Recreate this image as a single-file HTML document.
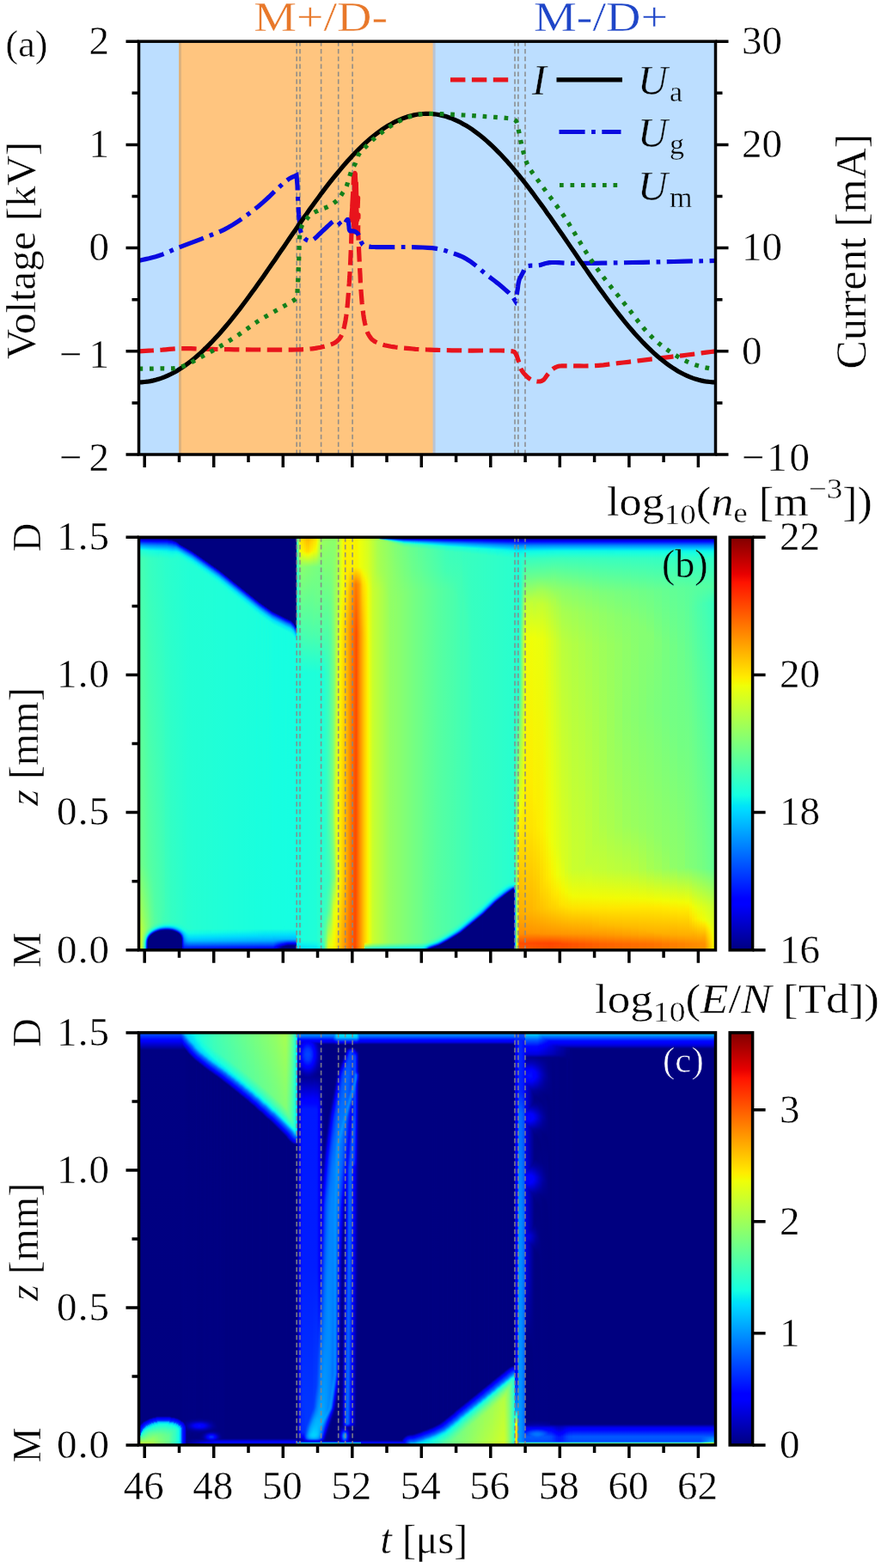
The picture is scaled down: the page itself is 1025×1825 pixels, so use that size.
<!DOCTYPE html><html><head><meta charset="utf-8"><style>html,body{margin:0;padding:0;background:#fff}#f{position:relative;width:1025px;height:1825px;overflow:hidden;background:#fff}.h{position:absolute}</style></head><body><div id="f"><div class="h" style="left:162px;top:625px;width:670px;height:481px;background:linear-gradient(#000080,#000080 2px,#0000c9 3px,#0000f4 4px,#000dff 5px,#004eff 7px,#00a4ff 10px,#00defd 13px,#19ffde 15px,#26ffd0 16px,#47ffb0 25px,#71ff86 379px,#aaff4d 439px,#d9ff1e 470px,#e8ff0f 480px) 0px 0/1px 100%,linear-gradient(#000080,#000080 2px,#0000c8 3px,#0000f3 4px,#000cff 5px,#004cff 7px,#00a2ff 10px,#00ddfe 13px,#18ffdf 15px,#25ffd2 16px,#45ffb2 25px,#6fff88 380px,#a4ff53 439px,#caff2d 465px,#d8ff1f 480px) 1px 0/1px 100%,linear-gradient(#000080,#000080 2px,#0000c7 3px,#0000f2 4px,#000bff 5px,#004bff 7px,#00a1ff 10px,#00dbff 13px,#07eef0 14px,#17ffe0 15px,#24ffd3 16px,#44ffb3 25px,#6cff8b 380px,#a0ff56 440px,#beff38 463px,#bdff39 476px,#c3ff34 480px) 2px 0/1px 100%,linear-gradient(#000080,#000080 2px,#0000c7 3px,#0000f1 4px,#000aff 5px,#004aff 7px,#00a0ff 10px,#00daff 13px,#06edf1 14px,#15ffe2 15px,#23ffd4 16px,#43ffb4 25px,#6aff8d 380px,#9bff5c 440px,#b4ff43 461px,#a2ff55 474px,#a8ff4f 480px) 3px 0/1px 100%,linear-gradient(#000080,#000080 2px,#0000c6 3px,#0000f0 4px,#0009ff 5px,#0049ff 7px,#009eff 10px,#00d8ff 13px,#05ebf2 14px,#14fee3 15px,#21ffd5 16px,#41ffb6 25px,#68ff8f 381px,#96ff60 441px,#abff4c 459px,#98ff5f 466px,#83ff74 473px,#86ff71 480px) 4px 0/1px 100%,linear-gradient(#000080,#000080 2px,#0000c5 3px,#0000ef 4px,#0008ff 5px,#0048ff 7px,#009dff 10px,#00d7ff 13px,#03eaf3 14px,#13fde4 15px,#20ffd7 16px,#40ffb7 25px,#65ff92 381px,#91ff66 441px,#a2ff55 458px,#92ff65 463px,#61ff96 471px,#5aff9c 478px,#5cff9b 480px) 5px 0/1px 100%,linear-gradient(#000080,#000080 2px,#0000c4 3px,#00e 4px,#0007ff 5px,#0047ff 7px,#009cff 10px,#00d5ff 13px,#02e8f5 14px,#11fbe5 15px,#1fffd8 16px,#3fffb8 25px,#63ff94 382px,#8bff6c 441px,#99ff5d 457px,#8bff6c 461px,#2fffc8 471px,#1fffd7 477px,#20ffd7 480px) 6px 0/1px 100%,linear-gradient(#000080,#000080 2px,#0000c3 3px,#0000ed 4px,#0006ff 5px,#0046ff 7px,#009aff 10px,#00d4ff 13px,#01e7f6 14px,#10f9e7 15px,#1effd9 16px,#3dffba 25px,#61ff96 383px,#87ff70 442px,#91ff65 456px,#7fff78 460px,#51ffa6 464px,#10fae6 468px,#01e6f6 469px,#00d6ff 470px,#00b8ff 473px,#00a9ff 479px,#00a8ff 480px) 7px 0/1px 100%,linear-gradient(#000080,#000080 2px,#0000c3 3px,#0000ec 4px,#0005ff 5px,#0045ff 7px,#09f 10px,#00d2ff 13px,#00e5f7 14px,#0ff8e8 15px,#1cffda 16px,#3cffbb 25px,#5eff98 383px,#82ff74 443px,#8aff6d 455px,#7eff79 458px,#5fff98 461px,#2bffcb 464px,#15ffe2 465px,#00e0fb 466px,#007bff 469px,#0050ff 471px,#0039ff 474px,#002eff 480px) 8px 0/1px 100%,linear-gradient(#000080,#000080 2px,#0000c2 3px,#0000eb 4px,#0004ff 5px,#04f 7px,#0097ff 10px,#00d1ff 13px,#00e4f8 14px,#0df6e9 15px,#1bffdc 16px,#3bffbc 25px,#5cff9a 384px,#7eff78 444px,#82ff75 455px,#6fff88 458px,#45ffb2 461px,#19ffde 463px,#00e1fb 464px,#0081ff 466px,#001cff 468px,#00f 469px,#0000d0 471px,#0000c0 473px,#0000b6 480px) 9px 0/1px 100%,linear-gradient(#000080,#000080 2px,#0000c1 3px,#0000ea 4px,#0003ff 5px,#0043ff 7px,#0096ff 10px,#00d0ff 13px,#00e2fa 14px,#0cf5eb 15px,#1affdd 16px,#39ffbe 25px,#5aff9d 385px,#7bff7c 446px,#7bff7b 454px,#6bff8c 457px,#3dffb9 460px,#27ffcf 461px,#0cf5eb 462px,#00c9ff 463px,#0091ff 464px,#0009ff 466px,#0000d6 467px,#0000a2 468px,#000080 469px,#000080 480px) 10px 0/1px 100%,linear-gradient(#000080,#000080 2px,#0000c0 3px,#0000ea 4px,#0002ff 5px,#0042ff 7px,#0095ff 10px,#00e1fb 14px,#19ffde 16px,#38ffbf 25px,#58ff9f 386px,#76ff81 453px,#68ff8f 456px,#3affbd 459px,#23ffd4 460px,#05ecf1 461px,#00bcff 462px,#007aff 463px,#002bff 464px,#0000e6 465px,#00009c 466px,#000080 467px,#000080 480px) 11px 0/1px 100%,linear-gradient(#000080,#000080 2px,#0000bf 3px,#0000e9 4px,#0001ff 5px,#0025ff 6px,#0093ff 10px,#00dffc 14px,#18ffdf 16px,#37ffc0 25px,#56ffa1 387px,#70ff86 452px,#64ff93 455px,#4cffab 457px,#22ffd5 459px,#04ebf2 460px,#00b9ff 461px,#0073ff 462px,#001bff 463px,#0000cb 464px,#000080 465px,#000080 480px) 12px 0/1px 100%,linear-gradient(#000080,#000080 2px,#0000bf 3px,#0000e8 4px,#0001ff 5px,#0024ff 6px,#0092ff 10px,#00defd 14px,#17ffe0 16px,#36ffc1 25px,#54ffa3 388px,#6bff8c 451px,#60ff96 454px,#4dffaa 456px,#24ffd2 458px,#08efef 459px,#00bfff 460px,#007aff 461px,#001eff 462px,#0000c6 463px,#000080 464px,#000080 480px) 13px 0/1px 100%,linear-gradient(#000080,#000080 2px,#0000be 3px,#0000e7 4px,#00f 5px,#0024ff 6px,#0092ff 10px,#00ddfe 14px,#16ffe1 16px,#35ffc2 25px,#53ffa4 391px,#65ff92 451px,#57ff9f 454px,#3fffb8 456px,#0ff9e7 458px,#00cdff 459px,#008cff 460px,#0032ff 461px,#0000d5 462px,#000080 463px,#000080 480px) 14px 0/1px 100%,linear-gradient(#000080,#000080 2px,#0000be 3px,#0000e7 4px,#00f 5px,#003eff 7px,#0091ff 10px,#00dcfe 14px,#15ffe1 16px,#34ffc2 25px,#52ffa5 395px,#62ff95 450px,#57ffa0 453px,#42ffb4 455px,#1affdd 457px,#00defd 458px,#00a5ff 459px,#0052ff 460px,#0000f6 461px,#00008a 462px,#000080 463px,#000080 480px) 15px 0/1px 100%,linear-gradient(#000080,#000080 2px,#0000bd 3px,#0000e6 4px,#00f 5px,#003eff 7px,#0090ff 10px,#00dcff 14px,#15ffe2 16px,#34ffc3 25px,#51ffa6 402px,#5dff9a 450px,#50ffa7 453px,#37ffc0 455px,#24ffd3 456px,#08efef 457px,#00bfff 458px,#07f 459px,#0013ff 460px,#0000ad 461px,#000080 462px,#000080 480px) 16px 0/1px 100%,linear-gradient(#000080,#000080 2px,#0000bc 3px,#0000e5 4px,#00f 5px,#003dff 7px,#008fff 10px,#00dbff 14px,#06edf1 15px,#14ffe2 16px,#33ffc4 25px,#51ffa6 416px,#58ff9e 450px,#48ffaf 453px,#2bffcb 455px,#15ffe2 456px,#00d8ff 457px,#009cff 458px,#04f 459px,#0000e1 460px,#000080 461px,#000080 480px) 17px 0/1px 100%,linear-gradient(#000080,#000080 2px,#0000bc 3px,#0000e5 4px,#00f 5px,#003dff 7px,#008fff 10px,#00daff 14px,#05ecf1 15px,#14fee3 16px,#33ffc4 25px,#51ffa6 429px,#54ffa3 450px,#41ffb6 453px,#20ffd7 455px,#06edf0 456px,#00beff 457px,#0075ff 458px,#000eff 459px,#0000a5 460px,#000080 461px,#000080 480px) 18px 0/1px 100%,linear-gradient(#000080,#000080 2px,#00b 3px,#0000e4 4px,#00f 5px,#0057ff 8px,#008eff 10px,#00d9ff 14px,#05ebf2 15px,#13fde4 16px,#32ffc5 25px,#4fffa7 429px,#54ffa3 449px,#45ffb2 452px,#2affcc 454px,#15ffe2 455px,#00dbff 456px,#00a2ff 457px,#004aff 458px,#0000e5 459px,#000080 460px,#000080 480px) 19px 0/1px 100%,linear-gradient(#000080,#000080 2px,#00b 3px,#0000e4 4px,#00f 5px,#008dff 10px,#00d8ff 14px,#04ebf3 15px,#13fde4 16px,#31ffc5 25px,#4effa9 430px,#51ffa6 449px,#40ffb7 452px,#22ffd5 454px,#0af1ed 455px,#00c7ff 456px,#0083ff 457px,#001eff 458px,#0000b2 459px,#000080 460px,#000080 480px) 20px 0/1px 100%,linear-gradient(#000080,#000080 2px,#0000ba 3px,#0000e3 4px,#00f 5px,#008cff 10px,#00d8ff 14px,#03eaf3 15px,#12fce5 16px,#31ffc6 25px,#4dffaa 430px,#4effa9 449px,#3affbc 452px,#19ffde 454px,#00e3f8 455px,#00b3ff 456px,#0063ff 457px,#00f 458px,#008 459px,#000080 460px,#000080 480px) 21px 0/1px 100%,linear-gradient(#000080,#000080 2px,#0000b9 3px,#0000e2 4px,#00f 5px,#008cff 10px,#00d7ff 14px,#03e9f4 15px,#11fbe5 16px,#30ffc7 25px,#4cffab 431px,#4bffac 449px,#35ffc2 452px,#11fae6 454px,#00d6ff 455px,#009dff 456px,#0041ff 457px,#0000d6 458px,#000080 459px,#000080 480px) 22px 0/1px 100%,linear-gradient(#000080,#000080 2px,#0000b8 3px,#0000e2 4px,#00f 5px,#008bff 10px,#00d6ff 14px,#02e8f5 15px,#11fae6 16px,#28ffcf 22px,#30ffc7 26px,#4affad 431px,#4bffac 448px,#3cffbb 451px,#1fffd7 453px,#08f0ee 454px,#00c8ff 455px,#0087ff 456px,#0021ff 457px,#0000b1 458px,#000080 459px,#000080 480px) 23px 0/1px 100%,linear-gradient(#000080,#000080 2px,#0000b6 3px,#0000e1 4px,#00f 5px,#008aff 10px,#00d5ff 14px,#02e7f5 15px,#10f9e7 16px,#20ffd7 20px,#2fffc8 25px,#49ffae 431px,#49ffae 448px,#38ffbf 451px,#19ffde 453px,#01e6f6 454px,#00baff 455px,#0072ff 456px,#0004ff 457px,#000094 458px,#000080 459px,#000080 480px) 24px 0/1px 100%,linear-gradient(#000080,#000080 2px,#0000b5 3px,#0000e0 4px,#00f 5px,#008aff 10px,#00d5ff 14px,#01e7f6 15px,#0ff9e7 16px,#23ffd4 21px,#2effc8 25px,#48ffaf 432px,#46ffb1 448px,#34ffc3 451px,#14fee3 453px,#00defd 454px,#00aeff 455px,#005fff 456px,#0000fa 457px,#000080 458px,#000080 480px) 25px 0/1px 100%,linear-gradient(#000080,#000080 2px,#0000b4 3px,#0000e0 4px,#00f 5px,#0089ff 10px,#00d4ff 14px,#00e6f7 15px,#0ff8e8 16px,#1effd8 20px,#2effc9 25px,#46ffb0 432px,#44ffb3 448px,#30ffc7 451px,#0ff8e8 453px,#00d6ff 454px,#00a3ff 455px,#004fff 456px,#0000e6 457px,#000080 458px,#000080 480px) 26px 0/1px 100%,linear-gradient(#000080,#000080 2px,#0000df 4px,#00f 5px,#08f 10px,#00d3ff 14px,#00e5f7 15px,#0ef7e9 16px,#1affdd 19px,#2dffc9 25px,#45ffb2 432px,#41ffb5 448px,#2dffca 451px,#1effd9 452px,#0af2ed 453px,#00cfff 454px,#009aff 455px,#0043ff 456px,#0000d8 457px,#000080 458px,#000080 480px) 27px 0/1px 100%,linear-gradient(#000080,#000080 2px,#0000df 4px,#00f 5px,#0087ff 10px,#00d2ff 14px,#00e4f8 15px,#0df6e9 16px,#19ffdd 19px,#2dffca 25px,#44ffb3 433px,#3fffb7 448px,#2affcd 451px,#1bffdc 452px,#06eef0 453px,#00caff 454px,#0093ff 455px,#0038ff 456px,#00c 457px,#000080 458px,#000080 480px) 28px 0/1px 100%,linear-gradient(#000080,#000080 2px,#0000de 4px,#00f 5px,#0087ff 10px,#00d2ff 14px,#00e3f8 15px,#0df5ea 16px,#19ffde 19px,#2cffcb 25px,#42ffb4 433px,#3effb9 448px,#28ffcf 451px,#19ffde 452px,#04eaf3 453px,#00c6ff 454px,#008dff 455px,#0030ff 456px,#0000c2 457px,#000080 458px,#000080 480px) 29px 0/1px 100%,linear-gradient(#000080,#000080 2px,#00d 4px,#00f 5px,#0086ff 10px,#00d0ff 14px,#00e2f9 15px,#0cf4eb 16px,#18ffdf 19px,#2bffcc 25px,#3effb9 447px,#31ffc6 450px,#16ffe0 452px,#01e7f6 453px,#00c2ff 454px,#08f 455px,#0029ff 456px,#0000ba 457px,#000080 458px,#000080 480px) 30px 0/2px 100%,linear-gradient(#000080,#000080 2px,#0000a4 3px,#0000d9 4px,#00f 5px,#0068ff 9px,#09f 11px,#00e0fb 15px,#0af2ed 16px,#17ffe0 19px,#2affcc 25px,#3cffbb 447px,#2fffc8 450px,#15ffe2 452px,#00e5f7 453px,#00c1ff 454px,#0087ff 455px,#0028ff 456px,#0000b9 457px,#000080 458px,#000080 480px) 32px 0/1px 100%,linear-gradient(#000080,#000080 2px,#000093 3px,#0000d3 4px,#0000fb 5px,#01f 6px,#0096ff 11px,#00ddfe 15px,#07eef0 16px,#16ffe1 19px,#2affcd 25px,#3bffbc 447px,#2effc9 450px,#14ffe2 452px,#00e5f7 453px,#00c1ff 454px,#08f 455px,#002aff 456px,#0000bc 457px,#000080 458px,#000080 480px) 33px 0/1px 100%,linear-gradient(#000080,#000082 3px,#0000cd 4px,#0000f5 5px,#000bff 6px,#0093ff 11px,#00daff 15px,#0ef6e9 17px,#19ffde 20px,#2affcd 26px,#3affbd 447px,#2dffca 450px,#14ffe2 452px,#00e6f7 453px,#00c3ff 454px,#008bff 455px,#002fff 456px,#0000c2 457px,#000080 458px,#000080 480px) 34px 0/1px 100%,linear-gradient(#000080,#000080 3px,#0000c7 4px,#0000ef 5px,#0006ff 6px,#0076ff 10px,#0090ff 11px,#00d7ff 15px,#02e8f4 16px,#0df5ea 17px,#18ffdf 20px,#29ffce 26px,#38ffbe 447px,#2cffca 450px,#15ffe2 452px,#01e7f5 453px,#00c6ff 454px,#0091ff 455px,#0039ff 456px,#0000ce 457px,#000080 458px,#000080 480px) 35px 0/1px 100%,linear-gradient(#000080,#000080 3px,#0000c1 4px,#0000e9 5px,#00f 6px,#003cff 8px,#008cff 11px,#00d4ff 15px,#00e5f7 16px,#0cf4eb 17px,#1bffdc 21px,#29ffce 26px,#35ffc1 448px,#23ffd4 451px,#16ffe1 452px,#03e9f4 453px,#00c9ff 454px,#09f 455px,#0047ff 456px,#0000e1 457px,#000080 458px,#000080 480px) 36px 0/1px 100%,linear-gradient(#000080,#000080 3px,#00b 4px,#0000e3 5px,#00f 6px,#08f 11px,#00d1ff 15px,#00e2f9 16px,#0bf3ec 17px,#1affdd 21px,#28ffce 26px,#34ffc2 448px,#23ffd4 451px,#17ffe0 452px,#05ecf2 453px,#00ceff 454px,#00a2ff 455px,#0057ff 456px,#0000f8 457px,#000080 458px,#000080 480px) 37px 0/1px 100%,linear-gradient(#000080,#000080 3px,#0000a2 4px,#0000d9 5px,#00f 6px,#0084ff 11px,#00e1fa 16px,#0af2ec 17px,#1affdd 21px,#28ffcf 26px,#34ffc3 448px,#24ffd3 451px,#18ffdf 452px,#08efef 453px,#00d4ff 454px,#00abff 455px,#0068ff 456px,#0001ff 457px,#000094 458px,#000080 459px,#000080 480px) 38px 0/1px 100%,linear-gradient(#000080,#000080 4px,#0000ca 5px,#0000f4 6px,#000cff 7px,#0080ff 11px,#00e1fa 16px,#0af2ec 17px,#1affdd 21px,#28ffcf 26px,#33ffc4 448px,#25ffd2 451px,#1affdd 452px,#0bf3ec 453px,#00daff 454px,#00b6ff 455px,#007aff 456px,#001bff 457px,#0000b0 458px,#000080 459px,#000080 480px) 39px 0/1px 100%,linear-gradient(#000080,#000080 4px,#00b 5px,#0000e7 6px,#0001ff 7px,#0041ff 9px,#0094ff 12px,#00e1fa 16px,#0af2ec 17px,#1bffdc 21px,#27ffcf 25px,#33ffc4 448px,#26ffd1 451px,#0ff7e8 453px,#00e0fb 454px,#00c0ff 455px,#008dff 456px,#0039ff 457px,#0000d5 458px,#000080 459px,#000080 480px) 40px 0/1px 100%,linear-gradient(#000080,#000080 4px,#000093 5px,#0000d8 6px,#00f 7px,#0092ff 12px,#00e2fa 16px,#0af2ec 17px,#17ffe0 20px,#27ffd0 25px,#32ffc4 448px,#27ffd0 451px,#12fce5 453px,#01e7f6 454px,#00caff 455px,#00a0ff 456px,#0059ff 457px,#00f 458px,#00008d 459px,#000080 460px,#000080 480px) 41px 0/1px 100%,linear-gradient(#000080,#000080 5px,#0000c8 6px,#0000f6 7px,#0012ff 8px,#008fff 12px,#00cdff 15px,#00e2f9 16px,#0af2ec 17px,#17ffdf 20px,#27ffd0 25px,#32ffc5 448px,#20ffd6 452px,#16ffe1 453px,#07eef0 454px,#00d5ff 455px,#00b1ff 456px,#07f 457px,#001dff 458px,#0000ba 459px,#000080 460px,#000080 480px) 42px 0/1px 100%,linear-gradient(#000080,#000080 5px,#009 6px,#00d 7px,#00f 8px,#0086ff 12px,#00defc 16px,#09f1ed 17px,#17ffe0 20px,#26ffd0 24px,#30ffc7 449px,#22ffd4 452px,#19ffde 453px,#0cf4eb 454px,#00defd 455px,#00c1ff 456px,#0092ff 457px,#0047ff 458px,#00e 459px,#000082 460px,#000080 480px) 43px 0/1px 100%,linear-gradient(#000080,#000080 6px,#0000eb 8px,#000cff 9px,#0093ff 13px,#00d6ff 16px,#06ecf1 17px,#16ffe1 20px,#26ffd1 24px,#30ffc7 449px,#1cffdb 453px,#11fbe6 454px,#02e8f5 455px,#00ceff 456px,#00a9ff 457px,#006eff 458px,#0015ff 459px,#0000b5 460px,#000080 461px,#000080 480px) 44px 0/1px 100%,linear-gradient(#000080,#000080 7px,#0000c5 8px,#0000fa 9px,#001aff 10px,#0084ff 13px,#00cdff 16px,#00e4f8 17px,#0bf3ec 18px,#19ffdd 21px,#26ffd1 25px,#2fffc8 449px,#1fffd8 453px,#16ffe1 454px,#00dbff 456px,#00bcff 457px,#008fff 458px,#0048ff 459px,#0000f7 460px,#000090 461px,#000080 462px,#000080 480px) 45px 0/1px 100%,linear-gradient(#000080,#000080 8px,#0000d3 9px,#00f 10px,#0092ff 14px,#00dbff 17px,#09f0ee 18px,#18ffdf 21px,#25ffd1 25px,#2fffc8 449px,#22ffd5 453px,#0ff8e8 455px,#01e6f6 456px,#00cdff 457px,#00abff 458px,#0076ff 459px,#002aff 460px,#0000da 461px,#000082 462px,#000080 480px) 46px 0/1px 100%,linear-gradient(#000080,#000080 8px,#00008d 9px,#0000e1 10px,#0008ff 11px,#007dff 14px,#00cdff 17px,#00e6f6 18px,#10fae7 20px,#20ffd7 23px,#25ffd2 28px,#2dffca 450px,#1dffd9 454px,#15ffe2 455px,#00dcff 457px,#00c1ff 458px,#009cff 459px,#06f 460px,#001dff 461px,#0000d6 462px,#00008a 463px,#000080 464px,#000080 480px) 47px 0/1px 100%,linear-gradient(#000080,#000080 9px,#0000c1 10px,#0000f9 11px,#001cff 12px,#008cff 15px,#00d7ff 18px,#08efef 19px,#17ffdf 22px,#25ffd2 26px,#2dffca 450px,#21ffd6 454px,#10fae6 456px,#02e8f4 457px,#00d3ff 458px,#00b8ff 459px,#0094ff 460px,#0063ff 461px,#0023ff 462px,#0000ec 463px,#00a 464px,#000080 465px,#000080 480px) 48px 0/1px 100%,linear-gradient(#000080,#000080 10px,#0000d9 11px,#0001ff 12px,#0078ff 15px,#00b0ff 17px,#00e2fa 19px,#0af1ed 20px,#19ffdd 23px,#24ffd3 26px,#2dffca 450px,#1effd9 455px,#17ffe0 456px,#00e2fa 458px,#00b5ff 460px,#0095ff 461px,#006dff 462px,#0008ff 464px,#0000e6 465px,#0000c1 466px,#00a 467px,#00009a 469px,#00008c 480px) 49px 0/1px 100%,linear-gradient(#000080,#000080 10px,#0000f2 12px,#0017ff 13px,#08f 16px,#00d3ff 19px,#06ecf1 20px,#16ffe1 23px,#24ffd3 27px,#2bffcb 451px,#1cffdb 456px,#13fde4 457px,#00ddfd 459px,#009dff 462px,#0021ff 466px,#000eff 467px,#0002ff 468px,#0000f8 473px,#0000e2 479px,#0000d9 480px) 50px 0/1px 100%,linear-gradient(#000080,#000080 11px,#0000d2 12px,#00f 13px,#0093ff 17px,#00defd 20px,#08f0ee 21px,#18ffdf 24px,#24ffd3 27px,#2affcc 452px,#20ffd7 456px,#0ff8e8 458px,#00dcff 460px,#0060ff 467px,#000aff 478px,#00f 480px) 51px 0/1px 100%,linear-gradient(#000080,#000080 11px,#00a 12px,#0000ea 13px,#0010ff 14px,#0082ff 17px,#00d0ff 20px,#02e8f4 21px,#15ffe2 24px,#23ffd4 28px,#2affcc 452px,#1dffda 457px,#15ffe2 458px,#02e8f4 460px,#00dcff 461px,#0084ff 468px,#005fff 472px,#001cff 478px,#000bff 480px) 52px 0/1px 100%,linear-gradient(#000080,#000080 12px,#0000ca 13px,#00f 14px,#008fff 18px,#00daff 21px,#07eef0 22px,#17ffe0 25px,#23ffd4 28px,#29ffcd 453px,#20ffd7 457px,#12fce5 459px,#02e8f5 461px,#00d3ff 463px,#0095ff 469px,#0074ff 472px,#0021ff 478px,#000eff 480px) 53px 0/1px 100%,linear-gradient(#000080,#000080 12px,#000095 13px,#0000e3 14px,#0009ff 15px,#007dff 18px,#0cf 21px,#00e5f8 22px,#13fee3 25px,#23ffd4 29px,#28ffce 454px,#1cffdb 458px,#10f9e7 460px,#00dffc 463px,#0091ff 471px,#002eff 477px,#000eff 480px) 54px 0/1px 100%,linear-gradient(#000080,#000080 13px,#0000c3 14px,#0000fb 15px,#001dff 16px,#008cff 19px,#00d6ff 22px,#06edf1 23px,#15ffe1 26px,#22ffd5 30px,#28ffcf 455px,#13fde3 460px,#00e1fb 464px,#0af 470px,#0043ff 476px,#0023ff 478px,#000eff 480px) 55px 0/1px 100%,linear-gradient(#000080,#000080 14px,#0000db 15px,#0002ff 16px,#0078ff 19px,#00c8ff 22px,#00e1fb 23px,#0df5ea 25px,#1cffda 28px,#22ffd5 32px,#27ffd0 456px,#11fae6 461px,#00defc 465px,#00b2ff 470px,#005aff 475px,#0031ff 477px,#000dff 480px) 56px 0/1px 100%,linear-gradient(#000080,#000080 14px,#0000f3 16px,#0018ff 17px,#08f 20px,#00d2ff 23px,#04ebf2 24px,#14fee3 27px,#22ffd5 31px,#27ffd0 456px,#12fce5 461px,#00daff 466px,#00b7ff 470px,#005cff 475px,#0031ff 477px,#000dff 480px) 57px 0/1px 100%,linear-gradient(#000080,#000080 15px,#0000d4 16px,#00f 17px,#0072ff 20px,#00abff 22px,#00ddfe 24px,#07eef0 25px,#16ffe1 28px,#21ffd5 31px,#27ffd0 456px,#13fde4 461px,#00ddfe 466px,#00baff 470px,#005eff 475px,#0032ff 477px,#000dff 480px) 58px 0/1px 100%,linear-gradient(#000080,#000080 15px,#0000b1 16px,#0000ec 17px,#01f 18px,#0083ff 21px,#00cfff 24px,#02e8f5 25px,#13fde4 28px,#21ffd6 32px,#26ffd0 456px,#13fee3 461px,#00defd 466px,#00bcff 470px,#005eff 475px,#0032ff 477px,#000dff 480px) 59px 0/1px 100%,linear-gradient(#000080,#000080 16px,#0000cd 17px,#00f 18px,#008fff 22px,#00d9ff 25px,#06edf1 26px,#15ffe1 29px,#21ffd6 32px,#26ffd1 456px,#13fde3 461px,#00dffc 466px,#00bdff 470px,#005fff 475px,#0032ff 477px,#000cff 480px) 60px 0/1px 100%,linear-gradient(#000080,#000080 16px,#00009b 17px,#0000e4 18px,#000aff 19px,#007dff 22px,#00cbff 25px,#00e4f8 26px,#12fce5 29px,#21ffd6 33px,#26ffd1 456px,#13fde4 461px,#00dffc 466px,#00bdff 470px,#005eff 475px,#0031ff 477px,#000cff 480px) 61px 0/1px 100%,linear-gradient(#000080,#000080 17px,#0000f5 19px,#0019ff 20px,#08f 23px,#00d2ff 26px,#04ebf3 27px,#14fee3 30px,#21ffd6 34px,#25ffd2 456px,#13fde4 461px,#00dffc 466px,#00bdff 470px,#005eff 475px,#0031ff 477px,#000cff 480px) 62px 0/1px 100%,linear-gradient(#000080,#000080 18px,#0000ce 19px,#00f 20px,#0090ff 24px,#00daff 27px,#06edf1 28px,#15ffe2 31px,#21ffd6 34px,#25ffd2 456px,#13fde4 461px,#00defd 466px,#00bdff 470px,#005eff 475px,#0031ff 477px,#000cff 480px) 63px 0/1px 100%,linear-gradient(#000080,#000080 18px,#00008b 19px,#0000df 20px,#0005ff 21px,#007aff 24px,#00e1fa 28px,#0cf5ea 30px,#1cffdb 33px,#21ffd6 38px,#25ffd2 456px,#12fce4 461px,#00defd 466px,#00bcff 470px,#005eff 475px,#0031ff 477px,#000cff 480px) 64px 0/1px 100%,linear-gradient(#000080,#000080 19px,#0000ef 21px,#0014ff 22px,#0085ff 25px,#00d0ff 28px,#03e9f4 29px,#18ffdf 33px,#21ffd6 36px,#25ffd2 456px,#12fce4 461px,#00defd 466px,#00bcff 470px,#005eff 475px,#0030ff 477px,#000bff 480px) 65px 0/1px 100%,linear-gradient(#000080,#000080 20px,#0000c8 21px,#00f 22px,#008dff 26px,#00d7ff 29px,#05ecf2 30px,#15ffe2 33px,#21ffd6 36px,#24ffd2 456px,#12fce5 461px,#00defd 466px,#00bcff 470px,#005dff 475px,#0030ff 477px,#000bff 480px) 66px 0/1px 100%,linear-gradient(#000080,#000080 21px,#0000d9 22px,#0001ff 23px,#0076ff 26px,#00c6ff 29px,#00dffc 30px,#06eef0 31px,#16ffe1 34px,#21ffd6 37px,#24ffd2 456px,#12fce5 461px,#00defd 466px,#00bcff 470px,#005dff 475px,#0030ff 477px,#000bff 480px) 67px 0/1px 100%,linear-gradient(#000080,#000080 21px,#0000ac 22px,#0000ea 23px,#000fff 24px,#0081ff 27px,#00cdff 30px,#00e6f6 31px,#18ffdf 35px,#21ffd6 38px,#24ffd3 456px,#12fce5 461px,#00ddfd 466px,#00bcff 470px,#005dff 475px,#0030ff 477px,#000bff 480px) 68px 0/1px 100%,linear-gradient(#000080,#000080 22px,#0000c3 23px,#0000fb 24px,#001cff 25px,#008bff 28px,#00d5ff 31px,#04ebf2 32px,#14fee3 35px,#21ffd6 39px,#24ffd3 456px,#12fbe5 461px,#00ddfe 466px,#0bf 470px,#005dff 475px,#0030ff 477px,#000aff 480px) 69px 0/1px 100%,linear-gradient(#000080,#000080 23px,#0000d4 24px,#00f 25px,#0072ff 28px,#00abff 30px,#00dcfe 32px,#06edf1 33px,#15ffe1 36px,#21ffd6 39px,#24ffd3 456px,#11fbe5 461px,#00ddfe 466px,#0bf 470px,#005dff 475px,#002fff 477px,#000aff 480px) 70px 0/1px 100%,linear-gradient(#000080,#000080 23px,#00009c 24px,#0000e5 25px,#000bff 26px,#007dff 29px,#00cbff 32px,#00e3f8 33px,#12fbe5 36px,#20ffd6 40px,#24ffd3 456px,#11fbe5 461px,#00ddfe 466px,#0bf 470px,#005cff 475px,#002fff 477px,#000aff 480px) 71px 0/1px 100%,linear-gradient(#000080,#000080 24px,#0000f5 26px,#0019ff 27px,#08f 30px,#00d2ff 33px,#04eaf3 34px,#18ffde 38px,#20ffd6 41px,#23ffd3 456px,#11fbe6 461px,#00dcfe 466px,#0bf 470px,#005cff 475px,#002fff 477px,#000aff 480px) 72px 0/1px 100%,linear-gradient(#000080,#000080 25px,#0000ce 26px,#00f 27px,#008fff 31px,#00d9ff 34px,#05ecf2 35px,#15ffe2 38px,#20ffd6 41px,#23ffd3 456px,#11fbe6 461px,#00dcfe 466px,#0bf 470px,#005cff 475px,#002fff 477px,#0009ff 480px) 73px 0/1px 100%,linear-gradient(#000080,#000080 25px,#00008d 26px,#0000df 27px,#0006ff 28px,#0079ff 31px,#00e1fb 35px,#0cf4eb 37px,#1bffdb 40px,#20ffd6 45px,#23ffd4 456px,#11fae6 461px,#00dcfe 466px,#00baff 470px,#005cff 475px,#002eff 477px,#0009ff 480px) 74px 0/1px 100%,linear-gradient(#000080,#000080 26px,#0000f0 28px,#0014ff 29px,#0085ff 32px,#00d0ff 35px,#02e8f5 36px,#18ffdf 40px,#20ffd7 43px,#23ffd4 456px,#11fae6 461px,#00dcff 466px,#00baff 470px,#005bff 475px,#002eff 477px,#0009ff 480px) 75px 0/1px 100%,linear-gradient(#000080,#000080 27px,#0000c9 28px,#00f 29px,#008dff 33px,#00d7ff 36px,#04ebf2 37px,#14fee3 40px,#20ffd7 43px,#23ffd4 456px,#10fae6 461px,#00dcff 466px,#00baff 470px,#005bff 475px,#002eff 477px,#0009ff 480px) 76px 0/1px 100%,linear-gradient(#000080,#000080 28px,#0000da 29px,#0001ff 30px,#0076ff 33px,#00c6ff 36px,#00defd 37px,#06edf1 38px,#15ffe1 41px,#20ffd7 44px,#23ffd4 456px,#10fae7 461px,#00dbff 466px,#00baff 470px,#005bff 475px,#002eff 477px,#0009ff 480px) 77px 0/1px 100%,linear-gradient(#000080,#000080 28px,#0000ae 29px,#0000ea 30px,#0010ff 31px,#0081ff 34px,#00cdff 37px,#00e6f7 38px,#17ffe0 42px,#20ffd7 45px,#22ffd4 456px,#10f9e7 461px,#00dbff 466px,#00b9ff 470px,#005bff 475px,#002eff 477px,#0008ff 480px) 78px 0/1px 100%,linear-gradient(#000080,#000080 29px,#0000c3 30px,#0000fb 31px,#001dff 32px,#008aff 35px,#00d4ff 38px,#04eaf3 39px,#18ffde 43px,#20ffd7 47px,#22ffd4 456px,#10f9e7 461px,#00dbff 466px,#00b9ff 470px,#005bff 475px,#002dff 477px,#0008ff 480px) 79px 0/1px 100%,linear-gradient(#000080,#000080 30px,#0000d4 31px,#00f 32px,#0072ff 35px,#0af 37px,#00dcff 39px,#05ecf2 40px,#15ffe2 43px,#20ffd7 46px,#22ffd5 456px,#10f9e7 461px,#00dbff 466px,#00b9ff 470px,#005aff 475px,#002dff 477px,#0008ff 480px) 80px 0/1px 100%,linear-gradient(#000080,#000080 30px,#00009e 31px,#0000e5 32px,#000bff 33px,#007dff 36px,#00caff 39px,#00e3f9 40px,#16ffe1 44px,#20ffd7 47px,#22ffd5 456px,#10f9e7 461px,#00dbff 466px,#00b9ff 470px,#005aff 475px,#002dff 477px,#0008ff 480px) 81px 0/1px 100%,linear-gradient(#000080,#000080 31px,#0000f6 33px,#0019ff 34px,#08f 37px,#00d2ff 40px,#03e9f4 41px,#18ffdf 45px,#20ffd7 49px,#22ffd5 456px,#0ff9e7 461px,#00daff 466px,#00b9ff 470px,#005aff 475px,#002dff 477px,#0007ff 480px) 82px 0/1px 100%,linear-gradient(#000080,#000080 32px,#0000cf 33px,#00f 34px,#008fff 38px,#00d9ff 41px,#05ebf2 42px,#14fee3 45px,#20ffd7 48px,#22ffd5 456px,#0ff8e8 461px,#00daff 466px,#00b8ff 470px,#005aff 475px,#002cff 477px,#0007ff 480px) 83px 0/1px 100%,linear-gradient(#000080,#000080 32px,#00008f 33px,#0000e0 34px,#0006ff 35px,#0079ff 38px,#00e0fb 42px,#0bf3ec 44px,#1bffdc 47px,#20ffd7 52px,#22ffd5 456px,#13fde4 460px,#00e2f9 465px,#00c9ff 468px,#00b8ff 470px,#0059ff 475px,#002cff 477px,#0007ff 480px) 84px 0/1px 100%,linear-gradient(#000080,#000080 33px,#0000f0 35px,#0015ff 36px,#0085ff 39px,#00cfff 42px,#02e8f5 43px,#17ffe0 47px,#20ffd7 50px,#21ffd5 456px,#13fde4 460px,#00e2f9 465px,#00c9ff 468px,#00b8ff 470px,#0059ff 475px,#002cff 477px,#0007ff 480px) 85px 0/1px 100%,linear-gradient(#000080,#000080 34px,#0000c9 35px,#00f 36px,#008dff 40px,#00d6ff 43px,#04eaf3 44px,#19ffde 48px,#1fffd7 52px,#21ffd6 456px,#13fde4 460px,#00e2fa 465px,#00c9ff 468px,#00b8ff 470px,#0059ff 475px,#002cff 477px,#0007ff 480px) 86px 0/1px 100%,linear-gradient(#000080,#000080 35px,#0000da 36px,#0001ff 37px,#0076ff 40px,#00c5ff 43px,#00defd 44px,#0bf3ec 46px,#15ffe2 48px,#1fffd7 51px,#21ffd6 456px,#13fce4 460px,#00e2fa 465px,#00c0ff 469px,#00a8ff 471px,#0042ff 476px,#001dff 478px,#0006ff 480px) 87px 0/1px 100%,linear-gradient(#000080,#000080 35px,#0000b0 36px,#0000eb 37px,#0010ff 38px,#0081ff 41px,#00cdff 44px,#00e5f7 45px,#16ffe0 49px,#1fffd7 52px,#21ffd6 456px,#12fce4 460px,#00e2fa 465px,#00c0ff 469px,#00a7ff 471px,#0042ff 476px,#001dff 478px,#0006ff 480px) 88px 0/1px 100%,linear-gradient(#000080,#000080 36px,#0000c4 37px,#0000fc 38px,#001dff 39px,#008aff 42px,#00d4ff 45px,#03e9f4 46px,#18ffdf 50px,#1fffd8 54px,#21ffd6 456px,#12fce5 460px,#00e1fa 465px,#00b7ff 470px,#0058ff 475px,#002bff 477px,#0006ff 480px) 89px 0/1px 100%,linear-gradient(#000080,#000080 37px,#0000d5 38px,#00f 39px,#0072ff 42px,#0af 44px,#00dbff 46px,#05ebf2 47px,#14fee3 50px,#1fffd8 53px,#21ffd6 456px,#12fce5 460px,#00e1fa 465px,#00b7ff 470px,#0058ff 475px,#002bff 477px,#0006ff 480px) 90px 0/1px 100%,linear-gradient(#000080,#000080 37px,#0000a0 38px,#0000e5 39px,#000bff 40px,#007dff 43px,#00caff 46px,#00e3f9 47px,#16ffe1 51px,#1fffd8 54px,#20ffd6 456px,#12fce5 460px,#00e1fb 465px,#00b7ff 470px,#0058ff 475px,#002bff 477px,#0005ff 480px) 91px 0/1px 100%,linear-gradient(#000080,#000080 38px,#0000f6 40px,#0019ff 41px,#0087ff 44px,#00d1ff 47px,#03e9f4 48px,#17ffe0 52px,#1fffd8 56px,#20ffd7 456px,#12fbe5 460px,#00e1fb 465px,#00b6ff 470px,#0058ff 475px,#002aff 477px,#0005ff 480px) 92px 0/1px 100%,linear-gradient(#000080,#000080 39px,#0000ca 40px,#00f 41px,#008cff 45px,#00d6ff 48px,#04eaf3 49px,#18ffdf 53px,#1fffd8 57px,#20ffd7 456px,#12fbe5 460px,#00e0fb 465px,#00b6ff 470px,#0057ff 475px,#002aff 477px,#0005ff 480px) 93px 0/1px 100%,linear-gradient(#000080,#000080 40px,#0000d5 41px,#00f 42px,#0072ff 45px,#0af 47px,#00dbff 49px,#04ebf2 50px,#14fee3 53px,#1fffd8 56px,#20ffd7 456px,#11fbe5 460px,#00e0fb 465px,#00b6ff 470px,#0057ff 475px,#002aff 477px,#0005ff 480px) 94px 0/1px 100%,linear-gradient(#000080,#000080 40px,#000091 41px,#0000e0 42px,#0006ff 43px,#0079ff 46px,#00e0fb 50px,#10f9e7 53px,#1fffd8 56px,#20ffd7 456px,#11fbe6 460px,#00e0fb 465px,#00b6ff 470px,#0057ff 475px,#002aff 477px,#0005ff 480px) 95px 0/1px 100%,linear-gradient(#000080,#000080 41px,#0000b1 42px,#0000eb 43px,#0010ff 44px,#0081ff 47px,#0cf 50px,#00e5f7 51px,#16ffe1 55px,#1fffd8 58px,#20ffd7 456px,#11fbe6 460px,#00e0fb 465px,#00b6ff 470px,#0057ff 475px,#002aff 477px,#0004ff 480px) 96px 0/1px 100%,linear-gradient(#000080,#000080 42px,#0000f6 44px,#0019ff 45px,#0087ff 48px,#00d1ff 51px,#02e8f5 52px,#17ffe0 56px,#1fffd8 60px,#1fffd7 456px,#11fae6 460px,#00e0fc 465px,#00b5ff 470px,#0057ff 475px,#0029ff 477px,#0004ff 480px) 97px 0/1px 100%,linear-gradient(#000080,#000080 43px,#0000ca 44px,#00f 45px,#008cff 49px,#00d6ff 52px,#03e9f4 53px,#18ffdf 57px,#1fffd8 61px,#1fffd8 456px,#11fae6 460px,#00dffc 465px,#00b5ff 470px,#0056ff 475px,#0029ff 477px,#0004ff 480px) 98px 0/1px 100%,linear-gradient(#000080,#000080 44px,#0000d5 45px,#00f 46px,#0072ff 49px,#00a9ff 51px,#00dbff 53px,#04ebf3 54px,#19ffde 58px,#1fffd8 63px,#1fffd8 456px,#11fae6 460px,#00dffc 465px,#00b5ff 470px,#0056ff 475px,#0029ff 477px,#0004ff 480px) 99px 0/1px 100%,linear-gradient(#000080,#000080 44px,#000090 45px,#0000e0 46px,#0006ff 47px,#0079ff 50px,#00dffc 54px,#0af2ed 56px,#14ffe2 58px,#1effd8 61px,#1fffd8 456px,#10fae6 460px,#00dffc 465px,#00b5ff 470px,#0056ff 475px,#0029ff 477px,#0003ff 480px) 100px 0/1px 100%,linear-gradient(#000080,#000080 45px,#0000b0 46px,#0000eb 47px,#0010ff 48px,#0080ff 51px,#0cf 54px,#00e4f8 55px,#15ffe1 59px,#1effd8 62px,#1fffd8 456px,#10fae7 460px,#00dffc 465px,#00b4ff 470px,#0056ff 475px,#0028ff 477px,#0003ff 480px) 101px 0/1px 100%,linear-gradient(#000080,#000080 46px,#0000f6 48px,#0018ff 49px,#0087ff 52px,#00d0ff 55px,#02e8f5 56px,#16ffe0 60px,#1effd8 64px,#1fffd8 456px,#10f9e7 460px,#00dffc 465px,#00b4ff 470px,#05f 475px,#0028ff 477px,#0003ff 480px) 102px 0/1px 100%,linear-gradient(#000080,#000080 47px,#0000c9 48px,#00f 49px,#008cff 53px,#00d5ff 56px,#03e9f4 57px,#17ffdf 61px,#1effd9 65px,#1effd8 456px,#10f9e7 460px,#00defd 465px,#00b4ff 470px,#05f 475px,#0028ff 477px,#0003ff 480px) 103px 0/1px 100%,linear-gradient(#000080,#000080 48px,#0000d4 49px,#00f 50px,#0071ff 53px,#00a9ff 55px,#00daff 57px,#04eaf3 58px,#18ffde 62px,#1effd9 67px,#1effd9 456px,#10f9e7 460px,#00defd 465px,#00b4ff 470px,#05f 475px,#0028ff 477px,#0002ff 480px) 104px 0/1px 100%,linear-gradient(#000080,#000080 48px,#00008f 49px,#0000df 50px,#0005ff 51px,#0078ff 54px,#00dffc 58px,#0af2ed 60px,#19ffde 63px,#1effd9 68px,#1effd9 456px,#10f9e7 460px,#00defd 465px,#00b4ff 470px,#05f 475px,#0028ff 477px,#0002ff 480px) 105px 0/1px 100%,linear-gradient(#000080,#000080 49px,#0000af 50px,#0000ea 51px,#000fff 52px,#0080ff 55px,#00cbff 58px,#00e4f8 59px,#15ffe2 63px,#1effd9 66px,#1effd9 456px,#0ff9e7 460px,#00defd 465px,#00b3ff 470px,#05f 475px,#0027ff 477px,#0002ff 480px) 106px 0/1px 100%,linear-gradient(#000080,#000080 50px,#0000f5 52px,#0018ff 53px,#0086ff 56px,#00d0ff 59px,#01e7f5 60px,#16ffe1 64px,#1effd9 68px,#1effd9 456px,#0ff8e8 460px,#00ddfd 465px,#00b3ff 470px,#0054ff 475px,#0027ff 477px,#0002ff 480px) 107px 0/1px 100%,linear-gradient(#000080,#000080 51px,#0000c9 52px,#00f 53px,#008bff 57px,#00d5ff 60px,#02e8f4 61px,#17ffe0 65px,#1effd9 69px,#1effd9 456px,#0ff8e8 460px,#00ddfd 465px,#00b3ff 470px,#0054ff 475px,#0027ff 477px,#0002ff 480px) 108px 0/1px 100%,linear-gradient(#000080,#000080 52px,#0000d4 53px,#00f 54px,#0071ff 57px,#00a9ff 59px,#00daff 61px,#03eaf3 62px,#18ffdf 66px,#1effd9 71px,#1dffd9 456px,#0ff8e8 460px,#00ddfe 465px,#00b3ff 470px,#0054ff 475px,#0027ff 477px,#0001ff 480px) 109px 0/1px 100%,linear-gradient(#000080,#000080 52px,#000090 53px,#0000df 54px,#0005ff 55px,#0078ff 58px,#00dffc 62px,#09f1ed 64px,#19ffde 67px,#1effd9 73px,#1dffda 456px,#0ff8e8 460px,#00ddfe 465px,#00b2ff 470px,#0054ff 475px,#0026ff 477px,#0001ff 480px) 110px 0/1px 100%,linear-gradient(#000080,#000080 53px,#0000b0 54px,#0000eb 55px,#000fff 56px,#0080ff 59px,#00cbff 62px,#00e3f8 63px,#15ffe2 67px,#1effd9 70px,#1dffda 456px,#0ff7e8 460px,#00ddfe 465px,#00b2ff 470px,#0053ff 475px,#0026ff 477px,#0001ff 480px) 111px 0/1px 100%,linear-gradient(#000080,#000080 54px,#0000f6 56px,#0018ff 57px,#0086ff 60px,#00d0ff 63px,#01e7f6 64px,#16ffe1 68px,#1effd9 72px,#1dffda 456px,#0ef7e8 460px,#00dcfe 465px,#00b2ff 470px,#0053ff 475px,#0026ff 477px,#0001ff 480px) 112px 0/1px 100%,linear-gradient(#000080,#000080 55px,#0000ca 56px,#00f 57px,#008bff 61px,#00d5ff 64px,#02e8f5 65px,#17ffe0 69px,#1dffd9 73px,#1dffda 456px,#0ef7e9 460px,#00dcfe 465px,#00b2ff 470px,#0053ff 475px,#0026ff 477px,#00f 480px) 113px 0/1px 100%,linear-gradient(#000080,#000080 56px,#0000d5 57px,#00f 58px,#0071ff 61px,#00a9ff 63px,#00daff 65px,#03e9f4 66px,#18ffdf 70px,#1dffd9 75px,#1dffda 456px,#12fce5 459px,#00dcfe 465px,#00b2ff 470px,#0053ff 475px,#0026ff 477px,#00f 480px) 114px 0/1px 100%,linear-gradient(#000080,#000080 56px,#000093 57px,#0000e0 58px,#0006ff 59px,#0079ff 62px,#00dffc 66px,#0ef7e8 69px,#1dffda 72px,#1cffda 456px,#12fce5 459px,#00dcff 465px,#00b1ff 470px,#0053ff 475px,#0025ff 477px,#00f 480px) 115px 0/1px 100%,linear-gradient(#000080,#000080 57px,#0000eb 59px,#0010ff 60px,#0080ff 63px,#00cbff 66px,#00e3f8 67px,#14ffe2 71px,#1dffda 74px,#1cffda 456px,#12fbe5 459px,#00dcff 465px,#00b1ff 470px,#0052ff 475px,#0025ff 477px,#00f 480px) 116px 0/1px 100%,linear-gradient(#000080,#000080 58px,#0000bf 59px,#0000f7 60px,#0019ff 61px,#0086ff 64px,#00d0ff 67px,#01e7f6 68px,#15ffe1 72px,#1dffda 76px,#1cffdb 456px,#11fbe5 459px,#00e3f9 464px,#00caff 467px,#00b1ff 470px,#0052ff 475px,#0025ff 477px,#00f 480px) 117px 0/1px 100%,linear-gradient(#000080,#000080 59px,#0000cb 60px,#00f 61px,#008bff 65px,#00d5ff 68px,#02e8f5 69px,#16ffe0 73px,#1dffda 78px,#1cffdb 456px,#11fbe6 459px,#00e3f9 464px,#00caff 467px,#00b1ff 470px,#0052ff 475px,#0025ff 477px,#00f 480px) 118px 0/1px 100%,linear-gradient(#000080,#000080 60px,#0000d6 61px,#00f 62px,#0072ff 65px,#00a9ff 67px,#00daff 69px,#03e9f4 70px,#17ffdf 74px,#1dffda 79px,#1cffdb 456px,#11fbe6 459px,#00e2f9 464px,#00caff 467px,#00b1ff 470px,#0052ff 475px,#0024ff 477px,#00f 480px) 119px 0/1px 100%,linear-gradient(#000080,#000080 60px,#000096 61px,#0000e1 62px,#0007ff 63px,#0079ff 66px,#00dffc 70px,#13fde4 74px,#1dffda 77px,#1cffdb 456px,#11fae6 459px,#00e2f9 464px,#00caff 467px,#00b0ff 470px,#0052ff 475px,#0024ff 477px,#00f 480px) 120px 0/1px 100%,linear-gradient(#000080,#000080 61px,#0000ec 63px,#01f 64px,#0080ff 67px,#00cbff 70px,#00e4f8 71px,#14fee3 75px,#1dffda 78px,#1bffdb 456px,#11fae6 459px,#00e2fa 464px,#00caff 467px,#00b0ff 470px,#0051ff 475px,#0024ff 477px,#00f 480px) 121px 0/1px 100%,linear-gradient(#000080,#000080 62px,#0000c0 63px,#0000f7 64px,#0019ff 65px,#0087ff 68px,#00d0ff 71px,#01e6f6 72px,#15ffe2 76px,#1dffda 80px,#1bffdb 456px,#11fae6 459px,#00e2fa 464px,#00c1ff 468px,#00b0ff 470px,#0051ff 475px,#0024ff 477px,#00f 480px) 122px 0/1px 100%,linear-gradient(#000080,#000080 63px,#00c 64px,#00f 65px,#008bff 69px,#00d5ff 72px,#02e8f5 73px,#16ffe1 77px,#1dffda 82px,#1bffdc 456px,#10fae6 459px,#00e2fa 464px,#00c1ff 468px,#00b0ff 470px,#0051ff 475px,#0024ff 477px,#00f 480px) 123px 0/1px 100%,linear-gradient(#000080,#000080 64px,#0000d7 65px,#00f 66px,#0072ff 69px,#00a9ff 71px,#00daff 73px,#03e9f4 74px,#17ffe0 78px,#1dffda 82px,#1bffdc 456px,#10fae7 459px,#00e1fa 464px,#00b8ff 469px,#00a0ff 471px,#003aff 476px,#0015ff 478px,#00f 480px) 124px 0/1px 100%,linear-gradient(#000080,#000080 64px,#000098 65px,#0000e1 66px,#0007ff 67px,#0079ff 70px,#00defc 74px,#13fde4 78px,#1cffda 81px,#1bffdc 456px,#10f9e7 459px,#00e1fa 464px,#00afff 470px,#0050ff 475px,#0023ff 477px,#00f 480px) 125px 0/1px 100%,linear-gradient(#000080,#000080 65px,#0000ec 67px,#01f 68px,#0080ff 71px,#00cbff 74px,#00e3f9 75px,#14fee3 79px,#1cffda 82px,#1bffdc 456px,#10f9e7 459px,#00e1fa 464px,#00afff 470px,#0050ff 475px,#0023ff 477px,#00f 480px) 126px 0/1px 100%,linear-gradient(#000080,#000080 66px,#0000c0 67px,#0000f7 68px,#0019ff 69px,#0086ff 72px,#00d0ff 75px,#00e6f6 76px,#15ffe2 80px,#1cffda 84px,#1affdc 456px,#10f9e7 459px,#00e1fb 464px,#00afff 470px,#0050ff 475px,#0023ff 477px,#00f 480px) 127px 0/1px 100%,linear-gradient(#000080,#000080 67px,#0000cb 68px,#00f 69px,#008bff 73px,#00d4ff 76px,#01e7f6 77px,#16ffe1 81px,#1cffdb 86px,#1affdc 456px,#10f9e7 459px,#00e0fb 464px,#00afff 470px,#0050ff 475px,#02f 477px,#00f 480px) 128px 0/1px 100%,linear-gradient(#000080,#000080 68px,#0000d6 69px,#00f 70px,#0071ff 73px,#00a8ff 75px,#00d9ff 77px,#02e8f5 78px,#17ffe0 82px,#1cffdb 87px,#1affdd 456px,#0ff9e7 459px,#00e0fb 464px,#00aeff 470px,#0050ff 475px,#02f 477px,#00f 480px) 129px 0/1px 100%,linear-gradient(#000080,#000080 68px,#000096 69px,#0000e1 70px,#0007ff 71px,#0078ff 74px,#00defd 78px,#12fce4 82px,#1cffdb 85px,#1affdd 456px,#0ff8e7 459px,#00e0fb 464px,#00aeff 470px,#004fff 475px,#02f 477px,#00f 480px) 130px 0/1px 100%,linear-gradient(#000080,#000080 69px,#0000ec 71px,#0010ff 72px,#0080ff 75px,#00caff 78px,#00e3f9 79px,#13fde3 83px,#1cffdb 86px,#1affdd 456px,#0bf3ec 460px,#00e0fb 464px,#00aeff 470px,#004fff 475px,#02f 477px,#00f 480px) 131px 0/1px 100%,linear-gradient(#000080,#000080 70px,#0000c0 71px,#0000f7 72px,#0019ff 73px,#0086ff 76px,#00cfff 79px,#00e5f7 80px,#14ffe2 84px,#1cffdb 88px,#1affdd 456px,#0bf3ec 460px,#00e0fc 464px,#00aeff 470px,#004fff 475px,#02f 477px,#00f 480px) 132px 0/1px 100%,linear-gradient(#000080,#000080 71px,#0000cb 72px,#00f 73px,#008aff 77px,#00d4ff 80px,#01e7f6 81px,#15ffe2 85px,#1cffdb 90px,#1affdd 456px,#0bf3ec 460px,#00dffc 464px,#00aeff 470px,#004fff 475px,#0021ff 477px,#00f 480px) 133px 0/1px 100%,linear-gradient(#000080,#000080 72px,#0000d6 73px,#00f 74px,#0071ff 77px,#00a8ff 79px,#00d8ff 81px,#02e8f5 82px,#16ffe1 86px,#1cffdb 91px,#19ffdd 456px,#0bf3ec 460px,#00dffc 464px,#00adff 470px,#004eff 475px,#0021ff 477px,#0007ff 479px,#00f 480px) 134px 0/1px 100%,linear-gradient(#000080,#000080 72px,#000095 73px,#0000e0 74px,#0006ff 75px,#0078ff 78px,#00ddfd 82px,#12fce5 86px,#1cffdb 89px,#19ffde 456px,#0bf3ec 460px,#00dffc 464px,#00adff 470px,#004eff 475px,#0021ff 477px,#0007ff 479px,#00f 480px) 135px 0/1px 100%,linear-gradient(#000080,#000080 73px,#0000eb 75px,#0010ff 76px,#007fff 79px,#00caff 82px,#00e2fa 83px,#18ffdf 88px,#19ffde 456px,#0af2ec 460px,#00dffc 464px,#00adff 470px,#004eff 475px,#0021ff 477px,#0007ff 479px,#00f 480px) 136px 0/1px 100%,linear-gradient(#000080,#000080 74px,#0000bf 75px,#0000f6 76px,#0018ff 77px,#0085ff 80px,#00ceff 83px,#00e5f7 84px,#14fee3 88px,#1bffdb 92px,#19ffde 456px,#0af2ed 460px,#00dffc 464px,#00adff 470px,#004eff 475px,#0020ff 477px,#0006ff 479px,#00f 480px) 137px 0/1px 100%,linear-gradient(#000080,#000080 75px,#0000ca 76px,#00f 77px,#008aff 81px,#00d3ff 84px,#00e6f6 85px,#15ffe2 89px,#1bffdb 94px,#19ffde 456px,#06edf1 461px,#00ceff 466px,#00acff 470px,#004eff 475px,#0020ff 477px,#0006ff 479px,#00f 480px) 138px 0/1px 100%,linear-gradient(#000080,#000080 76px,#0000d5 77px,#00f 78px,#0070ff 81px,#00a7ff 83px,#00d8ff 85px,#01e7f5 86px,#16ffe1 90px,#1bffdb 95px,#19ffde 456px,#06edf1 461px,#00ceff 466px,#00acff 470px,#004dff 475px,#0020ff 477px,#0006ff 479px,#00f 480px) 139px 0/1px 100%,linear-gradient(#000080,#000080 76px,#0000a4 77px,#0000e5 78px,#000aff 79px,#007bff 82px,#00dffc 86px,#17ffe0 91px,#1bffdc 137px,#19ffde 456px,#06edf1 461px,#00ceff 466px,#00acff 470px,#004dff 475px,#0020ff 477px,#0006ff 479px,#00f 480px) 140px 0/1px 100%,linear-gradient(#000080,#000080 77px,#0000bf 78px,#0000f6 79px,#0018ff 80px,#0085ff 83px,#00ceff 86px,#00e4f8 87px,#19ffde 92px,#18ffde 456px,#06edf1 461px,#00ceff 466px,#00acff 470px,#004dff 475px,#0020ff 477px,#0006ff 479px,#00f 480px) 141px 0/1px 100%,linear-gradient(#000080,#000080 78px,#0000cf 79px,#00f 80px,#008cff 84px,#00d5ff 87px,#01e6f6 88px,#15ffe2 92px,#1bffdc 97px,#18ffde 456px,#06edf1 461px,#00ceff 466px,#00acff 470px,#004dff 475px,#0020ff 477px,#0006ff 479px,#00f 480px) 142px 0/1px 100%,linear-gradient(#000080,#000080 78px,#000092 79px,#0000df 80px,#0005ff 81px,#07f 84px,#00dcfe 88px,#0cf5eb 91px,#1bffdc 94px,#18ffde 456px,#02e8f5 462px,#00c5ff 467px,#00acff 470px,#004dff 475px,#0020ff 477px,#0006ff 479px,#00f 480px) 143px 0/1px 100%,linear-gradient(#000080,#000080 79px,#0000ef 81px,#0013ff 82px,#0081ff 85px,#00cbff 88px,#00e3f9 89px,#18ffdf 94px,#18ffdf 456px,#02e8f5 462px,#00c5ff 467px,#00acff 470px,#004dff 475px,#0020ff 477px,#0006ff 479px,#00f 480px) 144px 0/1px 100%,linear-gradient(#000080,#000080 80px,#0000c9 81px,#00f 82px,#0043ff 84px,#0089ff 86px,#00d2ff 89px,#00e5f7 90px,#14fee3 94px,#1bffdc 98px,#18ffdf 456px,#02e7f5 462px,#00c5ff 467px,#00acff 470px,#004dff 475px,#001fff 477px,#0005ff 479px,#00f 480px) 145px 0/1px 100%,linear-gradient(#000080,#000081 81px,#0000d9 82px,#00f 83px,#0072ff 86px,#00d9ff 90px,#06edf1 92px,#15ffe1 95px,#1bffdc 99px,#18ffdf 456px,#01e7f5 462px,#00ceff 466px,#00acff 470px,#004dff 475px,#001fff 477px,#0005ff 479px,#00f 480px) 146px 0/1px 100%,linear-gradient(#000080,#000080 81px,#0000b0 82px,#0000e9 83px,#000eff 84px,#007dff 87px,#00e0fb 91px,#17ffe0 96px,#18ffdf 456px,#01e7f5 462px,#00cdff 466px,#00abff 470px,#004dff 475px,#001fff 477px,#0005ff 479px,#00f 480px) 147px 0/1px 100%,linear-gradient(#000080,#000080 82px,#0000c3 83px,#0000f9 84px,#001aff 85px,#0086ff 88px,#00cfff 91px,#00e4f8 92px,#18ffde 97px,#18ffdf 456px,#01e7f6 462px,#00cdff 466px,#00abff 470px,#004cff 475px,#001fff 477px,#0005ff 479px,#00f 480px) 148px 0/1px 100%,linear-gradient(#000080,#000080 83px,#0000d3 84px,#00f 85px,#006eff 88px,#00a5ff 90px,#00d6ff 92px,#00e6f6 93px,#15ffe2 97px,#1affdc 102px,#18ffdf 456px,#05ecf2 461px,#00cdff 466px,#00abff 470px,#004cff 475px,#001fff 477px,#0005ff 479px,#00f 480px) 149px 0/1px 100%,linear-gradient(#000080,#000080 83px,#00009e 84px,#0000e3 85px,#0008ff 86px,#0079ff 89px,#00ddfe 93px,#16ffe1 98px,#1affdc 115px,#18ffdf 456px,#05ecf2 461px,#00cdff 466px,#00abff 470px,#004cff 475px,#001fff 477px,#0005ff 479px,#00f 480px) 150px 0/1px 100%,linear-gradient(#000080,#000080 84px,#0000f3 86px,#0016ff 87px,#0083ff 90px,#0cf 93px,#00e3f9 94px,#17ffdf 99px,#18ffdf 456px,#05ecf2 461px,#00cdff 466px,#00abff 470px,#004cff 475px,#001fff 477px,#0005ff 479px,#00f 480px) 151px 0/1px 100%,linear-gradient(#000080,#000080 85px,#0000cd 86px,#00f 87px,#008aff 91px,#00d3ff 94px,#00e5f7 95px,#14fee3 99px,#1affdd 104px,#17ffdf 456px,#05ecf2 461px,#00cdff 466px,#00abff 470px,#004cff 475px,#001fff 477px,#0005ff 479px,#00f 480px) 152px 0/1px 100%,linear-gradient(#000080,#000080 85px,#00008d 86px,#00d 87px,#0003ff 88px,#0075ff 91px,#00daff 95px,#06edf1 97px,#15ffe2 100px,#1affdd 106px,#17ffdf 456px,#05ebf2 461px,#00d5ff 465px,#00abff 470px,#004cff 475px,#001fff 477px,#0005ff 479px,#00f 480px) 153px 0/1px 100%,linear-gradient(#000080,#000080 86px,#0000ed 88px,#01f 89px,#007fff 92px,#00e1fa 96px,#17ffe0 101px,#17ffdf 456px,#01e6f6 462px,#00cdff 466px,#00abff 470px,#004cff 475px,#001eff 477px,#0004ff 479px,#00f 480px) 154px 0/1px 100%,linear-gradient(#000080,#000080 87px,#00c 88px,#00f 89px,#008aff 93px,#00d3ff 96px,#00e5f8 97px,#19ffde 102px,#17ffe0 456px,#00e1fa 463px,#00abff 470px,#004cff 475px,#001eff 477px,#0004ff 479px,#00f 480px) 155px 0/1px 100%,linear-gradient(#000080,#000080 87px,#0000ab 88px,#0000e7 89px,#000cff 90px,#007bff 93px,#00defc 97px,#16ffe1 102px,#17ffe0 456px,#00e1fa 463px,#00a9ff 470px,#0046ff 475px,#0017ff 477px,#00f 479px,#00f 480px) 156px 0/1px 100%,linear-gradient(#000080,#000080 88px,#00c 89px,#00f 90px,#0089ff 94px,#00d2ff 97px,#00e4f8 98px,#18ffde 103px,#17ffe0 456px,#00e1fa 463px,#00b1ff 469px,#0094ff 471px,#0023ff 476px,#000aff 477px,#00f 478px,#0000fd 479px,#0000f0 480px) 157px 0/1px 100%,linear-gradient(#000080,#000080 88px,#00a 89px,#0000e7 90px,#000cff 91px,#007bff 94px,#00defd 98px,#16ffe1 103px,#17ffe0 456px,#00e1fa 463px,#0bf 468px,#00a4ff 470px,#0031ff 475px,#00f 477px,#0000ed 479px,#0000e0 480px) 158px 0/1px 100%,linear-gradient(#000080,#000080 89px,#0000cb 90px,#00f 91px,#0089ff 95px,#00d2ff 98px,#00e4f8 99px,#18ffdf 104px,#17ffe0 456px,#00e1fa 463px,#0bf 468px,#00a1ff 470px,#0027ff 475px,#000bff 476px,#0000fd 477px,#0000d0 480px) 159px 0/1px 100%,linear-gradient(#000080,#000080 89px,#0000a9 90px,#0000e6 91px,#000bff 92px,#007bff 95px,#00defd 99px,#16ffe1 104px,#17ffe0 456px,#00e1fb 463px,#0bf 468px,#009eff 470px,#001cff 475px,#00f 476px,#0000cd 479px,#0000c0 480px) 160px 0/1px 100%,linear-gradient(#000080,#000080 90px,#0000cb 91px,#00f 92px,#0089ff 96px,#00d1ff 99px,#00e4f8 100px,#18ffdf 105px,#17ffe0 456px,#00e1fb 463px,#0bf 468px,#009bff 470px,#0012ff 475px,#00f 476px,#0000de 477px,#0000bd 479px,#0000b0 480px) 161px 0/1px 100%,linear-gradient(#000080,#000080 90px,#0000a8 91px,#0000e6 92px,#000bff 93px,#007aff 96px,#00ddfd 100px,#15ffe1 105px,#17ffe0 456px,#00e1fb 463px,#0bf 468px,#09f 470px,#0007ff 475px,#0000f3 476px,#0000ce 477px,#0000ad 479px,#0000a0 480px) 162px 0/1px 100%,linear-gradient(#000080,#000080 91px,#0000ca 92px,#00f 93px,#08f 97px,#00d1ff 100px,#00e4f8 101px,#18ffdf 106px,#17ffe0 456px,#00e1fb 463px,#0bf 468px,#0096ff 470px,#00f 475px,#0000e6 476px,#0000bf 477px,#00009d 479px,#000090 480px) 163px 0/1px 100%,linear-gradient(#000080,#000080 91px,#0000a7 92px,#0000e6 93px,#000aff 94px,#007aff 97px,#00ddfe 101px,#15ffe2 106px,#16ffe0 456px,#00e0fb 463px,#0bf 468px,#0093ff 470px,#0015ff 474px,#00f 475px,#0000af 477px,#00009a 478px,#000080 480px) 164px 0/1px 100%,linear-gradient(#000080,#000080 92px,#0000ca 93px,#00f 94px,#08f 98px,#00d1ff 101px,#00e3f9 102px,#18ffdf 107px,#16ffe0 456px,#00e0fb 463px,#0bf 468px,#0090ff 470px,#000cff 474px,#0000f5 475px,#0000a0 477px,#00008a 478px,#000080 479px,#000080 480px) 165px 0/1px 100%,linear-gradient(#000080,#000080 92px,#0000a6 93px,#0000e5 94px,#000aff 95px,#007aff 98px,#00ddfe 102px,#15ffe2 107px,#16ffe1 456px,#00e0fb 463px,#00baff 468px,#008eff 470px,#0003ff 474px,#0000e9 475px,#000090 477px,#000080 478px,#000080 480px) 166px 0/1px 100%,linear-gradient(#000080,#000080 93px,#0000ca 94px,#00f 95px,#0043ff 97px,#08f 99px,#00d0ff 102px,#00e3f9 103px,#17ffdf 108px,#16ffe1 456px,#00e0fb 463px,#00baff 468px,#008bff 470px,#00f 474px,#00d 475px,#000081 477px,#000080 480px) 167px 0/1px 100%,linear-gradient(#000080,#000080 93px,#0000a5 94px,#0000e5 95px,#000aff 96px,#0079ff 99px,#00dcfe 103px,#15ffe2 108px,#17ffdf 452px,#13fde4 457px,#00e0fb 463px,#00baff 468px,#08f 470px,#0018ff 473px,#00f 474px,#0000a1 476px,#000080 477px,#000080 480px) 168px 0/1px 100%,linear-gradient(#000080,#000080 94px,#0000c9 95px,#00f 96px,#0042ff 98px,#08f 100px,#00d0ff 103px,#00e3f9 104px,#17ffe0 109px,#16ffe1 456px,#00e0fb 463px,#00baff 468px,#0085ff 470px,#0010ff 473px,#0000f5 474px,#000093 476px,#000080 477px,#000080 480px) 169px 0/1px 100%,linear-gradient(#000080,#000080 94px,#0000a4 95px,#0000e4 96px,#0009ff 97px,#0079ff 100px,#00dcfe 104px,#14ffe2 109px,#19ffde 217px,#16ffe1 456px,#00e0fb 463px,#00baff 468px,#0083ff 470px,#0009ff 473px,#0000eb 474px,#000085 476px,#000080 479px,#000080 480px) 170px 0/1px 100%,linear-gradient(#000080,#000080 95px,#00c 96px,#00f 97px,#0089ff 101px,#00d1ff 104px,#00e3f9 105px,#17ffe0 110px,#16ffe1 456px,#00e0fc 463px,#00baff 468px,#0080ff 470px,#0001ff 473px,#0000e1 474px,#000080 476px,#000080 480px) 171px 0/1px 100%,linear-gradient(#000080,#000080 95px,#0000eb 97px,#000fff 98px,#007dff 101px,#00dffc 105px,#15ffe2 110px,#16ffe1 456px,#00e0fc 463px,#00baff 468px,#007dff 470px,#00f 473px,#0000d7 474px,#0000a1 475px,#000080 476px,#000080 480px) 172px 0/1px 100%,linear-gradient(#000080,#000080 96px,#0000d3 97px,#00f 98px,#006dff 101px,#00a4ff 103px,#00d4ff 105px,#00e4f8 106px,#18ffdf 111px,#16ffe1 456px,#00dffc 463px,#00baff 468px,#007cff 470px,#0024ff 472px,#00f 473px,#0000d1 474px,#00009b 475px,#000080 476px,#000080 480px) 173px 0/1px 100%,linear-gradient(#000080,#000080 96px,#0000f2 98px,#0014ff 99px,#0081ff 102px,#00e1fb 106px,#15ffe1 111px,#16ffe1 456px,#00dffc 463px,#00baff 468px,#007cff 470px,#0024ff 472px,#00f 473px,#0000d1 474px,#00009b 475px,#000080 476px,#000080 480px) 174px 0/1px 100%,linear-gradient(#000080,#000080 96px,#000087 97px,#0000da 98px,#00f 99px,#0072ff 102px,#00d7ff 106px,#04eaf3 108px,#18ffdf 112px,#15ffe1 456px,#00dffc 463px,#00b9ff 468px,#007bff 470px,#0023ff 472px,#00f 473px,#0000d1 474px,#00009b 475px,#000080 476px,#000080 480px) 175px 0/1px 100%,linear-gradient(#000080,#000080 97px,#0000e9 99px,#000eff 100px,#007cff 103px,#00defd 107px,#14ffe2 112px,#15ffe1 456px,#00dffc 463px,#00b9ff 468px,#007bff 470px,#0023ff 472px,#00f 473px,#0000d1 474px,#00009a 475px,#000080 476px,#000080 480px) 176px 0/1px 100%,linear-gradient(#000080,#000080 98px,#0000e9 100px,#000eff 101px,#007cff 104px,#00defd 108px,#14ffe2 113px,#15ffe2 456px,#00dffc 463px,#00b9ff 468px,#007bff 470px,#0023ff 472px,#00f 473px,#0000d1 474px,#00009a 475px,#000080 476px,#000080 480px) 177px 0/1px 100%,linear-gradient(#000080,#000080 99px,#0000e9 101px,#000eff 102px,#007cff 105px,#00defd 109px,#14ffe3 114px,#15ffe2 456px,#00dffc 463px,#00b9ff 468px,#007bff 470px,#0023ff 472px,#00f 473px,#0000d1 474px,#00009a 475px,#000080 476px,#000080 480px) 178px 0/1px 100%,linear-gradient(#000080,#000080 100px,#0000e9 102px,#000eff 103px,#007cff 106px,#00ddfd 110px,#0ff8e8 114px,#18ffdf 116px,#15ffe2 456px,#00dffc 463px,#00b9ff 468px,#007bff 470px,#0023ff 472px,#00f 473px,#0000d1 474px,#00009a 475px,#000080 476px,#000080 480px) 179px 0/1px 100%,linear-gradient(#000080,#000080 102px,#0000c5 103px,#0000fb 104px,#001bff 105px,#0085ff 108px,#00e1fa 112px,#16ffe1 117px,#15ffe2 456px,#00dffc 463px,#00b9ff 468px,#007bff 470px,#0023ff 472px,#00f 473px,#0000d1 474px,#00009a 475px,#000080 476px,#000080 480px) 180px 0/1px 100%,linear-gradient(#000080,#000080 104px,#0000d7 105px,#00f 106px,#006fff 109px,#00bdff 112px,#00d5ff 113px,#03e9f4 115px,#17ffdf 119px,#15ffe2 456px,#00dffc 463px,#00b9ff 468px,#007bff 470px,#0023ff 472px,#00f 473px,#00009a 475px,#000080 476px,#000080 480px) 181px 0/1px 100%,linear-gradient(#000080,#000080 105px,#0000c8 106px,#00f 107px,#0041ff 109px,#0086ff 111px,#00e1fa 115px,#16ffe1 120px,#15ffe2 456px,#00defc 463px,#00b9ff 468px,#007bff 470px,#0023ff 472px,#00f 473px,#00009a 475px,#000080 476px,#000080 480px) 182px 0/1px 100%,linear-gradient(#000080,#000080 1px,#37ffc0 2px,#1effd9 139px,#19ffde 469px,#01e7f6 476px,#00d6ff 480px) 183px 0/1px 100%,linear-gradient(#000080,#000080 1px,#59ff9e 2px,#51ffa6 20px,#39ffbe 39px,#1bffdb 172px,#19ffde 469px,#05ebf2 475px,#00d6ff 480px) 184px 0/1px 100%,linear-gradient(#000080,#000080 1px,#9eff59 2px,#8eff69 18px,#51ffa6 35px,#1cffdb 164px,#19ffdd 469px,#08f0ee 474px,#00dbff 479px,#00d6ff 480px) 185px 0/1px 100%,linear-gradient(#000080,#000080 1px,#e2ff15 2px,#ceff29 17px,#67ff8f 35px,#41ffb5 102px,#1cffdb 160px,#1affdd 469px,#09f0ee 474px,#00dbff 479px,#00d7ff 480px) 186px 0/1px 100%,linear-gradient(#000080,#000080 1px,#ffe300 2px,#f7f500 13px,#efff08 17px,#7dff79 35px,#56ffa1 89px,#22ffd5 148px,#1cffdb 167px,#1affdd 469px,#0cf5ea 473px,#00e0fc 478px,#00d7ff 480px) 187px 0/1px 100%,linear-gradient(#000080,#000080 1px,#ffdb00 2px,#f8f400 16px,#e8ff0f 19px,#88ff6f 35px,#57ffa0 98px,#1cffdb 158px,#1bffdc 469px,#0df5ea 473px,#00e0fb 478px,#00d8ff 480px) 188px 0/2px 100%,linear-gradient(#000080,#000080 1px,#ffd100 2px,#fcf000 17px,#eefe08 19px,#86ff71 35px,#45ffb2 117px,#1cffdb 158px,#1bffdc 469px,#11fae6 472px,#00e1fa 478px,#00d8ff 480px) 190px 0/2px 100%,linear-gradient(#000080,#000080 1px,#ffc600 2px,#ffe700 17px,#f5f802 19px,#e6ff11 21px,#84ff73 35px,#47ffb0 116px,#1cffdb 158px,#1cffdb 469px,#12fbe5 472px,#00e2fa 478px,#00d9ff 480px) 192px 0/2px 100%,linear-gradient(#000080,#000080 1px,#ffbc00 2px,#ffdf00 17px,#f3fa04 20px,#dcff1b 23px,#82ff75 35px,#48ffaf 115px,#1cffda 158px,#1cffda 469px,#0ff8e8 473px,#00defd 479px,#00daff 480px) 194px 0/2px 100%,linear-gradient(#000080,#000080 1px,#fb0 2px,#ffdf00 17px,#faf100 19px,#ebff0c 21px,#80ff76 35px,#4affad 114px,#1dffda 158px,#1dffda 469px,#0ff9e7 473px,#00dffc 479px,#00dbff 480px) 196px 0/2px 100%,linear-gradient(#000080,#000080 1px,#ffc500 2px,#ffe900 17px,#ecff0b 20px,#7fff78 35px,#4bffac 113px,#1dffda 158px,#1effd9 469px,#10f9e7 473px,#00e0fb 479px,#00dcff 480px) 198px 0/2px 100%,linear-gradient(#000080,#000080 1px,#ffce00 2px,#feed00 16px,#ecff0b 19px,#7dff7a 35px,#4effa9 111px,#1dffda 158px,#1effd9 469px,#11fae6 473px,#00e1fb 479px,#00dcfe 480px) 200px 0/2px 100%,linear-gradient(#000080,#000080 1px,#ffd800 2px,#faf200 14px,#f2fb05 17px,#7bff7c 35px,#59ff9e 98px,#1dffda 158px,#1fffd8 469px,#11fbe6 473px,#00e1fa 479px,#00ddfe 480px) 202px 0/2px 100%,linear-gradient(#000080,#000080 1px,#ffe100 2px,#f6f601 12px,#eaff0d 17px,#79ff7e 35px,#67ff90 77px,#4affad 115px,#1dffd9 158px,#1fffd7 469px,#12fce5 473px,#00e2f9 479px,#00defd 480px) 204px 0/2px 100%,linear-gradient(#000080,#000080 1px,#fdef00 2px,#edff0a 11px,#dfff18 17px,#78ff7f 35px,#6aff8c 71px,#4bffac 114px,#1effd9 158px,#21ffd5 469px,#11fae6 474px,#00e1fb 480px) 206px 0/1px 100%,linear-gradient(#000080,#000080 1px,#edff0a 2px,#d2ff25 17px,#77ff80 35px,#6cff8b 69px,#4bffab 114px,#1effd9 158px,#24ffd2 452px,#25ffd2 469px,#11fbe6 475px,#00e6f7 480px) 207px 0/1px 100%,linear-gradient(#000080,#000080 1px,#ddff19 2px,#c0ff37 18px,#76ff81 35px,#6dff8a 67px,#4cffab 114px,#1effd9 158px,#24ffd2 444px,#28ffcf 469px,#12fbe5 476px,#04eaf3 480px) 208px 0/1px 100%,linear-gradient(#000080,#000080 1px,#ceff29 2px,#b3ff43 18px,#75ff82 35px,#6eff89 65px,#4dffaa 113px,#1effd9 158px,#24ffd2 441px,#2cffcb 469px,#12fce5 477px,#08efef 480px) 209px 0/1px 100%,linear-gradient(#000080,#000080 1px,#beff39 2px,#a4ff53 19px,#75ff82 36px,#6eff89 66px,#4dffaa 113px,#1effd9 158px,#26ffd1 439px,#2fffc7 469px,#13fde4 478px,#0cf4eb 480px) 210px 0/1px 100%,linear-gradient(#000080,#000080 1px,#aeff48 2px,#94ff63 21px,#76ff81 36px,#6dff8a 68px,#4dffaa 113px,#1effd9 158px,#28ffcf 436px,#33ffc4 469px,#13fde4 479px,#10f9e7 480px) 211px 0/1px 100%,linear-gradient(#000080,#000080 1px,#9fff58 2px,#77ff80 38px,#68ff8e 75px,#4cffab 114px,#1effd9 158px,#2affcc 432px,#37ffc0 469px,#14fee3 480px) 212px 0/1px 100%,linear-gradient(#000080,#000080 1px,#96ff60 2px,#77ff80 41px,#59ff9d 101px,#20ffd7 158px,#27ffd0 393px,#35ffc1 447px,#40ffb7 469px,#1dffd9 480px) 213px 0/1px 100%,linear-gradient(#000080,#000080 1px,#95ff61 2px,#77ff7f 43px,#4fffa8 113px,#24ffd3 158px,#2affcd 382px,#37ffc0 440px,#4effa9 469px,#2dffca 480px) 214px 0/1px 100%,linear-gradient(#000080,#000080 1px,#95ff62 2px,#77ff80 46px,#4dffa9 115px,#27ffd0 158px,#2cffca 374px,#35ffc2 432px,#5bff9b 469px,#3cffbb 480px) 215px 0/1px 100%,linear-gradient(#000080,#000080 1px,#94ff63 2px,#75ff81 52px,#4bffac 119px,#2bffcc 159px,#2fffc8 368px,#33ffc4 415px,#3effb9 438px,#74ff83 477px,#74ff83 480px) 216px 0/1px 100%,linear-gradient(#000080,#000080 1px,#93ff64 2px,#49ffad 122px,#2effc9 159px,#32ffc5 363px,#34ffc3 409px,#41ffb6 437px,#8bff6b 476px,#8bff6b 480px) 217px 0/1px 100%,linear-gradient(#000080,#000080 1px,#92ff65 2px,#47ffb0 127px,#32ffc5 160px,#39ffbe 346px,#35ffc2 402px,#48ffaf 436px,#abff4b 476px,#abff4b 480px) 218px 0/1px 100%,linear-gradient(#000080,#000080 1px,#91ff66 2px,#41ffb6 138px,#36ffc1 161px,#43ffb4 336px,#36ffc1 398px,#55ffa2 436px,#cbff2b 475px,#cbff2b 480px) 219px 0/1px 100%,linear-gradient(#000080,#000080 1px,#90ff67 2px,#3cffba 160px,#4cffab 333px,#38ffbf 397px,#61ff95 436px,#ddff19 475px,#ddff19 480px) 220px 0/1px 100%,linear-gradient(#000080,#000080 1px,#8fff68 2px,#4affad 143px,#49ffae 182px,#56ffa1 332px,#3fffb7 397px,#6dff89 436px,#e2ff15 475px,#e2ff15 480px) 221px 0/1px 100%,linear-gradient(#000080,#000080 1px,#8eff69 2px,#77ff80 51px,#56ffa0 118px,#52ffa5 174px,#60ff97 332px,#4bffac 397px,#7cff7b 437px,#e6ff11 475px,#e6ff11 480px) 222px 0/1px 100%,linear-gradient(#000080,#000080 1px,#8dff6a 2px,#77ff80 57px,#5eff99 118px,#5dff9a 185px,#6aff8d 333px,#55ffa1 396px,#96ff61 439px,#eaff0c 476px,#eaff0c 480px) 223px 0/1px 100%,linear-gradient(#000080,#000080 1px,#8cff6a 2px,#64ff93 147px,#73ff83 334px,#62ff95 396px,#e0ff16 466px,#efff08 478px,#efff08 480px) 224px 0/1px 100%,linear-gradient(#000080,#000080 1px,#8bff6b 2px,#78ff7f 108px,#6fff88 167px,#86ff71 331px,#6bff8b 395px,#ceff29 437px,#f2fb04 474px,#f3fa04 480px) 225px 0/1px 100%,linear-gradient(#000080,#000080 1px,#8aff6c 2px,#8cff6b 52px,#78ff7f 151px,#a2ff55 328px,#77ff80 395px,#dfff18 436px,#f3fa04 468px,#f7f500 480px) 226px 0/1px 100%,linear-gradient(#000080,#000080 1px,#8aff6d 2px,#8dff6a 43px,#93ff64 73px,#8bff6b 164px,#bdff39 328px,#8cff6a 395px,#e5ff11 437px,#f4f903 462px,#fbf000 480px) 227px 0/1px 100%,linear-gradient(#000080,#000080 1px,#8fff68 2px,#94ff63 43px,#9dff5a 85px,#a9ff4e 174px,#d9ff1e 328px,#aeff49 396px,#ecff0a 439px,#fdee00 468px,#ffea00 480px) 228px 0/1px 100%,linear-gradient(#000080,#000080 1px,#9bff5c 2px,#a1ff56 54px,#e1ff16 330px,#ceff29 397px,#f2fb05 439px,#ffe500 469px,#ffe100 480px) 229px 0/1px 100%,linear-gradient(#000080,#000080 1px,#a6ff51 2px,#aeff49 64px,#d8ff1f 168px,#e8ff0f 340px,#e3ff14 401px,#f3fa04 431px,#ffe500 459px,#ffd900 480px) 230px 0/1px 100%,linear-gradient(#000080,#000080 1px,#b2ff45 2px,#b9ff3e 62px,#e3ff14 167px,#f0fe07 343px,#ecff0b 402px,#feed00 439px,#ffd100 480px) 231px 0/1px 100%,linear-gradient(#000080,#000080 1px,#beff39 2px,#c4ff33 60px,#e2ff15 120px,#f5f802 270px,#f7f500 346px,#f4f903 401px,#ffe300 442px,#ffc900 480px) 232px 0/1px 100%,linear-gradient(#000080,#000080 1px,#c9ff2e 2px,#d0ff27 60px,#effe08 112px,#ffeb00 315px,#fcef00 402px,#ffcf00 456px,#ffc000 480px) 233px 0/1px 100%,linear-gradient(#000080,#000080 1px,#d5ff22 2px,#dcff1b 60px,#f2fb04 93px,#faf200 114px,#ffe400 348px,#ffe600 402px,#ffc500 458px,#ffb800 480px) 234px 0/1px 100%,linear-gradient(#000080,#000080 1px,#e0ff16 2px,#e8ff0f 62px,#f6f601 86px,#ffea00 113px,#ffdc00 350px,#ffdc00 403px,#ffb800 463px,#ffb000 480px) 235px 0/1px 100%,linear-gradient(#000080,#000080 1px,#ecff0b 2px,#f0fd07 62px,#ffea00 92px,#ffe200 118px,#ffd300 352px,#ffd300 403px,#ffac00 469px,#ffa800 480px) 236px 0/1px 100%,linear-gradient(#000080,#000080 1px,#f8f400 2px,#f2fb04 53px,#ffe500 88px,#ffda00 115px,#ffcb00 355px,#ffc900 404px,#ffa000 480px) 237px 0/1px 100%,linear-gradient(#000080,#000080 1px,#fdee00 2px,#fbf100 60px,#ffd200 111px,#ffc200 359px,#ffc000 404px,#f90 480px) 238px 0/1px 100%,linear-gradient(#000080,#000080 1px,#fdee00 2px,#ffe900 61px,#ffca00 111px,#ffba00 364px,#ffb600 405px,#ff9100 480px) 239px 0/1px 100%,linear-gradient(#000080,#000080 1px,#fcef00 2px,#ffe900 49px,#ffc200 111px,#ffb100 370px,#ffac00 407px,#ff8a00 480px) 240px 0/1px 100%,linear-gradient(#000080,#000080 1px,#fcf000 2px,#ffeb00 40px,#ffba00 110px,#ffa800 378px,#ff9f00 415px,#ff8200 480px) 241px 0/1px 100%,linear-gradient(#000080,#000080 1px,#fcf000 2px,#ffec00 38px,#ffb300 103px,#ff9f00 379px,#ff9400 421px,#ff7b00 480px) 242px 0/1px 100%,linear-gradient(#000080,#000080 1px,#fbf100 2px,#ffed00 37px,#ffca00 62px,#ffa700 110px,#ff9400 383px,#f70 466px,#ff7300 480px) 243px 0/1px 100%,linear-gradient(#000080,#000080 1px,#fbf100 2px,#feee00 36px,#ffc300 58px,#ff9c00 110px,#ff8a00 384px,#ff6d00 480px) 244px 0/1px 100%,linear-gradient(#000080,#000080 1px,#faf200 2px,#feed00 36px,#ffb900 56px,#ff9200 110px,#ff7f00 385px,#ff6700 480px) 245px 0/1px 100%,linear-gradient(#000080,#000080 1px,#faf200 2px,#fbf000 35px,#ffae00 56px,#ff8700 111px,#ff7500 386px,#ff6200 480px) 246px 0/1px 100%,linear-gradient(#000080,#000080 1px,#f9f300 2px,#fbf100 35px,#ffa400 55px,#ff7c00 111px,#ff6500 435px,#ff5c00 480px) 247px 0/1px 100%,linear-gradient(#000080,#000080 1px,#f9f300 2px,#fbf100 35px,#ff9a00 55px,#ff7200 112px,#ff6400 337px,#ff5d00 441px,#ff5600 480px) 248px 0/1px 100%,linear-gradient(#000080,#000080 1px,#f8f400 2px,#fbf100 35px,#ffb100 48px,#ff9000 55px,#ff6a00 112px,#ff5c00 326px,#f50 446px,#ff5100 480px) 249px 0/1px 100%,linear-gradient(#000080,#000080 1px,#f8f400 2px,#faf100 35px,#ffd100 41px,#ff8600 55px,#ff6100 112px,#f50 304px,#ff4d00 461px,#ff4b00 480px) 250px 0/1px 100%,linear-gradient(#000080,#000080 1px,#f7f500 2px,#faf200 35px,#ffd400 40px,#ff7c00 55px,#ff5800 113px,#ff4d00 295px,#ff4c00 460px,#ff4e00 480px) 251px 0/1px 100%,linear-gradient(#000080,#000080 1px,#f7f500 2px,#faf200 35px,#ffda00 39px,#ff7b00 55px,#ff5000 111px,#ff4b00 194px,#f50 434px,#ff5a00 480px) 252px 0/1px 100%,linear-gradient(#000080,#000080 1px,#f5f701 2px,#f8f400 35px,#fd0 39px,#ff8300 55px,#ff5c00 111px,#ff5900 210px,#ff6500 463px,#f60 480px) 253px 0/1px 100%,linear-gradient(#000080,#000080 1px,#f3fa04 2px,#f5f702 35px,#ffe700 38px,#ff8b00 55px,#ff6b00 113px,#ff6d00 406px,#ff7200 480px) 254px 0/1px 100%,linear-gradient(#000080,#000080 1px,#f0fd07 2px,#f2fa04 35px,#ffe500 39px,#ff9300 55px,#ff7900 115px,#ff7e00 480px) 255px 0/1px 100%,linear-gradient(#000080,#000080 1px,#eeff09 2px,#f0fe07 35px,#ffea00 39px,#ff9f00 55px,#f80 115px,#ff8900 480px) 256px 0/1px 100%,linear-gradient(#000080,#000080 1px,#ebff0c 2px,#edff0a 35px,#fbf000 39px,#ffae00 55px,#ff9600 114px,#ff9600 480px) 257px 0/1px 100%,linear-gradient(#000080,#000080 1px,#e8ff0f 2px,#eaff0d 35px,#fdef00 41px,#ffbe00 56px,#ffa200 112px,#ffa200 480px) 258px 0/1px 100%,linear-gradient(#000080,#000080 1px,#e6ff11 2px,#e9ff0d 36px,#f9f300 42px,#ffdb00 50px,#ffcd00 57px,#ffaf00 111px,#ffaf00 480px) 259px 0/1px 100%,linear-gradient(#000080,#000080 1px,#e3ff14 2px,#e6ff10 36px,#f4f903 42px,#ffe700 49px,#ffd700 58px,#fb0 112px,#fb0 480px) 260px 0/1px 100%,linear-gradient(#000080,#000080 1px,#e0ff16 2px,#e3ff13 36px,#f2fb05 43px,#ffe500 52px,#ffd800 70px,#ffc700 115px,#ffc700 480px) 261px 0/1px 100%,linear-gradient(#000080,#000080 1px,#deff19 2px,#e1ff16 36px,#f2fb05 45px,#ffe600 55px,#ffd100 116px,#ffd100 472px,#ffeb00 473px,#dfff17 474px,#1cffdb 480px) 262px 0/1px 100%,linear-gradient(#000080,#000080 1px,#dbff1c 2px,#deff19 36px,#f2fc05 47px,#ffeb00 58px,#ffda00 119px,#ffda00 472px,#f8f400 473px,#d9ff1e 474px,#1bffdc 480px) 263px 0/1px 100%,linear-gradient(#000080,#000080 1px,#d8ff1e 2px,#ddff1a 37px,#f2fb05 50px,#fbf100 61px,#ffe400 125px,#ffe400 472px,#f0fd06 473px,#19ffde 480px) 264px 0/1px 100%,linear-gradient(#000080,#000080 1px,#d6ff21 2px,#daff1d 37px,#f3fa04 54px,#feee00 128px,#feee00 472px,#e9ff0e 473px,#18ffdf 480px) 265px 0/1px 100%,linear-gradient(#000080,#000080 1px,#d3ff24 2px,#d6ff21 37px,#eeff09 59px,#f5f701 152px,#f5f701 472px,#e1ff16 473px,#16ffe1 480px) 266px 0/1px 100%,linear-gradient(#000080,#000080 1px,#cfff28 2px,#d3ff24 38px,#e7ff10 59px,#edff0a 181px,#edff0a 472px,#d9ff1d 473px,#15ffe2 480px) 267px 0/1px 100%,linear-gradient(#000080,#000080 1px,#cbff2c 2px,#ceff29 38px,#e0ff17 60px,#e5ff12 309px,#e5ff12 472px,#d2ff25 473px,#13fde4 480px) 268px 0/1px 100%,linear-gradient(#000080,#000080 1px,#c7ff30 2px,#cbff2c 39px,#d9ff1d 61px,#ddff1a 472px,#b0ff47 474px,#12fbe5 480px) 269px 0/1px 100%,linear-gradient(#000080,#000080 1px,#c3ff34 2px,#c7ff30 40px,#d3ff24 63px,#d4ff22 472px,#a9ff4e 474px,#2affcd 479px,#10fae7 480px) 270px 0/1px 100%,linear-gradient(#000080,#000080 1px,#bdff3a 2px,#c1ff36 42px,#c9ff2d 68px,#caff2d 472px,#a0ff57 474px,#27ffd0 479px,#0ef7e9 480px) 271px 0/2px 100%,linear-gradient(#000080,#000080 1px,#b5ff42 2px,#b9ff3e 41px,#c3ff34 64px,#c3ff34 472px,#9bff5c 474px,#25ffd2 479px,#0df6ea 480px) 273px 0/2px 100%,linear-gradient(#000080,#000080 1px,#adff4a 2px,#b0ff46 39px,#beff39 61px,#beff39 472px,#97ff60 474px,#23ffd4 479px,#0cf5eb 480px) 275px 0/2px 100%,linear-gradient(#000080,#000080 1px,#a5ff52 2px,#aaff4d 39px,#b9ff3e 60px,#b9ff3e 472px,#93ff64 474px,#22ffd5 479px,#0bf3ec 480px) 277px 0/2px 100%,linear-gradient(#000080,#000080 1px,#1affdd 2px,#a2ff55 3px,#a6ff51 39px,#b5ff42 60px,#b5ff42 472px,#8fff67 474px,#21ffd6 479px,#0bf3ec 480px) 279px 0/1px 100%,linear-gradient(#000080,#000080 1px,#008eff 2px,#a0ff57 3px,#a4ff52 39px,#b3ff44 60px,#b3ff44 472px,#8dff69 474px,#20ffd7 479px,#0af2ed 480px) 280px 0/1px 100%,linear-gradient(#000080,#000080 1px,#05f 2px,#9fff58 3px,#a2ff54 39px,#b0ff47 61px,#b0ff47 472px,#8bff6b 474px,#1fffd8 479px,#0af1ed 480px) 281px 0/1px 100%,linear-gradient(#000080,#000080 1px,#002dff 2px,#88ff6e 3px,#9dff5a 4px,#a1ff55 40px,#aeff49 62px,#aeff49 472px,#89ff6e 474px,#1effd8 479px,#09f1ee 480px) 282px 0/1px 100%,linear-gradient(#000080,#000080 1px,#0013ff 2px,#77ff80 3px,#9bff5c 4px,#9fff57 40px,#abff4c 62px,#abff4c 472px,#87ff70 474px,#1effd9 479px,#09f0ee 480px) 283px 0/1px 100%,linear-gradient(#000080,#000080 1px,#0001ff 2px,#53ffa3 3px,#99ff5d 4px,#9eff58 41px,#a8ff4e 63px,#a8ff4e 472px,#85ff72 474px,#1dffda 479px,#08f0ef 480px) 284px 0/1px 100%,linear-gradient(#000080,#000080 1px,#00f 2px,#33ffc3 3px,#8cff6b 4px,#98ff5f 5px,#9cff5a 41px,#a6ff51 64px,#a6ff51 472px,#83ff74 474px,#1cffda 479px,#08efef 480px) 285px 0/1px 100%,linear-gradient(#000080,#000080 1px,#0000f7 2px,#1bffdc 3px,#7fff78 4px,#96ff61 5px,#9bff5c 42px,#a3ff53 66px,#a3ff53 472px,#81ff76 474px,#1cffdb 479px,#07efef 480px) 286px 0/1px 100%,linear-gradient(#000080,#000080 1px,#00e 2px,#07efef 3px,#75ff82 4px,#94ff63 5px,#99ff5e 42px,#a1ff56 68px,#a1ff56 472px,#7fff78 474px,#1bffdc 479px,#07eef0 480px) 287px 0/1px 100%,linear-gradient(#000080,#000080 1px,#0000e7 2px,#00d3ff 3px,#6cff8b 4px,#8bff6c 5px,#93ff64 6px,#98ff5f 43px,#9eff58 72px,#9eff58 472px,#69ff8e 475px,#1affdd 479px,#06edf0 480px) 288px 0/1px 100%,linear-gradient(#000080,#000080 1px,#0000e1 2px,#0bf 3px,#54ffa3 4px,#80ff76 5px,#91ff66 6px,#96ff61 44px,#9cff5b 80px,#9cff5b 472px,#67ff90 475px,#19ffdd 479px,#06edf1 480px) 289px 0/1px 100%,linear-gradient(#000080,#000080 1px,#0000db 2px,#00a7ff 3px,#40ffb7 4px,#78ff7f 5px,#8fff68 6px,#94ff62 45px,#99ff5e 103px,#99ff5e 472px,#65ff91 475px,#19ffde 479px,#05ecf1 480px) 290px 0/1px 100%,linear-gradient(#000080,#000080 1px,#0000d6 2px,#0095ff 3px,#2fffc8 4px,#70ff87 5px,#87ff6f 6px,#8dff69 9px,#93ff64 47px,#97ff60 472px,#64ff93 475px,#18ffdf 479px,#05ecf2 480px) 291px 0/1px 100%,linear-gradient(#000080,#000080 1px,#0000cb 2px,#0086ff 3px,#20ffd7 4px,#6aff8d 5px,#7fff78 6px,#8cff6b 7px,#91ff65 47px,#95ff62 472px,#62ff95 475px,#17ffdf 479px,#05ebf2 480px) 292px 0/1px 100%,linear-gradient(#000080,#000080 1px,#0000c2 2px,#0079ff 3px,#13fde4 4px,#60ff96 5px,#8aff6d 7px,#90ff67 46px,#94ff63 367px,#94ff63 472px,#61ff95 475px,#17ffe0 479px,#04ebf2 480px) 293px 0/1px 100%,linear-gradient(#000080,#000080 1px,#0000ba 2px,#006eff 3px,#07eef0 4px,#50ffa7 5px,#71ff86 6px,#84ff73 7px,#88ff6f 14px,#8fff68 47px,#92ff64 472px,#61ff96 475px,#17ffe0 479px,#04ebf3 480px) 294px 0/1px 100%,linear-gradient(#000080,#000080 1px,#0000b3 2px,#0063ff 3px,#00e2fa 4px,#41ffb6 5px,#6bff8c 6px,#87ff70 8px,#8cff6b 45px,#91ff66 91px,#91ff66 472px,#60ff97 475px,#16ffe0 479px,#04eaf3 480px) 295px 0/1px 100%,linear-gradient(#000080,#000080 1px,#0000ad 2px,#005aff 3px,#00d2ff 4px,#34ffc3 5px,#65ff92 6px,#85ff72 8px,#8aff6d 44px,#90ff67 78px,#90ff67 472px,#5fff98 475px,#16ffe1 479px,#04eaf3 480px) 296px 0/1px 100%,linear-gradient(#000080,#000080 1px,#0000a7 2px,#0052ff 3px,#00c3ff 4px,#28ffcf 5px,#60ff97 6px,#7fff77 8px,#8bff6c 48px,#8fff68 472px,#5eff99 475px,#16ffe1 479px,#04eaf3 480px) 297px 0/1px 100%,linear-gradient(#000080,#000080 1px,#0000a2 2px,#0049ff 3px,#00b6ff 4px,#1dffda 5px,#57ffa0 6px,#79ff7e 8px,#82ff75 9px,#87ff70 43px,#8eff69 71px,#8eff69 472px,#5dff9a 475px,#15ffe1 479px,#03eaf3 480px) 298px 0/1px 100%,linear-gradient(#000080,#000080 1px,#00009d 2px,#0040ff 3px,#0af 4px,#14fee3 5px,#4affac 6px,#65ff91 7px,#80ff77 9px,#85ff71 43px,#8cff6a 70px,#8cff6a 472px,#5cff9a 475px,#15ffe2 479px,#03e9f4 480px) 299px 0/1px 100%,linear-gradient(#000080,#000080 1px,#009 2px,#0039ff 3px,#009fff 4px,#0bf3ec 5px,#3fffb8 6px,#61ff96 7px,#7cff7b 9px,#86ff71 46px,#8bff6c 83px,#8bff6c 472px,#4affad 476px,#15ffe2 479px,#03e9f4 480px) 300px 0/1px 100%,linear-gradient(#000080,#000080 1px,#000095 2px,#0031ff 3px,#0095ff 4px,#03e9f4 5px,#35ffc2 6px,#5dff9a 7px,#7dff79 10px,#83ff74 43px,#8aff6d 69px,#8aff6d 472px,#49ffae 476px,#14ffe3 479px,#03e9f4 480px) 301px 0/1px 100%,linear-gradient(#000080,#000080 1px,#000092 2px,#002bff 3px,#008bff 4px,#00e0fc 5px,#2bffcc 6px,#59ff9e 7px,#7cff7b 10px,#81ff75 43px,#89ff6e 69px,#89ff6e 472px,#48ffaf 476px,#14fee3 479px,#02e9f4 480px) 302px 0/1px 100%,linear-gradient(#000080,#000080 1px,#00008f 2px,#0025ff 3px,#0083ff 4px,#00d7ff 5px,#22ffd5 6px,#4fffa7 7px,#78ff7f 10px,#81ff75 45px,#88ff6f 73px,#88ff6f 472px,#48ffaf 476px,#14fee3 479px,#02e8f5 480px) 303px 0/1px 100%,linear-gradient(#000080,#000080 1px,#00008c 2px,#001fff 3px,#007bff 4px,#0cf 5px,#1affdd 6px,#45ffb1 7px,#5cff9a 8px,#79ff7d 11px,#7eff79 42px,#86ff70 67px,#86ff70 472px,#47ffb0 476px,#13fde4 479px,#02e8f5 480px) 304px 0/1px 100%,linear-gradient(#000080,#000080 1px,#000089 2px,#0019ff 3px,#0073ff 4px,#00c2ff 5px,#12fce5 6px,#3cffbb 7px,#59ff9e 8px,#78ff7f 11px,#7dff7a 42px,#85ff72 67px,#85ff72 472px,#46ffb1 476px,#13fde4 479px,#02e8f5 480px) 305px 0/1px 100%,linear-gradient(#000080,#000086 2px,#0015ff 3px,#006cff 4px,#00b8ff 5px,#0bf3ec 6px,#33ffc4 7px,#55ffa2 8px,#74ff82 11px,#7dff7a 44px,#84ff73 69px,#84ff73 472px,#45ffb1 476px,#13fce4 479px,#02e7f5 480px) 306px 0/1px 100%,linear-gradient(#000080,#000084 2px,#0010ff 3px,#06f 4px,#00aeff 5px,#04eaf3 6px,#2bffcc 7px,#52ffa5 8px,#75ff82 12px,#7aff7c 42px,#83ff74 66px,#83ff74 472px,#45ffb2 476px,#12fce5 479px,#01e7f5 480px) 307px 0/1px 100%,linear-gradient(#000080,#000082 2px,#000cff 3px,#0060ff 4px,#00a7ff 5px,#00e3f9 6px,#24ffd3 7px,#4affad 8px,#73ff84 12px,#78ff7e 42px,#81ff76 66px,#81ff76 472px,#33ffc4 477px,#12fbe5 479px,#01e7f6 480px) 308px 0/2px 100%,linear-gradient(#000080,#000081 2px,#0009ff 3px,#005cff 4px,#00a1ff 5px,#00ddfe 6px,#1effd9 7px,#43ffb4 8px,#5eff99 10px,#70ff86 12px,#76ff81 42px,#7fff78 65px,#7fff78 472px,#32ffc5 477px,#11fbe6 479px,#01e6f6 480px) 310px 0/2px 100%,linear-gradient(#000080,#000080 2px,#0006ff 3px,#0057ff 4px,#00d7ff 6px,#18ffde 7px,#3cffba 8px,#50ffa7 9px,#6cff8b 12px,#74ff83 43px,#7cff7b 65px,#7cff7b 472px,#31ffc6 477px,#10fae6 479px,#00e6f7 480px) 312px 0/2px 100%,linear-gradient(#000080,#000080 2px,#0003ff 3px,#0053ff 4px,#00d1ff 6px,#13fde4 7px,#36ffc1 8px,#4cffaa 9px,#68ff8f 12px,#72ff85 44px,#7aff7d 66px,#7aff7d 472px,#1fffd7 478px,#10f9e7 479px,#00e5f7 480px) 314px 0/2px 100%,linear-gradient(#000080,#000080 2px,#00f 3px,#004fff 4px,#0cf 6px,#0ef6e9 7px,#30ffc7 8px,#49ffae 9px,#68ff8f 13px,#6dff8a 41px,#78ff7f 63px,#78ff7f 472px,#1fffd8 478px,#0ff8e8 479px,#00e5f7 480px) 316px 0/2px 100%,linear-gradient(#000080,#000080 2px,#00f 3px,#004aff 4px,#00c5ff 6px,#07efef 7px,#29ffce 8px,#45ffb2 9px,#65ff91 13px,#6aff8c 41px,#75ff82 63px,#75ff82 472px,#1effd9 478px,#0ef7e9 479px,#00e4f8 480px) 318px 0/3px 100%,linear-gradient(#000080,#000080 2px,#00f 3px,#0045ff 4px,#00beff 6px,#01e6f6 7px,#21ffd6 8px,#40ffb7 9px,#62ff95 13px,#67ff8f 41px,#72ff85 63px,#72ff85 472px,#1cffdb 478px,#0df6ea 479px,#00e3f9 480px) 321px 0/3px 100%,linear-gradient(#000080,#000080 2px,#00f 3px,#00b5ff 6px,#00defc 7px,#1affdd 8px,#39ffbe 9px,#5cff9a 13px,#66ff91 43px,#6fff88 64px,#6fff88 472px,#1affdd 478px,#00e1fb 480px) 324px 0/3px 100%,linear-gradient(#000080,#000080 2px,#00f 3px,#00aeff 6px,#00d8ff 7px,#14fee3 8px,#32ffc5 9px,#48ffae 11px,#5dff9a 14px,#62ff95 41px,#6cff8a 63px,#6cff8b 472px,#15fee2 478px,#06edf1 479px,#00dbfe 480px) 327px 0/2px 100%,linear-gradient(#000080,#000080 2px,#00f 3px,#0af 6px,#00d4ff 7px,#10f9e7 8px,#2effc9 9px,#3effb9 10px,#5bff9c 14px,#60ff97 41px,#6bff8c 63px,#69ff8e 472px,#1fffd8 477px,#0ff8e8 478px,#00e5f7 479px,#00d2ff 480px) 329px 0/1px 100%,linear-gradient(#000080,#000080 2px,#0000fe 3px,#00a7ff 6px,#00d2ff 7px,#0ef7e9 8px,#2bffcb 9px,#3dffba 10px,#5aff9d 14px,#5fff98 41px,#6aff8d 63px,#67ff90 472px,#19ffde 477px,#00ddfe 479px,#00caff 480px) 330px 0/1px 100%,linear-gradient(#000080,#000080 2px,#0000fc 3px,#00a4ff 6px,#00cfff 7px,#0cf4eb 8px,#29ffce 9px,#3bffbb 10px,#59ff9e 14px,#5eff99 41px,#69ff8e 62px,#66ff91 471px,#64ff92 472px,#24ffd3 476px,#12fce5 477px,#00e6f6 478px,#00d1ff 479px,#00bdff 480px) 331px 0/1px 100%,linear-gradient(#000080,#000080 2px,#0000fb 3px,#00a2ff 6px,#00cdff 7px,#09f1ed 8px,#26ffd0 9px,#3affbd 10px,#58ff9f 14px,#5dff9a 41px,#68ff8f 62px,#64ff93 471px,#61ff96 472px,#2fffc8 475px,#1cffdb 476px,#09f0ee 477px,#00d8ff 478px,#00a8ff 480px) 332px 0/1px 100%,linear-gradient(#000080,#000080 2px,#0000fa 3px,#009fff 6px,#00cbff 7px,#07eef0 8px,#24ffd3 9px,#38ffbe 10px,#56ffa1 14px,#5cff9b 41px,#67ff90 62px,#64ff93 470px,#5eff99 472px,#27ffcf 475px,#12fce4 476px,#00e1fa 477px,#007eff 480px) 333px 0/1px 100%,linear-gradient(#000080,#000080 2px,#0000f9 3px,#0067ff 5px,#009dff 6px,#00c8ff 7px,#05ecf2 8px,#21ffd5 9px,#37ffc0 10px,#55ffa2 14px,#5cff9b 42px,#66ff91 63px,#63ff93 469px,#59ff9d 472px,#1effd9 475px,#07eef0 476px,#00cdff 477px,#00a2ff 478px,#0038ff 480px) 334px 0/1px 100%,linear-gradient(#000080,#000080 2px,#0000f8 3px,#0065ff 5px,#009aff 6px,#00c6ff 7px,#03e9f4 8px,#1fffd8 9px,#36ffc1 10px,#53ffa4 14px,#5bff9c 42px,#65ff92 63px,#62ff95 469px,#54ffa2 472px,#2cffca 474px,#14fee3 475px,#00ddfe 476px,#00b2ff 477px,#0076ff 478px,#002aff 479px,#0000ed 480px) 335px 0/1px 100%,linear-gradient(#000080,#000080 2px,#0000f7 3px,#002eff 4px,#0098ff 6px,#00c4ff 7px,#01e6f6 8px,#1dffda 9px,#34ffc3 10px,#54ffa3 15px,#59ff9e 41px,#64ff93 62px,#61ff95 468px,#4fffa8 472px,#23ffd3 474px,#08f0ee 475px,#00c9ff 476px,#0092ff 477px,#04f 478px,#0000f2 479px,#000095 480px) 336px 0/1px 100%,linear-gradient(#000080,#000080 2px,#0000f5 3px,#002cff 4px,#0095ff 6px,#00c1ff 7px,#00e4f8 8px,#1affdd 9px,#33ffc4 10px,#53ffa4 15px,#58ff9f 41px,#63ff94 62px,#60ff97 468px,#53ffa4 471px,#49ffae 472px,#1affdd 474px,#00e1fb 475px,#00b2ff 476px,#006fff 477px,#0013ff 478px,#0000b1 479px,#000080 480px) 337px 0/1px 100%,linear-gradient(#000080,#000080 2px,#0000f4 3px,#002bff 4px,#0093ff 6px,#00bfff 7px,#00e1fa 8px,#18ffdf 9px,#31ffc5 10px,#52ffa5 15px,#57ffa0 41px,#62ff95 62px,#5eff99 468px,#4effa9 471px,#43ffb4 472px,#10f9e7 474px,#00d0ff 475px,#009aff 476px,#004dff 477px,#0000f5 478px,#000083 479px,#000080 480px) 338px 0/1px 100%,linear-gradient(#000080,#000080 2px,#0000f3 3px,#0029ff 4px,#0090ff 6px,#00bdff 7px,#00dffc 8px,#15ffe1 9px,#30ffc7 10px,#51ffa6 15px,#56ffa1 41px,#61ff96 62px,#5eff99 467px,#52ffa5 470px,#3cffbb 472px,#24ffd3 473px,#05ebf2 474px,#00beff 475px,#0080ff 476px,#002bff 477px,#0000ca 478px,#000080 479px,#000080 480px) 339px 0/1px 100%,linear-gradient(#000080,#000080 2px,#0000f2 3px,#0027ff 4px,#008eff 6px,#0bf 7px,#00dcfe 8px,#13fde4 9px,#2effc9 10px,#50ffa7 15px,#55ffa2 41px,#60ff97 62px,#5cff9a 467px,#4effa9 470px,#35ffc2 472px,#1bffdc 473px,#00ddfd 474px,#0af 475px,#0065ff 476px,#0008ff 477px,#0000a3 478px,#000080 479px,#000080 480px) 340px 0/1px 100%,linear-gradient(#000080,#000080 2px,#0000f1 3px,#0026ff 4px,#008cff 6px,#00b9ff 7px,#00daff 8px,#11fbe6 9px,#2cffcb 10px,#4fffa8 15px,#54ffa3 41px,#5fff98 62px,#5cff9a 466px,#52ffa5 469px,#3dffb9 471px,#2dffca 472px,#11fae6 473px,#00ceff 474px,#0094ff 475px,#0047ff 476px,#0000f1 477px,#000080 478px,#000080 480px) 341px 0/1px 100%,linear-gradient(#000080,#000080 2px,#0000f0 3px,#0024ff 4px,#00b7ff 7px,#00d7ff 8px,#0ff8e8 9px,#29ffce 10px,#4effa9 15px,#53ffa4 41px,#5eff99 62px,#5bff9c 466px,#4effa9 469px,#37ffc0 471px,#24ffd2 472px,#06edf1 473px,#00bcff 474px,#007cff 475px,#0027ff 476px,#0000c7 477px,#000080 478px,#000080 480px) 342px 0/1px 100%,linear-gradient(#000080,#000080 2px,#0000ef 3px,#0023ff 4px,#00b4ff 7px,#00d5ff 8px,#0df5ea 9px,#27ffd0 10px,#4cffaa 15px,#52ffa5 41px,#5dff9a 62px,#59ff9e 466px,#4affad 469px,#2fffc7 471px,#1bffdc 472px,#00dffc 473px,#00a9ff 474px,#0061ff 475px,#0004ff 476px,#0000a0 477px,#000080 478px,#000080 480px) 343px 0/1px 100%,linear-gradient(#000080,#000080 2px,#00e 3px,#0021ff 4px,#00b2ff 7px,#00d2ff 8px,#0af2ec 9px,#24ffd3 10px,#44ffb3 14px,#4cffab 16px,#51ffa6 41px,#5cff9b 62px,#59ff9e 465px,#4dffa9 468px,#38ffbf 470px,#11fae6 472px,#00ceff 473px,#0093ff 474px,#04f 475px,#0000ec 476px,#000080 477px,#000080 480px) 344px 0/1px 100%,linear-gradient(#000080,#000080 2px,#0000ed 3px,#0020ff 4px,#00b0ff 7px,#00d0ff 8px,#08f0ef 9px,#22ffd5 10px,#35ffc1 12px,#4bffac 16px,#50ffa7 41px,#5bff9c 62px,#57ffa0 465px,#49ffae 468px,#31ffc6 470px,#1effd9 471px,#05ecf2 472px,#00bcff 473px,#007aff 474px,#0025ff 475px,#0000c5 476px,#000080 477px,#000080 480px) 345px 0/1px 100%,linear-gradient(#000080,#000080 2px,#0000ec 3px,#001eff 4px,#00aeff 7px,#00ceff 8px,#06edf1 9px,#1fffd7 10px,#34ffc3 12px,#4affad 16px,#4fffa8 41px,#5aff9d 62px,#57ffa0 464px,#4cffab 467px,#38ffbe 469px,#13fde3 471px,#00dbff 472px,#00a6ff 473px,#005fff 474px,#0003ff 475px,#0000a0 476px,#000080 477px,#000080 480px) 346px 0/1px 100%,linear-gradient(#000080,#000080 2px,#0000eb 3px,#001dff 4px,#00acff 7px,#00cbff 8px,#04eaf3 9px,#1dffda 10px,#2cffcb 11px,#48ffae 16px,#4effa9 41px,#59ff9e 62px,#55ffa1 464px,#48ffaf 467px,#31ffc6 469px,#1fffd8 470px,#07efef 471px,#00c7ff 472px,#008dff 473px,#003fff 474px,#0000ea 475px,#000080 476px,#000080 480px) 347px 0/1px 100%,linear-gradient(#000080,#000080 2px,#0000ea 3px,#001bff 4px,#0af 7px,#00c9ff 8px,#02e8f5 9px,#1bffdc 10px,#2bffcc 11px,#47ffaf 16px,#4dffaa 41px,#58ff9f 62px,#56ffa1 463px,#43ffb4 467px,#28ffcf 469px,#14fee3 470px,#00ddfd 471px,#00afff 472px,#006dff 473px,#0018ff 474px,#00b 475px,#000080 476px,#000080 480px) 348px 0/1px 100%,linear-gradient(#000080,#000080 2px,#0000e9 3px,#001aff 4px,#00a8ff 7px,#00c7ff 8px,#00e5f7 9px,#18ffde 10px,#29ffce 11px,#46ffb0 16px,#4cffab 41px,#57ffa0 62px,#54ffa3 463px,#46ffb0 466px,#30ffc7 468px,#1effd8 469px,#07efef 470px,#00c8ff 471px,#0092ff 472px,#0047ff 473px,#0000f6 474px,#00008a 475px,#000080 476px,#000080 480px) 349px 0/1px 100%,linear-gradient(#000080,#000080 2px,#0000e8 3px,#0018ff 4px,#00a6ff 7px,#00e3f9 9px,#16ffe1 10px,#28ffcf 11px,#45ffb1 16px,#4bffac 41px,#56ffa0 62px,#54ffa3 462px,#41ffb6 466px,#27ffd0 468px,#13fde4 469px,#00dcfe 470px,#00aeff 471px,#006eff 472px,#0019ff 473px,#0000bd 474px,#000080 475px,#000080 480px) 350px 0/1px 100%,linear-gradient(#000080,#000080 2px,#0000e7 3px,#0017ff 4px,#00a3ff 7px,#00e0fb 9px,#14fee3 10px,#27ffd0 11px,#44ffb2 16px,#49ffae 40px,#56ffa1 61px,#52ffa4 462px,#45ffb2 465px,#2effc9 467px,#1cffda 468px,#05ecf1 469px,#00c5ff 470px,#008eff 471px,#04f 472px,#0000f2 473px,#000086 474px,#000080 476px,#000080 480px) 351px 0/1px 100%,linear-gradient(#000080,#000080 2px,#0000e6 3px,#0016ff 4px,#00a1ff 7px,#00defd 9px,#12fbe5 10px,#25ffd2 11px,#43ffb3 16px,#48ffaf 40px,#55ffa2 61px,#53ffa4 461px,#3fffb8 465px,#25ffd2 467px,#10fae6 468px,#00d9ff 469px,#0af 470px,#0068ff 471px,#0014ff 472px,#0000b6 473px,#000080 474px,#000080 480px) 352px 0/1px 100%,linear-gradient(#000080,#000080 2px,#0000e5 3px,#0014ff 4px,#009eff 7px,#00dbff 9px,#0ff9e7 10px,#24ffd3 11px,#42ffb4 16px,#47ffb0 40px,#54ffa3 61px,#51ffa6 461px,#43ffb4 464px,#2bffcb 466px,#1affdd 467px,#03e9f4 468px,#00c1ff 469px,#08f 470px,#003dff 471px,#0000eb 472px,#000080 473px,#000080 480px) 353px 0/1px 100%,linear-gradient(#000080,#000080 2px,#0000e4 3px,#0013ff 4px,#009cff 7px,#00d9ff 9px,#0df6e9 10px,#23ffd4 11px,#41ffb6 16px,#46ffb1 40px,#53ffa3 61px,#51ffa6 460px,#3dffba 464px,#22ffd5 466px,#0df6e9 467px,#00d4ff 468px,#00a4ff 469px,#0061ff 470px,#000bff 471px,#0000af 472px,#000080 473px,#000080 480px) 354px 0/1px 100%,linear-gradient(#000080,#000080 2px,#0000e3 3px,#0012ff 4px,#009aff 7px,#00d6ff 9px,#0bf3ec 10px,#21ffd6 11px,#3fffb7 16px,#45ffb1 40px,#53ffa4 61px,#51ffa6 459px,#40ffb7 463px,#28ffce 465px,#16ffe0 466px,#00e4f8 467px,#0bf 468px,#0081ff 469px,#0034ff 470px,#0000e0 471px,#000080 472px,#000080 480px) 355px 0/1px 100%,linear-gradient(#000080,#000080 2px,#0000e2 3px,#0010ff 4px,#0097ff 7px,#00d4ff 9px,#09f1ee 10px,#20ffd7 11px,#3fffb8 17px,#44ffb2 40px,#52ffa5 60px,#4fffa7 459px,#43ffb4 462px,#1effd9 465px,#09f1ed 466px,#00ceff 467px,#009dff 468px,#0059ff 469px,#0002ff 470px,#0000a5 471px,#000080 472px,#000080 480px) 356px 0/1px 100%,linear-gradient(#000080,#000080 2px,#0000e1 3px,#000fff 4px,#006aff 6px,#0095ff 7px,#00d2ff 9px,#07eef0 10px,#1effd9 11px,#3effb9 17px,#43ffb3 40px,#51ffa6 60px,#4fffa7 458px,#3effb9 462px,#25ffd2 464px,#12fce4 465px,#00defd 466px,#00b4ff 467px,#0079ff 468px,#002bff 469px,#0000d5 470px,#000080 471px,#000080 480px) 357px 0/1px 100%,linear-gradient(#000080,#000080 2px,#0000e1 3px,#000eff 4px,#0069ff 6px,#0093ff 7px,#00d0ff 9px,#05ecf2 10px,#1cffdb 11px,#3effb9 17px,#43ffb4 40px,#50ffa7 60px,#4effa9 458px,#40ffb6 461px,#1affdd 464px,#05ebf2 465px,#00c7ff 466px,#0094ff 467px,#004fff 468px,#00f 469px,#00009a 470px,#000080 471px,#000080 480px) 358px 0/1px 100%,linear-gradient(#000080,#000080 2px,#0000e0 3px,#000dff 4px,#0067ff 6px,#0091ff 7px,#00ceff 9px,#04eaf3 10px,#1affdd 11px,#3dffb9 17px,#42ffb4 40px,#4fffa7 61px,#4effa9 457px,#3bffbc 461px,#21ffd6 463px,#0ef7e9 464px,#00d7ff 465px,#00abff 466px,#006eff 467px,#001eff 468px,#0000c7 469px,#000080 470px,#000080 480px) 359px 0/1px 100%,linear-gradient(#000080,#000080 2px,#0000df 3px,#000cff 4px,#06f 6px,#0090ff 7px,#00cdff 9px,#02e8f4 10px,#19ffde 11px,#3dffba 17px,#42ffb5 40px,#4fffa8 61px,#4effa9 456px,#3effb9 460px,#16ffe1 463px,#00e5f8 464px,#00beff 465px,#0089ff 466px,#0041ff 467px,#0000f3 468px,#00008b 469px,#000080 470px,#000080 480px) 360px 0/1px 100%,linear-gradient(#000080,#000080 2px,#0000df 3px,#000bff 4px,#0065ff 6px,#008eff 7px,#00cbff 9px,#01e7f6 10px,#17ffe0 11px,#39ffbe 16px,#45ffb2 44px,#4effa9 63px,#4cffab 456px,#37ffbf 460px,#1dffda 462px,#09f0ee 463px,#00cfff 464px,#009fff 465px,#005fff 466px,#000cff 467px,#0000b3 468px,#000080 469px,#000080 480px) 361px 0/1px 100%,linear-gradient(#000080,#000080 2px,#0000de 3px,#000aff 4px,#0063ff 6px,#00aeff 8px,#00e5f7 10px,#16ffe1 11px,#2cffca 14px,#3dffba 17px,#42ffb5 41px,#4dffaa 62px,#4cffab 455px,#3bffbc 459px,#11fae6 462px,#00ddfe 463px,#00b4ff 464px,#007aff 465px,#002eff 466px,#0000db 467px,#000080 468px,#000080 480px) 362px 0/1px 100%,linear-gradient(#000080,#000080 2px,#0000de 3px,#0009ff 4px,#0062ff 6px,#00adff 8px,#00e3f8 10px,#14ffe3 11px,#26ffd1 13px,#3cffbb 17px,#42ffb5 41px,#4cffaa 62px,#4affac 455px,#3dffba 458px,#18ffdf 461px,#03e9f4 462px,#00c5ff 463px,#0092ff 464px,#004dff 465px,#00f 466px,#00009b 467px,#000080 468px,#000080 480px) 363px 0/1px 100%,linear-gradient(#000080,#000080 2px,#00d 3px,#0008ff 4px,#0061ff 6px,#00acff 8px,#00e2fa 10px,#13fde4 11px,#25ffd1 13px,#3cffbb 17px,#42ffb5 42px,#4cffab 63px,#4affac 454px,#37ffc0 458px,#1effd9 460px,#0bf3ec 461px,#00d4ff 462px,#00a8ff 463px,#006bff 464px,#001aff 465px,#0000c2 466px,#000080 467px,#000080 480px) 364px 0/1px 100%,linear-gradient(#000080,#000080 2px,#00d 3px,#0008ff 4px,#0060ff 6px,#00abff 8px,#00e0fb 10px,#11fbe6 11px,#1fffd8 12px,#3bffbc 17px,#41ffb5 42px,#4bffac 64px,#4affad 453px,#3affbd 457px,#13fce4 460px,#00e1fa 461px,#0bf 462px,#0085ff 463px,#003cff 464px,#0000ed 465px,#000086 466px,#000080 468px,#000080 480px) 365px 0/1px 100%,linear-gradient(#000080,#000080 2px,#0000dc 3px,#0007ff 4px,#005fff 6px,#00a9ff 8px,#00defc 10px,#10f9e7 11px,#1fffd8 12px,#3bffbb 18px,#42ffb5 43px,#4affad 65px,#48ffae 453px,#34ffc3 457px,#19ffde 459px,#05ecf2 460px,#00cbff 461px,#009cff 462px,#005bff 463px,#0007ff 464px,#0000ad 465px,#000080 466px,#000080 480px) 366px 0/1px 100%,linear-gradient(#000080,#000080 2px,#0000dc 3px,#0006ff 4px,#005dff 6px,#00a8ff 8px,#00ddfe 10px,#0ef7e8 11px,#1effd9 12px,#3bffbc 18px,#41ffb6 43px,#49ffad 66px,#48ffae 452px,#36ffc1 456px,#1effd8 458px,#0df5ea 459px,#00d8ff 460px,#00b0ff 461px,#0076ff 462px,#002aff 463px,#0000d7 464px,#000080 465px,#000080 480px) 367px 0/1px 100%,linear-gradient(#000080,#000080 2px,#0000db 3px,#0005ff 4px,#005cff 6px,#00a7ff 8px,#00dbff 10px,#0df6ea 11px,#1dffd9 12px,#3bffbc 18px,#41ffb5 44px,#49ffae 68px,#48ffaf 451px,#38ffbe 455px,#13fde4 458px,#00e3f9 459px,#00c0ff 460px,#008eff 461px,#00f 463px,#000098 464px,#000080 465px,#000080 480px) 368px 0/1px 100%,linear-gradient(#000080,#000080 2px,#0000da 3px,#0004ff 4px,#0034ff 5px,#00a6ff 8px,#00daff 10px,#0cf4eb 11px,#1dffda 12px,#3bffbc 18px,#41ffb6 44px,#48ffaf 70px,#46ffb1 451px,#32ffc5 455px,#18ffdf 457px,#05ecf1 458px,#00cdff 459px,#00a2ff 460px,#0065ff 461px,#0015ff 462px,#0000bf 463px,#000080 464px,#000080 480px) 369px 0/1px 100%,linear-gradient(#000080,#000080 2px,#0000da 3px,#0004ff 4px,#03f 5px,#00a4ff 8px,#00d8ff 10px,#0af2ed 11px,#1cffda 12px,#3affbc 18px,#41ffb6 45px,#47ffb0 74px,#46ffb1 450px,#34ffc3 454px,#1cffda 456px,#0bf3eb 457px,#00d8ff 458px,#00b2ff 459px,#007dff 460px,#0035ff 461px,#0000e7 462px,#000083 463px,#000080 480px) 370px 0/1px 100%,linear-gradient(#000080,#000080 2px,#0000d9 3px,#0003ff 4px,#0032ff 5px,#00a3ff 8px,#00d7ff 10px,#09f0ee 11px,#1cffdb 12px,#3affbd 18px,#41ffb6 46px,#46ffb1 86px,#46ffb1 449px,#35ffc2 453px,#10f9e7 456px,#00e1fb 457px,#00bfff 458px,#0091ff 459px,#0051ff 460px,#00f 461px,#0000a7 462px,#000080 463px,#000080 480px) 371px 0/1px 100%,linear-gradient(#000080,#000080 2px,#0000d9 3px,#0002ff 4px,#0031ff 5px,#00a2ff 8px,#00d5ff 10px,#07efef 11px,#1bffdc 12px,#3affbd 18px,#41ffb6 46px,#46ffb1 93px,#45ffb1 448px,#36ffc1 452px,#14fee3 455px,#01e7f5 456px,#00c9ff 457px,#009fff 458px,#0067ff 459px,#001dff 460px,#00c 461px,#000080 462px,#000080 480px) 372px 0/1px 100%,linear-gradient(#000080,#000080 2px,#0000d8 3px,#0001ff 4px,#0030ff 5px,#00a1ff 8px,#00d4ff 10px,#06edf1 11px,#1bffdc 12px,#3affbd 18px,#41ffb6 47px,#45ffb2 241px,#45ffb2 447px,#37ffc0 451px,#17ffe0 454px,#06edf1 455px,#00d1ff 456px,#00abff 457px,#07f 458px,#03f 459px,#0000eb 460px,#00008b 461px,#000080 462px,#000080 480px) 373px 0/1px 100%,linear-gradient(#000080,#000080 2px,#0000d8 3px,#00f 4px,#002fff 5px,#00a0ff 8px,#00d2ff 10px,#05ebf2 11px,#19ffde 12px,#39ffbd 18px,#41ffb6 49px,#43ffb4 447px,#30ffc6 451px,#1affdd 453px,#09f1ed 454px,#00d7ff 455px,#00b4ff 456px,#0083ff 457px,#00f 459px,#0000a2 460px,#000080 461px,#000080 480px) 374px 0/1px 100%,linear-gradient(#000080,#000080 2px,#0000d7 3px,#00f 4px,#002eff 5px,#009fff 8px,#00d1ff 10px,#03eaf3 11px,#18ffdf 12px,#39ffbe 18px,#41ffb5 51px,#43ffb4 446px,#31ffc5 450px,#1cffdb 452px,#0df5ea 453px,#00ddfe 454px,#00bcff 455px,#008eff 456px,#0052ff 457px,#0005ff 458px,#0000b6 459px,#000080 460px,#000080 480px) 375px 0/1px 100%,linear-gradient(#000080,#000080 2px,#0000d7 3px,#00f 4px,#002eff 5px,#009dff 8px,#00cfff 10px,#02e8f5 11px,#16ffe1 12px,#38ffbf 18px,#42ffb4 78px,#42ffb4 445px,#32ffc5 449px,#1effd9 451px,#0ff9e7 452px,#00e2fa 453px,#00c3ff 454px,#0098ff 455px,#005eff 456px,#0015ff 457px,#0000c8 458px,#000080 459px,#000080 480px) 376px 0/1px 100%,linear-gradient(#000080,#000080 2px,#0000d6 3px,#00f 4px,#0052ff 6px,#009cff 8px,#00ceff 10px,#01e7f6 11px,#15ffe2 12px,#37ffbf 18px,#42ffb5 78px,#42ffb5 444px,#33ffc4 448px,#12fce5 451px,#00e6f6 452px,#00c9ff 453px,#00a1ff 454px,#006aff 455px,#0023ff 456px,#0000d9 457px,#000080 458px,#000080 480px) 377px 0/1px 100%,linear-gradient(#000080,#000080 2px,#0000d6 3px,#00f 4px,#0051ff 6px,#009bff 8px,#0cf 10px,#00e5f7 11px,#13fee3 12px,#37ffc0 18px,#41ffb6 78px,#42ffb5 443px,#34ffc3 447px,#14ffe2 450px,#04eaf3 451px,#00cfff 452px,#00a9ff 453px,#0075ff 454px,#0031ff 455px,#0000eb 456px,#00008e 457px,#000080 458px,#000080 480px) 378px 0/1px 100%,linear-gradient(#000080,#000080 2px,#0000d5 3px,#00f 4px,#0050ff 6px,#09f 8px,#00cbff 10px,#00e3f8 11px,#12fce5 12px,#2cffcb 16px,#38ffbf 19px,#40ffb7 90px,#40ffb7 443px,#2dffca 447px,#17ffe0 449px,#07eef0 450px,#00d4ff 451px,#00b0ff 452px,#007fff 453px,#0000fd 455px,#00009e 456px,#000080 457px,#000080 480px) 379px 0/1px 100%,linear-gradient(#000080,#000080 2px,#0000d5 3px,#00f 4px,#0073ff 7px,#0098ff 8px,#00e2fa 11px,#11fae6 12px,#21ffd6 14px,#38ffbf 19px,#3fffb7 95px,#3fffb8 442px,#2effc9 446px,#19ffde 448px,#09f1ed 449px,#00d9ff 450px,#00b8ff 451px,#0089ff 452px,#004bff 453px,#00f 454px,#0000ae 455px,#000080 456px,#000080 480px) 380px 0/1px 100%,linear-gradient(#000080,#000080 2px,#0000d5 3px,#00f 4px,#0096ff 8px,#00e0fb 11px,#0ff9e7 12px,#20ffd6 14px,#37ffbf 19px,#3fffb8 101px,#3fffb8 441px,#2fffc8 445px,#1bffdc 447px,#0cf4eb 448px,#00ddfd 449px,#00beff 450px,#0093ff 451px,#0058ff 452px,#000dff 453px,#0000be 454px,#000080 455px,#000080 480px) 381px 0/1px 100%,linear-gradient(#000080,#000080 2px,#0000d4 3px,#00f 4px,#0095ff 8px,#00dffc 11px,#0ef7e9 12px,#1bffdc 13px,#37ffc0 19px,#3effb9 110px,#3fffb8 440px,#2fffc7 444px,#1cffda 446px,#0ef7e8 447px,#00e2fa 448px,#00c4ff 449px,#009cff 450px,#0064ff 451px,#001dff 452px,#0000d1 453px,#000080 454px,#000080 480px) 382px 0/1px 100%,linear-gradient(#000080,#000080 2px,#0000d4 3px,#00f 4px,#0093ff 8px,#00ddfd 11px,#0df5ea 12px,#1affdd 13px,#37ffc0 19px,#3dffba 124px,#3effb9 439px,#30ffc7 443px,#11fae6 446px,#00e5f7 447px,#00caff 448px,#00a4ff 449px,#006fff 450px,#002bff 451px,#0000e3 452px,#008 453px,#000080 454px,#000080 480px) 383px 0/1px 100%,linear-gradient(#000080,#000080 2px,#0000d3 3px,#00f 4px,#0092ff 8px,#00dcff 11px,#0bf4eb 12px,#1affdd 13px,#37ffc0 19px,#3cffbb 146px,#3cffbb 439px,#29ffcd 443px,#13fde4 445px,#03e9f4 446px,#00cfff 447px,#00acff 448px,#007aff 449px,#0038ff 450px,#0000f4 451px,#000097 452px,#000080 453px,#000080 480px) 384px 0/1px 100%,linear-gradient(#000080,#000080 2px,#0000d3 3px,#00f 4px,#0091ff 8px,#00daff 11px,#0af2ed 12px,#19ffde 13px,#36ffc0 19px,#3cffbb 190px,#3cffbb 438px,#2affcd 442px,#15ffe2 444px,#06edf1 445px,#00d4ff 446px,#00b3ff 447px,#0084ff 448px,#00f 450px,#0000a7 451px,#000080 452px,#000080 480px) 385px 0/1px 100%,linear-gradient(#000080,#000080 2px,#0000d2 3px,#00f 4px,#008fff 8px,#00d9ff 11px,#09f0ee 12px,#19ffde 13px,#36ffc1 20px,#3bffbc 307px,#3bffbb 437px,#2bffcc 441px,#17ffe0 443px,#08f0ee 444px,#00d9ff 445px,#00b9ff 446px,#008dff 447px,#0051ff 448px,#0006ff 449px,#0000b7 450px,#000080 451px,#000080 480px) 386px 0/1px 100%,linear-gradient(#000080,#000080 2px,#0000d2 3px,#00f 4px,#008eff 8px,#00d8ff 11px,#07efef 12px,#18ffdf 13px,#36ffc1 20px,#3bffbc 436px,#2cffcb 440px,#19ffde 442px,#0bf3ec 443px,#00ddfe 444px,#00c0ff 445px,#0096ff 446px,#005eff 447px,#0015ff 448px,#0000c8 449px,#000080 450px,#000080 480px) 387px 0/1px 100%,linear-gradient(#000080,#000080 2px,#0000d1 3px,#00f 4px,#008cff 8px,#00d6ff 11px,#06edf1 12px,#18ffdf 13px,#36ffc1 20px,#39ffbe 436px,#25ffd2 440px,#1bffdc 441px,#0df6e9 442px,#00e1fa 443px,#00c6ff 444px,#009fff 445px,#006aff 446px,#0024ff 447px,#0000da 448px,#000080 449px,#000080 480px) 388px 0/1px 100%,linear-gradient(#000080,#000080 2px,#0000d1 3px,#00f 4px,#008bff 8px,#00d5ff 11px,#05ecf2 12px,#17ffe0 13px,#35ffc1 20px,#39ffbe 435px,#26ffd1 439px,#10f9e7 441px,#00e5f7 442px,#00cbff 443px,#00a7ff 444px,#0075ff 445px,#0032ff 446px,#0000ed 447px,#000090 448px,#000080 449px,#000080 480px) 389px 0/1px 100%,linear-gradient(#000080,#000080 2px,#0000d1 3px,#00f 4px,#008aff 8px,#00d3ff 11px,#04eaf3 12px,#16ffe1 13px,#35ffc2 20px,#39ffbe 434px,#27ffcf 438px,#12fce5 440px,#03e9f4 441px,#00d0ff 442px,#00aeff 443px,#007fff 444px,#00f 446px,#0000a0 447px,#000080 448px,#000080 480px) 390px 0/1px 100%,linear-gradient(#000080,#000080 2px,#0000d0 3px,#00f 4px,#08f 8px,#00d2ff 11px,#03e9f4 12px,#15ffe2 13px,#35ffc2 20px,#39ffbe 433px,#29ffce 437px,#14ffe3 439px,#06ecf1 440px,#00d5ff 441px,#00b5ff 442px,#0089ff 443px,#004cff 444px,#00f 445px,#0000b0 446px,#000080 447px,#000080 480px) 391px 0/1px 100%,linear-gradient(#000080,#000080 2px,#0000d0 3px,#00f 4px,#0087ff 8px,#00d1ff 11px,#01e7f5 12px,#14fee3 13px,#35ffc2 20px,#39ffbe 432px,#2affcd 436px,#16ffe1 438px,#00daff 440px,#00bcff 441px,#0092ff 442px,#0058ff 443px,#000eff 444px,#0000c1 445px,#000080 446px,#000080 480px) 392px 0/1px 100%,linear-gradient(#000080,#000080 2px,#0000cf 3px,#00f 4px,#00a2ff 9px,#00cfff 11px,#00e6f7 12px,#12fce5 13px,#34ffc2 20px,#39ffbe 431px,#2affcc 435px,#18ffdf 437px,#0bf3ec 438px,#00defd 439px,#00c2ff 440px,#009aff 441px,#0063ff 442px,#001dff 443px,#0000d2 444px,#000080 445px,#000080 480px) 393px 0/1px 100%,linear-gradient(#000080,#000080 2px,#0000cf 3px,#00f 4px,#00a1ff 9px,#00ceff 11px,#00e4f8 12px,#11fae6 13px,#34ffc3 20px,#37ffc0 431px,#24ffd3 435px,#1affdd 436px,#0df5ea 437px,#00e1fa 438px,#00c7ff 439px,#00a2ff 440px,#006fff 441px,#002bff 442px,#0000e4 443px,#008 444px,#000080 445px,#000080 480px) 394px 0/1px 100%,linear-gradient(#000080,#000080 2px,#0000ce 3px,#00f 4px,#00a0ff 9px,#00e3f9 12px,#10f9e7 13px,#1dffda 15px,#34ffc3 21px,#37ffc0 430px,#24ffd3 434px,#0ff8e8 436px,#00e5f8 437px,#0cf 438px,#0af 439px,#0079ff 440px,#0039ff 441px,#0000f6 442px,#000098 443px,#000080 444px,#000080 480px) 395px 0/1px 100%,linear-gradient(#000080,#000080 2px,#0000ce 3px,#00f 4px,#009fff 9px,#00e1fa 12px,#0ef7e8 13px,#1dffda 15px,#34ffc3 21px,#36ffc1 429px,#25ffd2 433px,#10f9e7 435px,#01e7f5 436px,#00d0ff 437px,#00b0ff 438px,#0083ff 439px,#0046ff 440px,#00f 441px,#0000a9 442px,#000080 443px,#000080 480px) 396px 0/1px 100%,linear-gradient(#000080,#000080 2px,#0000ce 3px,#00f 4px,#009eff 9px,#00e0fb 12px,#0df6ea 13px,#17ffdf 14px,#33ffc3 21px,#36ffc1 428px,#25ffd2 432px,#11fbe6 434px,#03e9f4 435px,#00d3ff 436px,#00b5ff 437px,#008bff 438px,#0051ff 439px,#0007ff 440px,#0000ba 441px,#000080 442px,#000080 480px) 397px 0/1px 100%,linear-gradient(#000080,#000080 2px,#0000cd 3px,#0000fe 4px,#003eff 6px,#009dff 9px,#00defc 12px,#0cf4eb 13px,#17ffe0 14px,#33ffc4 21px,#36ffc1 427px,#25ffd2 431px,#12fbe5 433px,#04eaf3 434px,#00d5ff 435px,#00b8ff 436px,#0091ff 437px,#005bff 438px,#0015ff 439px,#0000ca 440px,#000080 441px,#000080 480px) 398px 0/1px 100%,linear-gradient(#000080,#000080 2px,#0000cd 3px,#0000fe 4px,#003dff 6px,#009cff 9px,#00ddfe 12px,#0bf3ec 13px,#16ffe0 14px,#33ffc4 21px,#35ffc2 426px,#25ffd2 430px,#12fce5 432px,#05ebf2 433px,#00d6ff 434px,#0bf 435px,#0095ff 436px,#0062ff 437px,#0020ff 438px,#0000db 439px,#000082 440px,#000080 480px) 399px 0/1px 100%,linear-gradient(#000080,#000080 2px,#00c 3px,#0000fd 4px,#001aff 5px,#009bff 9px,#00dcff 12px,#16ffe1 14px,#32ffc4 21px,#35ffc2 425px,#25ffd2 429px,#12fce5 431px,#05ecf2 432px,#00d7ff 433px,#00bcff 434px,#0096ff 435px,#0065ff 436px,#0025ff 437px,#0000e5 438px,#00008e 439px,#000080 440px,#000080 480px) 400px 0/1px 100%,linear-gradient(#000080,#000080 2px,#00c 3px,#0000fc 4px,#0019ff 5px,#009aff 9px,#00daff 12px,#15ffe1 14px,#32ffc5 21px,#35ffc2 424px,#25ffd2 428px,#12fce5 430px,#00d7ff 432px,#00bcff 433px,#0097ff 434px,#06f 435px,#0027ff 436px,#0000e7 437px,#000093 438px,#000080 439px,#000080 480px) 401px 0/1px 100%,linear-gradient(#000080,#000080 2px,#00c 3px,#0000fc 4px,#0018ff 5px,#09f 9px,#00d9ff 12px,#15ffe2 14px,#32ffc5 21px,#34ffc3 423px,#25ffd2 427px,#12fce5 429px,#00d8ff 431px,#00bdff 432px,#0098ff 433px,#06f 434px,#0027ff 435px,#0000e8 436px,#000094 437px,#000080 438px,#000080 480px) 402px 0/1px 100%,linear-gradient(#000080,#000080 2px,#0000cb 3px,#0000fb 4px,#0017ff 5px,#0098ff 9px,#00d8ff 12px,#06edf1 13px,#14ffe2 14px,#32ffc5 21px,#34ffc3 422px,#24ffd2 426px,#12fce4 428px,#00d8ff 430px,#00beff 431px,#09f 432px,#0067ff 433px,#0028ff 434px,#0000e8 435px,#000094 436px,#000080 437px,#000080 480px) 403px 0/1px 100%,linear-gradient(#000080,#000080 2px,#0000cb 3px,#0000fa 4px,#0016ff 5px,#0097ff 9px,#00d6ff 12px,#05ebf2 13px,#14fee3 14px,#31ffc5 21px,#34ffc3 421px,#24ffd2 425px,#12fce4 427px,#00d9ff 429px,#00bfff 430px,#009aff 431px,#0068ff 432px,#0028ff 433px,#0000e8 434px,#000094 435px,#000080 436px,#000080 480px) 404px 0/1px 100%,linear-gradient(#000080,#000080 2px,#0000cb 3px,#0000fa 4px,#0016ff 5px,#0096ff 9px,#00d5ff 12px,#03eaf3 13px,#13fde4 14px,#31ffc6 22px,#33ffc4 420px,#24ffd3 424px,#13fce4 426px,#00daff 428px,#00c0ff 429px,#009dff 430px,#006bff 431px,#002aff 432px,#0000ea 433px,#000094 434px,#000080 435px,#000080 480px) 405px 0/1px 100%,linear-gradient(#000080,#000080 2px,#0000ca 3px,#0000f9 4px,#0015ff 5px,#0095ff 9px,#00d4ff 12px,#02e8f4 13px,#13fde4 14px,#31ffc6 22px,#33ffc4 419px,#24ffd3 423px,#13fde4 425px,#00daff 427px,#00c1ff 428px,#009fff 429px,#006fff 430px,#0030ff 431px,#0000ef 432px,#000097 433px,#000080 434px,#000080 480px) 406px 0/1px 100%,linear-gradient(#000080,#000080 2px,#0000ca 3px,#0000f9 4px,#0014ff 5px,#0094ff 9px,#00d2ff 12px,#01e7f6 13px,#12fce5 14px,#31ffc6 22px,#33ffc4 418px,#24ffd3 422px,#13fde4 424px,#00daff 426px,#00c2ff 427px,#00a0ff 428px,#0071ff 429px,#0000f8 431px,#00009e 432px,#000080 433px,#000080 480px) 407px 0/1px 100%,linear-gradient(#000080,#000080 2px,#0000c9 3px,#0000f8 4px,#0013ff 5px,#0092ff 9px,#00d1ff 12px,#00e5f7 13px,#11fae6 14px,#27ffd0 19px,#30ffc6 22px,#32ffc4 417px,#24ffd3 421px,#13fde4 423px,#00dbff 425px,#00c2ff 426px,#00a0ff 427px,#0072ff 428px,#0000fc 430px,#0000a5 431px,#000080 432px,#000080 480px) 408px 0/1px 100%,linear-gradient(#000080,#000080 2px,#0000c9 3px,#0000f7 4px,#0013ff 5px,#0091ff 9px,#00d0ff 12px,#00e4f8 13px,#0ff9e7 14px,#1affdd 16px,#30ffc7 22px,#31ffc6 417px,#1dffda 421px,#14fee3 422px,#00dcff 424px,#00c3ff 425px,#00a1ff 426px,#0073ff 427px,#0000fd 429px,#0000a6 430px,#000080 431px,#000080 480px) 409px 0/1px 100%,linear-gradient(#000080,#000080 2px,#0000c9 3px,#0000f7 4px,#0012ff 5px,#0090ff 9px,#00ceff 12px,#00e3f9 13px,#0ef7e9 14px,#19ffdd 16px,#30ffc7 22px,#30ffc6 416px,#1effd9 420px,#14ffe2 421px,#00ddfe 423px,#00c4ff 424px,#00a2ff 425px,#0074ff 426px,#0000fd 428px,#0000a6 429px,#000080 430px,#000080 480px) 410px 0/1px 100%,linear-gradient(#000080,#000080 2px,#0000c8 3px,#0000f6 4px,#01f 5px,#008eff 9px,#00e1fa 13px,#0df6ea 14px,#15ffe2 15px,#30ffc7 22px,#30ffc6 415px,#1fffd8 419px,#15ffe1 420px,#00dffc 422px,#00c6ff 423px,#00a4ff 424px,#0075ff 425px,#0000fd 427px,#0000a6 428px,#000080 429px,#000080 480px) 411px 0/1px 100%,linear-gradient(#000080,#000080 2px,#0000c8 3px,#0000f5 4px,#0010ff 5px,#008dff 9px,#00e0fb 13px,#0cf4eb 14px,#14fee3 15px,#2fffc7 22px,#30ffc6 414px,#20ffd7 418px,#17ffe0 419px,#00e1fa 421px,#00c9ff 422px,#00a8ff 423px,#0078ff 424px,#0000fe 426px,#0000a6 427px,#000080 428px,#000080 480px) 412px 0/1px 100%,linear-gradient(#000080,#000080 2px,#0000c8 3px,#0000f5 4px,#0010ff 5px,#008cff 9px,#00dffc 13px,#0bf3ec 14px,#13fee3 15px,#2fffc8 22px,#30ffc7 413px,#21ffd6 417px,#18ffdf 418px,#0df6ea 419px,#00e4f8 420px,#00cdff 421px,#00adff 422px,#007fff 423px,#00f 425px,#0000a8 426px,#000080 427px,#000080 480px) 413px 0/1px 100%,linear-gradient(#000080,#000080 2px,#0000c7 3px,#0000f4 4px,#000fff 5px,#008bff 9px,#00ddfd 13px,#09f1ed 14px,#13fde4 15px,#2fffc8 22px,#2effc8 413px,#1affdd 417px,#0ff8e8 418px,#02e8f5 419px,#00d2ff 420px,#00b4ff 421px,#08f 422px,#004cff 423px,#00f 424px,#0000b0 425px,#000080 426px,#000080 480px) 414px 0/1px 100%,linear-gradient(#000080,#000080 2px,#0000c7 3px,#0000f4 4px,#000eff 5px,#0089ff 9px,#00dcfe 13px,#12fce4 15px,#2fffc8 23px,#2effc8 412px,#1bffdc 416px,#11fbe6 417px,#04ebf2 418px,#00d6ff 419px,#0bf 420px,#0092ff 421px,#0059ff 422px,#000fff 423px,#0000c0 424px,#000080 425px,#000080 480px) 415px 0/1px 100%,linear-gradient(#000080,#000080 2px,#0000c7 3px,#0000f3 4px,#000dff 5px,#08f 9px,#00dbff 13px,#12fce5 15px,#2effc9 23px,#2effc8 411px,#1dffda 415px,#13fde3 416px,#00dbff 418px,#00c1ff 419px,#009cff 420px,#0067ff 421px,#0020ff 422px,#0000d5 423px,#000080 424px,#000080 480px) 416px 0/1px 100%,linear-gradient(#000080,#000080 2px,#0000c6 3px,#0000f3 4px,#000dff 5px,#0087ff 9px,#00d9ff 13px,#11fbe5 15px,#2effc9 23px,#2effc8 410px,#1effd9 414px,#15ffe1 415px,#00dffc 417px,#00c7ff 418px,#00a5ff 419px,#0074ff 420px,#0031ff 421px,#0000eb 422px,#00008d 423px,#000080 424px,#000080 480px) 417px 0/1px 100%,linear-gradient(#000080,#000080 2px,#0000c6 3px,#0000f2 4px,#000cff 5px,#0086ff 9px,#00d8ff 13px,#11fbe6 15px,#2effc9 23px,#2dffca 410px,#17ffe0 414px,#00e3f8 416px,#00cdff 417px,#00aeff 418px,#0080ff 419px,#00f 421px,#0000a1 422px,#000080 423px,#000080 480px) 418px 0/1px 100%,linear-gradient(#000080,#000080 2px,#0000c6 3px,#0000f1 4px,#000bff 5px,#0085ff 9px,#00d7ff 13px,#04eaf3 14px,#11fae6 15px,#21ffd6 19px,#2dffc9 23px,#2dffca 409px,#19ffde 413px,#0ff8e8 414px,#01e7f5 415px,#00d2ff 416px,#00b5ff 417px,#008cff 418px,#0051ff 419px,#0006ff 420px,#0000b6 421px,#000080 422px,#000080 480px) 419px 0/1px 100%,linear-gradient(#000080,#000080 2px,#0000c5 3px,#0000f1 4px,#000aff 5px,#0083ff 9px,#00d5ff 13px,#03e9f4 14px,#10f9e7 15px,#24ffd3 20px,#2dffca 24px,#2dffca 408px,#1bffdc 412px,#11fae6 413px,#04ebf2 414px,#00d7ff 415px,#00bcff 416px,#0096ff 417px,#0060ff 418px,#0018ff 419px,#00c 420px,#000080 421px,#000080 480px) 420px 0/1px 100%,linear-gradient(#000080,#000080 2px,#0000c5 3px,#0000f0 4px,#000aff 5px,#0082ff 9px,#00c1ff 12px,#00d4ff 13px,#02e7f5 14px,#10f9e7 15px,#24ffd3 20px,#2dffca 24px,#2dffca 407px,#1cffdb 411px,#13fde4 412px,#00dcff 414px,#00c3ff 415px,#00a0ff 416px,#006dff 417px,#0029ff 418px,#0000e1 419px,#000086 420px,#000080 422px,#000080 480px) 421px 0/1px 100%,linear-gradient(#000080,#000080 2px,#0000c5 3px,#0000f0 4px,#0009ff 5px,#0081ff 9px,#00c0ff 12px,#00d3ff 13px,#00e6f6 14px,#0ff8e8 15px,#1fffd8 19px,#2dffca 24px,#2bffcc 407px,#15ffe2 411px,#00e0fb 413px,#00c9ff 414px,#00a9ff 415px,#007aff 416px,#0000f7 418px,#009 419px,#000080 420px,#000080 480px) 422px 0/1px 100%,linear-gradient(#000080,#000080 2px,#0000c4 3px,#0000ef 4px,#0008ff 5px,#0080ff 9px,#00bfff 12px,#00e5f7 14px,#0ff8e8 15px,#1effd8 19px,#2cffca 24px,#2bffcc 406px,#17ffe0 410px,#00e5f7 412px,#00cfff 413px,#00b1ff 414px,#0086ff 415px,#004aff 416px,#00f 417px,#0000ac 418px,#000080 419px,#000080 480px) 423px 0/1px 100%,linear-gradient(#000080,#000080 2px,#0000c4 3px,#0000ef 4px,#0008ff 5px,#007fff 9px,#00abff 11px,#00d0ff 13px,#00e3f8 14px,#0df6e9 15px,#1affdd 18px,#2cffcb 24px,#2bffcc 405px,#19ffde 409px,#0ff9e7 410px,#03e9f4 411px,#00d5ff 412px,#00b9ff 413px,#0091ff 414px,#0059ff 415px,#000fff 416px,#0000c1 417px,#000080 418px,#000080 480px) 424px 0/1px 100%,linear-gradient(#000080,#000080 2px,#0000c4 3px,#00e 4px,#0007ff 5px,#0061ff 8px,#0097ff 10px,#00cfff 13px,#00e2fa 14px,#0cf5ea 15px,#19ffdd 18px,#2cffcb 24px,#2bffcc 404px,#1bffdc 408px,#12fce5 409px,#00dbff 411px,#00c1ff 412px,#009dff 413px,#0068ff 414px,#02f 415px,#0000d7 416px,#000080 417px,#000080 480px) 425px 0/1px 100%,linear-gradient(#000080,#000080 2px,#0000c3 3px,#00e 4px,#0006ff 5px,#0060ff 8px,#0096ff 10px,#00e1fb 14px,#0bf3ec 15px,#19ffde 18px,#2cffcb 24px,#2affcd 404px,#15ffe2 408px,#00e0fb 410px,#00c9ff 411px,#00a8ff 412px,#0078ff 413px,#0035ff 414px,#00e 415px,#00008f 416px,#000080 417px,#000080 480px) 426px 0/1px 100%,linear-gradient(#000080,#000080 2px,#0000c3 3px,#0000ed 4px,#0006ff 5px,#005fff 8px,#0095ff 10px,#00dffc 14px,#0af2ed 15px,#14ffe2 17px,#2bffcb 24px,#2affcd 403px,#18ffdf 407px,#01e6f6 409px,#00d1ff 410px,#00b4ff 411px,#08f 412px,#004aff 413px,#00f 414px,#0000a6 415px,#000080 416px,#000080 480px) 427px 0/1px 100%,linear-gradient(#000080,#000080 2px,#0000c3 3px,#0000ec 4px,#0005ff 5px,#005eff 8px,#0094ff 10px,#00defd 14px,#09f1ee 15px,#14fee3 17px,#2bffcc 24px,#29ffce 403px,#1bffdc 406px,#12fce5 407px,#00daff 409px,#00bfff 410px,#0097ff 411px,#005eff 412px,#0012ff 413px,#0000c0 414px,#000080 415px,#000080 480px) 428px 0/1px 100%,linear-gradient(#000080,#000080 2px,#0000c2 3px,#0000ec 4px,#0004ff 5px,#005dff 8px,#0093ff 10px,#00ddfe 14px,#08efef 15px,#13fee3 17px,#2bffcc 24px,#29ffce 402px,#16ffe1 406px,#00e3f9 408px,#00cbff 409px,#00a7ff 410px,#0072ff 411px,#0029ff 412px,#0000dc 413px,#000080 414px,#000080 480px) 429px 0/1px 100%,linear-gradient(#000080,#000080 2px,#0000c2 3px,#0000eb 4px,#0004ff 5px,#0041ff 7px,#0092ff 10px,#00dcff 14px,#0ff8e8 16px,#1effd8 20px,#2bffcc 24px,#28ffcf 402px,#1affdc 405px,#11fbe5 406px,#00d7ff 408px,#00b8ff 409px,#0087ff 410px,#0000f7 412px,#000094 413px,#000080 414px,#000080 480px) 430px 0/1px 100%,linear-gradient(#000080,#000080 2px,#0000c2 3px,#0000eb 4px,#0003ff 5px,#0040ff 7px,#0092ff 10px,#00daff 14px,#0ff8e8 16px,#1effd9 20px,#2affcc 25px,#27ffd0 402px,#17ffdf 405px,#0df6ea 406px,#00e4f8 407px,#00c9ff 408px,#009eff 409px,#005bff 410px,#0004ff 411px,#0000ac 412px,#000080 413px,#000080 480px) 431px 0/1px 100%,linear-gradient(#000080,#000080 2px,#0000c2 3px,#0000ea 4px,#0003ff 5px,#003fff 7px,#0091ff 10px,#00d9ff 14px,#0ef7e9 16px,#1dffda 20px,#2affcd 25px,#28ffcf 401px,#15ffe2 405px,#00dbff 407px,#00b5ff 408px,#0078ff 409px,#02f 410px,#0000c9 411px,#000080 412px,#000080 480px) 432px 0/1px 100%,linear-gradient(#000080,#000080 2px,#0000c1 3px,#0000ea 4px,#0002ff 5px,#003fff 7px,#0090ff 10px,#00d8ff 14px,#0ef6e9 16px,#19ffde 19px,#2affcd 25px,#28ffcf 401px,#1bffdb 404px,#13fde4 405px,#05ecf1 406px,#00ceff 407px,#0098ff 408px,#0045ff 409px,#0000ed 410px,#000086 411px,#000080 413px,#000080 480px) 433px 0/1px 100%,linear-gradient(#000080,#000080 2px,#0000c1 3px,#0000e9 4px,#0001ff 5px,#003eff 7px,#008fff 10px,#00d7ff 14px,#02e9f4 15px,#0df6ea 16px,#18ffde 19px,#2affcd 25px,#27ffd0 401px,#1bffdc 404px,#12fbe5 405px,#01e7f5 406px,#00beff 407px,#0074ff 408px,#0010ff 409px,#0000b2 410px,#000080 411px,#000080 480px) 434px 0/1px 100%,linear-gradient(#000080,#000080 2px,#0000c1 3px,#0000e9 4px,#0001ff 5px,#003dff 7px,#008eff 10px,#00d5ff 14px,#01e7f5 15px,#0df5ea 16px,#18ffdf 19px,#29ffce 25px,#27ffd0 401px,#1bffdc 404px,#12fce5 405px,#00e5f7 406px,#00b5ff 407px,#0061ff 408px,#00f 409px,#0000b6 410px,#000089 411px,#000080 412px,#000080 480px) 435px 0/1px 100%,linear-gradient(#000080,#000080 2px,#0000c0 3px,#0000e8 4px,#00f 5px,#003cff 7px,#008dff 10px,#00d4ff 14px,#00e6f6 15px,#0cf5ea 16px,#17ffdf 19px,#29ffce 25px,#27ffd0 401px,#14fee3 405px,#03eaf3 406px,#00bfff 407px,#0031ff 409px,#00f 410px,#0000eb 414px,#0000e6 432px,#0000e4 473px,#0000d0 480px) 436px 0/1px 100%,linear-gradient(#000080,#000080 2px,#0000bc 3px,#0000e3 4px,#00f 5px,#0083ff 10px,#00dcfe 15px,#05ebf2 16px,#18ffdf 21px,#22ffd4 25px,#28ffce 203px,#41ffb5 379px,#42ffb5 405px,#3dffba 406px,#2bffcb 407px,#0cf4eb 408px,#00caff 409px,#00b1ff 410px,#00a7ff 412px,#00adff 480px) 437px 0/1px 100%,linear-gradient(#000080,#000080 2px,#0000bc 3px,#0000e3 4px,#00f 5px,#0083ff 10px,#00dcfe 15px,#05ebf2 16px,#18ffdf 21px,#22ffd4 25px,#2bffcc 185px,#6bff8c 344px,#73ff84 406px,#51ffa6 410px,#59ff9e 461px,#69ff8e 475px,#63ff93 480px) 438px 0/1px 100%,linear-gradient(#000080,#000080 2px,#0000bc 3px,#0000e3 4px,#00f 5px,#0084ff 10px,#00dcfe 15px,#05ecf2 16px,#18ffdf 21px,#22ffd4 25px,#2cffca 180px,#94ff63 337px,#a6ff50 407px,#a2ff55 418px,#b6ff41 462px,#d2ff25 474px,#c7ff30 480px) 439px 0/1px 100%,linear-gradient(#000080,#000080 2px,#0000bc 3px,#0000e3 4px,#00f 5px,#0084ff 10px,#00ddfe 15px,#05ecf2 16px,#18ffdf 21px,#22ffd4 25px,#27ffd0 108px,#2fffc8 179px,#bdff3a 333px,#dbff1c 406px,#e9ff0d 446px,#f6f601 461px,#ffe300 466px,#ffc600 474px,#ffd900 480px) 440px 0/1px 100%,linear-gradient(#000080,#000080 2px,#0000bd 3px,#0000e4 4px,#00f 5px,#0084ff 10px,#00ddfe 15px,#05ecf2 16px,#18ffdf 21px,#22ffd4 25px,#29ffcd 97px,#32ffc5 178px,#e6ff11 331px,#f4f802 354px,#ffe500 381px,#ffcd00 437px,#ffae00 462px,#ff7400 473px,#f80 479px,#ff8c00 480px) 441px 0/1px 100%,linear-gradient(#000080,#000080 2px,#0000bd 3px,#0000e4 4px,#00f 5px,#0084ff 10px,#00ddfe 15px,#05ecf2 16px,#18ffdf 21px,#22ffd4 25px,#2bffcb 92px,#32ffc5 176px,#f2fb05 320px,#ffe900 339px,#ffc200 397px,#ffaf00 436px,#ff8c00 462px,#ff4b00 473px,#ff5800 477px,#ff6500 480px) 442px 0/1px 100%,linear-gradient(#000080,#000080 2px,#0000bd 3px,#0000e4 4px,#00f 5px,#0085ff 10px,#00ddfe 15px,#05ecf1 16px,#18ffdf 21px,#22ffd4 25px,#2dffc9 70px,#49ffae 124px,#53ffa4 178px,#f1fc06 317px,#ffeb00 334px,#ffc200 399px,#ffae00 437px,#ff8d00 462px,#ff4b00 473px,#ff5700 477px,#ff6500 480px) 443px 0/1px 100%,linear-gradient(#000080,#000080 2px,#0000bd 3px,#0000e4 4px,#00f 5px,#0085ff 10px,#00defd 15px,#06edf1 16px,#19ffde 21px,#24ffd3 25px,#34ffc2 60px,#67ff90 120px,#71ff85 179px,#f2fb05 314px,#ffe800 337px,#ffc100 402px,#ffaf00 437px,#ff8d00 462px,#ff4b00 473px,#ff5700 477px,#ff6400 480px) 444px 0/1px 100%,linear-gradient(#000080,#000080 2px,#0000bd 3px,#0000e5 4px,#00f 5px,#0086ff 10px,#00dffc 15px,#07eef0 16px,#17ffe0 20px,#28ffcf 25px,#43ffb4 55px,#85ff71 118px,#91ff66 181px,#f2fb05 309px,#ffe800 334px,#ffc000 406px,#ffae00 438px,#ff8d00 462px,#ff4b00 473px,#ff5700 477px,#ff6300 480px) 445px 0/1px 100%,linear-gradient(#000080,#000080 2px,#0000be 3px,#0000e5 4px,#00f 5px,#0087ff 10px,#00e0fb 15px,#08f0ef 16px,#18ffde 20px,#2cffcb 25px,#50ffa7 52px,#80ff77 82px,#a4ff53 119px,#b0ff46 185px,#f2fb05 301px,#ffe600 334px,#ffbe00 414px,#ffab00 442px,#ff8d00 462px,#ff4a00 473px,#ff5600 477px,#ff6300 480px) 446px 0/1px 100%,linear-gradient(#000080,#000080 2px,#0000be 3px,#0000e5 4px,#00f 5px,#08f 10px,#00d0ff 14px,#00e2fa 15px,#09f1ed 16px,#1affdd 20px,#2fffc7 25px,#5cff9b 50px,#99ff5e 78px,#c2ff34 118px,#d1ff26 195px,#f2fb05 284px,#ffe500 333px,#ffb100 436px,#ff8d00 462px,#ff4a00 473px,#ff5600 477px,#ff6200 480px) 447px 0/1px 100%,linear-gradient(#000080,#000080 2px,#0000be 3px,#0000e5 4px,#00f 5px,#08f 10px,#00d1ff 14px,#00e3f9 15px,#0af2ec 16px,#1bffdb 20px,#33ffc4 25px,#68ff8f 49px,#b4ff42 77px,#e1ff16 118px,#f3fa04 235px,#ffe300 332px,#ffb200 436px,#ff8e00 462px,#ff4a00 473px,#f50 477px,#ff6200 480px) 448px 0/1px 100%,linear-gradient(#000080,#000080 2px,#0000be 3px,#0000e6 4px,#00f 5px,#0089ff 10px,#00d2ff 14px,#00e4f8 15px,#0cf4eb 16px,#18ffdf 19px,#36ffc1 25px,#6bff8c 47px,#c2ff35 76px,#effe08 118px,#feed00 284px,#ffe300 338px,#ffb500 435px,#ff9300 461px,#ff4900 473px,#ff5300 477px,#ff5e00 480px) 449px 0/9px 100%,linear-gradient(#000080,#000080 2px,#0000be 3px,#0000e6 4px,#00f 5px,#008aff 10px,#00d3ff 14px,#00e5f7 15px,#0cf5ea 16px,#19ffde 19px,#37ffc0 25px,#67ff90 45px,#b9ff3e 72px,#edff0a 116px,#fcf000 302px,#ffe500 344px,#ffba00 434px,#ff9400 461px,#ff4800 473px,#ff5400 478px,#ff5a00 480px) 458px 0/4px 100%,linear-gradient(#000080,#000080 2px,#0000be 3px,#0000e6 4px,#00f 5px,#008aff 10px,#00d3ff 14px,#00e6f7 15px,#0df5ea 16px,#1affdd 19px,#38ffbf 25px,#68ff8f 45px,#a5ff52 64px,#c4ff33 78px,#ecff0b 119px,#feec00 337px,#ffc000 432px,#ff9500 461px,#ff4700 473px,#ff5200 478px,#ff5800 480px) 462px 0/4px 100%,linear-gradient(#000080,#000080 2px,#0000be 3px,#0000e6 4px,#00f 5px,#008aff 10px,#00d4ff 14px,#01e6f6 15px,#0df6e9 16px,#1affdd 19px,#38ffbe 25px,#69ff8e 45px,#a1ff56 62px,#c4ff33 78px,#eaff0d 119px,#fcef00 341px,#ffd400 410px,#ffc100 434px,#ff9100 462px,#ff4600 473px,#ff5000 478px,#f50 480px) 466px 0/4px 100%,linear-gradient(#000080,#000080 2px,#0000be 3px,#0000e6 4px,#00f 5px,#008aff 10px,#00d4ff 14px,#01e7f6 15px,#0ef7e9 16px,#1bffdc 19px,#39ffbe 25px,#69ff8e 45px,#a2ff55 63px,#c1ff36 78px,#e6ff10 119px,#f8f500 340px,#ffdf00 400px,#ffc700 432px,#ff9200 462px,#ff4500 473px,#ff4e00 478px,#ff5300 480px) 470px 0/3px 100%,linear-gradient(#000080,#000080 2px,#0000be 3px,#0000e6 4px,#00f 5px,#008bff 10px,#00d5ff 14px,#01e7f5 15px,#0ef7e9 16px,#20ffd6 20px,#3affbd 25px,#6cff8a 46px,#9fff58 63px,#bdff3a 78px,#e0ff16 120px,#f3fa04 343px,#ffe600 397px,#ffca00 432px,#ff9300 462px,#ff4500 473px,#ff4f00 479px,#ff5100 480px) 473px 0/3px 100%,linear-gradient(#000080,#000080 2px,#0000be 3px,#0000e6 4px,#00f 5px,#008bff 10px,#00d5ff 14px,#02e8f5 15px,#0ff8e8 16px,#21ffd6 20px,#3affbd 25px,#6fff87 47px,#9eff59 64px,#b9ff3e 79px,#daff1d 120px,#f0fd07 352px,#feec00 396px,#ffcf00 431px,#ff9300 462px,#f40 473px,#ff4d00 479px,#ff5000 480px) 476px 0/3px 100%,linear-gradient(#000080,#000080 2px,#0000be 3px,#0000e6 4px,#00f 5px,#008bff 10px,#00d6ff 14px,#02e8f5 15px,#0ff8e8 16px,#21ffd5 20px,#3bffbc 25px,#75ff82 49px,#9fff58 66px,#b6ff41 81px,#d4ff23 120px,#ebff0c 354px,#f7f601 391px,#ffe200 416px,#ffd000 432px,#ff9400 462px,#ff4500 473px,#ff4e00 479px,#ff5000 480px) 479px 0/3px 100%,linear-gradient(#000080,#000080 2px,#0000be 3px,#0000e6 4px,#00f 5px,#008bff 10px,#00d6ff 14px,#02e9f4 15px,#0ff9e7 16px,#22ffd5 20px,#3bffbc 25px,#7dff7a 52px,#abff4c 74px,#ceff29 120px,#e6ff11 357px,#f3fa04 393px,#ffe500 417px,#ffd000 433px,#ff9400 462px,#ff4700 473px,#ff5100 480px) 482px 0/3px 100%,linear-gradient(#000080,#000080 2px,#0000be 3px,#0000e6 4px,#00f 5px,#008bff 10px,#00d6ff 14px,#03e9f4 15px,#10f9e7 16px,#1dffda 19px,#3cffbb 25px,#95ff61 64px,#adff4a 82px,#c7ff2f 121px,#e1ff16 360px,#eeff09 393px,#ffeb00 414px,#ffd500 432px,#ff9500 462px,#ff4800 473px,#ff5300 480px) 485px 0/3px 100%,linear-gradient(#000080,#000080 2px,#0000be 3px,#0000e6 4px,#00f 5px,#008bff 10px,#00d6ff 14px,#03e9f4 15px,#10f9e7 16px,#1dffd9 19px,#3cffbb 25px,#91ff66 63px,#a9ff4e 83px,#c1ff36 122px,#dcff1a 364px,#e8ff0f 392px,#f8f500 409px,#ffe000 428px,#ff9500 462px,#ff4a00 473px,#ff5400 480px) 488px 0/3px 100%,linear-gradient(#000080,#000080 2px,#0000be 3px,#0000e6 4px,#00f 5px,#008bff 10px,#00d6ff 14px,#03e9f4 15px,#10f9e7 16px,#1dffd9 19px,#3cffbb 25px,#8dff6a 62px,#a6ff51 86px,#bbff3c 123px,#d8ff1f 374px,#e4ff13 394px,#f5f802 411px,#ffe300 428px,#ff9600 462px,#ff4900 474px,#f50 480px) 491px 0/4px 100%,linear-gradient(#000080,#000080 2px,#0000be 3px,#0000e6 4px,#00f 5px,#008bff 10px,#00d6ff 14px,#03e9f4 15px,#10f9e7 16px,#1dffda 19px,#3bffbb 25px,#8bff6b 62px,#a4ff53 87px,#b8ff3f 124px,#d5ff22 387px,#f2fb04 413px,#ffe200 430px,#ff9600 462px,#ff4b00 474px,#ff5700 480px) 495px 0/4px 100%,linear-gradient(#000080,#000080 2px,#0000be 3px,#0000e6 4px,#00f 5px,#008bff 10px,#00d6ff 14px,#03e9f4 15px,#10f9e7 16px,#22ffd5 20px,#3bffbc 25px,#8aff6d 62px,#a2ff55 87px,#b5ff42 124px,#cfff28 388px,#f2fb04 417px,#ffe000 432px,#ff9700 462px,#ff4e00 474px,#ff5800 480px) 499px 0/4px 100%,linear-gradient(#000080,#000080 2px,#0000be 3px,#0000e6 4px,#00f 5px,#008bff 10px,#00d6ff 14px,#02e9f4 15px,#0ff9e7 16px,#22ffd5 20px,#3bffbc 25px,#87ff70 62px,#9fff58 87px,#b1ff45 124px,#c9ff2e 387px,#f1fc06 418px,#ffe200 432px,#ff9800 462px,#ff5100 474px,#ff5b00 480px) 503px 0/8px 100%,linear-gradient(#000080,#000080 2px,#0000be 3px,#0000e6 4px,#00f 5px,#008bff 10px,#00d6ff 14px,#02e8f4 15px,#0ff8e8 16px,#22ffd5 20px,#3affbc 25px,#85ff72 63px,#9bff5c 87px,#acff4b 124px,#c7ff30 387px,#f2fb05 419px,#ffe300 432px,#f90 462px,#f50 474px,#ff5e00 480px) 511px 0/8px 100%,linear-gradient(#000080,#000080 2px,#0000be 3px,#0000e6 4px,#00f 5px,#008bff 10px,#00d6ff 14px,#02e8f5 15px,#0ff8e8 16px,#21ffd5 20px,#3affbd 25px,#83ff74 64px,#98ff5f 89px,#a7ff50 125px,#c0ff37 380px,#d3ff24 397px,#f2fb05 419px,#ffe400 432px,#ff9a00 462px,#ff5900 474px,#ff6100 480px) 519px 0/8px 100%,linear-gradient(#000080,#000080 2px,#0000be 3px,#0000e6 4px,#00f 5px,#008bff 10px,#00d5ff 14px,#02e8f5 15px,#0ff8e8 16px,#21ffd6 20px,#39ffbd 25px,#7fff77 64px,#94ff63 88px,#a2ff55 125px,#b7ff3f 353px,#c4ff33 388px,#f1fc06 419px,#ffe500 432px,#fa0 457px,#ff9600 463px,#ff5d00 474px,#ff6500 480px) 527px 0/8px 100%,linear-gradient(#000080,#000080 2px,#0000be 3px,#0000e6 4px,#00f 5px,#008bff 10px,#00d5ff 14px,#02e8f5 15px,#0ff8e8 16px,#21ffd6 20px,#39ffbe 25px,#7dff7a 65px,#91ff66 90px,#9dff5a 126px,#adff4a 332px,#c2ff35 388px,#f2fb05 420px,#ffe500 432px,#ffbc00 451px,#ff9800 463px,#ff6100 474px,#ff6800 480px) 535px 0/9px 100%,linear-gradient(#000080,#000080 2px,#0000be 3px,#0000e6 4px,#00f 5px,#008bff 10px,#00d5ff 14px,#01e7f5 15px,#0ef7e8 16px,#20ffd6 20px,#38ffbf 25px,#7bff7c 65px,#8eff69 92px,#98ff5e 126px,#9eff59 257px,#abff4c 344px,#bfff38 388px,#f2fb05 420px,#ffe600 432px,#fb0 452px,#ff9a00 463px,#ff6300 474px,#ff6a00 480px) 544px 0/9px 100%,linear-gradient(#000080,#000080 2px,#0000be 3px,#0000e6 4px,#00f 5px,#008aff 10px,#00d5ff 14px,#01e7f6 15px,#0ef7e9 16px,#1bffdc 19px,#38ffbf 25px,#77ff80 64px,#8aff6c 92px,#94ff63 126px,#95ff62 223px,#a4ff53 338px,#bdff3a 388px,#f1fc05 420px,#ffe600 432px,#ffba00 453px,#ff9c00 463px,#f60 474px,#ff6c00 480px) 553px 0/9px 100%,linear-gradient(#000080,#000080 2px,#0000be 3px,#0000e6 4px,#00f 5px,#008aff 10px,#00d4ff 14px,#01e7f6 15px,#0ef7e9 16px,#1bffdc 19px,#37ffc0 25px,#75ff82 64px,#88ff6f 95px,#8fff68 126px,#8dff6a 209px,#9dff5a 336px,#baff3d 388px,#f1fc06 420px,#ffe800 431px,#ffbc00 453px,#ff9f00 463px,#ff6800 474px,#ff6f00 480px) 562px 0/10px 100%,linear-gradient(#000080,#000080 2px,#0000be 3px,#0000e6 4px,#00f 5px,#008aff 10px,#00d4ff 14px,#01e6f6 15px,#0ef6e9 16px,#1affdc 19px,#36ffc1 25px,#72ff85 64px,#86ff71 100px,#8aff6d 131px,#88ff6f 207px,#99ff5e 336px,#b5ff42 387px,#f2fb05 421px,#ffe800 431px,#ffb800 455px,#ffa100 463px,#ff6b00 474px,#ff7100 480px) 572px 0/9px 100%,linear-gradient(#000080,#000080 2px,#0000be 3px,#0000e6 4px,#00f 5px,#008aff 10px,#00d4ff 14px,#01e6f6 15px,#0df6e9 16px,#1affdd 19px,#36ffc1 25px,#6fff87 64px,#85ff72 106px,#84ff72 213px,#96ff61 338px,#afff48 387px,#f1fc06 421px,#ffea00 430px,#ffb800 456px,#ffa400 463px,#ff6d00 474px,#ff7400 480px) 581px 0/9px 100%,linear-gradient(#000080,#000080 2px,#0000be 3px,#0000e6 4px,#00f 5px,#008aff 10px,#00d4ff 14px,#00e6f6 15px,#0df6ea 16px,#1affdd 19px,#35ffc2 25px,#6dff8a 64px,#84ff73 115px,#7fff78 198px,#93ff64 341px,#a6ff51 386px,#f2fb05 422px,#ffe800 431px,#ffb300 459px,#ff9b00 465px,#ff6f00 474px,#ff7600 480px) 590px 0/9px 100%,linear-gradient(#000080,#000080 2px,#0000be 3px,#0000e6 4px,#00f 5px,#008aff 10px,#00d3ff 14px,#00e6f7 15px,#0df5ea 16px,#19ffdd 19px,#34ffc2 25px,#69ff8e 63px,#7eff79 123px,#7bff7c 201px,#90ff67 347px,#a0ff57 386px,#f0fd06 422px,#ffeb00 430px,#ffb000 461px,#ff7300 474px,#ff7a00 480px) 599px 0/9px 100%,linear-gradient(#000080,#000080 2px,#0000be 3px,#0000e6 4px,#00f 5px,#008aff 10px,#00d3ff 14px,#00e5f7 15px,#0df5ea 16px,#19ffde 19px,#34ffc3 25px,#65ff92 62px,#77ff7f 125px,#77ff80 207px,#8eff68 358px,#99ff5e 386px,#f1fd06 423px,#ffeb00 431px,#ffae00 462px,#ff7800 474px,#ff7f00 480px) 608px 0/9px 100%,linear-gradient(#000080,#000080 2px,#0000be 3px,#0000e6 4px,#00f 5px,#008aff 10px,#00d3ff 14px,#00e5f7 15px,#0cf5ea 16px,#19ffde 19px,#33ffc4 25px,#61ff96 61px,#71ff85 128px,#74ff83 217px,#8fff68 384px,#f1fc06 424px,#ffe900 433px,#ffab00 463px,#ff7d00 474px,#ff8300 480px) 617px 0/9px 100%,linear-gradient(#000080,#000080 2px,#0000be 3px,#0000e6 4px,#00f 5px,#0089ff 10px,#00d3ff 14px,#00e5f7 15px,#0cf4eb 16px,#19ffde 19px,#33ffc4 25px,#5eff99 60px,#6cff8b 133px,#73ff83 242px,#8cff6b 386px,#f2fc05 425px,#ffe700 435px,#ffad00 463px,#ff8100 474px,#f80 480px) 626px 0/9px 100%,linear-gradient(#000080,#000080 2px,#0000be 3px,#0000e6 4px,#00f 5px,#0089ff 10px,#00d2ff 14px,#00e5f8 15px,#0cf4eb 16px,#18ffde 19px,#32ffc5 25px,#5bff9b 59px,#60ff97 94px,#67ff90 142px,#83ff74 384px,#f0fe07 425px,#fdee00 432px,#ffae00 463px,#ff8500 474px,#ff8c00 480px) 635px 0/5px 100%,linear-gradient(#000080,#000080 2px,#0000be 3px,#0000e6 4px,#00f 5px,#0089ff 10px,#00d2ff 14px,#00e4f8 15px,#0cf4eb 16px,#18ffdf 19px,#32ffc5 25px,#5aff9d 59px,#59ff9e 86px,#63ff94 138px,#80ff77 384px,#f2fc05 428px,#ffe500 441px,#ffab00 464px,#ff8700 474px,#ff8e00 480px) 640px 0/3px 100%,linear-gradient(#000080,#000080 2px,#0000be 3px,#0000e6 4px,#00f 5px,#0089ff 10px,#00d2ff 14px,#00e4f8 15px,#0cf4eb 16px,#18ffdf 19px,#32ffc5 25px,#59ff9e 59px,#55ffa2 83px,#5fff98 140px,#7fff78 385px,#f1fd06 431px,#ffe500 445px,#ff9d00 468px,#ff8900 474px,#ff8f00 480px) 643px 0/3px 100%,linear-gradient(#000080,#000080 2px,#0000be 3px,#0000e6 4px,#00f 5px,#0089ff 10px,#00d2ff 14px,#00e4f8 15px,#0cf4eb 16px,#18ffdf 19px,#31ffc5 25px,#58ff9f 59px,#51ffa6 81px,#5cff9b 144px,#7dff7a 385px,#ebff0b 431px,#feec00 445px,#ff8a00 474px,#ff9100 480px) 646px 0/3px 100%,linear-gradient(#000080,#000080 2px,#0000be 3px,#0000e6 4px,#00f 5px,#0089ff 10px,#00d2ff 14px,#00e4f8 15px,#0bf4eb 16px,#18ffdf 19px,#31ffc5 25px,#57ff9f 58px,#4dffaa 80px,#58ff9e 150px,#79ff7d 385px,#e6ff11 431px,#f7f601 444px,#ffe000 450px,#ff8c00 474px,#ff9300 480px) 649px 0/3px 100%,linear-gradient(#000080,#000080 2px,#0000be 3px,#0000e6 4px,#00f 5px,#0089ff 10px,#00d2ff 14px,#00e4f8 15px,#0bf4eb 16px,#18ffdf 19px,#31ffc6 25px,#57ffa0 58px,#4affad 79px,#55ffa1 159px,#78ff7f 386px,#e0ff16 431px,#f3fa04 445px,#ffe500 450px,#ff8f00 473px,#ff9400 480px) 652px 0/3px 100%,linear-gradient(#000080,#000080 2px,#0000be 3px,#0000e6 4px,#00f 5px,#0089ff 10px,#00d2ff 14px,#00e4f8 15px,#0bf4eb 16px,#18ffdf 19px,#31ffc6 25px,#56ffa1 58px,#46ffb1 78px,#74ff82 386px,#dbff1c 431px,#f0fd06 446px,#ffe600 451px,#ffa700 466px,#ff8f00 474px,#ff9600 480px) 655px 0/3px 100%,linear-gradient(#000080,#000080 2px,#0000be 3px,#0000e6 4px,#00f 5px,#0089ff 10px,#00d2ff 14px,#00e4f8 15px,#0bf3ec 16px,#18ffdf 19px,#31ffc6 25px,#55ffa2 58px,#44ffb3 78px,#72ff85 386px,#d6ff20 430px,#ecff0b 446px,#fcef00 450px,#ffaf00 465px,#ff9500 474px,#ff9b00 480px) 658px 0/1px 100%,linear-gradient(#000080,#000080 2px,#0000be 3px,#0000e6 4px,#00f 5px,#0089ff 10px,#00d2ff 14px,#00e4f8 15px,#0bf3ec 16px,#18ffdf 19px,#31ffc6 25px,#55ffa2 58px,#43ffb4 78px,#71ff86 386px,#d5ff22 430px,#eaff0d 446px,#fcef00 451px,#ffb500 466px,#ff9e00 474px,#ffa400 480px) 659px 0/1px 100%,linear-gradient(#000080,#000080 2px,#0000be 3px,#0000e6 4px,#00f 5px,#0089ff 10px,#00d2ff 14px,#00e4f8 15px,#0bf3ec 16px,#17ffdf 19px,#31ffc6 25px,#54ffa2 58px,#42ffb5 78px,#6fff87 386px,#d3ff24 430px,#e7ff10 446px,#f5f802 450px,#ffe800 454px,#ffb500 469px,#ffa900 475px,#ffae00 480px) 660px 0/1px 100%,linear-gradient(#000080,#000080 2px,#0000be 3px,#0000e6 4px,#00f 5px,#0089ff 10px,#00d2ff 14px,#00e4f8 15px,#0bf3ec 16px,#17ffdf 19px,#31ffc6 25px,#54ffa3 58px,#40ffb6 77px,#6eff89 386px,#d1ff26 430px,#e5ff12 446px,#f1fc06 450px,#ffe600 456px,#ffb200 474px,#ffb700 480px) 661px 0/1px 100%,linear-gradient(#000080,#000080 2px,#0000be 3px,#0000e6 4px,#00f 5px,#0089ff 10px,#00d2ff 14px,#00e4f8 15px,#0bf3ec 16px,#17ffdf 19px,#30ffc6 25px,#54ffa3 58px,#3fffb7 77px,#6dff8a 386px,#cfff27 430px,#e5ff12 447px,#f3f903 452px,#ffe600 458px,#ffbc00 474px,#ffc000 480px) 662px 0/1px 100%,linear-gradient(#000080,#000080 2px,#0000be 3px,#0000e6 4px,#00f 5px,#0089ff 10px,#00d2ff 14px,#00e4f8 15px,#0bf3ec 16px,#17ffdf 19px,#30ffc6 25px,#53ffa3 58px,#3effb8 77px,#6cff8b 386px,#ceff29 430px,#e2ff15 447px,#f2fb05 453px,#ffe600 460px,#ffc600 474px,#ffc900 480px) 663px 0/1px 100%,linear-gradient(#000080,#000080 2px,#0000be 3px,#0000e6 4px,#00f 5px,#0089ff 10px,#00d2ff 14px,#00e4f8 15px,#0bf3ec 16px,#17ffdf 19px,#30ffc6 25px,#53ffa4 58px,#3dffba 77px,#6aff8d 386px,#ccff2b 430px,#e2ff15 448px,#f2fb05 455px,#ffe600 463px,#ffd000 475px,#ffd300 480px) 664px 0/1px 100%,linear-gradient(#000080,#000080 2px,#0000be 3px,#0000e6 4px,#00f 5px,#0089ff 10px,#00d2ff 14px,#00e4f8 15px,#0bf3ec 16px,#17ffdf 19px,#30ffc6 25px,#53ffa4 58px,#3cffbb 77px,#69ff8e 386px,#caff2d 430px,#e1ff16 449px,#f3fa04 458px,#ffe600 467px,#ffda00 475px,#ffdc00 480px) 665px 0/1px 100%,linear-gradient(#000080,#000080 2px,#0000be 3px,#0000e6 4px,#00f 5px,#0089ff 10px,#00d2ff 14px,#00e4f8 15px,#0bf3ec 16px,#17ffdf 19px,#30ffc7 25px,#53ffa4 58px,#3bffbc 77px,#68ff8f 386px,#c8ff2f 430px,#e1ff16 451px,#f2fb04 461px,#ffe600 472px,#ffe500 480px) 666px 0/1px 100%,linear-gradient(#000080,#000080 2px,#0000be 3px,#0000e6 4px,#00f 5px,#0089ff 10px,#00d2ff 14px,#00e4f8 15px,#0bf3ec 16px,#17ffe0 19px,#30ffc7 25px,#52ffa5 58px,#3affbd 77px,#66ff90 386px,#c6ff30 430px,#e4ff13 456px,#f3fa04 466px,#feed00 476px,#fdee00 480px) 667px 0/1px 100%,linear-gradient(#000080,#000080 2px,#0000be 3px,#0000e6 4px,#00f 5px,#0089ff 10px,#00d2ff 14px,#00e4f8 15px,#0bf3ec 16px,#17ffe0 19px,#30ffc7 25px,#52ffa5 58px,#39ffbe 77px,#65ff92 386px,#c5ff32 430px,#f1fc06 470px,#f5f702 480px) 668px 0/1px 100%,linear-gradient(#000080,#000080 2px,#0000be 3px,#0000e6 4px,#00f 5px,#0089ff 10px,#00d2ff 14px,#00e4f8 15px,#0bf3ec 16px,#17ffe0 19px,#30ffc7 25px,#52ffa5 58px,#38ffbf 77px,#64ff93 386px,#c3ff34 430px,#edff0a 478px,#edff0a 480px) 669px 0/1px 100%;background-repeat:no-repeat"></div><div class="h" style="left:162px;top:1201px;width:670px;height:481px;background:linear-gradient(#0058ff,#0057ff 2px,#0004ff 9px,#0000fa 11px,#000083 21px,#000080 457px,#000086 458px,#0000de 460px,#0000f9 462px,#0006ff 464px,#0020ff 466px,#0026ff 468px,#0050ff 469px,#19ffde 470px,#5aff9d 472px,#b3ff43 478px,#caff2c 480px) 0px 0/1px 100%,linear-gradient(#0058ff,#0057ff 2px,#0004ff 9px,#0000fa 11px,#000083 21px,#000080 456px,#000086 457px,#0000de 459px,#0000f6 460px,#00f 461px,#000fff 463px,#0020ff 464px,#0026ff 465px,#0050ff 467px,#0050ff 469px,#19ffde 470px,#5aff9d 472px,#b3ff43 478px,#caff2c 480px) 1px 0/1px 100%,linear-gradient(#0058ff,#0057ff 2px,#0004ff 9px,#0000fa 11px,#000083 21px,#000080 455px,#000086 456px,#0000de 458px,#0000f6 459px,#00f 460px,#0020ff 462px,#0026ff 463px,#0050ff 465px,#0050ff 466px,#04eaf3 467px,#11fbe6 469px,#22ffd4 470px,#5aff9c 472px,#b2ff45 478px,#c9ff2e 480px) 2px 0/1px 100%,linear-gradient(#0058ff,#0057ff 2px,#0004ff 9px,#0000fa 11px,#000083 21px,#000080 454px,#000086 455px,#0000de 457px,#0000f6 458px,#00f 459px,#0020ff 461px,#003fff 462px,#0050ff 463px,#0050ff 464px,#00d9ff 465px,#00e1fa 466px,#0df6e9 467px,#23ffd4 468px,#36ffc1 470px,#5cff9b 472px,#b0ff47 478px,#c6ff31 480px) 3px 0/1px 100%,linear-gradient(#0058ff,#0057ff 2px,#0004ff 9px,#0000fa 11px,#000083 21px,#000080 453px,#000086 454px,#0000de 456px,#0000f6 457px,#00f 458px,#0020ff 460px,#003fff 461px,#0050ff 462px,#00c8ff 463px,#00d0ff 464px,#00e5f7 465px,#15ffe2 466px,#22ffd5 467px,#37ffc0 468px,#6dff8a 473px,#aeff49 478px,#c3ff34 480px) 4px 0/1px 100%,linear-gradient(#0058ff,#0057ff 2px,#0004ff 9px,#0000fa 11px,#000083 21px,#000080 453px,#00a 454px,#0000de 455px,#0000f6 456px,#00f 457px,#0020ff 459px,#003fff 460px,#0050ff 461px,#00c0ff 462px,#00d5ff 463px,#08f0ef 464px,#14ffe2 465px,#2affcd 466px,#70ff87 473px,#acff4b 478px,#c1ff36 480px) 5px 0/1px 100%,linear-gradient(#0058ff,#0057ff 2px,#0004ff 9px,#0000fa 11px,#000083 21px,#000080 452px,#00008b 453px,#0000c6 454px,#00e 455px,#00f 456px,#0020ff 458px,#003fff 459px,#0050ff 460px,#00b9ff 461px,#00cdff 462px,#08efef 463px,#1dffda 464px,#80ff76 474px,#bfff38 480px) 6px 0/1px 100%,linear-gradient(#0058ff,#0057ff 2px,#0004ff 9px,#0000fa 11px,#000083 21px,#000080 452px,#00a 453px,#0000de 454px,#0000f9 455px,#0006ff 456px,#003fff 458px,#0050ff 459px,#00b5ff 460px,#00c6ff 461px,#02e8f5 462px,#17ffe0 463px,#39ffbd 466px,#beff39 480px) 7px 0/1px 100%,linear-gradient(#0058ff,#0057ff 2px,#0004ff 9px,#0000fa 11px,#000083 21px,#000080 451px,#00008b 452px,#0000c6 453px,#00e 454px,#00f 455px,#0026ff 457px,#0050ff 458px,#00b5ff 459px,#00c3ff 460px,#00e0fb 461px,#11fae6 462px,#40ffb6 466px,#bdff3a 480px) 8px 0/1px 100%,linear-gradient(#0058ff,#0057ff 2px,#0004ff 9px,#0000fa 11px,#000083 21px,#000080 451px,#00a 452px,#0000de 453px,#0000f9 454px,#0006ff 455px,#003fff 457px,#0050ff 458px,#00b5ff 459px,#00d5ff 460px,#0bf3ec 461px,#1affdc 462px,#63ff94 469px,#bcff3b 480px) 9px 0/1px 100%,linear-gradient(#0058ff,#0057ff 2px,#0004ff 9px,#0000fa 11px,#000083 21px,#000080 450px,#00008b 451px,#0000c6 452px,#00e 453px,#00f 454px,#0026ff 456px,#0050ff 457px,#00b5ff 458px,#00c3ff 459px,#00ddfe 460px,#11fbe6 461px,#57ff9f 467px,#bbff3c 480px) 10px 0/1px 100%,linear-gradient(#0058ff,#0057ff 2px,#0004ff 9px,#0000fa 11px,#000083 21px,#000080 450px,#00a 451px,#0000de 452px,#0000f9 453px,#0006ff 454px,#003fff 456px,#0050ff 457px,#00b5ff 458px,#00d5ff 459px,#09f0ee 460px,#15ffe2 461px,#5cff9b 467px,#baff3c 480px) 11px 0/1px 100%,linear-gradient(#0058ff,#0057ff 2px,#0004ff 9px,#0000fa 11px,#000083 21px,#000080 449px,#00008b 450px,#0000c6 451px,#00e 452px,#00f 453px,#0026ff 455px,#0050ff 456px,#00b5ff 457px,#00c3ff 458px,#00ddfe 459px,#0ef7e8 460px,#26ffd1 462px,#5eff99 467px,#b7ff3f 480px) 12px 0/1px 100%,linear-gradient(#0058ff,#0057ff 2px,#0004ff 9px,#0000fa 11px,#000083 21px,#000080 449px,#00009a 450px,#0000d8 451px,#0000f9 452px,#0006ff 453px,#003fff 455px,#0050ff 456px,#00b5ff 457px,#00d5ff 458px,#09f0ee 459px,#12fce4 460px,#57ffa0 466px,#abff4c 478px,#b4ff43 480px) 13px 0/1px 100%,linear-gradient(#0058ff,#0057ff 2px,#0004ff 9px,#0000fa 11px,#000083 21px,#000080 449px,#00a 450px,#0000de 451px,#0000fd 452px,#000bff 453px,#0026ff 454px,#0050ff 455px,#00b5ff 456px,#00c3ff 457px,#00ddfe 458px,#0ef7e8 459px,#21ffd6 461px,#58ff9e 466px,#8bff6c 473px,#b0ff47 480px) 14px 0/1px 100%,linear-gradient(#0058ff,#0057ff 2px,#0004ff 9px,#0000fa 11px,#000083 21px,#000080 448px,#00008b 449px,#0000c6 450px,#00e 451px,#00f 452px,#0026ff 454px,#0050ff 455px,#00b5ff 456px,#00d5ff 457px,#09f0ee 458px,#12fce4 459px,#59ff9d 466px,#88ff6f 472px,#adff4a 480px) 15px 0/1px 100%,linear-gradient(#0058ff,#0057ff 2px,#0004ff 9px,#0000fa 11px,#000083 21px,#000080 448px,#00009a 449px,#0000d8 450px,#0000f9 451px,#0006ff 452px,#003fff 454px,#0050ff 455px,#00b5ff 456px,#00d5ff 457px,#0df6ea 458px,#16ffe1 459px,#5bff9c 466px,#89ff6e 472px,#a9ff4e 480px) 16px 0/1px 100%,linear-gradient(#0058ff,#0057ff 2px,#0004ff 9px,#0000fa 11px,#000083 21px,#000080 448px,#00009f 449px,#0000de 450px,#0000fd 451px,#000bff 452px,#0026ff 453px,#0050ff 454px,#00b5ff 455px,#00c3ff 456px,#00ddfe 457px,#0ef7e8 458px,#20ffd7 460px,#4bffab 464px,#87ff70 472px,#a5ff51 480px) 17px 0/1px 100%,linear-gradient(#0058ff,#0057ff 2px,#0004ff 9px,#0000fa 11px,#000083 21px,#000080 448px,#00a 449px,#0000de 450px,#0000fd 451px,#000bff 452px,#0026ff 453px,#0050ff 454px,#00b5ff 455px,#00d5ff 456px,#09f0ee 457px,#12fce4 458px,#65ff92 467px,#81ff76 471px,#a2ff55 480px) 18px 0/1px 100%,linear-gradient(#0058ff,#0057ff 2px,#0004ff 9px,#0000fa 11px,#000083 21px,#000080 447px,#00008b 448px,#0000c6 449px,#00e 450px,#00f 451px,#0026ff 453px,#0050ff 454px,#00b5ff 455px,#00d5ff 456px,#0df6ea 457px,#16ffe1 458px,#75ff82 469px,#9eff59 480px) 19px 0/1px 100%,linear-gradient(#0058ff,#0057ff 2px,#0004ff 9px,#0000fa 11px,#000083 21px,#000080 447px,#00009a 448px,#0000d8 449px,#0000f9 450px,#0006ff 451px,#003fff 453px,#0050ff 454px,#00b5ff 455px,#00d5ff 456px,#0df6ea 457px,#16ffe1 458px,#4effa9 464px,#7aff7d 470px,#9aff5c 480px) 20px 0/1px 100%,linear-gradient(#0058ff,#0057ff 2px,#0004ff 9px,#0000fa 11px,#000083 21px,#000080 447px,#00009f 448px,#0000de 449px,#0000fd 450px,#000bff 451px,#0026ff 452px,#0050ff 453px,#00b5ff 454px,#00c3ff 455px,#00ddfe 456px,#0ef7e8 457px,#20ffd7 459px,#56ffa1 465px,#78ff7f 470px,#97ff60 480px) 21px 0/1px 100%,linear-gradient(#0058ff,#0057ff 2px,#0004ff 9px,#0000fa 11px,#000083 21px,#000080 447px,#00009f 448px,#0000de 449px,#0000fd 450px,#000bff 451px,#0026ff 452px,#0050ff 453px,#00b5ff 454px,#00d5ff 455px,#0bf3ec 456px,#14fee3 457px,#6cff8a 468px,#91ff65 480px) 22px 0/2px 100%,linear-gradient(#0058ff,#0057ff 2px,#0004ff 9px,#0000fa 11px,#000083 21px,#000080 447px,#00009f 448px,#0000de 449px,#0000fd 450px,#000bff 451px,#0026ff 452px,#0050ff 453px,#00b5ff 454px,#00d5ff 455px,#0df6ea 456px,#16ffe1 457px,#50ffa7 464px,#70ff87 469px,#8aff6d 480px) 24px 0/2px 100%,linear-gradient(#0058ff,#0057ff 2px,#0004ff 9px,#0000fa 11px,#000083 21px,#000080 447px,#00009f 448px,#0000de 449px,#0000fd 450px,#000bff 451px,#0026ff 452px,#0050ff 453px,#00b5ff 454px,#00d5ff 455px,#0df6ea 456px,#16ffe1 457px,#48ffae 463px,#6cff8a 469px,#83ff74 480px) 26px 0/2px 100%,linear-gradient(#0058ff,#0057ff 2px,#0004ff 9px,#0000fa 11px,#000083 21px,#000080 447px,#00009f 448px,#0000de 449px,#0000fd 450px,#000bff 451px,#0026ff 452px,#0050ff 453px,#00b5ff 454px,#00d5ff 455px,#0df6ea 456px,#16ffe1 457px,#47ffaf 463px,#69ff8d 469px,#7cff7b 480px) 28px 0/2px 100%,linear-gradient(#0058ff,#0057ff 2px,#0004ff 9px,#0000fa 11px,#000083 21px,#000080 447px,#00009f 448px,#0000de 449px,#0000fd 450px,#000bff 451px,#0026ff 452px,#0050ff 453px,#00b5ff 454px,#00d5ff 455px,#0df6ea 456px,#16ffe1 457px,#40ffb7 462px,#66ff91 469px,#74ff82 480px) 30px 0/2px 100%,linear-gradient(#0058ff,#0057ff 2px,#0004ff 9px,#0000fa 11px,#000083 21px,#000080 447px,#00009f 448px,#0000de 449px,#0000fd 450px,#000bff 451px,#0026ff 452px,#0050ff 453px,#00b5ff 454px,#00d5ff 455px,#0bf3ec 456px,#14fee3 457px,#48ffaf 464px,#64ff93 470px,#6dff8a 480px) 32px 0/2px 100%,linear-gradient(#0058ff,#0057ff 2px,#0004ff 9px,#0000fa 11px,#000083 21px,#000080 447px,#00009f 448px,#0000de 449px,#0000fd 450px,#000bff 451px,#0026ff 452px,#0050ff 453px,#00b5ff 454px,#00c3ff 455px,#00ddfe 456px,#0ef7e8 457px,#20ffd7 459px,#40ffb6 463px,#61ff96 469px,#68ff8f 480px) 34px 0/1px 100%,linear-gradient(#0058ff,#0057ff 2px,#0004ff 9px,#0000fa 11px,#000083 21px,#000080 447px,#00009a 448px,#0000d8 449px,#0000f9 450px,#0006ff 451px,#003fff 453px,#0050ff 454px,#00b5ff 455px,#00d5ff 456px,#0df6ea 457px,#16ffe1 458px,#40ffb7 463px,#5aff9d 469px,#5fff97 480px) 35px 0/1px 100%,linear-gradient(#0058ff,#0057ff 2px,#0004ff 9px,#0000fa 11px,#000083 21px,#000080 447px,#00008b 448px,#0000c6 449px,#00e 450px,#00f 451px,#0026ff 453px,#0050ff 454px,#00b5ff 455px,#00d5ff 456px,#0df6ea 457px,#16ffe1 458px,#3fffb8 463px,#54ffa3 468px,#57ffa0 480px) 36px 0/1px 100%,linear-gradient(#0058ff,#0057ff 2px,#0004ff 9px,#0000fa 11px,#000083 21px,#000080 448px,#00a 449px,#0000de 450px,#0000fd 451px,#000bff 452px,#0026ff 453px,#0050ff 454px,#00b5ff 455px,#00d5ff 456px,#0df6ea 457px,#16ffe1 458px,#41ffb6 464px,#4dffa9 468px,#4fffa8 480px) 37px 0/1px 100%,linear-gradient(#0058ff,#0057ff 2px,#0004ff 9px,#0000fa 11px,#000083 21px,#000080 448px,#00009f 449px,#0000de 450px,#0000fd 451px,#000bff 452px,#0026ff 453px,#0050ff 454px,#00b5ff 455px,#00d5ff 456px,#09f0ee 457px,#12fce4 458px,#3fffb7 464px,#48ffaf 467px,#48ffaf 480px) 38px 0/1px 100%,linear-gradient(#0058ff,#0057ff 2px,#0004ff 9px,#0000fa 11px,#000083 21px,#000080 448px,#00009f 449px,#0000de 450px,#0000fd 451px,#000bff 452px,#0026ff 453px,#0050ff 454px,#00b5ff 455px,#00c3ff 456px,#00ddfe 457px,#0ef7e8 458px,#20ffd7 460px,#3effb9 464px,#43ffb4 473px,#43ffb4 480px) 39px 0/1px 100%,linear-gradient(#0058ff,#0057ff 2px,#0004ff 9px,#0000fa 11px,#000083 21px,#000080 448px,#00009a 449px,#0000d8 450px,#0000f9 451px,#0006ff 452px,#003fff 454px,#0050ff 455px,#00b5ff 456px,#00d5ff 457px,#0df6ea 458px,#16ffe1 459px,#3cffbb 464px,#3effb8 480px) 40px 0/1px 100%,linear-gradient(#0058ff,#0057ff 2px,#0004ff 9px,#0000fa 11px,#000083 21px,#000080 448px,#00008b 449px,#0000c6 450px,#00e 451px,#00f 452px,#0026ff 454px,#0050ff 455px,#00b5ff 456px,#00d5ff 457px,#09f0ee 458px,#12fce4 459px,#38ffbf 464px,#3affbd 480px) 41px 0/1px 100%,linear-gradient(#0058ff,#0057ff 2px,#0004ff 9px,#0000fa 11px,#000083 21px,#000080 449px,#00a 450px,#0000de 451px,#0000fd 452px,#000bff 453px,#0026ff 454px,#0050ff 455px,#00b5ff 456px,#00c3ff 457px,#00ddfe 458px,#0ef7e8 459px,#1fffd8 461px,#31ffc6 464px,#31ffc6 480px) 42px 0/1px 100%,linear-gradient(#0058ff,#0057ff 2px,#0004ff 9px,#0000fa 11px,#000083 21px,#000080 449px,#00009a 450px,#0000d8 451px,#0000f9 452px,#0006ff 453px,#003fff 455px,#0050ff 456px,#00b5ff 457px,#00d5ff 458px,#09f0ee 459px,#12fce4 460px,#28ffcf 464px,#28ffcf 480px) 43px 0/1px 100%,linear-gradient(#0058ff,#0057ff 2px,#0004ff 9px,#0000fa 11px,#000083 21px,#000080 449px,#00008b 450px,#0000c6 451px,#00e 452px,#00f 453px,#0026ff 455px,#0050ff 456px,#00b5ff 457px,#00c3ff 458px,#00ddfe 459px,#12fce4 461px,#1fffd8 463px,#1fffd8 480px) 44px 0/1px 100%,linear-gradient(#0058ff,#0057ff 2px,#0004ff 9px,#0000fa 11px,#000083 21px,#000080 450px,#00a 451px,#0000de 452px,#0000f9 453px,#0006ff 454px,#003fff 456px,#0050ff 457px,#00b5ff 458px,#00c3ff 459px,#00ddfe 460px,#0ef7e8 461px,#16ffe1 465px,#16ffe1 480px) 45px 0/1px 100%,linear-gradient(#0058ff,#0057ff 2px,#0004ff 9px,#0000fa 11px,#000083 21px,#000080 450px,#00008b 451px,#0000c6 452px,#00e 453px,#00f 454px,#0020ff 456px,#003fff 457px,#0050ff 458px,#00b5ff 459px,#00d5ff 460px,#00ddfe 461px,#09f0ee 462px,#0df6ea 465px,#0df6ea 480px) 46px 0/1px 100%,linear-gradient(#0058ff,#0057ff 2px,#0004ff 9px,#0000fa 11px,#000083 21px,#000080 451px,#00a 452px,#0000de 453px,#0000f6 454px,#00f 455px,#0026ff 457px,#0050ff 458px,#00b5ff 459px,#00b5ff 460px,#00d5ff 462px,#00d5ff 480px) 47px 0/1px 100%,linear-gradient(#006bff,#005eff 2px,#000fff 8px,#0004ff 9px,#0000fa 11px,#000083 21px,#000080 451px,#000086 452px,#0000de 454px,#0000f9 455px,#0006ff 456px,#003fff 458px,#0050ff 459px,#0050ff 460px,#00b5ff 461px,#00b5ff 480px) 48px 0/1px 100%,linear-gradient(#008cff,#0076ff 2px,#0026ff 7px,#00f 10px,#0000fe 11px,#0000af 17px,#000083 21px,#000081 452px,#00008b 453px,#0000c6 454px,#00e 455px,#00f 456px,#0020ff 458px,#0026ff 459px,#0050ff 461px,#0050ff 480px) 49px 0/1px 100%,linear-gradient(#00aeff,#00a5ff 1px,#0054ff 5px,#0002ff 11px,#00f 12px,#0000af 17px,#000083 21px,#000082 453px,#00a 454px,#0000de 455px,#0000f6 456px,#00f 457px,#000fff 459px,#0020ff 460px,#0026ff 462px,#0026ff 480px) 50px 0/1px 100%,linear-gradient(#00c6ff,#00beff 1px,#0095ff 3px,#0068ff 5px,#0006ff 12px,#0000f9 14px,#0000d1 16px,#0000b6 17px,#000098 19px,#000083 21px,#000083 453px,#000086 454px,#0000de 456px,#0000f9 458px,#000bff 461px,#000bff 480px) 51px 0/1px 100%,linear-gradient(#00d1ff,#00c2ff 2px,#006eff 6px,#00f 14px,#0000fe 15px,#0000d2 17px,#000098 19px,#000083 21px,#000082 452px,#00008a 455px,#0000de 458px,#0000f9 460px,#0000fd 480px) 52px 0/1px 100%,linear-gradient(#00d6ff,#00ceff 2px,#00b1ff 4px,#0045ff 10px,#0001ff 15px,#00f 16px,#0000d3 18px,#000096 20px,#000083 21px,#000082 452px,#000095 457px,#0000c6 459px,#0000d8 460px,#0000de 462px,#0000de 480px) 53px 0/1px 100%,linear-gradient(#00d9ff,#00cfff 3px,#00a8ff 6px,#0068ff 9px,#0002ff 16px,#00f 17px,#0000b7 20px,#000080 22px,#000083 452px,#00009d 458px,#00009a 460px,#00009f 465px,#00009f 480px) 54px 0/1px 100%,linear-gradient(#00dcfe,#00cbff 5px,#00aeff 7px,#006eff 10px,#0002ff 17px,#00f 18px,#0000b9 21px,#000083 23px,#000082 451px,#00009a 456px,#0000a4 459px,#000082 466px,#000083 475px,#00008b 480px) 55px 0/1px 100%,linear-gradient(#00e0fb,#00cfff 6px,#00b1ff 8px,#0032ff 15px,#0002ff 18px,#00f 19px,#00a 23px,#00008e 24px,#000080 25px,#000082 451px,#000098 455px,#0000ab 458px,#0000a0 461px,#000085 465px,#000082 474px,#00008f 479px,#00008f 480px) 56px 0/1px 100%,linear-gradient(#00e3f9,#00d6ff 6px,#00b9ff 9px,#007cff 12px,#0032ff 16px,#0003ff 19px,#00f 20px,#00c 23px,#000094 25px,#000080 26px,#000083 451px,#000093 454px,#0000b4 458px,#0000af 460px,#000086 465px,#000080 473px,#000094 479px,#000094 480px) 57px 0/1px 100%,linear-gradient(#01e7f6,#00d3ff 8px,#00c1ff 10px,#0096ff 12px,#0054ff 15px,#0006ff 20px,#0000f9 22px,#0000d1 24px,#000096 26px,#000080 27px,#000083 451px,#000097 454px,#0000bd 458px,#0000b8 460px,#00008e 464px,#000080 468px,#000083 474px,#000098 478px,#000098 480px) 58px 0/1px 100%,linear-gradient(#04ebf2,#00d6ff 9px,#00c3ff 11px,#06f 15px,#0026ff 19px,#00f 22px,#0000fe 23px,#0000d2 25px,#000096 27px,#000080 28px,#000082 450px,#000090 453px,#0000c1 457px,#0000c8 459px,#0000a7 462px,#000089 465px,#000080 471px,#000083 474px,#00009d 478px,#00009d 480px) 59px 0/1px 100%,linear-gradient(#08efef,#00d8ff 10px,#00c4ff 12px,#06f 16px,#002cff 20px,#0001ff 23px,#00f 24px,#0000d3 26px,#000096 28px,#000080 29px,#000082 450px,#000092 453px,#0000cb 457px,#0000d2 459px,#0000bd 461px,#000092 464px,#000082 467px,#000080 473px,#0000a1 478px,#0000a1 480px) 60px 0/1px 100%,linear-gradient(#0bf3ec,#00d8ff 11px,#00c4ff 13px,#0068ff 17px,#0002ff 24px,#00f 25px,#0000d3 27px,#000096 29px,#000080 30px,#000082 450px,#000095 453px,#0000d5 457px,#00d 458px,#00d 459px,#0000c5 461px,#000095 464px,#000082 467px,#000080 473px,#0000a6 478px,#0000a6 480px) 61px 0/1px 100%,linear-gradient(#0ef7e9,#00d9ff 12px,#00c4ff 14px,#006fff 18px,#0002ff 25px,#00f 26px,#0000d3 28px,#000096 30px,#000080 31px,#000082 450px,#000097 453px,#0000df 457px,#0000e8 458px,#0000e8 459px,#0000ce 461px,#000097 464px,#000082 467px,#000080 473px,#00a 478px,#00a 480px) 62px 0/1px 100%,linear-gradient(#11fbe5,#00defd 12px,#00d2ff 14px,#00b2ff 16px,#0043ff 22px,#0002ff 26px,#00f 27px,#0000d3 29px,#000096 31px,#000080 32px,#000083 450px,#00008e 452px,#0000ab 454px,#0000e8 457px,#0000f3 458px,#0000f3 459px,#0000d6 461px,#00009a 464px,#000087 466px,#000080 473px,#0000af 478px,#0000af 480px) 63px 0/1px 100%,linear-gradient(#15ffe2,#00e5f7 11px,#00d3ff 15px,#0af 18px,#0054ff 22px,#0002ff 27px,#00f 28px,#0000d2 30px,#000094 32px,#000080 33px,#000083 450px,#00008f 452px,#0000ae 454px,#0000f1 457px,#0000fd 458px,#0000fd 459px,#0000f1 460px,#00009c 464px,#000087 466px,#000080 472px,#000086 474px,#0000b3 478px,#0000b3 480px) 64px 0/1px 100%,linear-gradient(#18ffdf,#0df6e9 7px,#00dffc 14px,#00cfff 17px,#00afff 19px,#06f 22px,#0002ff 28px,#00f 29px,#0000d1 31px,#00008e 33px,#000080 34px,#000083 450px,#000090 452px,#0000b2 454px,#0000fa 457px,#00f 459px,#0000fa 460px,#00009e 464px,#008 466px,#000080 471px,#000080 473px,#0000b8 478px,#0000b8 480px) 65px 0/1px 100%,linear-gradient(#1bffdb,#11fae6 7px,#00e1fb 15px,#00d2ff 18px,#00b0ff 20px,#06f 23px,#0001ff 29px,#0000fe 30px,#00c 32px,#000083 34px,#000081 449px,#000091 452px,#0000b5 454px,#00f 457px,#00f 460px,#0000a0 464px,#008 466px,#000080 471px,#000080 473px,#0000a3 476px,#0000bc 478px,#0000bc 480px) 66px 0/1px 100%,linear-gradient(#1fffd8,#12fce5 8px,#00dffc 17px,#00d3ff 19px,#00b1ff 21px,#06f 24px,#00f 30px,#0000f9 31px,#0000c2 33px,#000080 35px,#000081 449px,#000092 452px,#0000b7 454px,#00e 456px,#00f 457px,#00f 460px,#00e 461px,#0000b7 463px,#000092 465px,#000081 468px,#000080 473px,#000097 475px,#0000c1 478px,#0000c1 480px) 67px 0/1px 100%,linear-gradient(#21ffd6,#11fae6 10px,#00dcff 19px,#00c6ff 21px,#06f 25px,#000dff 30px,#00f 31px,#0000f2 32px,#0000b9 34px,#000097 35px,#000080 36px,#000081 449px,#000093 452px,#0000b8 454px,#0000f1 456px,#00f 457px,#0007ff 459px,#00f 460px,#0000f1 461px,#0000b8 463px,#000093 465px,#000081 468px,#000081 473px,#000098 475px,#0000c5 478px,#0000c5 480px) 68px 0/1px 100%,linear-gradient(#23ffd4,#12fbe5 11px,#00dcfe 20px,#00c6ff 22px,#0065ff 26px,#0006ff 31px,#00f 32px,#0000d3 34px,#000094 36px,#000080 37px,#000081 449px,#000093 452px,#0000b9 454px,#0000f3 456px,#00f 457px,#0009ff 458px,#0009ff 459px,#00f 460px,#0000f3 461px,#0000b9 463px,#000093 465px,#000081 468px,#000082 473px,#000089 474px,#0000ca 478px,#0000ca 480px) 69px 0/1px 100%,linear-gradient(#25ffd2,#1affdd 9px,#0cf5ea 15px,#00ddfe 21px,#00c6ff 23px,#0094ff 25px,#004bff 28px,#0003ff 32px,#00f 33px,#0000d1 35px,#00008e 37px,#000080 38px,#000081 449px,#000093 452px,#0000b9 454px,#0000f3 456px,#00f 457px,#0009ff 458px,#0009ff 459px,#00f 460px,#0000f3 461px,#0000b9 463px,#000093 465px,#000082 468px,#000084 473px,#00008a 474px,#0000ce 478px,#0000ce 480px) 70px 0/1px 100%,linear-gradient(#27ffd0,#1dffd9 9px,#10fae6 15px,#00ddfe 22px,#00c4ff 24px,#006fff 27px,#0023ff 31px,#0001ff 33px,#0000fe 34px,#00c 36px,#000083 38px,#000081 449px,#000093 452px,#0000b8 454px,#0000f1 456px,#00f 457px,#0007ff 459px,#00f 460px,#0000f1 461px,#0000b8 463px,#000093 465px,#000084 467px,#00008b 474px,#0000d3 478px,#0000d3 480px) 71px 0/1px 100%,linear-gradient(#29ffce,#1fffd8 10px,#12fbe5 16px,#00dcfe 23px,#00d1ff 24px,#00bcff 25px,#0068ff 28px,#00f 34px,#0000f9 35px,#0000c2 37px,#000080 39px,#000081 449px,#000092 452px,#0000b7 454px,#00e 456px,#00f 457px,#00f 460px,#00e 461px,#0000b7 463px,#000092 465px,#000084 467px,#00008d 472px,#00008b 474px,#0000d7 478px,#0000d7 480px) 72px 0/1px 100%,linear-gradient(#2bffcc,#21ffd6 11px,#13fce4 17px,#00e1fa 23px,#00cbff 25px,#06f 29px,#000dff 34px,#00f 35px,#0000f2 36px,#0000b9 38px,#000097 39px,#000080 40px,#000081 449px,#000091 452px,#0000b5 454px,#00f 457px,#00f 460px,#0000a0 464px,#008 466px,#00008a 468px,#000095 472px,#00008e 474px,#0000db 478px,#0000db 480px) 73px 0/1px 100%,linear-gradient(#2cffca,#23ffd4 12px,#13fde3 18px,#00e0fc 24px,#00c8ff 26px,#0065ff 30px,#0006ff 35px,#00f 36px,#0000d3 38px,#000094 40px,#000080 41px,#000083 450px,#000090 452px,#0000b2 454px,#0000fa 457px,#00f 459px,#0000fa 460px,#00009e 464px,#008 466px,#000095 469px,#00009f 472px,#000095 474px,#0000a2 475px,#0000e0 478px,#0000e0 480px) 74px 0/1px 100%,linear-gradient(#2effc9,#24ffd2 13px,#13fee3 19px,#00dffc 25px,#00c8ff 27px,#0060ff 31px,#0003ff 36px,#00f 37px,#0000d1 39px,#00008e 41px,#000080 42px,#000083 450px,#00008f 452px,#0000ae 454px,#0000f1 457px,#0000fd 458px,#0000fd 459px,#0000f1 460px,#00009c 464px,#000087 466px,#0000ae 471px,#0000a8 473px,#00009f 474px,#0000a3 475px,#0000e4 478px,#0000e4 480px) 75px 0/1px 100%,linear-gradient(#30ffc7,#28ffcf 13px,#13fde4 20px,#00dffc 26px,#00c6ff 28px,#006fff 31px,#0023ff 35px,#0001ff 37px,#0000fe 38px,#00c 40px,#000083 42px,#000083 450px,#00008e 452px,#0000ab 454px,#0000e8 457px,#0000f3 458px,#0000f3 459px,#0000d6 461px,#00009a 464px,#000089 466px,#0000bf 471px,#0000b8 473px,#0000a5 475px,#0000e9 478px,#0000e9 480px) 76px 0/1px 100%,linear-gradient(#32ffc5,#29ffce 14px,#13fee3 21px,#00defc 27px,#00d3ff 28px,#00bdff 29px,#0068ff 32px,#00f 38px,#0000f9 39px,#0000c2 41px,#000080 43px,#000082 450px,#000097 453px,#0000df 457px,#0000e8 458px,#0000e8 459px,#0000ce 461px,#000097 464px,#00008d 465px,#00008d 466px,#0000ba 469px,#0000d4 471px,#0000d4 472px,#0000ba 474px,#0000a8 475px,#0000ed 478px,#0000ed 480px) 77px 0/1px 100%,linear-gradient(#34ffc3,#2affcd 15px,#14fee3 22px,#00dbff 28px,#0cf 29px,#0067ff 33px,#000dff 38px,#00f 39px,#0000f2 40px,#0000b9 42px,#000096 43px,#000080 44px,#000082 450px,#000095 453px,#0000d5 457px,#00d 458px,#00d 459px,#0000c5 461px,#000095 464px,#00008b 465px,#000090 466px,#0000b3 468px,#0000df 470px,#0000ec 471px,#0000ec 472px,#0000df 473px,#0000b3 475px,#0000c2 476px,#0000f2 478px,#0000f2 480px) 78px 0/1px 100%,linear-gradient(#35ffc1,#2dffc9 15px,#14ffe2 23px,#00e2f9 28px,#00caff 30px,#0065ff 34px,#0006ff 39px,#00f 40px,#0000d2 42px,#00008e 44px,#000080 45px,#000082 450px,#000092 453px,#0000cb 457px,#0000d2 459px,#0000bd 461px,#000092 464px,#00008a 465px,#0000a6 467px,#0000f5 470px,#00f 471px,#00f 472px,#0000f5 473px,#0000be 475px,#0000c4 476px,#0000f6 478px,#0000f6 480px) 79px 0/1px 100%,linear-gradient(#37ffc0,#2effc9 16px,#14fee3 24px,#00e2fa 29px,#00c9ff 31px,#0060ff 35px,#0002ff 40px,#0000fe 41px,#00c 43px,#000082 45px,#000082 450px,#000090 453px,#0000c1 457px,#0000c8 459px,#0000a7 462px,#000090 464px,#00008b 465px,#000098 466px,#0000ac 467px,#0000eb 469px,#00f 470px,#000aff 471px,#000aff 472px,#00f 473px,#0000eb 474px,#0000c9 475px,#0000c7 476px,#0000fb 478px,#0000fb 480px) 80px 0/1px 100%,linear-gradient(#39ffbe,#2fffc8 17px,#14fee3 25px,#00e2fa 30px,#00c7ff 32px,#006fff 35px,#02f 39px,#00f 41px,#0000f9 42px,#0000c2 44px,#000080 46px,#000083 451px,#000097 454px,#0000bd 458px,#0000b8 460px,#00008e 464px,#00008c 465px,#00009b 466px,#0000b2 467px,#0000f9 469px,#000aff 470px,#001cff 471px,#001cff 472px,#000aff 473px,#0000f9 474px,#0000d3 475px,#0000c9 476px,#00f 478px,#00f 480px) 81px 0/1px 100%,linear-gradient(#3bffbc,#33ffc4 17px,#14fee3 26px,#00e1fa 31px,#00d4ff 32px,#00beff 33px,#0068ff 36px,#000dff 41px,#00f 42px,#0000f1 43px,#0000b6 45px,#000090 46px,#000080 47px,#000083 451px,#000093 454px,#0000b4 458px,#0000af 460px,#00008b 464px,#00008d 465px,#00009d 466px,#0000b7 467px,#00f 469px,#0029ff 471px,#0029ff 472px,#00f 474px,#0000da 475px,#00c 476px,#00f 478px,#00f 480px) 82px 0/1px 100%,linear-gradient(#3dffba,#34ffc3 18px,#15ffe2 27px,#00defd 32px,#00ceff 33px,#06f 37px,#0006ff 42px,#00f 43px,#0000cd 45px,#000083 47px,#000082 451px,#000098 455px,#0000ab 458px,#0000a0 461px,#000089 464px,#00008e 465px,#00009e 466px,#0000b9 467px,#00f 469px,#0030ff 471px,#0030ff 472px,#00f 474px,#0000de 475px,#0000cf 476px,#0000ed 477px,#00f 478px,#00f 480px) 83px 0/1px 100%,linear-gradient(#3effb8,#34ffc2 19px,#14ffe2 28px,#00e5f7 32px,#00cbff 34px,#0060ff 38px,#00f 43px,#0000fa 44px,#0000c2 46px,#000080 48px,#000082 451px,#00009a 456px,#0000a4 459px,#008 464px,#00008e 465px,#00009e 466px,#0000b9 467px,#00f 469px,#0030ff 471px,#0030ff 472px,#00f 474px,#0000de 475px,#0000d1 476px,#0000f1 477px,#00f 478px,#00f 480px) 84px 0/1px 100%,linear-gradient(#40ffb7,#38ffbf 19px,#14fee3 29px,#00daff 34px,#00c8ff 35px,#006fff 38px,#000dff 43px,#00f 44px,#0000f2 45px,#0000b9 47px,#000096 48px,#000080 49px,#000083 452px,#00009d 458px,#000090 462px,#000086 464px,#00008d 465px,#00009d 466px,#0000b7 467px,#00f 469px,#0029ff 471px,#0029ff 472px,#00f 474px,#0000da 475px,#0000d4 476px,#0000f4 477px,#0001ff 478px,#0001ff 480px) 85px 0/1px 100%,linear-gradient(#42ffb5,#39ffbe 20px,#13fde4 30px,#00e3f9 34px,#00d6ff 35px,#00bfff 36px,#0067ff 39px,#0006ff 44px,#00f 45px,#0000d2 47px,#00008e 49px,#000080 50px,#000082 452px,#000097 459px,#000085 464px,#00009b 466px,#0000b2 467px,#0000f9 469px,#000aff 470px,#001cff 471px,#001cff 472px,#000aff 473px,#0000f9 474px,#0000d3 475px,#0000d6 476px,#0000f8 477px,#0005ff 479px,#0005ff 480px) 86px 0/1px 100%,linear-gradient(#44ffb3,#3affbd 21px,#13fde4 31px,#00dffc 35px,#00cfff 36px,#0060ff 40px,#0002ff 45px,#0000fe 46px,#00c 48px,#000082 50px,#000082 452px,#000092 459px,#000084 464px,#000098 466px,#0000ac 467px,#0000eb 469px,#00f 470px,#000aff 471px,#000aff 472px,#00f 473px,#0000eb 474px,#0000c9 475px,#0000d9 476px,#0000fb 477px,#0009ff 478px,#0009ff 480px) 87px 0/1px 100%,linear-gradient(#45ffb2,#3affbc 22px,#12fce5 32px,#00dbff 36px,#00c9ff 37px,#006fff 40px,#02f 44px,#00f 46px,#0000f9 47px,#0000c2 49px,#000080 51px,#000083 453px,#00008e 459px,#000084 464px,#000094 466px,#0000be 468px,#0000f5 470px,#00f 471px,#00f 472px,#0000f5 473px,#0000be 475px,#0000fd 477px,#000bff 478px,#000bff 480px) 88px 0/1px 100%,linear-gradient(#46ffb0,#3affbc 23px,#16ffe1 32px,#00e4f8 36px,#00d7ff 37px,#00c0ff 38px,#0068ff 41px,#000dff 46px,#00f 47px,#0000f1 48px,#0000b6 50px,#000090 51px,#000080 52px,#000082 453px,#00008a 460px,#000083 464px,#000090 466px,#0000b3 468px,#0000df 470px,#0000ec 471px,#0000ec 472px,#0000df 473px,#0000b7 475px,#0000fd 477px,#000bff 478px,#000bff 480px) 89px 0/1px 100%,linear-gradient(#48ffaf,#3dffba 23px,#15ffe2 33px,#00e0fb 37px,#00d0ff 38px,#06f 42px,#0006ff 47px,#00f 48px,#0000cd 50px,#000083 52px,#000083 454px,#000086 461px,#000086 465px,#000098 467px,#0000ca 470px,#0000d4 471px,#0000d4 472px,#0000ba 474px,#0000b7 475px,#0000fd 477px,#000bff 478px,#000bff 480px) 90px 0/1px 100%,linear-gradient(#49ffae,#3dffb9 24px,#14fee3 34px,#00ddfe 38px,#00b4ff 40px,#0060ff 43px,#00f 48px,#0000fa 49px,#0000c2 51px,#000080 53px,#000083 455px,#000084 465px,#00009e 468px,#0000bf 471px,#0000b8 473px,#0000ab 474px,#0000b7 475px,#0000fd 477px,#000bff 478px,#000bff 480px) 91px 0/1px 100%,linear-gradient(#4affad,#3effb9 25px,#12fce5 35px,#00dcff 39px,#00c9ff 40px,#006fff 43px,#000dff 48px,#00f 49px,#0000f2 50px,#0000b9 52px,#000096 53px,#000080 54px,#000083 456px,#000083 465px,#000095 468px,#0000ae 471px,#0000a8 473px,#00009f 474px,#0000b7 475px,#0000fd 477px,#000bff 478px,#000bff 480px) 92px 0/1px 100%,linear-gradient(#4bffac,#40ffb6 25px,#12fbe5 36px,#00e5f7 39px,#00d7ff 40px,#00c0ff 41px,#0067ff 44px,#0006ff 49px,#00f 50px,#0000d2 52px,#00008e 54px,#000080 55px,#000082 465px,#00009f 471px,#000095 474px,#0000fd 477px,#000bff 478px,#000bff 480px) 93px 0/1px 100%,linear-gradient(#4cffab,#40ffb6 26px,#16ffe0 36px,#00e1fa 40px,#00d0ff 41px,#0060ff 45px,#0002ff 50px,#0000fe 51px,#00c 53px,#000083 55px,#000083 466px,#000095 472px,#000094 474px,#0000fd 477px,#000bff 478px,#000bff 480px) 94px 0/1px 100%,linear-gradient(#4dffaa,#40ffb7 27px,#15ffe2 37px,#00ddfe 41px,#00caff 42px,#006fff 45px,#02f 49px,#00f 51px,#0000fa 52px,#0000c2 54px,#000080 56px,#000083 467px,#00008d 472px,#00008b 473px,#000094 474px,#0000fd 477px,#000bff 478px,#000bff 480px) 95px 0/1px 100%,linear-gradient(#4effa9,#43ffb4 27px,#19ffdd 37px,#08efef 40px,#00d8ff 42px,#00c1ff 43px,#0082ff 45px,#0054ff 47px,#000dff 51px,#00f 52px,#0000f2 53px,#0000b9 55px,#000097 56px,#000080 57px,#000083 468px,#000087 473px,#000094 474px,#0000fd 477px,#000bff 478px,#000bff 480px) 96px 0/1px 100%,linear-gradient(#4fffa7,#43ffb4 28px,#18ffdf 38px,#06ecf1 41px,#00d1ff 43px,#06f 47px,#0006ff 52px,#00f 53px,#0000d3 55px,#000094 57px,#000080 58px,#000083 469px,#000084 473px,#000094 474px,#0000fd 477px,#000bff 478px,#000bff 480px) 97px 0/1px 100%,linear-gradient(#50ffa6,#43ffb4 29px,#16ffe0 39px,#00dffc 43px,#00b5ff 45px,#0060ff 48px,#0003ff 53px,#00f 54px,#0000d1 56px,#00008e 58px,#000080 59px,#000082 473px,#000094 474px,#0000fd 477px,#000bff 478px,#000bff 480px) 98px 0/1px 100%,linear-gradient(#52ffa5,#43ffb4 30px,#15ffe2 40px,#00ddfd 44px,#00caff 45px,#006fff 48px,#0023ff 52px,#0001ff 54px,#0000fe 55px,#00c 57px,#000083 59px,#000081 473px,#000094 474px,#0000fd 477px,#000bff 478px,#000bff 480px) 99px 0/1px 100%,linear-gradient(#53ffa4,#46ffb1 30px,#1affdd 40px,#0ff8e8 42px,#00d9ff 45px,#00c1ff 46px,#0082ff 48px,#0054ff 50px,#00f 55px,#0000f9 56px,#0000c2 58px,#000080 60px,#000080 473px,#000094 474px,#0000fd 477px,#000bff 478px,#000bff 480px) 100px 0/1px 100%,linear-gradient(#54ffa3,#46ffb1 31px,#13fee3 42px,#00e3f9 45px,#00d2ff 46px,#0067ff 50px,#000dff 55px,#00f 56px,#0000f2 57px,#0000b9 59px,#000096 60px,#000080 61px,#000080 473px,#000094 474px,#0000fd 477px,#000bff 478px,#000bff 480px) 101px 0/1px 100%,linear-gradient(#55ffa2,#46ffb1 32px,#18ffdf 42px,#04ebf2 45px,#00ceff 47px,#06f 51px,#0006ff 56px,#00f 57px,#0000d2 59px,#00008e 61px,#000080 62px,#000080 473px,#000094 474px,#0000fd 477px,#000bff 478px,#000bff 480px) 102px 0/1px 100%,linear-gradient(#56ffa1,#49ffae 32px,#1cffda 42px,#11fae6 44px,#00dffc 47px,#00b5ff 49px,#0060ff 52px,#0002ff 57px,#0000fe 58px,#00c 60px,#000083 62px,#000080 473px,#000094 474px,#0000fd 477px,#000bff 478px,#000bff 480px) 103px 0/1px 100%,linear-gradient(#57ffa0,#49ffae 33px,#1bffdb 43px,#10fae6 45px,#00defd 48px,#00cbff 49px,#006fff 52px,#02f 56px,#00f 58px,#0000fa 59px,#0000c2 61px,#000080 63px,#000080 473px,#000094 474px,#0000fd 477px,#000bff 478px,#000bff 480px) 104px 0/1px 100%,linear-gradient(#58ff9e,#49ffae 34px,#16ffe1 45px,#02e8f4 48px,#00daff 49px,#00c2ff 50px,#0082ff 52px,#0054ff 54px,#000dff 58px,#00f 59px,#0000f2 60px,#0000b9 62px,#000097 63px,#000080 64px,#000080 473px,#000094 474px,#0000fd 477px,#000bff 478px,#000bff 480px) 105px 0/1px 100%,linear-gradient(#59ff9d,#49ffae 35px,#15ffe1 46px,#00e4f8 49px,#00d2ff 50px,#06f 54px,#0006ff 59px,#00f 60px,#0000d3 62px,#000094 64px,#000080 65px,#000080 473px,#000094 474px,#0000fd 477px,#000bff 478px,#000bff 480px) 106px 0/1px 100%,linear-gradient(#5bff9c,#4cffab 35px,#20ffd7 45px,#14fee3 47px,#00e1fb 50px,#00b5ff 52px,#0060ff 55px,#0003ff 60px,#00f 61px,#0000d1 63px,#00008e 65px,#000080 66px,#000080 473px,#000094 474px,#0000fd 477px,#000bff 478px,#000bff 480px) 107px 0/1px 100%,linear-gradient(#5cff9b,#4cffab 36px,#25ffd2 45px,#12fce5 48px,#00dffc 51px,#0cf 52px,#006fff 55px,#0023ff 59px,#0001ff 61px,#0000fe 62px,#00c 64px,#000083 66px,#000080 473px,#000094 474px,#0000fd 477px,#000bff 478px,#000bff 480px) 108px 0/1px 100%,linear-gradient(#5dff9a,#4cffab 37px,#24ffd3 46px,#12fbe5 49px,#00dbff 52px,#00c2ff 53px,#0082ff 55px,#0054ff 57px,#00f 62px,#0000f9 63px,#0000c2 65px,#000080 67px,#000080 473px,#000094 474px,#0000fd 477px,#000bff 478px,#000bff 480px) 109px 0/1px 100%,linear-gradient(#5eff99,#4cffaa 38px,#1dffda 48px,#10fae7 50px,#00e5f7 52px,#00d3ff 53px,#0067ff 57px,#000dff 62px,#00f 63px,#0000f2 64px,#0000b9 66px,#000097 67px,#000080 68px,#000080 473px,#000094 474px,#0000fd 477px,#000bff 478px,#000bff 480px) 110px 0/1px 100%,linear-gradient(#5fff98,#4fffa7 38px,#22ffd5 48px,#15ffe2 50px,#00e2fa 53px,#00b7ff 55px,#06f 58px,#0006ff 63px,#00f 64px,#0000d3 66px,#000094 68px,#000080 69px,#000080 473px,#000094 474px,#0000fd 477px,#000bff 478px,#000bff 480px) 111px 0/1px 100%,linear-gradient(#60ff97,#50ffa7 39px,#27ffd0 48px,#13fee3 51px,#00e1fa 54px,#00b6ff 56px,#0060ff 59px,#0003ff 64px,#00f 65px,#0000d1 67px,#00008e 69px,#000080 70px,#000080 473px,#000094 474px,#0000fd 477px,#000bff 478px,#000bff 480px) 112px 0/1px 100%,linear-gradient(#61ff96,#50ffa7 40px,#25ffd1 49px,#13fde4 52px,#00e0fb 55px,#0cf 56px,#006fff 59px,#0023ff 63px,#0001ff 65px,#0000fe 66px,#00c 68px,#000083 70px,#000080 473px,#000094 474px,#0000fd 477px,#000bff 478px,#000bff 480px) 113px 0/1px 100%,linear-gradient(#62ff94,#50ffa7 41px,#19ffde 52px,#0cf5ea 54px,#00dbff 56px,#00c3ff 57px,#0082ff 59px,#0054ff 61px,#00f 66px,#0000f9 67px,#0000c2 69px,#000080 71px,#000080 473px,#000094 474px,#0000fd 477px,#000bff 478px,#000bff 480px) 114px 0/1px 100%,linear-gradient(#63ff93,#53ffa4 41px,#1fffd8 52px,#12fbe5 54px,#00e6f6 56px,#00d4ff 57px,#0067ff 61px,#000dff 66px,#00f 67px,#0000f2 68px,#0000b9 70px,#000097 71px,#000080 72px,#000080 473px,#000094 474px,#0000fd 477px,#000bff 478px,#000bff 480px) 115px 0/1px 100%,linear-gradient(#65ff92,#53ffa4 42px,#24ffd2 52px,#17ffe0 54px,#00e3f9 57px,#00b7ff 59px,#06f 62px,#0006ff 67px,#00f 68px,#0000d3 70px,#000096 72px,#000080 73px,#000080 473px,#000094 474px,#0000fd 477px,#000bff 478px,#000bff 480px) 116px 0/1px 100%,linear-gradient(#66ff91,#53ffa4 43px,#29ffce 52px,#15ffe2 55px,#00e2fa 58px,#00b6ff 60px,#0060ff 63px,#0003ff 68px,#00f 69px,#0000d2 71px,#000094 73px,#000080 74px,#000080 473px,#000094 474px,#0000fd 477px,#000bff 478px,#000bff 480px) 117px 0/1px 100%,linear-gradient(#67ff90,#53ffa4 44px,#28ffcf 53px,#15ffe2 56px,#00e1fa 59px,#00cdff 60px,#006fff 63px,#0023ff 67px,#0002ff 69px,#00f 70px,#0000d1 72px,#00008e 74px,#000080 75px,#000080 473px,#000094 474px,#0000fd 477px,#000bff 478px,#000bff 480px) 118px 0/1px 100%,linear-gradient(#68ff8f,#56ffa1 44px,#27ffcf 54px,#15ffe2 57px,#05ecf2 59px,#00dcfe 60px,#00c4ff 61px,#0082ff 63px,#0054ff 65px,#0001ff 70px,#0000fe 71px,#00c 73px,#000083 75px,#000080 473px,#000094 474px,#0000fd 477px,#000bff 478px,#000bff 480px) 119px 0/1px 100%,linear-gradient(#69ff8e,#57ffa0 45px,#21ffd6 56px,#13fde4 58px,#01e7f5 60px,#00d5ff 61px,#0067ff 65px,#00f 71px,#0000f9 72px,#0000c2 74px,#000080 76px,#000080 473px,#000094 474px,#0000fd 477px,#000bff 478px,#000bff 480px) 120px 0/1px 100%,linear-gradient(#6aff8d,#57ffa0 46px,#27ffd0 56px,#11fbe6 59px,#00e4f8 61px,#00b8ff 63px,#0067ff 66px,#000dff 71px,#00f 72px,#0000f2 73px,#0000b9 75px,#000097 76px,#000080 77px,#000080 473px,#000094 474px,#0000fd 477px,#000bff 478px,#000bff 480px) 121px 0/1px 100%,linear-gradient(#6bff8c,#57ffa0 47px,#2cffcb 56px,#17ffe0 59px,#00e3f9 62px,#00b8ff 64px,#06f 67px,#0006ff 72px,#00f 73px,#0000d3 75px,#000094 77px,#000080 78px,#000080 473px,#000094 474px,#0000fd 477px,#000bff 478px,#000bff 480px) 122px 0/1px 100%,linear-gradient(#6cff8a,#57ffa0 48px,#2affcd 57px,#16ffe0 60px,#00e3f9 63px,#00b7ff 65px,#0060ff 68px,#0003ff 73px,#00f 74px,#0000d1 76px,#00008e 78px,#000080 79px,#000080 473px,#000094 474px,#0000fd 477px,#000bff 478px,#000bff 480px) 123px 0/1px 100%,linear-gradient(#6dff89,#5aff9d 48px,#30ffc7 57px,#17ffe0 61px,#00e2f9 64px,#00ceff 65px,#0070ff 68px,#0023ff 72px,#0001ff 74px,#0000fe 75px,#00c 77px,#000083 79px,#000080 473px,#000094 474px,#0000fd 477px,#000bff 478px,#000bff 480px) 124px 0/1px 100%,linear-gradient(#6fff88,#5aff9c 49px,#24ffd3 60px,#17ffe0 62px,#07eef0 64px,#00defd 65px,#00a3ff 67px,#0069ff 69px,#00f 75px,#0000f9 76px,#0000c2 78px,#000080 80px,#000080 473px,#000094 474px,#0000fd 477px,#000bff 478px,#000bff 480px) 125px 0/1px 100%,linear-gradient(#70ff87,#5bff9c 50px,#2affcd 60px,#15ffe2 63px,#03e9f4 65px,#00d6ff 66px,#0067ff 70px,#000dff 75px,#00f 76px,#0000f2 77px,#0000b9 79px,#000097 80px,#000080 81px,#000080 473px,#000094 474px,#0000fd 477px,#000bff 478px,#000bff 480px) 126px 0/1px 100%,linear-gradient(#71ff86,#5bff9c 51px,#29ffce 61px,#13fde4 64px,#00e5f7 66px,#00b8ff 68px,#06f 71px,#0006ff 76px,#00f 77px,#0000d3 79px,#000096 81px,#000080 82px,#000080 473px,#000094 474px,#0000fd 477px,#000bff 478px,#000bff 480px) 127px 0/1px 100%,linear-gradient(#72ff85,#5dff99 51px,#35ffc1 60px,#11fbe5 65px,#00e4f8 67px,#00b7ff 69px,#0060ff 72px,#0003ff 77px,#00f 78px,#0000d3 80px,#000096 82px,#000080 83px,#000080 473px,#000094 474px,#0000fd 477px,#000bff 478px,#000bff 480px) 128px 0/1px 100%,linear-gradient(#73ff84,#5eff99 52px,#34ffc3 61px,#11fbe5 66px,#00e3f8 68px,#00cfff 69px,#0070ff 72px,#0023ff 76px,#0002ff 78px,#00f 79px,#0000d2 81px,#000094 83px,#000080 84px,#000080 473px,#000094 474px,#0000fd 477px,#000bff 478px,#000bff 480px) 129px 0/1px 100%,linear-gradient(#74ff83,#5fff98 53px,#33ffc4 62px,#11fae6 67px,#00dffc 69px,#00a3ff 71px,#0069ff 73px,#0002ff 79px,#00f 80px,#0000d1 82px,#00008e 84px,#000080 85px,#000080 473px,#000094 474px,#0000fd 477px,#000bff 478px,#000bff 480px) 130px 0/1px 100%,linear-gradient(#75ff82,#5fff98 54px,#2cffca 64px,#17ffe0 67px,#04eaf3 69px,#00d7ff 70px,#007fff 73px,#0043ff 76px,#0001ff 80px,#0000fe 81px,#00c 83px,#000083 85px,#000080 473px,#000094 474px,#0000fd 477px,#000bff 478px,#000bff 480px) 131px 0/1px 100%,linear-gradient(#76ff80,#5fff98 55px,#2bffcb 65px,#14fee3 68px,#01e6f6 70px,#00d3ff 71px,#0067ff 75px,#00f 81px,#0000f9 82px,#0000c2 84px,#000080 86px,#000080 473px,#000094 474px,#0000fd 477px,#000bff 478px,#000bff 480px) 132px 0/1px 100%,linear-gradient(#77ff7f,#5fff98 56px,#31ffc6 65px,#13fde4 69px,#00e6f7 71px,#00d3ff 72px,#0067ff 76px,#000dff 81px,#00f 82px,#0000f2 83px,#0000b9 85px,#000097 86px,#000080 87px,#000080 473px,#000094 474px,#0000fd 477px,#000bff 478px,#000bff 480px) 133px 0/1px 100%,linear-gradient(#79ff7e,#62ff95 56px,#36ffc0 65px,#13fde4 70px,#00e6f7 72px,#00d3ff 73px,#06f 77px,#0006ff 82px,#00f 83px,#0000d3 85px,#000096 87px,#000080 88px,#000080 473px,#000094 474px,#0000fd 477px,#000bff 478px,#000bff 480px) 134px 0/1px 100%,linear-gradient(#7aff7d,#63ff94 57px,#35ffc1 66px,#13fde4 71px,#00e6f7 73px,#00d3ff 74px,#0060ff 78px,#0003ff 83px,#00f 84px,#0000d3 86px,#000096 88px,#000080 89px,#000080 473px,#000094 474px,#0000fd 477px,#000bff 478px,#000bff 480px) 135px 0/1px 100%,linear-gradient(#7bff7c,#63ff94 58px,#28ffce 69px,#13fde4 72px,#00e5f7 74px,#00d0ff 75px,#0070ff 78px,#0034ff 81px,#0002ff 84px,#00f 85px,#0000d3 87px,#000096 89px,#000080 90px,#000080 473px,#000094 474px,#0000fd 477px,#000bff 478px,#000bff 480px) 136px 0/1px 100%,linear-gradient(#7cff7b,#63ff94 59px,#29ffce 70px,#12fce4 73px,#00e0fb 75px,#00a4ff 77px,#0069ff 79px,#0002ff 85px,#00f 86px,#0000d3 88px,#000096 90px,#000080 91px,#000080 473px,#000094 474px,#0000fd 477px,#000bff 478px,#000bff 480px) 137px 0/1px 100%,linear-gradient(#7dff7a,#63ff94 60px,#30ffc7 70px,#19ffde 73px,#05ebf2 75px,#00d8ff 76px,#007fff 79px,#0043ff 82px,#0002ff 86px,#00f 87px,#0000d2 89px,#000094 91px,#000080 92px,#000080 473px,#000094 474px,#0000fd 477px,#000bff 478px,#000bff 480px) 138px 0/1px 100%,linear-gradient(#7eff79,#66ff91 60px,#36ffc1 70px,#16ffe1 74px,#02e8f5 76px,#00d4ff 77px,#0067ff 81px,#0002ff 87px,#00f 88px,#0000d1 90px,#00008e 92px,#000080 93px,#000080 473px,#000094 474px,#0000fd 477px,#000bff 478px,#000bff 480px) 139px 0/1px 100%,linear-gradient(#7fff77,#67ff90 61px,#3cffbb 70px,#15ffe2 75px,#01e7f6 77px,#00d4ff 78px,#0067ff 82px,#0001ff 88px,#0000fe 89px,#00c 91px,#000083 93px,#000080 473px,#000094 474px,#0000fd 477px,#000bff 478px,#000bff 480px) 140px 0/1px 100%,linear-gradient(#80ff76,#67ff90 62px,#41ffb6 70px,#15ffe2 76px,#01e7f5 78px,#00d4ff 79px,#0067ff 83px,#00f 89px,#0000f9 90px,#0000c2 92px,#000080 94px,#000080 473px,#000094 474px,#0000fd 477px,#000bff 478px,#000bff 480px) 141px 0/1px 100%,linear-gradient(#82ff75,#68ff8f 63px,#39ffbe 72px,#15ffe2 77px,#01e7f5 79px,#00d4ff 80px,#0067ff 84px,#000dff 89px,#00f 90px,#0000f2 91px,#0000b9 93px,#000097 94px,#000080 95px,#000080 473px,#000094 474px,#0000fd 477px,#000bff 478px,#000bff 480px) 142px 0/1px 100%,linear-gradient(#83ff74,#68ff8e 64px,#32ffc5 74px,#15ffe2 78px,#02e8f5 80px,#00d4ff 81px,#06f 85px,#0006ff 90px,#00f 91px,#0000d3 93px,#000096 95px,#000080 96px,#000080 473px,#000094 474px,#0000fd 477px,#000bff 478px,#000bff 480px) 143px 0/1px 100%,linear-gradient(#84ff73,#69ff8e 65px,#33ffc4 75px,#15ffe1 79px,#02e8f5 81px,#00d4ff 82px,#0060ff 86px,#0003ff 91px,#00f 92px,#0000d3 94px,#000096 96px,#000080 97px,#000080 473px,#000094 474px,#0000fd 477px,#000bff 478px,#000bff 480px) 144px 0/1px 100%,linear-gradient(#85ff72,#6bff8c 65px,#3affbd 75px,#16ffe1 80px,#01e7f6 82px,#00d1ff 83px,#0070ff 86px,#0034ff 89px,#0002ff 92px,#00f 93px,#0000d3 95px,#000096 97px,#000080 98px,#000080 473px,#000094 474px,#0000fd 477px,#000bff 478px,#000bff 480px) 145px 0/1px 100%,linear-gradient(#86ff71,#6bff8b 66px,#3affbc 76px,#15ffe2 81px,#00e1fa 83px,#00a4ff 85px,#0069ff 87px,#0002ff 93px,#00f 94px,#0000d3 96px,#000096 98px,#000080 99px,#000080 473px,#000094 474px,#0000fd 477px,#000bff 478px,#000bff 480px) 146px 0/1px 100%,linear-gradient(#87ff70,#6cff8b 67px,#3bffbc 77px,#12fce5 82px,#00d9ff 84px,#007fff 87px,#0043ff 90px,#0002ff 94px,#00f 95px,#0000d3 97px,#000096 99px,#000080 100px,#000080 473px,#000094 474px,#0000fd 477px,#000bff 478px,#000bff 480px) 147px 0/1px 100%,linear-gradient(#88ff6f,#6dff8a 68px,#41ffb5 77px,#18ffde 82px,#03eaf3 84px,#00d5ff 85px,#0067ff 89px,#0002ff 95px,#00f 96px,#0000d2 98px,#000094 100px,#000080 101px,#000080 473px,#000094 474px,#0000fd 477px,#000bff 478px,#000bff 480px) 148px 0/1px 100%,linear-gradient(#89ff6d,#6dff89 69px,#40ffb7 78px,#17ffe0 83px,#03e9f4 85px,#00d5ff 86px,#0067ff 90px,#0002ff 96px,#00f 97px,#0000d1 99px,#00008e 101px,#000080 102px,#000080 473px,#000094 474px,#0000fd 477px,#000bff 478px,#000bff 480px) 149px 0/1px 100%,linear-gradient(#8aff6c,#6eff89 70px,#46ffb1 78px,#17ffe0 84px,#03e9f4 86px,#00d5ff 87px,#0067ff 91px,#0001ff 97px,#0000fe 98px,#00c 100px,#000083 102px,#000080 473px,#000094 474px,#0000fd 477px,#000bff 478px,#000bff 480px) 150px 0/1px 100%,linear-gradient(#8cff6b,#6fff88 71px,#44ffb2 79px,#17ffdf 85px,#03e9f4 87px,#00d5ff 88px,#0067ff 92px,#00f 98px,#0000f9 99px,#0000c2 101px,#000080 103px,#000080 473px,#000094 474px,#0000fd 477px,#000bff 478px,#000bff 480px) 151px 0/1px 100%,linear-gradient(#8dff6a,#6fff88 72px,#36ffc1 82px,#18ffdf 86px,#03e9f4 88px,#00d5ff 89px,#0067ff 93px,#000dff 98px,#00f 99px,#0000f2 100px,#0000b9 102px,#000097 103px,#000080 104px,#000080 473px,#000094 474px,#0000fd 477px,#000bff 478px,#000bff 480px) 152px 0/1px 100%,linear-gradient(#8eff69,#6fff88 73px,#36ffc0 83px,#18ffdf 87px,#03eaf3 89px,#00d6ff 90px,#06f 94px,#0006ff 99px,#00f 100px,#0000d3 102px,#000096 104px,#000080 105px,#000080 473px,#000094 474px,#0000fd 477px,#000bff 478px,#000bff 480px) 153px 0/1px 100%,linear-gradient(#8fff68,#72ff85 73px,#3effb9 83px,#18ffdf 88px,#03eaf3 90px,#00d5ff 91px,#0060ff 95px,#0003ff 100px,#00f 101px,#0000d3 103px,#000096 105px,#000080 106px,#000080 473px,#000094 474px,#0000fd 477px,#000bff 478px,#000bff 480px) 154px 0/1px 100%,linear-gradient(#90ff67,#72ff85 74px,#3fffb8 84px,#18ffdf 89px,#0ff8e8 90px,#03e9f4 91px,#00d2ff 92px,#0070ff 95px,#0034ff 98px,#0002ff 101px,#00f 102px,#0000d3 104px,#000096 106px,#000080 107px,#000080 473px,#000094 474px,#0000fd 477px,#000bff 478px,#000bff 480px) 155px 0/1px 100%,linear-gradient(#91ff66,#73ff84 75px,#3fffb8 85px,#17ffdf 90px,#0df5ea 91px,#00e3f9 92px,#00a5ff 94px,#0069ff 96px,#0002ff 102px,#00f 103px,#0000d3 105px,#000096 107px,#000080 108px,#000080 473px,#000094 474px,#0000fd 477px,#000bff 478px,#000bff 480px) 156px 0/1px 100%,linear-gradient(#92ff64,#74ff83 76px,#40ffb7 86px,#14ffe2 91px,#00dbff 93px,#007fff 96px,#0043ff 99px,#0002ff 103px,#00f 104px,#0000d3 106px,#000096 108px,#000080 109px,#000080 473px,#000094 474px,#0000fd 477px,#000bff 478px,#000bff 480px) 157px 0/1px 100%,linear-gradient(#94ff63,#75ff82 77px,#47ffb0 86px,#11fbe5 92px,#00d7ff 94px,#007fff 97px,#0043ff 100px,#0002ff 104px,#00f 105px,#0000d3 107px,#000096 109px,#000080 110px,#000080 473px,#000094 474px,#0000fd 477px,#000bff 478px,#000bff 480px) 158px 0/1px 100%,linear-gradient(#95ff61,#76ff81 78px,#46ffb1 87px,#1affdd 92px,#11fae6 93px,#00d7ff 95px,#0067ff 99px,#0002ff 105px,#00f 106px,#0000d3 108px,#000096 110px,#000080 111px,#000080 473px,#000094 474px,#0000fd 477px,#000bff 478px,#000bff 480px) 159px 0/1px 100%,linear-gradient(#97ff60,#77ff80 79px,#4cffab 87px,#11fae6 94px,#00d7ff 96px,#007fff 99px,#0043ff 102px,#0002ff 106px,#00f 107px,#0000d3 109px,#000096 111px,#000080 112px,#000080 473px,#000094 474px,#0000fd 477px,#000bff 478px,#000bff 480px) 160px 0/1px 100%,linear-gradient(#99ff5e,#78ff7f 80px,#4bffac 88px,#11fbe6 95px,#00d7ff 97px,#007fff 100px,#0043ff 103px,#0002ff 107px,#00f 108px,#0000d3 110px,#000096 112px,#000080 113px,#000080 473px,#000094 474px,#0000fd 477px,#000bff 478px,#000bff 480px) 161px 0/1px 100%,linear-gradient(#9bff5c,#79ff7d 81px,#3cffbb 91px,#12fbe5 96px,#00d7ff 98px,#007fff 101px,#0043ff 104px,#0002ff 108px,#00f 109px,#0000d3 111px,#000096 113px,#000080 114px,#000080 473px,#000094 474px,#0000fd 477px,#000bff 478px,#000bff 480px) 162px 0/1px 100%,linear-gradient(#9cff5b,#7aff7d 82px,#3dffba 92px,#12fce5 97px,#00d8ff 99px,#007fff 102px,#0043ff 105px,#0002ff 109px,#00f 110px,#0000d3 112px,#000096 114px,#000080 115px,#000080 473px,#000094 474px,#0000fd 477px,#000bff 478px,#000bff 480px) 163px 0/1px 100%,linear-gradient(#9eff59,#7dff79 82px,#45ffb1 92px,#12fce4 98px,#00d8ff 100px,#007fff 103px,#0043ff 106px,#0002ff 110px,#00f 111px,#0000d3 113px,#000096 115px,#000080 116px,#000080 473px,#000094 474px,#0000fd 477px,#000bff 478px,#000bff 480px) 164px 0/1px 100%,linear-gradient(#a0ff57,#7eff79 83px,#46ffb1 93px,#13fde4 99px,#00d8ff 101px,#007fff 104px,#0043ff 107px,#0002ff 111px,#00f 112px,#0000d3 114px,#000096 116px,#000080 117px,#000080 473px,#000094 474px,#0000fd 477px,#000bff 478px,#000bff 480px) 165px 0/1px 100%,linear-gradient(#a1ff55,#7fff78 84px,#4fffa8 93px,#13fde4 100px,#00d9ff 102px,#007fff 105px,#0043ff 108px,#0002ff 112px,#00f 113px,#0000d3 115px,#000096 117px,#000080 118px,#000080 473px,#000094 474px,#0000fd 477px,#000bff 478px,#000bff 480px) 166px 0/1px 100%,linear-gradient(#a3ff54,#80ff76 85px,#4fffa7 94px,#13fee3 101px,#00d9ff 103px,#007fff 106px,#0043ff 109px,#0002ff 113px,#00f 114px,#0000d3 116px,#000096 118px,#000080 119px,#000080 473px,#000094 474px,#0000fd 477px,#000bff 478px,#000bff 480px) 167px 0/1px 100%,linear-gradient(#a5ff52,#82ff75 86px,#50ffa6 95px,#14fee3 102px,#00d9ff 104px,#007fff 107px,#0043ff 110px,#0002ff 114px,#00f 115px,#0000d3 117px,#000096 119px,#000080 120px,#000080 473px,#000094 474px,#0000fd 477px,#000bff 478px,#000bff 480px) 168px 0/1px 100%,linear-gradient(#a5ff51,#82ff75 87px,#51ffa6 96px,#14ffe3 103px,#00d9ff 105px,#007fff 108px,#0043ff 111px,#0002ff 115px,#00f 116px,#0000d3 118px,#000096 120px,#000080 121px,#000080 473px,#000094 474px,#0000fd 477px,#000bff 478px,#000bff 480px) 169px 0/1px 100%,linear-gradient(#a4ff53,#81ff76 88px,#59ff9e 96px,#15ffe2 104px,#00daff 106px,#007fff 109px,#0043ff 112px,#0002ff 116px,#00f 117px,#0000b7 120px,#000080 122px,#000080 473px,#000094 474px,#0000fd 477px,#000bff 478px,#000bff 480px) 170px 0/1px 100%,linear-gradient(#9fff58,#7eff79 89px,#60ff96 96px,#15ffe2 105px,#00daff 107px,#0080ff 110px,#0043ff 113px,#0002ff 117px,#00f 118px,#0000b9 121px,#000083 123px,#000080 473px,#000094 474px,#0000fd 477px,#000bff 478px,#000bff 480px) 171px 0/1px 100%,linear-gradient(#98ff5f,#77ff80 91px,#61ff96 97px,#20ffd7 105px,#15ffe1 106px,#00daff 108px,#0080ff 111px,#0043ff 114px,#0002ff 118px,#00f 119px,#00a 123px,#00008e 124px,#000080 125px,#000080 473px,#000094 474px,#0000fd 477px,#000bff 478px,#000bff 480px) 172px 0/1px 100%,linear-gradient(#90ff67,#6fff88 94px,#54ffa3 100px,#16ffe1 107px,#00daff 109px,#0080ff 112px,#0054ff 114px,#0003ff 119px,#00f 120px,#00c 123px,#000094 125px,#000080 126px,#000080 473px,#000094 474px,#0000fd 477px,#000bff 478px,#000bff 480px) 173px 0/1px 100%,linear-gradient(#88ff6f,#68ff8f 96px,#54ffa3 101px,#16ffe1 108px,#00dbff 110px,#0080ff 113px,#0054ff 115px,#0006ff 120px,#0000f9 122px,#0000d1 124px,#000096 126px,#000080 127px,#000080 473px,#000094 474px,#0000fd 477px,#000bff 478px,#000bff 480px) 174px 0/1px 100%,linear-gradient(#7fff78,#5fff98 99px,#44ffb2 104px,#16ffe0 109px,#09f1ee 110px,#00dbff 111px,#0080ff 114px,#0054ff 116px,#000dff 121px,#00f 122px,#0000fe 123px,#0000d2 125px,#000096 127px,#000080 128px,#000080 473px,#000094 474px,#0000fd 477px,#000bff 478px,#000bff 480px) 175px 0/1px 100%,linear-gradient(#74ff83,#56ffa0 101px,#3bffbb 106px,#17ffe0 110px,#09f1ed 111px,#00dbff 112px,#0080ff 115px,#05f 117px,#0001ff 123px,#00f 124px,#0000d2 126px,#000094 128px,#000080 129px,#000080 473px,#000094 474px,#0000fd 477px,#000bff 478px,#000bff 480px) 176px 0/1px 100%,linear-gradient(#67ff90,#4cffab 103px,#32ffc5 108px,#17ffe0 111px,#0af1ed 112px,#00dbff 113px,#0080ff 116px,#0059ff 118px,#0002ff 124px,#00f 125px,#0000d1 127px,#00008e 129px,#000080 130px,#000080 473px,#000094 474px,#0000fd 477px,#000bff 478px,#000bff 480px) 177px 0/1px 100%,linear-gradient(#59ff9e,#40ffb7 105px,#29ffce 110px,#16ffe0 112px,#0af1ed 113px,#00dbff 114px,#0084ff 117px,#0001ff 125px,#0000fe 126px,#00c 128px,#000080 130px,#000080 473px,#000094 474px,#0000fd 477px,#000bff 478px,#000bff 480px) 178px 0/1px 100%,linear-gradient(#49ffae,#34ffc3 107px,#1effd9 112px,#15ffe2 113px,#00dbff 115px,#0090ff 118px,#0043ff 122px,#00f 126px,#0000f9 127px,#0000be 129px,#000095 130px,#000080 131px,#000080 473px,#000094 474px,#0000fd 477px,#000bff 478px,#000bff 480px) 179px 0/1px 100%,linear-gradient(#39ffbe,#26ffd1 110px,#12fce5 114px,#00defd 116px,#009aff 119px,#0067ff 121px,#000cff 126px,#00f 127px,#0000ed 128px,#0000ce 129px,#000080 131px,#000080 473px,#000094 474px,#0000fd 477px,#000bff 478px,#000bff 480px) 180px 0/1px 100%,linear-gradient(#27ffd0,#18ffdf 112px,#0cf4eb 115px,#00d1ff 118px,#0065ff 122px,#00f 127px,#0000f7 128px,#0000d9 129px,#000085 131px,#000080 135px,#000080 473px,#000094 474px,#0000fd 477px,#000bff 478px,#000bff 480px) 181px 0/1px 100%,linear-gradient(#0ff8e8,#03eaf3 114px,#00d7ff 118px,#00c7ff 119px,#005dff 123px,#0006ff 127px,#0000fd 128px,#0000ba 130px,#00008c 131px,#000080 132px,#000080 473px,#000094 474px,#0000fd 477px,#000bff 478px,#000bff 480px) 182px 0/1px 100%,linear-gradient(#0cf,#00c3ff 117px,#00b9ff 119px,#00abff 120px,#0008ff 127px,#00f 128px,#0000bc 130px,#00008e 131px,#000080 132px,#000080 473px,#000094 474px,#0000fd 477px,#000bff 478px,#000bff 480px) 183px 0/1px 100%,linear-gradient(#0095ff,#0095ff 2px,#0071ff 5px,#000eff 9px,#00f 10px,#0000f9 11px,#0000e6 12px,#0000c1 13px,#0000ac 14px,#0000c9 24px,#0000c4 32px,#00008a 50px,#00008a 60px,#0000a3 94px,#0000a6 467px,#008 476px,#0000e9 477px,#0078ff 478px,#18ffdf 479px,#18ffdf 480px) 184px 0/1px 100%,linear-gradient(#0095ff,#0095ff 2px,#0071ff 5px,#000eff 9px,#00f 10px,#0000f9 11px,#0000e6 12px,#0000c1 13px,#0000b7 14px,#0000d9 23px,#0000d9 30px,#0000ad 41px,#00008a 51px,#000096 62px,#0000c3 91px,#0000c9 320px,#0000cf 465px,#0000bf 469px,#000090 476px,#0000e9 477px,#0078ff 478px,#18ffdf 479px,#18ffdf 480px) 185px 0/1px 100%,linear-gradient(#0095ff,#0095ff 2px,#0071ff 5px,#000eff 9px,#00f 10px,#0000f9 11px,#0000e6 12px,#0000c1 13px,#0000eb 23px,#0000ed 29px,#0000ce 37px,#000093 49px,#00008e 54px,#0000e8 90px,#0000ed 288px,#0000fb 443px,#0000f8 466px,#0000d7 470px,#009 476px,#0000e9 477px,#0078ff 478px,#18ffdf 479px,#18ffdf 480px) 186px 0/1px 100%,linear-gradient(#0095ff,#0095ff 2px,#0071ff 5px,#000eff 9px,#00f 10px,#0000f9 11px,#0000e6 12px,#0000c9 13px,#0000fb 22px,#0000fe 30px,#0000d7 38px,#00009b 48px,#00008f 52px,#00f 86px,#0005ff 324px,#000fff 442px,#000cff 466px,#00f 469px,#0000a2 476px,#0000e9 477px,#0078ff 478px,#18ffdf 479px,#18ffdf 480px) 187px 0/1px 100%,linear-gradient(#0095ff,#0095ff 2px,#0071ff 5px,#000eff 9px,#00f 10px,#0000f9 11px,#0000d6 13px,#00f 19px,#0002ff 29px,#00f 34px,#0000a0 48px,#000092 52px,#0000d1 69px,#00f 81px,#0004ff 86px,#000cff 93px,#01f 276px,#0026ff 428px,#0025ff 465px,#0010ff 468px,#0003ff 469px,#00f 470px,#0000d6 473px,#0000a7 476px,#0000e9 477px,#0078ff 478px,#18ffdf 479px,#18ffdf 480px) 188px 0/1px 100%,linear-gradient(#0095ff,#0095ff 2px,#0071ff 5px,#000eff 9px,#00f 10px,#0000f9 11px,#0000e6 12px,#0000e2 13px,#00f 17px,#0004ff 20px,#0014ff 26px,#0009ff 32px,#00f 35px,#0000fa 37px,#0000a5 48px,#000095 52px,#0000ac 59px,#00f 79px,#0005ff 84px,#0015ff 90px,#001aff 275px,#0030ff 426px,#002fff 465px,#0019ff 468px,#00f 470px,#00f 471px,#0000ab 476px,#0000e9 477px,#0078ff 478px,#18ffdf 479px,#18ffdf 480px) 189px 0/1px 100%,linear-gradient(#0095ff,#0095ff 2px,#0071ff 5px,#000eff 9px,#00f 10px,#0000f9 11px,#0000e6 12px,#00f 15px,#00f 17px,#001eff 23px,#0020ff 29px,#0006ff 35px,#00f 37px,#00f 38px,#00a 48px,#000097 52px,#0000a0 56px,#00f 79px,#0003ff 83px,#0018ff 90px,#001dff 274px,#03f 425px,#0032ff 465px,#001eff 468px,#00f 471px,#0000fb 472px,#0000c5 475px,#0000b0 476px,#0000e9 477px,#0078ff 478px,#18ffdf 479px,#18ffdf 480px) 190px 0/1px 100%,linear-gradient(#0095ff,#0095ff 2px,#0071ff 5px,#000eff 9px,#00f 10px,#00e 12px,#00f 14px,#000bff 17px,#002aff 23px,#002cff 29px,#0012ff 35px,#00f 38px,#0000f8 40px,#0000af 48px,#009 52px,#0000a0 56px,#00f 79px,#0004ff 83px,#0018ff 90px,#001dff 274px,#0034ff 425px,#0031ff 466px,#00f 472px,#00f 473px,#0000ef 474px,#0000b8 476px,#0000e9 477px,#0078ff 478px,#18ffdf 479px,#18ffdf 480px) 191px 0/1px 100%,linear-gradient(#0095ff,#0095ff 2px,#0071ff 5px,#000eff 9px,#00f 10px,#0000f6 12px,#00f 13px,#0004ff 15px,#002cff 21px,#0038ff 27px,#0027ff 33px,#00f 39px,#00f 40px,#0000ac 49px,#009 53px,#0000ba 62px,#00f 79px,#0004ff 83px,#0018ff 90px,#001dff 274px,#0034ff 425px,#0035ff 467px,#0027ff 471px,#00f 474px,#0000ec 475px,#0000c4 476px,#0000e9 477px,#0078ff 478px,#18ffdf 479px,#18ffdf 480px) 192px 0/1px 100%,linear-gradient(#0095ff,#0095ff 2px,#0071ff 5px,#000eff 9px,#00f 10px,#0000f9 11px,#0001ff 14px,#002eff 20px,#003fff 26px,#03f 32px,#000aff 38px,#00f 40px,#0000fc 41px,#0000af 49px,#00009a 53px,#0000ad 59px,#00f 78px,#0004ff 83px,#0018ff 90px,#001dff 274px,#0034ff 425px,#0038ff 461px,#004aff 470px,#003eff 472px,#0030ff 473px,#00f 475px,#0000d1 476px,#0000e9 477px,#0078ff 478px,#18ffdf 479px,#18ffdf 480px) 193px 0/1px 100%,linear-gradient(#0095ff,#0095ff 2px,#0071ff 5px,#000eff 9px,#00f 10px,#0000f9 11px,#0006ff 14px,#03f 20px,#0043ff 26px,#0038ff 32px,#000fff 38px,#00f 40px,#00f 41px,#0000b1 49px,#00009a 53px,#0000a9 58px,#00f 78px,#0004ff 83px,#0018ff 90px,#001dff 274px,#0034ff 425px,#0038ff 457px,#0052ff 465px,#0069ff 470px,#005dff 472px,#004eff 473px,#0035ff 474px,#0009ff 475px,#00d 476px,#0000e9 477px,#0078ff 478px,#18ffdf 479px,#18ffdf 480px) 194px 0/1px 100%,linear-gradient(#0095ff,#0095ff 2px,#0071ff 5px,#000eff 9px,#00f 10px,#0000f9 11px,#00f 13px,#0036ff 20px,#0045ff 26px,#003bff 32px,#01f 38px,#00f 40px,#0000f8 42px,#0000b2 49px,#00009b 53px,#0000a9 58px,#00f 78px,#0004ff 83px,#0018ff 90px,#001dff 274px,#0034ff 425px,#0039ff 455px,#0069ff 465px,#0084ff 470px,#07f 472px,#0068ff 473px,#004cff 474px,#001aff 475px,#0000e8 476px,#0000e9 477px,#0078ff 478px,#18ffdf 479px,#18ffdf 480px) 195px 0/1px 100%,linear-gradient(#0095ff,#0095ff 2px,#0071ff 5px,#000eff 9px,#00f 10px,#0000f9 11px,#00f 13px,#0036ff 20px,#0045ff 26px,#003bff 32px,#01f 38px,#00f 40px,#0000f8 42px,#0000b2 49px,#00009b 53px,#0000a9 58px,#00f 78px,#0004ff 83px,#0018ff 90px,#001dff 274px,#0034ff 425px,#0038ff 452px,#004eff 457px,#09f 469px,#0096ff 471px,#007dff 473px,#005fff 474px,#0029ff 475px,#0000f0 476px,#0000e9 477px,#0078ff 478px,#18ffdf 479px,#18ffdf 480px) 196px 0/1px 100%,linear-gradient(#0095ff,#0095ff 2px,#0071ff 5px,#000eff 9px,#00f 10px,#0000f9 11px,#0006ff 14px,#03f 20px,#0043ff 26px,#0038ff 32px,#000fff 38px,#00f 40px,#00f 41px,#0000b1 49px,#00009a 53px,#0000a9 58px,#00f 78px,#0004ff 83px,#0018ff 90px,#001dff 274px,#0034ff 425px,#0038ff 449px,#004cff 454px,#009cff 466px,#00acff 470px,#009eff 472px,#008eff 473px,#006eff 474px,#0034ff 475px,#0000f7 476px,#0000e9 477px,#0078ff 478px,#18ffdf 479px,#18ffdf 480px) 197px 0/1px 100%,linear-gradient(#0095ff,#0095ff 2px,#0071ff 5px,#000eff 9px,#00f 10px,#0000f9 11px,#0001ff 14px,#002eff 20px,#003fff 26px,#03f 32px,#000aff 38px,#00f 40px,#0000fc 41px,#0000af 49px,#00009a 53px,#0000ad 59px,#00f 78px,#0004ff 83px,#0018ff 90px,#001dff 274px,#0034ff 425px,#0039ff 447px,#0050ff 452px,#0091ff 461px,#00baff 469px,#00b6ff 471px,#009bff 473px,#007aff 474px,#0000fc 476px,#0000e9 477px,#0078ff 478px,#18ffdf 479px,#18ffdf 480px) 198px 0/1px 100%,linear-gradient(#0095ff,#0095ff 2px,#0071ff 5px,#000eff 9px,#00f 10px,#0000f6 12px,#00f 13px,#0004ff 15px,#002cff 21px,#0038ff 27px,#0027ff 33px,#00f 39px,#00f 40px,#0000ac 49px,#009 53px,#0000ba 62px,#00f 79px,#0004ff 83px,#0018ff 90px,#001dff 274px,#0034ff 425px,#0038ff 444px,#004dff 449px,#009cff 460px,#00c5ff 469px,#00c0ff 471px,#00a5ff 473px,#0082ff 474px,#00f 476px,#0000e9 477px,#0078ff 478px,#18ffdf 479px,#18ffdf 480px) 199px 0/1px 100%,linear-gradient(#0095ff,#0095ff 2px,#0071ff 5px,#000eff 9px,#00f 10px,#00e 12px,#00f 14px,#000bff 17px,#002aff 23px,#002cff 29px,#0012ff 35px,#00f 38px,#0000f8 40px,#0000af 48px,#009 52px,#0000a0 56px,#00f 78px,#0004ff 83px,#0018ff 90px,#001dff 274px,#0034ff 425px,#0039ff 442px,#0058ff 448px,#009fff 458px,#0cf 469px,#00c7ff 471px,#00abff 473px,#08f 474px,#00f 476px,#0000e9 477px,#0078ff 478px,#18ffdf 479px,#18ffdf 480px) 200px 0/1px 100%,linear-gradient(#0095ff,#0095ff 2px,#0071ff 5px,#000eff 9px,#00f 10px,#0000f9 11px,#0000e6 12px,#00f 15px,#00f 17px,#001eff 23px,#0020ff 29px,#0006ff 35px,#00f 37px,#00f 38px,#00a 48px,#000097 52px,#0000a0 56px,#00f 78px,#0004ff 83px,#0018ff 90px,#001dff 274px,#0034ff 426px,#003bff 440px,#005cff 446px,#00a0ff 456px,#00d1ff 469px,#00cbff 471px,#00afff 473px,#008bff 474px,#00f 476px,#0000e9 477px,#0078ff 478px,#18ffdf 479px,#18ffdf 480px) 201px 0/1px 100%,linear-gradient(#0095ff,#0095ff 2px,#0071ff 5px,#000eff 9px,#00f 10px,#0000f9 11px,#0000e6 12px,#0000e2 13px,#00f 17px,#0004ff 20px,#0014ff 26px,#0009ff 32px,#00f 35px,#0000fa 37px,#0000a5 48px,#000095 52px,#0000ad 59px,#00f 78px,#0004ff 83px,#0018ff 90px,#001dff 274px,#003bff 436px,#004bff 441px,#009bff 453px,#00cfff 467px,#00d2ff 470px,#00c2ff 472px,#00b0ff 473px,#008dff 474px,#00f 476px,#0000e9 477px,#0078ff 478px,#18ffdf 479px,#18ffdf 480px) 202px 0/1px 100%,linear-gradient(#0095ff,#0095ff 2px,#0071ff 5px,#000eff 9px,#00f 10px,#0000f9 11px,#0000d6 13px,#00f 19px,#0002ff 29px,#00f 34px,#0000a0 48px,#000093 52px,#0000f6 76px,#00f 79px,#0004ff 83px,#0018ff 90px,#001dff 274px,#003bff 428px,#004fff 439px,#009cff 451px,#0cf 465px,#00d3ff 470px,#00c2ff 472px,#00b0ff 473px,#008dff 474px,#00f 476px,#0000e9 477px,#0078ff 478px,#18ffdf 479px,#18ffdf 480px) 203px 0/1px 100%,linear-gradient(#0095ff,#0095ff 2px,#0071ff 5px,#000eff 9px,#00f 10px,#0000f9 11px,#0000e6 12px,#0000c9 13px,#0000fb 22px,#0000fe 30px,#0000d7 38px,#00009b 48px,#000092 52px,#00f 79px,#0004ff 83px,#0018ff 90px,#001dff 274px,#003bff 420px,#0058ff 437px,#00a5ff 451px,#00d3ff 469px,#00cbff 471px,#00afff 473px,#008bff 474px,#00f 476px,#0000e9 477px,#0078ff 478px,#18ffdf 479px,#18ffdf 480px) 204px 0/1px 100%,linear-gradient(#0095ff,#0095ff 2px,#0071ff 5px,#000eff 9px,#00f 10px,#0000f9 11px,#0000e6 12px,#0000c1 13px,#0000eb 23px,#0000ed 29px,#0000ce 37px,#000093 49px,#000093 53px,#00f 79px,#0003ff 83px,#0018ff 90px,#001dff 274px,#003cff 414px,#0067ff 436px,#0083ff 442px,#00afff 452px,#00d0ff 469px,#00c7ff 471px,#00abff 473px,#08f 474px,#00f 476px,#0000e9 477px,#0078ff 478px,#18ffdf 479px,#18ffdf 480px) 205px 0/1px 100%,linear-gradient(#0095ff,#0095ff 2px,#0071ff 5px,#000eff 9px,#00f 10px,#0000f9 11px,#0000e6 12px,#0000c1 13px,#0000b7 14px,#0000d9 23px,#0000d9 30px,#0000ad 41px,#00008e 50px,#00009f 56px,#00f 79px,#0005ff 84px,#0016ff 90px,#001bff 274px,#0039ff 394px,#0046ff 413px,#0080ff 439px,#00adff 450px,#00cbff 468px,#00c1ff 471px,#00a5ff 473px,#0082ff 474px,#00f 476px,#0000e9 477px,#0078ff 478px,#18ffdf 479px,#18ffdf 480px) 206px 0/1px 100%,linear-gradient(#0095ff,#0095ff 2px,#0071ff 5px,#000eff 9px,#00f 10px,#0000f9 11px,#0000e6 12px,#0000c1 13px,#0000ac 14px,#0000c9 24px,#0000c4 32px,#00008c 49px,#000096 54px,#00f 80px,#0004ff 85px,#0010ff 91px,#0015ff 275px,#002cff 357px,#0050ff 411px,#0090ff 440px,#00b2ff 451px,#00c4ff 468px,#00b8ff 471px,#009bff 473px,#007aff 474px,#0000fb 476px,#0000e9 477px,#0078ff 478px,#18ffdf 479px,#18ffdf 480px) 207px 0/1px 100%,linear-gradient(#0095ff,#0095ff 2px,#0071ff 5px,#000eff 9px,#00f 10px,#0000f9 11px,#0000e6 12px,#0000a2 14px,#00b 25px,#0000b1 34px,#000089 49px,#000098 55px,#00f 83px,#000aff 278px,#001fff 334px,#0060ff 411px,#009cff 441px,#00b7ff 454px,#00b9ff 468px,#00abff 471px,#008eff 473px,#006eff 474px,#0032ff 475px,#0000f4 476px,#0000e9 477px,#0078ff 478px,#18ffdf 479px,#18ffdf 480px) 208px 0/1px 100%,linear-gradient(#0095ff,#0095ff 2px,#0071ff 5px,#000eff 9px,#00f 10px,#0000f9 11px,#0000e6 12px,#00009a 14px,#0000ad 26px,#00009e 37px,#000087 50px,#0000fe 89px,#0004ff 291px,#001aff 329px,#05f 382px,#0070ff 412px,#00a6ff 443px,#00b8ff 458px,#00a7ff 469px,#008eff 472px,#007dff 473px,#005eff 474px,#0026ff 475px,#0000eb 476px,#0000e9 477px,#0078ff 478px,#18ffdf 479px,#18ffdf 480px) 209px 0/1px 100%,linear-gradient(#0095ff,#0095ff 2px,#0071ff 5px,#000eff 9px,#00f 10px,#0000f9 11px,#0000e6 12px,#0000c1 13px,#000093 14px,#0000a2 27px,#000085 50px,#0000e4 90px,#0000ea 194px,#00f 272px,#0007ff 295px,#02f 327px,#005cff 372px,#007dff 413px,#00b9ff 457px,#0094ff 469px,#0078ff 472px,#0068ff 473px,#004aff 474px,#0016ff 475px,#0000df 476px,#0000e9 477px,#0078ff 478px,#18ffdf 479px,#18ffdf 480px) 210px 0/1px 100%,linear-gradient(#0095ff,#0095ff 2px,#0071ff 5px,#000eff 9px,#00f 10px,#0000f9 11px,#0000e6 12px,#0000c1 13px,#000092 14px,#000092 18px,#000097 31px,#000084 51px,#0000c8 91px,#0000ce 175px,#0000e0 197px,#00f 254px,#0006ff 278px,#0032ff 325px,#0067ff 367px,#08f 414px,#00b7ff 457px,#009eff 461px,#0082ff 468px,#005eff 472px,#004eff 473px,#0032ff 474px,#0003ff 475px,#0000d2 476px,#0000e9 477px,#0078ff 478px,#18ffdf 479px,#18ffdf 480px) 211px 0/1px 100%,linear-gradient(#0095ff,#0095ff 2px,#0071ff 5px,#000eff 9px,#00f 10px,#0000f9 11px,#0000e6 12px,#0000c1 13px,#000092 14px,#00008a 15px,#00008f 32px,#000084 52px,#0000ad 92px,#0000b3 160px,#0000d4 188px,#00e 202px,#00f 231px,#0007ff 251px,#0046ff 325px,#0074ff 368px,#0090ff 416px,#00b0ff 452px,#00b4ff 456px,#008dff 461px,#0067ff 468px,#003eff 472px,#002fff 473px,#0000fb 475px,#0000c3 476px,#0000e9 477px,#0078ff 478px,#18ffdf 479px,#18ffdf 480px) 212px 0/1px 100%,linear-gradient(#0095ff,#0095ff 2px,#0071ff 5px,#000eff 9px,#00f 10px,#0000f9 11px,#0000e6 12px,#0000c1 13px,#000092 14px,#000087 15px,#008 35px,#000083 55px,#000097 97px,#00009d 148px,#0000bc 170px,#00f 198px,#0006ff 220px,#005eff 329px,#0081ff 377px,#0097ff 420px,#00abff 450px,#00b1ff 454px,#009aff 457px,#0078ff 461px,#0046ff 468px,#00f 474px,#0000de 475px,#0000b2 476px,#0000e9 477px,#0078ff 478px,#18ffdf 479px,#18ffdf 480px) 213px 0/1px 100%,linear-gradient(#0095ff,#0095ff 2px,#0071ff 5px,#000eff 9px,#00f 10px,#0000f9 11px,#0000e6 12px,#0000c1 13px,#000092 14px,#000084 15px,#000082 42px,#00008e 138px,#0000b1 158px,#00f 188px,#0007ff 195px,#001aff 212px,#005cff 306px,#0086ff 374px,#00a4ff 447px,#00adff 452px,#0097ff 455px,#06f 460px,#002cff 467px,#00f 471px,#0000fe 472px,#0000dc 474px,#0000a1 476px,#0000e9 477px,#0078ff 478px,#18ffdf 479px,#18ffdf 480px) 214px 0/1px 100%,linear-gradient(#0095ff,#0095ff 2px,#0071ff 5px,#000eff 9px,#00f 10px,#0000f9 11px,#0000e6 12px,#0000c1 13px,#000092 14px,#000082 15px,#000086 129px,#00009f 142px,#00f 176px,#0004ff 183px,#002bff 201px,#0065ff 293px,#008dff 380px,#00a1ff 446px,#0af 450px,#0094ff 453px,#005bff 458px,#001cff 465px,#0004ff 467px,#0000f8 469px,#0000a4 475px,#000092 476px,#0000e9 477px,#0078ff 478px,#18ffdf 479px,#18ffdf 480px) 215px 0/1px 100%,linear-gradient(#0095ff,#0095ff 2px,#0071ff 5px,#000eff 9px,#00f 10px,#0000f9 11px,#0000e6 12px,#0000c1 13px,#000092 14px,#000081 15px,#000084 121px,#00009c 134px,#0000de 153px,#00f 165px,#0005ff 172px,#0041ff 201px,#0071ff 290px,#0091ff 390px,#09f 439px,#009fff 445px,#00a6ff 448px,#009cff 450px,#0047ff 457px,#00f 464px,#00f 465px,#0000b0 471px,#000087 476px,#0000e9 477px,#0078ff 478px,#18ffdf 479px,#18ffdf 480px) 216px 0/1px 100%,linear-gradient(#0095ff,#0095ff 2px,#0071ff 5px,#000eff 9px,#00f 10px,#0000f9 11px,#0000e6 12px,#0000c1 13px,#000092 14px,#000081 15px,#000084 114px,#00009d 127px,#0000f1 148px,#00f 154px,#0005ff 161px,#0051ff 198px,#0079ff 284px,#0097ff 424px,#0096ff 442px,#00a3ff 446px,#09f 448px,#003dff 455px,#00f 461px,#0000fd 462px,#0000a2 469px,#00008a 473px,#000082 476px,#0000e9 477px,#0078ff 478px,#18ffdf 479px,#18ffdf 480px) 217px 0/1px 100%,linear-gradient(#0095ff,#0095ff 2px,#0071ff 5px,#000eff 9px,#00f 10px,#0000f9 11px,#0000e6 12px,#0000c1 13px,#000092 14px,#000080 15px,#000083 106px,#000098 118px,#0000e9 137px,#00f 143px,#0005ff 150px,#05f 190px,#06f 208px,#0084ff 297px,#0092ff 427px,#0090ff 440px,#009fff 444px,#0097ff 446px,#03f 453px,#0004ff 457px,#0000f9 459px,#0000a0 466px,#000087 470px,#000080 476px,#0000e9 477px,#0078ff 478px,#18ffdf 479px,#18ffdf 480px) 218px 0/1px 100%,linear-gradient(#0095ff,#0095ff 2px,#0071ff 5px,#000eff 9px,#00f 10px,#0000f9 11px,#0000e6 12px,#0000c1 13px,#000092 14px,#000080 15px,#000084 99px,#00009e 112px,#00f 135px,#0004ff 140px,#003dff 166px,#006eff 200px,#08f 296px,#008eff 422px,#008bff 438px,#009aff 443px,#0089ff 445px,#0029ff 451px,#0005ff 454px,#0000f9 456px,#0000a9 462px,#00008b 466px,#000080 473px,#000080 476px,#0000e9 477px,#0078ff 478px,#18ffdf 479px,#18ffdf 480px) 219px 0/1px 100%,linear-gradient(#0095ff,#0095ff 2px,#0071ff 5px,#000eff 9px,#00f 10px,#0000f9 11px,#0000e6 12px,#0000c1 13px,#000092 14px,#000080 15px,#000083 93px,#0000a4 106px,#00f 127px,#0003ff 132px,#0030ff 148px,#006cff 188px,#007bff 213px,#008dff 333px,#0089ff 419px,#008aff 434px,#0096ff 441px,#0087ff 443px,#001fff 449px,#0005ff 451px,#0000f9 453px,#0000a8 459px,#00008a 463px,#000080 470px,#000080 476px,#0000e9 477px,#0078ff 478px,#18ffdf 479px,#18ffdf 480px) 220px 0/1px 100%,linear-gradient(#0095ff,#0095ff 2px,#0071ff 5px,#000eff 9px,#00f 10px,#0000f9 11px,#0000e6 12px,#0000c1 13px,#000092 14px,#000080 15px,#000083 88px,#000097 96px,#00f 120px,#0006ff 125px,#003fff 146px,#0074ff 186px,#0082ff 216px,#008bff 355px,#0085ff 426px,#0094ff 439px,#0085ff 441px,#0016ff 447px,#00f 449px,#0000fa 450px,#0000a8 456px,#00008a 460px,#000080 467px,#000080 476px,#0000e9 477px,#0078ff 478px,#18ffdf 479px,#18ffdf 480px) 221px 0/1px 100%,linear-gradient(#0095ff,#0095ff 2px,#0071ff 5px,#000eff 9px,#00f 10px,#0000f9 11px,#0000e6 12px,#0000c1 13px,#000092 14px,#000080 15px,#000083 83px,#000097 91px,#0000e7 106px,#00f 112px,#0005ff 117px,#0047ff 141px,#0075ff 178px,#0084ff 211px,#0087ff 351px,#0083ff 420px,#0094ff 435px,#008cff 438px,#0074ff 440px,#000dff 445px,#00f 446px,#0000fc 447px,#0000a9 453px,#00008a 457px,#000080 464px,#000080 476px,#0000e9 477px,#0078ff 478px,#18ffdf 479px,#18ffdf 480px) 222px 0/1px 100%,linear-gradient(#0095ff,#0095ff 2px,#0071ff 5px,#000eff 9px,#00f 10px,#0000f9 11px,#0000e6 12px,#0000c1 13px,#000092 14px,#000080 15px,#000083 78px,#000098 86px,#0000f7 102px,#00f 106px,#000bff 111px,#004aff 135px,#006dff 161px,#0085ff 202px,#0084ff 342px,#007cff 407px,#0091ff 429px,#007bff 436px,#006aff 438px,#0046ff 440px,#0004ff 443px,#00f 444px,#0000ab 450px,#00008b 454px,#000080 461px,#000080 476px,#0000e9 477px,#0078ff 478px,#18ffdf 479px,#18ffdf 480px) 223px 0/1px 100%,linear-gradient(#0095ff,#0095ff 2px,#0071ff 5px,#000eff 9px,#00f 10px,#0000f9 11px,#0000e6 12px,#0000c1 13px,#000094 14px,#000080 15px,#000083 73px,#000098 81px,#0000e5 93px,#00f 97px,#0006ff 102px,#0045ff 125px,#006cff 150px,#0086ff 195px,#0080ff 334px,#0074ff 402px,#0090ff 420px,#0083ff 427px,#0054ff 435px,#0036ff 438px,#00f 441px,#0000f6 442px,#0000b7 446px,#000091 450px,#000081 455px,#000080 476px,#0000e9 477px,#0078ff 478px,#18ffdf 479px,#18ffdf 480px) 224px 0/1px 100%,linear-gradient(#0095ff,#0095ff 2px,#0071ff 5px,#00f 10px,#0000f9 11px,#0000e6 12px,#000097 14px,#000080 15px,#000083 68px,#000098 76px,#0000e6 88px,#00f 92px,#0003ff 95px,#0027ff 105px,#005cff 130px,#0079ff 158px,#08f 210px,#007bff 342px,#0075ff 400px,#008cff 412px,#0084ff 419px,#005bff 427px,#00f 438px,#0000fd 439px,#0000b9 443px,#000092 447px,#000081 452px,#000080 476px,#0000e9 477px,#0078ff 478px,#18ffdf 479px,#18ffdf 480px) 225px 0/1px 100%,linear-gradient(#0095ff,#0095ff 2px,#0072ff 5px,#006dff 6px,#005cff 7px,#000dff 10px,#00f 11px,#0000e6 12px,#00009a 14px,#000080 15px,#000085 64px,#00009e 72px,#00f 87px,#0004ff 90px,#0031ff 101px,#0063ff 127px,#007eff 158px,#008bff 215px,#007dff 399px,#0089ff 409px,#0073ff 416px,#0025ff 427px,#00f 432px,#0000fb 434px,#0000c9 439px,#00009a 443px,#000085 447px,#000080 470px,#000080 476px,#0000e9 477px,#0078ff 478px,#18ffdf 479px,#18ffdf 480px) 226px 0/1px 100%,linear-gradient(#009dff,#009aff 3px,#0089ff 6px,#0076ff 7px,#0001ff 11px,#0000f0 12px,#00009d 14px,#000080 15px,#000085 59px,#00009e 67px,#0000fd 81px,#0005ff 85px,#003fff 99px,#006aff 126px,#0084ff 160px,#0090ff 210px,#0083ff 404px,#0067ff 411px,#00f 425px,#0000fd 427px,#00008d 442px,#000080 448px,#000080 476px,#0000e9 477px,#0078ff 478px,#18ffdf 479px,#18ffdf 480px) 227px 0/1px 100%,linear-gradient(#0bf,#00b7ff 3px,#00a5ff 6px,#008fff 7px,#000eff 11px,#0000fc 12px,#0000a0 14px,#000080 15px,#000084 53px,#00009a 61px,#0000ea 73px,#00f 76px,#0007ff 80px,#0040ff 94px,#005fff 110px,#0087ff 147px,#0092ff 192px,#007aff 399px,#0051ff 407px,#00f 418px,#00f 420px,#0000ab 432px,#000083 442px,#000080 476px,#0000e9 477px,#0078ff 478px,#18ffdf 479px,#18ffdf 480px) 228px 0/1px 100%,linear-gradient(#00d9ff,#00d5ff 3px,#00c1ff 6px,#00a9ff 7px,#001cff 11px,#00f 12px,#0000d8 13px,#0000a4 14px,#000080 15px,#000083 48px,#00009a 56px,#0000eb 68px,#00f 71px,#0003ff 74px,#003eff 88px,#005fff 102px,#007cff 127px,#0089ff 135px,#0094ff 165px,#006cff 294px,#05f 398px,#00f 412px,#0000fa 414px,#00a 426px,#00008b 434px,#000080 446px,#000081 476px,#0000e9 477px,#0078ff 478px,#18ffdf 479px,#18ffdf 480px) 229px 0/1px 100%,linear-gradient(#02e8f5,#00e4f8 3px,#00cfff 6px,#00b6ff 7px,#00f 12px,#0000dc 13px,#0000a5 14px,#000080 15px,#000083 45px,#0000ac 54px,#00f 66px,#0004ff 69px,#003fff 83px,#0065ff 100px,#007fff 124px,#0093ff 132px,#008fff 168px,#006bff 221px,#004aff 275px,#001aff 398px,#00f 403px,#0000f8 407px,#00009f 422px,#000084 432px,#000082 462px,#000085 475px,#000084 476px,#0000e9 477px,#0078ff 478px,#18ffdf 479px,#18ffdf 480px) 230px 0/1px 100%,linear-gradient(#02e8f5,#00e4f8 3px,#00cfff 6px,#00b6ff 7px,#00f 12px,#0000dc 13px,#0000a5 14px,#000080 15px,#000084 43px,#00009a 47px,#0000fc 60px,#00f 63px,#003aff 76px,#0062ff 93px,#007eff 120px,#0094ff 129px,#007cff 176px,#0027ff 268px,#00f 352px,#0000f9 377px,#0000e6 399px,#0000b7 411px,#000090 420px,#000081 431px,#000084 462px,#000091 472px,#00008a 476px,#0000e9 477px,#0078ff 478px,#18ffdf 479px,#18ffdf 480px) 231px 0/1px 100%,linear-gradient(#02e8f5,#00e4f8 3px,#00cfff 6px,#00b6ff 7px,#00f 12px,#0000dc 13px,#0000a5 14px,#000080 15px,#000083 40px,#000097 44px,#0000e0 51px,#0000fe 55px,#0007ff 59px,#003eff 72px,#0064ff 89px,#0080ff 117px,#0094ff 125px,#08f 137px,#006cff 180px,#0013ff 253px,#00f 276px,#0000fa 311px,#0000ae 401px,#00009d 410px,#000084 420px,#000081 458px,#000095 465px,#0000a5 470px,#009 475px,#000095 476px,#0000e9 477px,#0078ff 478px,#18ffdf 479px,#18ffdf 480px) 232px 0/1px 100%,linear-gradient(#02e8f5,#00e4f8 3px,#00cfff 6px,#00b6ff 7px,#00f 12px,#0000dc 13px,#0000a5 14px,#000080 15px,#000085 38px,#00009d 42px,#0000f6 49px,#00f 50px,#0003ff 53px,#003cff 66px,#0062ff 83px,#007fff 113px,#0094ff 121px,#007eff 133px,#0069ff 172px,#002bff 216px,#00f 248px,#0000f8 257px,#000096 393px,#008 411px,#000080 429px,#000085 459px,#00009f 464px,#0000c2 469px,#0000c2 472px,#0000a7 476px,#0000e9 477px,#0078ff 478px,#18ffdf 479px,#18ffdf 480px) 233px 0/1px 100%,linear-gradient(#02e8f5,#00e4f8 3px,#00cfff 6px,#00b6ff 7px,#00f 12px,#0000dc 13px,#0000a5 14px,#000080 15px,#000084 35px,#00009a 39px,#0000db 44px,#0000f8 46px,#00f 48px,#0027ff 55px,#0054ff 70px,#006fff 91px,#007dff 109px,#0094ff 118px,#0078ff 131px,#0067ff 163px,#003dff 190px,#001eff 207px,#00f 229px,#0000f9 238px,#0000ca 262px,#000092 360px,#000081 432px,#000087 458px,#00009d 462px,#0000e7 468px,#0000f3 470px,#0000ef 472px,#0000c1 476px,#0000e9 477px,#0078ff 478px,#18ffdf 479px,#18ffdf 480px) 234px 0/1px 100%,linear-gradient(#02e8f5,#00e4f8 3px,#00cfff 6px,#00b6ff 7px,#00f 12px,#0000dc 13px,#0000a5 14px,#000080 15px,#000083 32px,#000097 36px,#0000c8 40px,#00f 44px,#00f 45px,#0028ff 50px,#0053ff 64px,#006dff 85px,#007bff 105px,#0094ff 114px,#0075ff 127px,#0061ff 158px,#03f 185px,#0006ff 204px,#00f 215px,#0000a8 260px,#00008f 322px,#000085 388px,#00008f 458px,#00009f 461px,#0000ce 464px,#0000f7 466px,#00f 467px,#001bff 470px,#0015ff 472px,#00f 474px,#0000f7 475px,#0000e2 476px,#0000e9 477px,#0078ff 478px,#18ffdf 479px,#18ffdf 480px) 235px 0/1px 100%,linear-gradient(#02e8f5,#00e4f8 3px,#00cfff 6px,#00b6ff 7px,#00f 12px,#0000dc 13px,#0000a5 14px,#000080 15px,#000084 30px,#00009d 34px,#00f 41px,#00f 42px,#0032ff 48px,#0053ff 59px,#006cff 80px,#0079ff 101px,#0093ff 110px,#0084ff 116px,#0070ff 124px,#0059ff 154px,#0029ff 180px,#00f 195px,#0000f8 202px,#00009b 249px,#00008d 273px,#00008b 364px,#0000a3 457px,#00009d 459px,#0000ab 461px,#0000d1 463px,#00f 465px,#0028ff 467px,#004bff 469px,#0053ff 471px,#003cff 473px,#0010ff 475px,#00f 476px,#0000eb 477px,#0078ff 478px,#18ffdf 479px,#18ffdf 480px) 236px 0/1px 100%,linear-gradient(#02e8f5,#00e4f8 3px,#00cfff 6px,#00b6ff 7px,#00f 12px,#0000dc 13px,#0000a5 14px,#000080 15px,#000083 27px,#00009a 31px,#0000ce 35px,#0000fd 38px,#0006ff 40px,#0039ff 46px,#004fff 52px,#0069ff 72px,#0076ff 97px,#0092ff 106px,#08f 111px,#006cff 119px,#004eff 152px,#0019ff 177px,#00f 186px,#0000fb 191px,#0000d6 201px,#00009b 234px,#00008b 259px,#0000a0 359px,#0000cd 456px,#0000bd 458px,#0000af 459px,#0000ac 460px,#0000b6 461px,#0000e4 463px,#00f 464px,#0012ff 465px,#0067ff 468px,#0079ff 469px,#0083ff 470px,#0083ff 471px,#0079ff 472px,#004eff 474px,#0012ff 476px,#00f 477px,#0078ff 478px,#18ffdf 479px,#18ffdf 480px) 237px 0/1px 100%,linear-gradient(#02e8f5,#00e4f8 3px,#00cfff 6px,#00b6ff 7px,#00f 12px,#0000dc 13px,#0000a5 14px,#000080 15px,#000085 25px,#000097 28px,#0000ca 32px,#0000fa 35px,#0005ff 37px,#0038ff 43px,#05f 50px,#006aff 73px,#0073ff 93px,#0092ff 103px,#0083ff 108px,#0067ff 115px,#0041ff 150px,#00f 178px,#0000f9 183px,#0000b9 201px,#00009e 224px,#000097 250px,#0000cd 364px,#00f 449px,#0000fb 457px,#0000c5 459px,#0000b6 460px,#0000bd 461px,#0000ef 463px,#0001ff 464px,#0064ff 467px,#0094ff 469px,#009fff 470px,#009fff 471px,#0094ff 472px,#0064ff 474px,#0001ff 477px,#0078ff 478px,#18ffdf 479px,#18ffdf 480px) 238px 0/1px 100%,linear-gradient(#02e8f5,#00e4f8 3px,#00cfff 6px,#00b6ff 7px,#00f 12px,#0000dc 13px,#0000a5 14px,#000080 15px,#000084 22px,#00009d 26px,#0000e7 31px,#00f 33px,#0003ff 34px,#0031ff 39px,#0056ff 47px,#0068ff 66px,#006fff 89px,#0090ff 99px,#0087ff 103px,#0060ff 111px,#0030ff 149px,#00f 171px,#0000fb 176px,#0000b8 198px,#0000af 223px,#0000c5 267px,#00f 361px,#0006ff 390px,#0027ff 456px,#001aff 457px,#00f 458px,#0000d9 459px,#0000bd 460px,#0000be 461px,#0000d2 462px,#0000ef 463px,#0001ff 464px,#0064ff 467px,#0094ff 469px,#009fff 470px,#009fff 471px,#0094ff 472px,#0064ff 474px,#0001ff 477px,#0078ff 478px,#18ffdf 479px,#18ffdf 480px) 239px 0/1px 100%,linear-gradient(#02e8f5,#00e4f8 3px,#00cfff 6px,#00b6ff 7px,#00f 12px,#0000dc 13px,#0000a5 14px,#000080 15px,#000084 20px,#0000a6 24px,#00f 30px,#0001ff 31px,#0031ff 36px,#05f 44px,#0064ff 55px,#006bff 85px,#008eff 95px,#0087ff 99px,#0059ff 107px,#001cff 149px,#00f 165px,#0000f9 174px,#00d 187px,#0000d2 203px,#00f 277px,#0006ff 305px,#0050ff 455px,#004dff 456px,#003bff 457px,#01f 458px,#0000e6 459px,#0000be 460px,#0000ba 461px,#0000ca 462px,#00f 464px,#0012ff 465px,#0067ff 468px,#0079ff 469px,#0083ff 470px,#0083ff 471px,#0079ff 472px,#004eff 474px,#0012ff 476px,#00f 477px,#0078ff 478px,#18ffdf 479px,#18ffdf 480px) 240px 0/1px 100%,linear-gradient(#02e8f5,#00e4f8 3px,#00cfff 6px,#00b6ff 7px,#00f 12px,#0000dc 13px,#0000a5 14px,#000080 15px,#000084 19px,#00009c 21px,#00f 27px,#00f 28px,#0030ff 33px,#0050ff 40px,#0063ff 52px,#06f 81px,#008dff 92px,#0080ff 96px,#004eff 104px,#0019ff 141px,#000bff 155px,#00f 174px,#0005ff 225px,#04f 348px,#0065ff 455px,#0060ff 456px,#004dff 457px,#001dff 458px,#0000ea 459px,#0000ba 460px,#0000b0 461px,#0000bd 462px,#00f 465px,#0028ff 467px,#004bff 469px,#0053ff 471px,#003cff 473px,#0010ff 475px,#00f 476px,#0000eb 477px,#0078ff 478px,#18ffdf 479px,#18ffdf 480px) 241px 0/1px 100%,linear-gradient(#02e8f5,#00e4f8 3px,#00cfff 6px,#00b6ff 7px,#00f 12px,#0000dc 13px,#0000a5 14px,#000080 15px,#000081 18px,#000089 19px,#00009c 20px,#0000d6 22px,#0000fe 24px,#00f 25px,#0030ff 30px,#004eff 37px,#0062ff 51px,#0060ff 77px,#007dff 84px,#008cff 88px,#0085ff 91px,#0045ff 100px,#002fff 110px,#000cff 140px,#0014ff 153px,#001bff 161px,#0024ff 200px,#0053ff 317px,#0067ff 432px,#06f 455px,#0061ff 456px,#004dff 457px,#001bff 458px,#0000e6 459px,#0000b3 460px,#0000a5 461px,#0000bc 463px,#0000f7 466px,#00f 467px,#001bff 470px,#0015ff 472px,#00f 474px,#0000f7 475px,#0000e2 476px,#0000e9 477px,#0078ff 478px,#18ffdf 479px,#18ffdf 480px) 242px 0/1px 100%,linear-gradient(#02e8f5,#00e4f8 3px,#00cfff 6px,#00b6ff 7px,#00f 12px,#0000dc 13px,#0000a5 14px,#000080 15px,#000083 18px,#00008f 19px,#0000ae 20px,#00f 22px,#002fff 27px,#004cff 34px,#005fff 50px,#0059ff 73px,#0071ff 79px,#0089ff 84px,#0085ff 87px,#0037ff 97px,#02f 106px,#000aff 128px,#0012ff 141px,#003bff 160px,#005cff 291px,#0060ff 405px,#05f 455px,#0050ff 456px,#003dff 457px,#000fff 458px,#0000db 459px,#00a 460px,#00009a 461px,#0000a7 463px,#0000e7 468px,#0000f3 470px,#0000ef 472px,#0000c1 476px,#0000e9 477px,#0078ff 478px,#18ffdf 479px,#18ffdf 480px) 243px 0/1px 100%,linear-gradient(#02e8f5,#00e4f8 3px,#00cfff 6px,#00b6ff 7px,#00f 12px,#0000dc 13px,#0000a5 14px,#000080 15px,#000084 18px,#000094 19px,#0000bc 20px,#0000f4 21px,#000fff 22px,#0024ff 23px,#003eff 27px,#0054ff 38px,#0058ff 53px,#0052ff 69px,#006bff 75px,#0087ff 80px,#0085ff 83px,#0065ff 87px,#002fff 93px,#0018ff 100px,#0009ff 123px,#0023ff 139px,#0052ff 159px,#005dff 280px,#004eff 393px,#0038ff 455px,#0034ff 456px,#0023ff 457px,#00f 458px,#0000a0 460px,#000091 461px,#00009f 464px,#0000c2 469px,#0000c2 472px,#0000a7 476px,#0000e9 477px,#0078ff 478px,#18ffdf 479px,#18ffdf 480px) 244px 0/1px 100%,linear-gradient(#02e8f5,#00e4f8 3px,#00cfff 6px,#00b6ff 7px,#00f 12px,#0000dc 13px,#0000a5 14px,#000080 15px,#000084 18px,#000097 19px,#0000c5 20px,#00f 21px,#0020ff 22px,#0034ff 23px,#0046ff 28px,#0052ff 49px,#0047ff 64px,#0057ff 69px,#0084ff 76px,#0086ff 79px,#0072ff 82px,#0032ff 88px,#0017ff 93px,#000bff 104px,#0014ff 121px,#0054ff 149px,#005cff 167px,#004cff 308px,#0019ff 455px,#0015ff 456px,#0007ff 457px,#0000f2 458px,#0000be 459px,#000098 460px,#00008a 461px,#009 466px,#0000a5 471px,#000095 476px,#0000e9 477px,#0078ff 478px,#18ffdf 479px,#18ffdf 480px) 245px 0/1px 100%,linear-gradient(#02e8f5,#00e4f8 3px,#00cfff 6px,#00b6ff 7px,#00f 12px,#0000dc 13px,#0000a5 14px,#000080 15px,#000085 18px,#000098 19px,#00f 21px,#0027ff 22px,#003aff 23px,#0046ff 29px,#0045ff 51px,#003eff 61px,#0054ff 66px,#0085ff 73px,#0083ff 76px,#0061ff 80px,#002aff 85px,#0014ff 89px,#000cff 99px,#0026ff 117px,#0054ff 140px,#0057ff 155px,#0023ff 351px,#00f 457px,#0000df 458px,#0000b3 459px,#000093 460px,#000086 461px,#000091 472px,#00008a 476px,#0000e9 477px,#0078ff 478px,#18ffdf 479px,#18ffdf 480px) 246px 0/1px 100%,linear-gradient(#02e8f5,#00e4f8 3px,#00cfff 6px,#00b6ff 7px,#00f 12px,#0000dc 13px,#0000a5 14px,#000080 15px,#000085 18px,#000098 19px,#00f 21px,#0024ff 22px,#0036ff 23px,#0040ff 31px,#0037ff 53px,#0038ff 59px,#005aff 64px,#0083ff 69px,#0086ff 72px,#0073ff 75px,#002aff 82px,#0015ff 86px,#000fff 97px,#002dff 108px,#0053ff 130px,#0054ff 147px,#0048ff 155px,#003cff 161px,#00f 389px,#0000fc 455px,#0000f9 456px,#0000ed 457px,#0000d1 458px,#0000ab 459px,#00008f 460px,#000084 461px,#000084 476px,#0000e9 477px,#0078ff 478px,#18ffdf 479px,#18ffdf 480px) 247px 0/1px 100%,linear-gradient(#02e8f5,#00e4f8 3px,#00cfff 6px,#00b6ff 7px,#00f 12px,#0000dc 13px,#0000a5 14px,#000080 15px,#000084 18px,#000096 19px,#0000c3 20px,#0000fe 21px,#0029ff 23px,#003eff 29px,#0036ff 56px,#0047ff 59px,#0080ff 65px,#008aff 68px,#007cff 71px,#0031ff 79px,#001dff 85px,#001cff 97px,#0035ff 101px,#0052ff 118px,#004fff 143px,#003fff 154px,#02f 158px,#00f 294px,#0000fa 372px,#0000e5 456px,#0000db 457px,#0000c3 458px,#0000a4 459px,#00008c 460px,#000081 462px,#000081 476px,#0000e9 477px,#0078ff 478px,#18ffdf 479px,#18ffdf 480px) 248px 0/1px 100%,linear-gradient(#02e8f5,#00e4f8 3px,#00cfff 6px,#00b6ff 7px,#00f 12px,#0000dc 13px,#0000a5 14px,#000080 15px,#000083 18px,#000093 19px,#0000b8 20px,#0000ea 21px,#0001ff 22px,#0012ff 23px,#0040ff 28px,#0042ff 49px,#004fff 56px,#0085ff 63px,#0084ff 67px,#003bff 77px,#002eff 85px,#002fff 97px,#0048ff 101px,#0054ff 117px,#003dff 152px,#0036ff 154px,#000cff 157px,#0004ff 162px,#0000fa 274px,#0000cd 456px,#0000c6 457px,#000089 460px,#000080 462px,#000080 476px,#0000e9 477px,#0078ff 478px,#18ffdf 479px,#18ffdf 480px) 249px 0/1px 100%,linear-gradient(#02e8f5,#00e4f8 3px,#00cfff 6px,#00b6ff 7px,#00f 12px,#0000dc 13px,#0000a5 14px,#000080 15px,#000082 18px,#00008d 19px,#0000a8 20px,#0000ed 22px,#00f 23px,#0005ff 24px,#04f 28px,#0049ff 33px,#0049ff 47px,#0061ff 51px,#0081ff 61px,#0070ff 66px,#0048ff 74px,#003dff 85px,#003dff 97px,#004cff 102px,#0043ff 124px,#002cff 153px,#0017ff 155px,#0004ff 156px,#0000f5 187px,#0000b4 456px,#0000a2 458px,#000086 460px,#000080 465px,#000080 476px,#0000e9 477px,#0078ff 478px,#18ffdf 479px,#18ffdf 480px) 250px 0/1px 100%,linear-gradient(#02e8f5,#00e4f8 3px,#00cfff 6px,#00b6ff 7px,#00f 12px,#0000dc 13px,#0000a5 14px,#000080 15px,#000081 18px,#000087 19px,#0000ae 21px,#0000f8 24px,#0001ff 25px,#002aff 27px,#0038ff 28px,#003fff 31px,#003dff 46px,#0043ff 47px,#0072ff 50px,#007dff 54px,#007dff 57px,#004eff 65px,#0039ff 74px,#0032ff 110px,#0009ff 153px,#00f 155px,#0000e5 158px,#009 457px,#000080 461px,#000080 476px,#0000e9 477px,#0078ff 478px,#18ffdf 479px,#18ffdf 480px) 251px 0/1px 100%,linear-gradient(#02e8f5,#00e4f8 3px,#00cfff 6px,#00b6ff 7px,#00f 12px,#0000dc 13px,#0000a5 14px,#000080 15px,#000083 19px,#000094 21px,#0000a3 22px,#0000f2 25px,#00f 26px,#0017ff 29px,#0017ff 46px,#0020ff 47px,#006aff 50px,#0071ff 52px,#0061ff 56px,#0026ff 61px,#0015ff 67px,#0008ff 105px,#00f 125px,#0000f5 140px,#0000e2 154px,#0000c8 158px,#000091 400px,#000087 458px,#000080 464px,#000080 476px,#0000e9 477px,#0078ff 478px,#18ffdf 479px,#18ffdf 480px) 252px 0/1px 100%,linear-gradient(#00d6ff,#00d2ff 3px,#00beff 6px,#00a7ff 7px,#001bff 11px,#00f 12px,#0000d8 13px,#0000a3 14px,#000080 15px,#000087 21px,#000090 22px,#00c 25px,#0000ea 28px,#0000ed 46px,#0004ff 48px,#0025ff 49px,#003cff 50px,#0041ff 51px,#0028ff 55px,#0002ff 58px,#00f 59px,#0000ec 62px,#0000de 103px,#0000b1 155px,#0000a9 164px,#00008b 344px,#000080 476px,#0000e9 477px,#0078ff 478px,#18ffdf 479px,#18ffdf 480px) 253px 0/1px 100%,linear-gradient(#00b2ff,#00aeff 3px,#009dff 6px,#08f 7px,#000aff 11px,#0000f9 12px,#0000a0 14px,#000080 15px,#000082 21px,#000090 23px,#0000a9 25px,#0000b6 29px,#0000b6 46px,#0000bf 47px,#0000f1 49px,#00f 50px,#0000f9 53px,#0000b8 60px,#0000b1 75px,#0000a9 106px,#000091 174px,#000081 389px,#000080 476px,#0000e9 477px,#0078ff 478px,#18ffdf 479px,#18ffdf 480px) 254px 0/1px 100%,linear-gradient(#0095ff,#0095ff 2px,#007bff 6px,#0069ff 7px,#0016ff 10px,#00f 11px,#0000ea 12px,#00009c 14px,#000080 15px,#000082 22px,#000092 26px,#000094 46px,#0000a4 48px,#00b 50px,#0000ae 54px,#000093 60px,#000083 221px,#000080 476px,#0000e9 477px,#0078ff 478px,#18ffdf 479px,#18ffdf 480px) 255px 0/1px 100%,linear-gradient(#0095ff,#0095ff 2px,#0071ff 5px,#0032ff 8px,#0002ff 10px,#0000f9 11px,#0000e6 12px,#000098 14px,#000080 15px,#000086 47px,#000091 51px,#000084 63px,#000080 476px,#0000e9 477px,#0078ff 478px,#18ffdf 479px,#18ffdf 480px) 256px 0/1px 100%,linear-gradient(#0095ff,#0095ff 2px,#0071ff 5px,#000eff 9px,#00f 10px,#0000f9 11px,#0000e6 12px,#0000c1 13px,#000094 14px,#000080 15px,#000080 476px,#0000e9 477px,#0078ff 478px,#18ffdf 479px,#18ffdf 480px) 257px 0/1px 100%,linear-gradient(#0095ff,#0095ff 2px,#0071ff 5px,#000eff 9px,#00f 10px,#0000f9 11px,#0000e6 12px,#0000c1 13px,#000092 14px,#000080 15px,#000080 475px,#0000a0 476px,#0000d6 477px,#00f 478px,#0026ff 479px,#0026ff 480px) 258px 0/12px 100%,linear-gradient(#0095ff,#0095ff 2px,#0071ff 5px,#000eff 9px,#00f 10px,#0000f9 11px,#0000e6 12px,#0000c1 13px,#000092 14px,#000080 15px,#000080 475px,#0000a0 476px,#0000d6 477px,#00f 478px,#0026ff 479px,#0026ff 480px) 270px 0/12px 100%,linear-gradient(#0095ff,#0095ff 2px,#0071ff 5px,#000eff 9px,#00f 10px,#0000f9 11px,#0000e6 12px,#0000c1 13px,#000092 14px,#000080 15px,#000080 475px,#0000a0 476px,#0000d6 477px,#00f 478px,#0026ff 479px,#0026ff 480px) 282px 0/12px 100%,linear-gradient(#0095ff,#0095ff 2px,#0071ff 5px,#000eff 9px,#00f 10px,#0000f9 11px,#0000e6 12px,#0000c1 13px,#000092 14px,#000080 15px,#000080 475px,#0000a0 476px,#0000d6 477px,#00f 478px,#0026ff 479px,#0026ff 480px) 294px 0/12px 100%,linear-gradient(#0095ff,#0095ff 2px,#0071ff 5px,#000eff 9px,#00f 10px,#0000f9 11px,#0000e6 12px,#0000c1 13px,#000092 14px,#000080 15px,#000080 473px,#00008e 474px,#0000d6 477px,#00f 478px,#0026ff 479px,#0026ff 480px) 306px 0/1px 100%,linear-gradient(#0095ff,#0095ff 2px,#0071ff 5px,#000eff 9px,#00f 10px,#0000f9 11px,#0000e6 12px,#0000c1 13px,#000092 14px,#000080 15px,#000080 472px,#000094 473px,#00c 475px,#00f 478px,#0026ff 479px,#0026ff 480px) 307px 0/1px 100%,linear-gradient(#0095ff,#0095ff 2px,#0071ff 5px,#000eff 9px,#00f 10px,#0000f9 11px,#0000e6 12px,#0000c1 13px,#000092 14px,#000080 15px,#000080 471px,#000094 472px,#0000d1 474px,#0000f9 476px,#00f 478px,#0026ff 479px,#0026ff 480px) 308px 0/1px 100%,linear-gradient(#0095ff,#0095ff 2px,#0071ff 5px,#000eff 9px,#00f 10px,#0000f9 11px,#0000e6 12px,#0000c1 13px,#000092 14px,#000080 15px,#000080 470px,#00008e 471px,#0000d1 473px,#0000fe 475px,#00f 476px,#0026ff 479px,#0026ff 480px) 309px 0/1px 100%,linear-gradient(#0095ff,#0095ff 2px,#0071ff 5px,#000eff 9px,#00f 10px,#0000f9 11px,#0000e6 12px,#0000c1 13px,#000092 14px,#000080 15px,#000080 470px,#00c 472px,#0000fe 474px,#0001ff 475px,#002aff 478px,#0036ff 480px) 310px 0/1px 100%,linear-gradient(#0095ff,#0095ff 2px,#0071ff 5px,#000eff 9px,#00f 10px,#0000f9 11px,#0000e6 12px,#0000c1 13px,#000092 14px,#000080 15px,#000080 469px,#000095 470px,#0000df 472px,#0000f9 473px,#00f 474px,#003eff 478px,#004dff 480px) 311px 0/1px 100%,linear-gradient(#0095ff,#0095ff 2px,#0071ff 5px,#000eff 9px,#00f 10px,#0000f9 11px,#0000e6 12px,#0000c1 13px,#000092 14px,#000080 15px,#000080 469px,#0000ce 471px,#0000ed 472px,#00f 473px,#001fff 475px,#005eff 479px,#0065ff 480px) 312px 0/1px 100%,linear-gradient(#0095ff,#0095ff 2px,#0071ff 5px,#000eff 9px,#00f 10px,#0000f9 11px,#0000e6 12px,#0000c1 13px,#000092 14px,#000080 15px,#000080 468px,#000085 469px,#0000d9 471px,#0000f7 472px,#00f 473px,#0076ff 479px,#0083ff 480px) 313px 0/1px 100%,linear-gradient(#0095ff,#0095ff 2px,#0071ff 5px,#000eff 9px,#00f 10px,#0000f9 11px,#0000e6 12px,#0000c1 13px,#000092 14px,#000080 15px,#000080 468px,#00008c 469px,#0000ba 470px,#0000fd 472px,#0006ff 473px,#07f 478px,#00a3ff 480px) 314px 0/1px 100%,linear-gradient(#0095ff,#0095ff 2px,#0071ff 5px,#000eff 9px,#00f 10px,#0000f9 11px,#0000e6 12px,#0000c1 13px,#000092 14px,#000080 15px,#000080 468px,#000090 469px,#0000be 470px,#0000e3 471px,#00f 472px,#0009ff 473px,#0067ff 477px,#00a7ff 479px,#00bdff 480px) 315px 0/1px 100%,linear-gradient(#0095ff,#0095ff 2px,#0071ff 5px,#000eff 9px,#00f 10px,#0000f9 11px,#0000e6 12px,#0000c1 13px,#000092 14px,#000080 15px,#000080 468px,#000094 469px,#0000c1 470px,#0000e5 471px,#00f 472px,#000bff 473px,#006cff 477px,#00b5ff 479px,#0cf 480px) 316px 0/2px 100%,linear-gradient(#0095ff,#0095ff 2px,#0071ff 5px,#000eff 9px,#00f 10px,#0000f9 11px,#0000e6 12px,#0000c1 13px,#000092 14px,#000080 15px,#000080 468px,#00009e 469px,#0000c8 470px,#0000ea 471px,#00f 472px,#000dff 473px,#006dff 477px,#00b7ff 479px,#00cfff 480px) 318px 0/1px 100%,linear-gradient(#0095ff,#0095ff 2px,#0071ff 5px,#000eff 9px,#00f 10px,#0000f9 11px,#0000e6 12px,#0000c1 13px,#000092 14px,#000080 15px,#000080 468px,#0000d1 470px,#0000f0 471px,#00f 472px,#0054ff 476px,#006fff 477px,#00b8ff 479px,#00cfff 480px) 319px 0/1px 100%,linear-gradient(#0095ff,#0095ff 2px,#0071ff 5px,#000eff 9px,#00f 10px,#0000f9 11px,#0000e6 12px,#0000c1 13px,#000092 14px,#000080 15px,#000080 467px,#00008a 468px,#0000db 470px,#0000f9 471px,#0002ff 472px,#0074ff 477px,#00baff 479px,#00d0ff 480px) 320px 0/1px 100%,linear-gradient(#0095ff,#0095ff 2px,#0071ff 5px,#000eff 9px,#00f 10px,#0000f9 11px,#0000e6 12px,#0000c1 13px,#000092 14px,#000080 15px,#000080 467px,#009 468px,#0000c3 469px,#0000e5 470px,#00f 471px,#0009ff 472px,#0061ff 476px,#00c0ff 479px,#00d3ff 480px) 321px 0/1px 100%,linear-gradient(#0095ff,#0095ff 2px,#0071ff 5px,#000eff 9px,#00f 10px,#0000f9 11px,#0000e6 12px,#0000c1 13px,#000092 14px,#000080 15px,#000080 467px,#0000d0 469px,#0000ef 470px,#00f 471px,#003bff 474px,#0069ff 476px,#00c9ff 479px,#00d8ff 480px) 322px 0/1px 100%,linear-gradient(#0095ff,#0095ff 2px,#0071ff 5px,#000eff 9px,#00f 10px,#0000f9 11px,#0000e6 12px,#0000c1 13px,#000092 14px,#000080 15px,#000080 466px,#00008a 467px,#0000db 469px,#0000f8 470px,#0002ff 471px,#0072ff 476px,#00b7ff 478px,#00d1ff 479px,#00dcfe 480px) 323px 0/1px 100%,linear-gradient(#0095ff,#0095ff 2px,#0071ff 5px,#000eff 9px,#00f 10px,#0000f9 11px,#0000e6 12px,#0000c1 13px,#000092 14px,#000080 15px,#000080 466px,#009 467px,#0000c3 468px,#0000e5 469px,#00f 470px,#0009ff 471px,#0061ff 475px,#00c1ff 478px,#00d6ff 479px,#00e0fc 480px) 324px 0/1px 100%,linear-gradient(#0095ff,#0095ff 2px,#0071ff 5px,#000eff 9px,#00f 10px,#0000f9 11px,#0000e6 12px,#0000c1 13px,#000092 14px,#000080 15px,#000080 466px,#0000d0 468px,#0000ef 469px,#00f 470px,#003bff 473px,#0069ff 475px,#00caff 478px,#00dbff 479px,#00e2f9 480px) 325px 0/1px 100%,linear-gradient(#0095ff,#0095ff 2px,#0071ff 5px,#000eff 9px,#00f 10px,#0000f9 11px,#0000e6 12px,#0000c1 13px,#000092 14px,#000080 15px,#000080 465px,#00008a 466px,#0000db 468px,#0000f8 469px,#0002ff 470px,#0072ff 475px,#00b7ff 477px,#00d2ff 478px,#00dffc 479px,#00e5f7 480px) 326px 0/1px 100%,linear-gradient(#0095ff,#0095ff 2px,#0071ff 5px,#000eff 9px,#00f 10px,#0000f9 11px,#0000e6 12px,#0000c1 13px,#000092 14px,#000080 15px,#000080 465px,#00009b 466px,#0000e6 468px,#00f 469px,#0009ff 470px,#0061ff 474px,#00c1ff 477px,#00d7ff 478px,#02e8f5 480px) 327px 0/1px 100%,linear-gradient(#0095ff,#0095ff 2px,#0071ff 5px,#000eff 9px,#00f 10px,#0000f9 11px,#0000e6 12px,#0000c1 13px,#000092 14px,#000080 15px,#000082 465px,#0000d3 467px,#0000f1 468px,#00f 469px,#0051ff 473px,#0089ff 475px,#00cbff 477px,#00dcfe 478px,#04eaf3 480px) 328px 0/1px 100%,linear-gradient(#0095ff,#0095ff 2px,#0071ff 5px,#000eff 9px,#00f 10px,#0000f9 11px,#0000e6 12px,#0000c1 13px,#000092 14px,#000080 15px,#000080 464px,#000096 465px,#0000e1 467px,#0000fd 468px,#0004ff 469px,#0072ff 474px,#00b8ff 476px,#00d3ff 477px,#03e9f4 479px,#06edf1 480px) 329px 0/1px 100%,linear-gradient(#0095ff,#0095ff 2px,#0071ff 5px,#000eff 9px,#00f 10px,#0000f9 11px,#0000e6 12px,#0000c1 13px,#000092 14px,#000080 15px,#000080 464px,#0000cf 466px,#00e 467px,#00f 468px,#02f 470px,#0062ff 473px,#00a0ff 475px,#00c2ff 476px,#00d8ff 477px,#05ecf1 479px,#09f0ee 480px) 330px 0/1px 100%,linear-gradient(#0095ff,#0095ff 2px,#0071ff 5px,#000eff 9px,#00f 10px,#0000f9 11px,#0000e6 12px,#0000c1 13px,#000092 14px,#000080 15px,#000080 463px,#00008a 464px,#0000db 466px,#0000f8 467px,#0001ff 468px,#006eff 473px,#0cf 476px,#02e8f4 478px,#0bf3ec 480px) 331px 0/1px 100%,linear-gradient(#0095ff,#0095ff 2px,#0071ff 5px,#000eff 9px,#00f 10px,#0000f9 11px,#0000e6 12px,#0000c1 13px,#000092 14px,#000080 15px,#000080 463px,#009 464px,#0000c3 465px,#0000e5 466px,#00f 467px,#0009ff 468px,#0060ff 472px,#00bfff 475px,#00d6ff 476px,#06ecf1 478px,#0ef7e9 480px) 332px 0/1px 100%,linear-gradient(#0095ff,#0095ff 2px,#0071ff 5px,#000eff 9px,#00f 10px,#0000f9 11px,#0000e6 12px,#0000c1 13px,#000092 14px,#000080 15px,#000080 463px,#0000d0 465px,#0000ef 466px,#00f 467px,#003bff 470px,#0069ff 472px,#00cbff 475px,#03e9f4 477px,#11fbe5 480px) 333px 0/1px 100%,linear-gradient(#0095ff,#0095ff 2px,#0071ff 5px,#000eff 9px,#00f 10px,#0000f9 11px,#0000e6 12px,#0000c1 13px,#000092 14px,#000080 15px,#000080 462px,#00008a 463px,#0000db 465px,#0000f8 466px,#0002ff 467px,#0072ff 472px,#00b9ff 474px,#00d4ff 475px,#06edf1 477px,#15ffe2 480px) 334px 0/1px 100%,linear-gradient(#0095ff,#0095ff 2px,#0071ff 5px,#000eff 9px,#00f 10px,#0000f9 11px,#0000e6 12px,#0000c1 13px,#000092 14px,#000080 15px,#000080 462px,#00009b 463px,#0000e6 465px,#00f 466px,#0009ff 467px,#0061ff 471px,#00a0ff 473px,#00c3ff 474px,#00dbff 475px,#0ff9e7 478px,#18ffde 480px) 335px 0/1px 100%,linear-gradient(#0095ff,#0095ff 2px,#0071ff 5px,#000eff 9px,#00f 10px,#0000f9 11px,#0000e6 12px,#0000c1 13px,#000092 14px,#000080 15px,#000082 462px,#0000d3 464px,#0000f1 465px,#00f 466px,#0051ff 470px,#0089ff 472px,#00cdff 474px,#05ecf2 476px,#18ffdf 479px,#1bffdb 480px) 336px 0/1px 100%,linear-gradient(#0095ff,#0095ff 2px,#0071ff 5px,#000eff 9px,#00f 10px,#0000f9 11px,#0000e6 12px,#0000c1 13px,#000092 14px,#000080 15px,#000080 461px,#000096 462px,#0000e1 464px,#0000fd 465px,#0004ff 466px,#0073ff 471px,#00baff 473px,#00d6ff 474px,#00e6f7 475px,#15ffe1 478px,#1fffd8 480px) 337px 0/1px 100%,linear-gradient(#0095ff,#0095ff 2px,#0071ff 5px,#000eff 9px,#00f 10px,#0000f9 11px,#0000e6 12px,#0000c1 13px,#000092 14px,#000080 15px,#000080 461px,#0000cf 463px,#00e 464px,#00f 465px,#02f 467px,#0062ff 470px,#00a1ff 472px,#00c4ff 473px,#00dcff 474px,#12fce5 477px,#22ffd5 480px) 338px 0/1px 100%,linear-gradient(#0095ff,#0095ff 2px,#0071ff 5px,#000eff 9px,#00f 10px,#0000f9 11px,#0000e6 12px,#0000c1 13px,#000092 14px,#000080 15px,#000080 460px,#00008a 461px,#0000db 463px,#0000f8 464px,#0001ff 465px,#006eff 470px,#00cfff 473px,#07eef0 475px,#15ffe2 477px,#25ffd2 480px) 339px 0/1px 100%,linear-gradient(#0095ff,#0095ff 2px,#0071ff 5px,#000eff 9px,#00f 10px,#0000f9 11px,#0000e6 12px,#0000c1 13px,#000092 14px,#000080 15px,#000080 460px,#00009b 461px,#0000e6 463px,#00f 464px,#0009ff 465px,#0060ff 469px,#009fff 471px,#00c1ff 472px,#00d9ff 473px,#11fbe5 476px,#28ffce 480px) 340px 0/1px 100%,linear-gradient(#0095ff,#0095ff 2px,#0071ff 5px,#000eff 9px,#00f 10px,#0000f9 11px,#0000e6 12px,#0000c1 13px,#000092 14px,#000080 15px,#000083 460px,#0000d3 462px,#0000f1 463px,#00f 464px,#0051ff 468px,#0089ff 470px,#00ceff 472px,#07eef0 474px,#15ffe2 476px,#2cffcb 480px) 341px 0/1px 100%,linear-gradient(#0095ff,#0095ff 2px,#0071ff 5px,#000eff 9px,#00f 10px,#0000f9 11px,#0000e6 12px,#0000c1 13px,#000092 14px,#000080 15px,#000080 459px,#000098 460px,#0000e2 462px,#0000fd 463px,#0004ff 464px,#0059ff 468px,#0073ff 469px,#0bf 471px,#00d7ff 472px,#0bf3ec 474px,#19ffde 476px,#2fffc8 480px) 342px 0/1px 100%,linear-gradient(#0095ff,#0095ff 2px,#0071ff 5px,#000eff 9px,#00f 10px,#0000f9 11px,#0000e6 12px,#0000c1 13px,#000092 14px,#000080 15px,#000083 459px,#0000d2 461px,#0000f0 462px,#00f 463px,#0023ff 465px,#0062ff 468px,#00a2ff 470px,#00c5ff 471px,#00defd 472px,#16ffe1 475px,#33ffc4 480px) 343px 0/1px 100%,linear-gradient(#0095ff,#0095ff 2px,#0071ff 5px,#000eff 9px,#00f 10px,#0000f9 11px,#0000e6 12px,#0000c1 13px,#000092 14px,#000080 15px,#000080 458px,#000098 459px,#0000e2 461px,#0000fd 462px,#0004ff 463px,#006fff 468px,#00d1ff 471px,#00e5f8 472px,#11fbe5 474px,#33ffc4 479px,#36ffc1 480px) 344px 0/1px 100%,linear-gradient(#0095ff,#0095ff 2px,#0071ff 5px,#000eff 9px,#00f 10px,#0000f9 11px,#0000e6 12px,#0000c1 13px,#000092 14px,#000080 15px,#000083 458px,#0000d2 460px,#0000f0 461px,#00f 462px,#0023ff 464px,#0062ff 467px,#00a0ff 469px,#00c2ff 470px,#00dbff 471px,#15ffe2 474px,#36ffc1 479px,#39ffbe 480px) 345px 0/1px 100%,linear-gradient(#0095ff,#0095ff 2px,#0071ff 5px,#000eff 9px,#00f 10px,#0000f9 11px,#0000e6 12px,#0000c1 13px,#000092 14px,#000080 15px,#000080 457px,#000098 458px,#0000e2 460px,#0000fd 461px,#0004ff 462px,#006fff 467px,#00d0ff 470px,#00e5f8 471px,#11fbe5 473px,#39ffbd 479px,#3cffba 480px) 346px 0/1px 100%,linear-gradient(#0095ff,#0095ff 2px,#0071ff 5px,#000eff 9px,#00f 10px,#0000f9 11px,#0000e6 12px,#0000c1 13px,#000092 14px,#000080 15px,#000083 457px,#0000d2 459px,#0000f0 460px,#00f 461px,#0023ff 463px,#0062ff 466px,#00a0ff 468px,#00c2ff 469px,#00dcfe 470px,#0ef7e9 472px,#1dffda 474px,#40ffb7 480px) 347px 0/1px 100%,linear-gradient(#0095ff,#0095ff 2px,#0071ff 5px,#000eff 9px,#00f 10px,#0000f9 11px,#0000e6 12px,#0000c1 13px,#000092 14px,#000080 15px,#000080 456px,#009 457px,#0000e2 459px,#0000fd 460px,#0004ff 461px,#006fff 466px,#00d1ff 469px,#00e5f7 470px,#13fde4 472px,#41ffb6 479px,#43ffb3 480px) 348px 0/1px 100%,linear-gradient(#0095ff,#0095ff 2px,#0071ff 5px,#000eff 9px,#00f 10px,#0000f9 11px,#0000e6 12px,#0000c1 13px,#000092 14px,#000080 15px,#000080 455px,#000085 456px,#0000d2 458px,#0000f0 459px,#00f 460px,#0023ff 462px,#0062ff 465px,#00a0ff 467px,#00c3ff 468px,#00ddfe 469px,#0ff8e8 471px,#1fffd8 473px,#44ffb2 479px,#47ffb0 480px) 349px 0/1px 100%,linear-gradient(#0095ff,#0095ff 2px,#0071ff 5px,#000eff 9px,#00f 10px,#0000f9 11px,#0000e6 12px,#0000c1 13px,#000092 14px,#000080 15px,#000080 455px,#0000e3 458px,#0000fd 459px,#0004ff 460px,#006fff 465px,#00d2ff 468px,#01e6f6 469px,#14fee3 471px,#44ffb3 478px,#4bffac 480px) 350px 0/1px 100%,linear-gradient(#0095ff,#0095ff 2px,#0071ff 5px,#000eff 9px,#00f 10px,#0000f9 11px,#0000e6 12px,#0000c1 13px,#000092 14px,#000080 15px,#000080 454px,#000096 455px,#0000d8 457px,#0000f2 458px,#00f 459px,#0037ff 462px,#0062ff 464px,#00a0ff 466px,#00c3ff 467px,#00defd 468px,#10fae6 470px,#30ffc7 474px,#4fffa7 480px) 351px 0/1px 100%,linear-gradient(#0095ff,#0095ff 2px,#0071ff 5px,#000eff 9px,#00f 10px,#0000f9 11px,#0000e6 12px,#0000c1 13px,#000092 14px,#000080 15px,#000080 453px,#00008e 454px,#0000d2 456px,#00f 458px,#0006ff 459px,#006fff 464px,#00d2ff 467px,#01e7f5 468px,#15ffe2 470px,#4cffab 478px,#53ffa3 480px) 352px 0/1px 100%,linear-gradient(#0095ff,#0095ff 2px,#0071ff 5px,#000eff 9px,#00f 10px,#0000f9 11px,#0000e6 12px,#0000c1 13px,#000092 14px,#000080 15px,#000083 453px,#00c 455px,#0000fe 457px,#0002ff 458px,#0062ff 463px,#00a0ff 465px,#00c4ff 466px,#00defc 467px,#11fbe5 469px,#4bffac 477px,#58ff9f 480px) 353px 0/1px 100%,linear-gradient(#0095ff,#0095ff 2px,#0071ff 5px,#000eff 9px,#00f 10px,#0000f9 11px,#0000e6 12px,#0000c1 13px,#000092 14px,#000080 15px,#000080 452px,#0000e0 455px,#0000fa 456px,#00f 457px,#0059ff 462px,#008fff 464px,#00d3ff 466px,#02e8f5 467px,#16ffe0 469px,#4fffa8 477px,#5cff9b 480px) 354px 0/1px 100%,linear-gradient(#0095ff,#0095ff 2px,#0071ff 5px,#000eff 9px,#00f 10px,#0000f9 11px,#0000e6 12px,#0000c1 13px,#000092 14px,#000080 15px,#000080 451px,#000097 452px,#0000d8 454px,#0000f2 455px,#00f 456px,#0031ff 459px,#0069ff 462px,#00a3ff 464px,#00dffc 466px,#13fce4 468px,#4dffa9 476px,#5fff98 480px) 355px 0/1px 100%,linear-gradient(#0095ff,#0095ff 2px,#0071ff 5px,#000eff 9px,#00f 10px,#0000f9 11px,#0000e6 12px,#0000c1 13px,#000092 14px,#000080 15px,#000080 450px,#000094 451px,#0000d3 453px,#00f 455px,#0006ff 456px,#06f 461px,#009cff 463px,#00d7ff 465px,#0ff8e8 467px,#20ffd7 469px,#57ffa0 477px,#62ff95 480px) 356px 0/1px 100%,linear-gradient(#0095ff,#0095ff 2px,#0071ff 5px,#000eff 9px,#00f 10px,#0000f9 11px,#0000e6 12px,#0000c1 13px,#000092 14px,#000080 15px,#000080 449px,#00008e 450px,#0000d1 452px,#00f 454px,#0003ff 455px,#0060ff 460px,#00d3ff 464px,#01e7f6 465px,#15ffe2 467px,#50ffa7 475px,#64ff92 480px) 357px 0/1px 100%,linear-gradient(#0095ff,#0095ff 2px,#0071ff 5px,#000eff 9px,#00f 10px,#0000f9 11px,#0000e6 12px,#0000c1 13px,#000092 14px,#000080 15px,#000083 449px,#00c 451px,#0000fe 453px,#0001ff 454px,#0058ff 459px,#008eff 461px,#00d0ff 463px,#00e5f7 464px,#13fee3 466px,#54ffa3 475px,#66ff91 479px,#67ff90 480px) 358px 0/1px 100%,linear-gradient(#0095ff,#0095ff 2px,#0071ff 5px,#000eff 9px,#00f 10px,#0000f9 11px,#0000e6 12px,#0000c1 13px,#000092 14px,#000080 15px,#000080 448px,#0000e0 451px,#0000f9 452px,#00f 453px,#0069ff 459px,#00a4ff 461px,#00e0fb 463px,#13fde4 465px,#58ff9e 475px,#68ff8f 479px,#69ff8e 480px) 359px 0/1px 100%,linear-gradient(#0095ff,#0095ff 2px,#0071ff 5px,#000eff 9px,#00f 10px,#0000f9 11px,#0000e6 12px,#0000c1 13px,#000092 14px,#000080 15px,#000080 447px,#000097 448px,#0000d8 450px,#0000f2 451px,#00f 452px,#0042ff 456px,#007fff 459px,#00d8ff 462px,#10f9e7 464px,#29ffce 467px,#66ff91 477px,#6aff8c 480px) 360px 0/1px 100%,linear-gradient(#0095ff,#0095ff 2px,#0071ff 5px,#000eff 9px,#00f 10px,#0000f9 11px,#0000e6 12px,#0000c1 13px,#000092 14px,#000080 15px,#000080 446px,#000094 447px,#0000d3 449px,#00f 451px,#0006ff 452px,#06f 457px,#00d4ff 461px,#02e8f5 462px,#16ffe0 464px,#50ffa7 472px,#6bff8c 478px,#6cff8b 480px) 361px 0/1px 100%,linear-gradient(#0095ff,#0095ff 2px,#0071ff 5px,#000eff 9px,#00f 10px,#0000f9 11px,#0000e6 12px,#0000c1 13px,#000092 14px,#000080 15px,#000080 445px,#00008e 446px,#0000d1 448px,#00f 450px,#0003ff 451px,#0060ff 456px,#09f 458px,#00d4ff 460px,#01e7f5 461px,#15ffe1 463px,#50ffa7 471px,#6cff8b 477px,#6eff89 480px) 362px 0/1px 100%,linear-gradient(#0095ff,#0095ff 2px,#0071ff 5px,#000eff 9px,#00f 10px,#0000f9 11px,#0000e6 12px,#0000c1 13px,#000092 14px,#000080 15px,#000083 445px,#00c 447px,#0000fe 449px,#0001ff 450px,#0058ff 455px,#008eff 457px,#00d1ff 459px,#01e6f6 460px,#15ffe1 462px,#55ffa2 471px,#6eff89 477px,#6fff87 480px) 363px 0/1px 100%,linear-gradient(#0095ff,#0095ff 2px,#0071ff 5px,#000eff 9px,#00f 10px,#0000f9 11px,#0000e6 12px,#0000c1 13px,#000092 14px,#000080 15px,#000080 444px,#0000e0 447px,#0000f9 448px,#00f 449px,#0069ff 455px,#00a4ff 457px,#00e1fa 459px,#15ffe2 461px,#5aff9c 471px,#6fff88 476px,#71ff86 480px) 364px 0/1px 100%,linear-gradient(#0095ff,#0095ff 2px,#0071ff 5px,#000eff 9px,#00f 10px,#0000f9 11px,#0000e6 12px,#0000c1 13px,#000092 14px,#000080 15px,#000080 443px,#000097 444px,#0000d8 446px,#0000f2 447px,#00f 448px,#0042ff 452px,#007fff 455px,#00d9ff 458px,#12fce5 460px,#4effa9 468px,#70ff87 475px,#73ff84 480px) 365px 0/1px 100%,linear-gradient(#0095ff,#0095ff 2px,#0071ff 5px,#000eff 9px,#00f 10px,#0000f9 11px,#0000e6 12px,#0000c1 13px,#000092 14px,#000080 15px,#000080 442px,#000096 443px,#0000d3 445px,#00f 447px,#0006ff 448px,#06f 453px,#00d5ff 457px,#03eaf3 458px,#19ffde 460px,#4fffa8 467px,#71ff86 474px,#74ff82 480px) 366px 0/1px 100%,linear-gradient(#0095ff,#0095ff 2px,#0071ff 5px,#000eff 9px,#00f 10px,#0000f9 11px,#0000e6 12px,#0000c1 13px,#000092 14px,#000080 15px,#000080 441px,#000096 442px,#0000d3 444px,#00f 446px,#0003ff 447px,#0060ff 452px,#09f 454px,#00d5ff 456px,#03e9f4 457px,#17ffdf 459px,#54ffa2 467px,#73ff84 474px,#76ff81 480px) 367px 0/1px 100%,linear-gradient(#0095ff,#0095ff 2px,#0071ff 5px,#000eff 9px,#00f 10px,#0000f9 11px,#0000e6 12px,#0000c1 13px,#000092 14px,#000080 15px,#000080 440px,#000094 441px,#0000d2 443px,#00f 445px,#0002ff 446px,#0058ff 451px,#008fff 453px,#00d2ff 455px,#02e8f5 456px,#17ffdf 458px,#5aff9d 467px,#74ff83 473px,#78ff7f 480px) 368px 0/1px 100%,linear-gradient(#0095ff,#0095ff 2px,#0071ff 5px,#000eff 9px,#00f 10px,#0000f9 11px,#0000e6 12px,#0000c1 13px,#000092 14px,#000080 15px,#000080 439px,#00008e 440px,#0000d1 442px,#00f 444px,#0002ff 445px,#0069ff 451px,#00a5ff 453px,#00e3f9 455px,#17ffe0 457px,#60ff97 467px,#75ff82 472px,#79ff7d 480px) 369px 0/1px 100%,linear-gradient(#0095ff,#0095ff 2px,#0071ff 5px,#000eff 9px,#00f 10px,#0000f9 11px,#0000e6 12px,#0000c1 13px,#000092 14px,#000080 15px,#000083 439px,#00c 441px,#0000fe 443px,#0001ff 444px,#0067ff 450px,#009dff 452px,#00daff 454px,#14fee3 456px,#53ffa4 464px,#76ff81 471px,#7bff7c 480px) 370px 0/1px 100%,linear-gradient(#0095ff,#0095ff 2px,#0071ff 5px,#000eff 9px,#00f 10px,#0000f9 11px,#0000e6 12px,#0000c1 13px,#000092 14px,#000080 15px,#000080 438px,#0000e0 441px,#0000f9 442px,#00f 443px,#0067ff 449px,#009cff 451px,#00d7ff 453px,#11fae6 455px,#4dffaa 462px,#77ff80 470px,#7dff7a 480px) 371px 0/1px 100%,linear-gradient(#0095ff,#0095ff 2px,#0071ff 5px,#000eff 9px,#00f 10px,#0000f9 11px,#0000e6 12px,#0000c1 13px,#000092 14px,#000080 15px,#000080 437px,#000097 438px,#0000d8 440px,#0000f2 441px,#00f 442px,#0042ff 446px,#007fff 449px,#00d6ff 452px,#10f9e7 454px,#2bffcc 457px,#59ff9d 463px,#79ff7e 470px,#7eff78 480px) 372px 0/1px 100%,linear-gradient(#0095ff,#0095ff 2px,#0071ff 5px,#000eff 9px,#00f 10px,#0000f9 11px,#0000e6 12px,#0000c1 13px,#000092 14px,#000080 15px,#000080 436px,#000094 437px,#0000d3 439px,#00f 441px,#0006ff 442px,#06f 447px,#00d7ff 451px,#10fae7 453px,#2affcd 456px,#65ff92 464px,#7aff7d 469px,#80ff77 480px) 373px 0/1px 100%,linear-gradient(#0095ff,#0095ff 2px,#0071ff 5px,#000eff 9px,#00f 10px,#0000f9 11px,#0000e6 12px,#0000c1 13px,#000092 14px,#000080 15px,#000080 435px,#00008e 436px,#0000d1 438px,#00f 440px,#0003ff 441px,#0060ff 446px,#09f 448px,#00d6ff 450px,#11fae6 452px,#3bffbc 457px,#75ff82 466px,#81ff76 477px,#82ff75 480px) 374px 0/1px 100%,linear-gradient(#0095ff,#0095ff 2px,#0071ff 5px,#000eff 9px,#00f 10px,#0000f9 11px,#0000e6 12px,#0000c1 13px,#000092 14px,#000080 15px,#000083 435px,#00c 437px,#0000fe 439px,#0001ff 440px,#0059ff 445px,#008fff 447px,#00d3ff 449px,#04eaf3 450px,#10fae6 451px,#33ffc4 455px,#76ff81 465px,#81ff76 474px,#83ff73 480px) 375px 0/1px 100%,linear-gradient(#0095ff,#0095ff 2px,#0071ff 5px,#000eff 9px,#00f 10px,#0000f9 11px,#0000e6 12px,#0000c1 13px,#000092 14px,#000080 15px,#000080 434px,#0000e0 437px,#0000f9 438px,#00f 439px,#0069ff 445px,#00a5ff 447px,#00e5f7 449px,#0ff7e8 450px,#23ffd4 452px,#5eff99 460px,#7dff7a 466px,#85ff72 480px) 376px 0/1px 100%,linear-gradient(#0095ff,#0095ff 2px,#0071ff 5px,#000eff 9px,#00f 10px,#0000f9 11px,#0000e6 12px,#0000c1 13px,#000092 14px,#000080 15px,#000080 433px,#000097 434px,#0000d8 436px,#0000f2 437px,#00f 438px,#0042ff 442px,#0080ff 445px,#00dcfe 448px,#0af2ed 449px,#16ffe0 450px,#52ffa4 457px,#7dff7a 465px,#87ff70 480px) 377px 0/1px 100%,linear-gradient(#0095ff,#0095ff 2px,#0071ff 5px,#000eff 9px,#00f 10px,#0000f9 11px,#0000e6 12px,#0000c1 13px,#000092 14px,#000080 15px,#000080 432px,#000094 433px,#0000d3 435px,#00f 437px,#0006ff 438px,#06f 443px,#009cff 445px,#00d8ff 447px,#13fde3 449px,#53ffa4 456px,#7eff79 464px,#88ff6e 480px) 378px 0/1px 100%,linear-gradient(#0095ff,#0095ff 2px,#0071ff 5px,#000eff 9px,#00f 10px,#0000f9 11px,#0000e6 12px,#0000c1 13px,#000092 14px,#000080 15px,#000080 431px,#00008e 432px,#0000d1 434px,#00f 436px,#0003ff 437px,#0061ff 442px,#009aff 444px,#00d8ff 446px,#12fce4 448px,#5aff9d 456px,#7fff78 463px,#8aff6d 480px) 379px 0/1px 100%,linear-gradient(#0095ff,#0095ff 2px,#0071ff 5px,#000eff 9px,#00f 10px,#0000f9 11px,#0000e6 12px,#0000c1 13px,#000092 14px,#000080 15px,#000083 431px,#00c 433px,#0000fe 435px,#0001ff 436px,#0059ff 441px,#008fff 443px,#00d4ff 445px,#12fce5 447px,#60ff97 456px,#80ff77 462px,#8cff6b 480px) 380px 0/1px 100%,linear-gradient(#0095ff,#0095ff 2px,#0071ff 5px,#000eff 9px,#00f 10px,#0000f9 11px,#0000e6 12px,#0000c1 13px,#000092 14px,#000080 15px,#000080 430px,#0000e0 433px,#0000f9 434px,#00f 435px,#0069ff 441px,#00a6ff 443px,#00caff 444px,#01e6f6 445px,#10f9e7 446px,#2effc9 449px,#72ff84 458px,#84ff72 463px,#8dff69 480px) 381px 0/1px 100%,linear-gradient(#0095ff,#0095ff 2px,#0071ff 5px,#000eff 9px,#00f 10px,#0000f9 11px,#0000e6 12px,#0000c1 13px,#000092 14px,#000080 15px,#000080 429px,#000097 430px,#0000d8 432px,#0000f2 433px,#00f 434px,#0042ff 438px,#0080ff 441px,#00ddfd 444px,#0bf4eb 445px,#18ffde 446px,#57ffa0 453px,#82ff75 460px,#8fff68 480px) 382px 0/1px 100%,linear-gradient(#0095ff,#0095ff 2px,#0071ff 5px,#000eff 9px,#00f 10px,#0000f9 11px,#0000e6 12px,#0000c1 13px,#000092 14px,#000080 15px,#000080 428px,#000094 429px,#0000d3 431px,#00f 433px,#0006ff 434px,#06f 439px,#009dff 441px,#00d9ff 443px,#15ffe2 445px,#57ff9f 452px,#85ff72 460px,#91ff66 480px) 383px 0/1px 100%,linear-gradient(#0095ff,#0095ff 2px,#0071ff 5px,#000eff 9px,#00f 10px,#0000f9 11px,#0000e6 12px,#0000c1 13px,#000092 14px,#000080 15px,#000080 427px,#00008e 428px,#0000d1 430px,#00f 432px,#0003ff 433px,#0061ff 438px,#009aff 440px,#00d9ff 442px,#14fee3 444px,#5eff98 452px,#85ff71 459px,#92ff64 480px) 384px 0/1px 100%,linear-gradient(#0095ff,#0095ff 2px,#0071ff 5px,#000eff 9px,#00f 10px,#0000f9 11px,#0000e6 12px,#0000c1 13px,#000092 14px,#000080 15px,#000083 427px,#00c 429px,#0000fe 431px,#0001ff 432px,#0059ff 437px,#0090ff 439px,#00d5ff 441px,#14fee3 443px,#65ff92 452px,#86ff71 458px,#94ff63 480px) 385px 0/1px 100%,linear-gradient(#0095ff,#0095ff 2px,#0071ff 5px,#000eff 9px,#00f 10px,#0000f9 11px,#0000e6 12px,#0000c1 13px,#000092 14px,#000080 15px,#000080 426px,#0000e0 429px,#0000f9 430px,#00f 431px,#0069ff 437px,#00a6ff 439px,#00cbff 440px,#02e8f5 441px,#12fbe5 442px,#63ff93 451px,#87ff70 457px,#96ff61 480px) 386px 0/1px 100%,linear-gradient(#0095ff,#0095ff 2px,#0071ff 5px,#000eff 9px,#00f 10px,#0000f9 11px,#0000e6 12px,#0000c1 13px,#000092 14px,#000080 15px,#000080 425px,#000097 426px,#0000d8 428px,#0000f2 429px,#00f 430px,#0042ff 434px,#0067ff 436px,#009fff 438px,#00dffc 440px,#0df5ea 441px,#1affdd 442px,#5cff9b 449px,#88ff6f 456px,#97ff5f 480px) 387px 0/1px 100%,linear-gradient(#0095ff,#0095ff 2px,#0071ff 5px,#000eff 9px,#00f 10px,#0000f9 11px,#0000e6 12px,#0000c1 13px,#000092 14px,#000080 15px,#000080 424px,#000094 425px,#0000d3 427px,#00f 429px,#0006ff 430px,#06f 435px,#009dff 437px,#00dbff 439px,#09f1ee 440px,#17ffe0 441px,#5cff9b 448px,#8bff6c 456px,#99ff5e 480px) 388px 0/1px 100%,linear-gradient(#0095ff,#0095ff 2px,#0071ff 5px,#000eff 9px,#00f 10px,#0000f9 11px,#0000e6 12px,#0000c1 13px,#000092 14px,#000080 15px,#000080 423px,#00008e 424px,#0000d1 426px,#00f 428px,#0003ff 429px,#0061ff 434px,#009bff 436px,#00daff 438px,#16ffe1 440px,#63ff94 448px,#8cff6b 455px,#9bff5c 480px) 389px 0/1px 100%,linear-gradient(#0095ff,#0095ff 2px,#0071ff 5px,#000eff 9px,#00f 10px,#0000f9 11px,#0000e6 12px,#0000c1 13px,#000092 14px,#000080 15px,#000083 423px,#00c 425px,#0000fe 427px,#0001ff 428px,#0059ff 433px,#0090ff 435px,#00d7ff 437px,#08efef 438px,#16ffe1 439px,#69ff8d 448px,#8cff6b 454px,#9dff5a 480px) 390px 0/1px 100%,linear-gradient(#0095ff,#0095ff 2px,#0071ff 5px,#000eff 9px,#00f 10px,#0000f9 11px,#0000e6 12px,#0000c1 13px,#000092 14px,#000080 15px,#000080 422px,#0000e0 425px,#0000f9 426px,#00f 427px,#0069ff 433px,#00a7ff 435px,#0cf 436px,#03e9f4 437px,#13fee3 438px,#60ff96 446px,#8dff6a 453px,#9eff59 480px) 391px 0/1px 100%,linear-gradient(#0095ff,#0095ff 2px,#0071ff 5px,#000eff 9px,#00f 10px,#0000f9 11px,#0000e6 12px,#0000c1 13px,#000092 14px,#000080 15px,#000080 421px,#000097 422px,#0000d8 424px,#0000f2 425px,#00f 426px,#0042ff 430px,#0067ff 432px,#009fff 434px,#00e0fb 436px,#0ef7e8 437px,#28ffcf 439px,#67ff90 446px,#8eff69 452px,#a0ff57 480px) 392px 0/1px 100%,linear-gradient(#0095ff,#0095ff 2px,#0071ff 5px,#000eff 9px,#00f 10px,#0000f9 11px,#0000e6 12px,#0000c1 13px,#000092 14px,#000080 15px,#000080 420px,#000094 421px,#0000d3 423px,#00f 425px,#0006ff 426px,#06f 431px,#009eff 433px,#00dcfe 435px,#0bf3ec 436px,#19ffde 437px,#60ff97 444px,#91ff66 452px,#a2ff55 480px) 393px 0/1px 100%,linear-gradient(#0095ff,#0095ff 2px,#0071ff 5px,#000eff 9px,#00f 10px,#0000f9 11px,#0000e6 12px,#0000c1 13px,#000092 14px,#000080 15px,#000080 419px,#00008e 420px,#0000d1 422px,#00f 424px,#0003ff 425px,#0061ff 430px,#009bff 432px,#00dcff 434px,#0af2ec 435px,#18ffdf 436px,#68ff8f 444px,#92ff65 451px,#a3ff54 480px) 394px 0/1px 100%,linear-gradient(#0095ff,#0095ff 2px,#0071ff 5px,#000eff 9px,#00f 10px,#0000f9 11px,#0000e6 12px,#0000c1 13px,#000092 14px,#000080 15px,#000083 419px,#00c 421px,#0000fe 423px,#0001ff 424px,#0059ff 429px,#0070ff 430px,#00d8ff 433px,#09f1ed 434px,#18ffdf 435px,#6eff89 444px,#92ff65 450px,#a5ff52 480px) 395px 0/1px 100%,linear-gradient(#0095ff,#0095ff 2px,#0071ff 5px,#000eff 9px,#00f 10px,#0000f9 11px,#0000e6 12px,#0000c1 13px,#000092 14px,#000080 15px,#000080 418px,#0000e0 421px,#0000f9 422px,#00f 423px,#0069ff 429px,#0084ff 430px,#00cdff 432px,#05ebf2 433px,#16ffe1 434px,#65ff92 442px,#93ff64 449px,#a7ff50 480px) 396px 0/1px 100%,linear-gradient(#0095ff,#0095ff 2px,#0071ff 5px,#000eff 9px,#00f 10px,#0000f9 11px,#0000e6 12px,#0000c1 13px,#000092 14px,#000080 15px,#000080 417px,#000097 418px,#0000d8 420px,#0000f2 421px,#00f 422px,#0042ff 426px,#0068ff 428px,#00a0ff 430px,#00e2fa 432px,#10fae6 433px,#40ffb7 437px,#89ff6e 446px,#98ff5f 450px,#a8ff4f 480px) 397px 0/1px 100%,linear-gradient(#0095ff,#0095ff 2px,#0071ff 5px,#000eff 9px,#00f 10px,#0000f9 11px,#0000e6 12px,#0000c1 13px,#000092 14px,#000080 15px,#000080 416px,#000096 417px,#0000d3 419px,#00f 421px,#0006ff 422px,#06f 427px,#009eff 429px,#00defd 431px,#0df5ea 432px,#1bffdc 433px,#65ff92 440px,#94ff63 447px,#a9ff4e 477px,#aaff4d 480px) 398px 0/1px 100%,linear-gradient(#0095ff,#0095ff 2px,#0071ff 5px,#000eff 9px,#00f 10px,#0000f9 11px,#0000e6 12px,#0000c1 13px,#000092 14px,#000080 15px,#000080 415px,#000094 416px,#0000d2 418px,#00f 420px,#0003ff 421px,#0061ff 426px,#009cff 428px,#00ddfe 430px,#0cf4eb 431px,#1affdd 432px,#6cff8b 440px,#97ff5f 447px,#abff4c 480px) 399px 0/1px 100%,linear-gradient(#0095ff,#0095ff 2px,#0071ff 5px,#000eff 9px,#00f 10px,#0000f9 11px,#0000e6 12px,#0000c1 13px,#000092 14px,#000080 15px,#000080 414px,#00008e 415px,#0000d1 417px,#00f 419px,#0002ff 420px,#0059ff 425px,#0070ff 426px,#00daff 429px,#0bf3ec 430px,#1affdd 431px,#73ff84 440px,#98ff5f 446px,#adff4a 480px) 400px 0/1px 100%,linear-gradient(#0095ff,#0095ff 2px,#0071ff 5px,#000eff 9px,#00f 10px,#0000f9 11px,#0000e6 12px,#0000c1 13px,#000092 14px,#000080 15px,#000083 414px,#00c 416px,#0000fe 418px,#0001ff 419px,#0069ff 425px,#0085ff 426px,#00ceff 428px,#06edf1 429px,#18ffdf 430px,#61ff96 437px,#94ff63 444px,#9fff58 451px,#aeff49 480px) 401px 0/1px 100%,linear-gradient(#0095ff,#0095ff 2px,#0071ff 5px,#000eff 9px,#00f 10px,#0000f9 11px,#0000e6 12px,#0000c1 13px,#000092 14px,#000080 15px,#000080 413px,#0000e0 416px,#0000f9 417px,#00f 418px,#0068ff 424px,#00a0ff 426px,#00e3f9 428px,#12fce5 429px,#4effa9 434px,#94ff63 443px,#9fff57 449px,#b0ff47 480px) 402px 0/1px 100%,linear-gradient(#0095ff,#0095ff 2px,#0071ff 5px,#000eff 9px,#00f 10px,#0000f9 11px,#0000e6 12px,#0000c1 13px,#000092 14px,#000080 15px,#000080 412px,#000097 413px,#0000d8 415px,#0000f2 416px,#00f 417px,#0042ff 421px,#0067ff 423px,#009fff 425px,#00dffc 427px,#0ef7e8 428px,#2affcd 430px,#69ff8e 436px,#9cff5b 444px,#b1ff46 480px) 403px 0/1px 100%,linear-gradient(#0095ff,#0095ff 2px,#0071ff 5px,#000eff 9px,#00f 10px,#0000f9 11px,#0000e6 12px,#0000c1 13px,#000092 14px,#000080 15px,#000080 411px,#000094 412px,#0000d3 414px,#00f 416px,#0006ff 417px,#06f 422px,#009fff 424px,#00dffc 426px,#0ef7e9 427px,#1cffdb 428px,#71ff86 436px,#9cff5a 443px,#b3ff44 480px) 404px 0/1px 100%,linear-gradient(#0095ff,#0095ff 2px,#0071ff 5px,#000eff 9px,#00f 10px,#0000f9 11px,#0000e6 12px,#0000c1 13px,#000092 14px,#000080 15px,#000080 410px,#00008e 411px,#0000d1 413px,#00f 415px,#0003ff 416px,#0061ff 421px,#009cff 423px,#00dffc 425px,#0ef7e9 426px,#1cffda 427px,#78ff7f 436px,#9dff5a 442px,#b4ff43 480px) 405px 0/1px 100%,linear-gradient(#0095ff,#0095ff 2px,#0071ff 5px,#000eff 9px,#00f 10px,#0000f9 11px,#0000e6 12px,#0000c1 13px,#000092 14px,#000080 15px,#000083 410px,#00c 412px,#0000fe 414px,#0001ff 415px,#0059ff 420px,#0071ff 421px,#00dbff 424px,#0df6ea 425px,#1cffda 426px,#77ff80 435px,#9dff5a 441px,#b6ff41 480px) 406px 0/1px 100%,linear-gradient(#0095ff,#0095ff 2px,#0071ff 5px,#000eff 9px,#00f 10px,#0000f9 11px,#0000e6 12px,#0000c1 13px,#000092 14px,#000080 15px,#000080 409px,#0000e0 412px,#0000f9 413px,#00f 414px,#0069ff 420px,#0085ff 421px,#00cfff 423px,#08efef 424px,#1affdd 425px,#66ff91 432px,#9eff59 440px,#b7ff40 480px) 407px 0/1px 100%,linear-gradient(#0095ff,#0095ff 2px,#0071ff 5px,#000eff 9px,#00f 10px,#0000f9 11px,#0000e6 12px,#0000c1 13px,#000092 14px,#000080 15px,#000080 408px,#000097 409px,#0000d8 411px,#0000f2 412px,#00f 413px,#0042ff 417px,#0068ff 419px,#00a1ff 421px,#00e5f7 423px,#14ffe3 424px,#53ffa4 429px,#92ff65 437px,#a3ff54 441px,#b9ff3e 480px) 408px 0/1px 100%,linear-gradient(#0095ff,#0095ff 2px,#0071ff 5px,#000eff 9px,#00f 10px,#0000f9 11px,#0000e6 12px,#0000c1 13px,#000092 14px,#000080 15px,#000080 407px,#000096 408px,#0000d3 410px,#00f 412px,#0006ff 413px,#06f 418px,#009fff 420px,#00e1fb 422px,#10fae6 423px,#46ffb1 427px,#77ff80 432px,#a2ff55 439px,#baff3d 480px) 409px 0/1px 100%,linear-gradient(#0095ff,#0095ff 2px,#0071ff 5px,#000eff 9px,#00f 10px,#0000f9 11px,#0000e6 12px,#0000c1 13px,#000092 14px,#000080 15px,#000080 406px,#000094 407px,#0000d2 409px,#00f 411px,#0003ff 412px,#0061ff 417px,#009dff 419px,#00e0fb 421px,#10f9e7 422px,#2bffcb 424px,#78ff7f 431px,#a2ff55 438px,#bcff3b 480px) 410px 0/1px 100%,linear-gradient(#0095ff,#0095ff 2px,#0071ff 5px,#000eff 9px,#00f 10px,#0000f9 11px,#0000e6 12px,#0000c1 13px,#000092 14px,#000080 15px,#000080 405px,#00008e 406px,#0000d1 408px,#00f 410px,#0002ff 411px,#0059ff 416px,#0071ff 417px,#00dcfe 420px,#0ff8e8 421px,#2bffcc 423px,#7fff78 431px,#a3ff54 437px,#bdff3a 480px) 411px 0/1px 100%,linear-gradient(#0095ff,#0095ff 2px,#0071ff 5px,#000eff 9px,#00f 10px,#0000f9 11px,#0000e6 12px,#0000c1 13px,#000092 14px,#000080 15px,#000083 405px,#00c 407px,#0000fe 409px,#0001ff 410px,#0069ff 416px,#0085ff 417px,#00d0ff 419px,#09f1ee 420px,#1cffdb 421px,#6cff8b 428px,#a1ff56 435px,#acff4b 445px,#bfff38 480px) 412px 0/1px 100%,linear-gradient(#0095ff,#0095ff 2px,#0071ff 5px,#000eff 9px,#00f 10px,#0000f9 11px,#0000e6 12px,#0000c1 13px,#000092 14px,#000080 15px,#000080 404px,#0000e0 407px,#0000f9 408px,#00f 409px,#0068ff 415px,#00a1ff 417px,#00c5ff 418px,#01e7f6 419px,#16ffe1 420px,#57ff9f 425px,#9bff5c 433px,#a9ff4d 437px,#c0ff37 480px) 413px 0/1px 100%,linear-gradient(#0095ff,#0095ff 2px,#0071ff 5px,#000eff 9px,#00f 10px,#0000f9 11px,#0000e6 12px,#0000c1 13px,#000092 14px,#000080 15px,#000080 403px,#000097 404px,#0000d8 406px,#0000f2 407px,#00f 408px,#0042ff 412px,#0068ff 414px,#00a0ff 416px,#00e2f9 418px,#12fce5 419px,#62ff95 425px,#a1ff56 433px,#abff4c 437px,#c2ff35 480px) 414px 0/1px 100%,linear-gradient(#0095ff,#0095ff 2px,#0071ff 5px,#000eff 9px,#00f 10px,#0000f9 11px,#0000e6 12px,#0000c1 13px,#000092 14px,#000080 15px,#000080 402px,#000094 403px,#0000d3 405px,#00f 407px,#0006ff 408px,#06f 413px,#00a0ff 415px,#00e2fa 417px,#11fbe5 418px,#75ff82 426px,#a6ff50 433px,#b0ff46 445px,#c3ff34 480px) 415px 0/1px 100%,linear-gradient(#0095ff,#0095ff 2px,#0071ff 5px,#000eff 9px,#00f 10px,#0000f9 11px,#0000e6 12px,#0000c1 13px,#000092 14px,#000080 15px,#000080 401px,#00008e 402px,#0000d1 404px,#00f 406px,#0003ff 407px,#0061ff 412px,#009dff 414px,#00e2fa 416px,#11fbe5 417px,#68ff8f 424px,#9bff5c 430px,#adff4a 434px,#c5ff32 480px) 416px 0/1px 100%,linear-gradient(#0095ff,#0095ff 2px,#0071ff 5px,#000eff 9px,#00f 10px,#0000f9 11px,#0000e6 12px,#0000c1 13px,#000092 14px,#000080 15px,#000083 401px,#00c 403px,#0000fe 405px,#0001ff 406px,#0059ff 411px,#0071ff 412px,#00defd 415px,#10fae6 416px,#45ffb1 420px,#8cff6b 427px,#acff4b 432px,#c6ff31 480px) 417px 0/1px 100%,linear-gradient(#0095ff,#0095ff 2px,#0071ff 5px,#000eff 9px,#00f 10px,#0000f9 11px,#0000e6 12px,#0000c1 13px,#000092 14px,#000080 15px,#000080 400px,#0000e0 403px,#0000f9 404px,#00f 405px,#006aff 411px,#0085ff 412px,#00d2ff 414px,#0bf3ec 415px,#1effd9 416px,#67ff90 422px,#a8ff4e 430px,#b1ff46 435px,#c8ff2f 480px) 418px 0/1px 100%,linear-gradient(#0095ff,#0095ff 2px,#0071ff 5px,#000eff 9px,#00f 10px,#0000f9 11px,#0000e6 12px,#0000c1 13px,#000092 14px,#000080 15px,#000080 399px,#000097 400px,#0000d8 402px,#0000f2 403px,#00f 404px,#0042ff 408px,#0068ff 410px,#00a2ff 412px,#00c6ff 413px,#02e8f4 414px,#18ffdf 415px,#5dff9a 420px,#99ff5d 427px,#b1ff46 431px,#c9ff2e 480px) 419px 0/1px 100%,linear-gradient(#0095ff,#0095ff 2px,#0071ff 5px,#000eff 9px,#00f 10px,#0000f9 11px,#0000e6 12px,#0000c1 13px,#000092 14px,#000080 15px,#000080 398px,#000094 399px,#0000d3 401px,#00f 403px,#0006ff 404px,#0067ff 409px,#00a0ff 411px,#00e4f8 413px,#14fee3 414px,#67ff90 420px,#a1ff56 427px,#b3ff43 431px,#caff2c 480px) 420px 0/1px 100%,linear-gradient(#0095ff,#0095ff 2px,#0071ff 5px,#000eff 9px,#00f 10px,#0000f9 11px,#0000e6 12px,#0000c1 13px,#000092 14px,#000080 15px,#000080 397px,#00008e 398px,#0000d1 400px,#00f 402px,#0003ff 403px,#0061ff 408px,#009dff 410px,#00e3f9 412px,#13fde4 413px,#7bff7c 421px,#aeff49 428px,#b6ff41 434px,#ccff2b 480px) 421px 0/1px 100%,linear-gradient(#0095ff,#0095ff 2px,#0071ff 5px,#000eff 9px,#00f 10px,#0000f9 11px,#0000e6 12px,#0000c1 13px,#000092 14px,#000080 15px,#000083 397px,#00c 399px,#0000fe 401px,#0001ff 402px,#0059ff 407px,#0071ff 408px,#00dffc 411px,#12fce5 412px,#55ffa2 417px,#8cff6b 422px,#b3ff44 428px,#cdff2a 480px) 422px 0/1px 100%,linear-gradient(#0095ff,#0095ff 2px,#0071ff 5px,#000eff 9px,#00f 10px,#0000f9 11px,#0000e6 12px,#0000c1 13px,#000092 14px,#000080 15px,#000080 396px,#0000e0 399px,#0000f9 400px,#00f 401px,#006aff 407px,#0086ff 408px,#00d3ff 410px,#0cf5eb 411px,#20ffd7 412px,#77ff80 419px,#afff48 426px,#b7ff3f 432px,#ceff29 480px) 423px 0/1px 100%,linear-gradient(#0095ff,#0095ff 2px,#0071ff 5px,#000eff 9px,#00f 10px,#0000f9 11px,#0000e6 12px,#0000c1 13px,#000092 14px,#000080 15px,#000080 395px,#000097 396px,#0000d8 398px,#0000f2 399px,#00f 400px,#0042ff 404px,#0068ff 406px,#00a2ff 408px,#00c7ff 409px,#04eaf3 410px,#1affdd 411px,#61ff96 416px,#a1ff56 423px,#b4ff43 427px,#cbff2c 480px) 424px 0/1px 100%,linear-gradient(#0095ff,#0095ff 2px,#0071ff 5px,#000eff 9px,#00f 10px,#0000f9 11px,#0000e6 12px,#0000c1 13px,#000092 14px,#000080 15px,#000080 394px,#000094 395px,#0000d3 397px,#00f 399px,#0006ff 400px,#0067ff 405px,#00a1ff 407px,#00c5ff 408px,#00e5f7 409px,#16ffe1 410px,#6cff8b 416px,#98ff5f 421px,#aeff48 426px,#c5ff32 480px) 425px 0/1px 100%,linear-gradient(#0095ff,#0095ff 2px,#0071ff 5px,#000eff 9px,#00f 10px,#0000f9 11px,#0000e6 12px,#0000c1 13px,#000092 14px,#000080 15px,#000080 393px,#00008e 394px,#0000d1 396px,#00f 398px,#0003ff 399px,#0061ff 404px,#009eff 406px,#00e5f7 408px,#15ffe2 409px,#80ff77 417px,#a0ff57 422px,#a8ff4f 429px,#bcff3b 480px) 426px 0/1px 100%,linear-gradient(#0095ff,#0095ff 2px,#0071ff 5px,#000eff 9px,#00f 10px,#0000f9 11px,#0000e6 12px,#0000c1 13px,#000092 14px,#000080 15px,#000083 393px,#00c 395px,#0000fe 397px,#0001ff 398px,#0059ff 403px,#0071ff 404px,#00e1fb 407px,#14fee3 408px,#4cffaa 412px,#86ff71 417px,#9aff5d 421px,#b2ff45 480px) 427px 0/1px 100%,linear-gradient(#0095ff,#0095ff 2px,#0071ff 5px,#000eff 9px,#00f 10px,#0000f9 11px,#0000e6 12px,#0000c1 13px,#000092 14px,#000080 15px,#000080 392px,#0000e0 395px,#0000f9 396px,#00f 397px,#006aff 403px,#0086ff 404px,#00d4ff 406px,#0ef6e9 407px,#22ffd5 408px,#6fff88 414px,#8eff69 418px,#95ff62 428px,#a7ff50 480px) 428px 0/1px 100%,linear-gradient(#0095ff,#0095ff 2px,#0071ff 5px,#000eff 9px,#00f 10px,#0000f9 11px,#0000e6 12px,#0000c1 13px,#000092 14px,#000080 15px,#000080 391px,#000096 392px,#0000d8 394px,#0000f2 395px,#00f 396px,#0042ff 400px,#0068ff 402px,#00a3ff 404px,#00c8ff 405px,#05ebf2 406px,#1bffdb 407px,#57ffa0 411px,#7dff7a 415px,#8aff6c 420px,#95ff61 464px,#9bff5b 480px) 429px 0/1px 100%,linear-gradient(#0095ff,#0095ff 2px,#0071ff 5px,#000eff 9px,#00f 10px,#0000f9 11px,#0000e6 12px,#0000c1 13px,#000092 14px,#000080 15px,#000080 390px,#00008e 391px,#0000d2 393px,#00f 395px,#0006ff 396px,#0067ff 401px,#00a1ff 403px,#00c5ff 404px,#01e7f6 405px,#17ffe0 406px,#5fff98 411px,#76ff81 414px,#7fff78 421px,#8aff6d 467px,#8eff69 480px) 430px 0/1px 100%,linear-gradient(#0095ff,#0095ff 2px,#0071ff 5px,#000eff 9px,#00f 10px,#0000f9 11px,#0000e6 12px,#0000c1 13px,#000092 14px,#000080 15px,#000080 390px,#00c 392px,#0000fe 394px,#0002ff 395px,#0061ff 400px,#009eff 402px,#00c4ff 403px,#00e6f7 404px,#16ffe1 405px,#4dffaa 409px,#67ff90 412px,#70ff86 418px,#7bff7c 468px,#7eff79 480px) 431px 0/1px 100%,linear-gradient(#0095ff,#0095ff 2px,#0071ff 5px,#000eff 9px,#00f 10px,#0000f9 11px,#0000e6 12px,#0000c1 13px,#000092 14px,#000080 15px,#000080 389px,#000095 390px,#0000df 392px,#0000f9 393px,#00f 394px,#0059ff 399px,#0071ff 400px,#00e1fa 403px,#14ffe2 404px,#3effb9 407px,#5aff9c 411px,#60ff96 423px,#6cff8a 480px) 432px 0/1px 100%,linear-gradient(#0095ff,#0095ff 2px,#0071ff 5px,#000eff 9px,#00f 10px,#0000f9 11px,#0000e6 12px,#0000c1 13px,#000092 14px,#000080 15px,#000080 389px,#0000ce 391px,#0000ed 392px,#00f 393px,#001fff 395px,#006aff 399px,#0086ff 400px,#00d4ff 402px,#0ef6e9 403px,#21ffd6 404px,#40ffb7 407px,#4fffa8 412px,#5aff9d 480px) 433px 0/1px 100%,linear-gradient(#0095ff,#0095ff 2px,#0071ff 5px,#000eff 9px,#00f 10px,#0000f9 11px,#0000e6 12px,#0000c1 13px,#000092 14px,#000080 15px,#000080 388px,#000085 389px,#0000d9 391px,#0000f7 392px,#00f 393px,#06f 398px,#00a2ff 400px,#00c7ff 401px,#03e9f4 402px,#18ffdf 403px,#2fffc7 405px,#3dffba 409px,#47ffb0 480px) 434px 0/1px 100%,linear-gradient(#0095ff,#0095ff 2px,#0071ff 5px,#000eff 9px,#00f 10px,#0000f9 11px,#0000e6 12px,#0000c1 13px,#000092 14px,#000080 15px,#000080 388px,#00008c 389px,#0000ba 390px,#0000fd 392px,#0006ff 393px,#07f 398px,#00ddfe 401px,#0cf4eb 402px,#18ffde 403px,#28ffcf 406px,#31ffc6 480px) 435px 0/1px 100%,linear-gradient(#0095ff,#0095ff 2px,#0071ff 5px,#000eff 9px,#00f 10px,#0000f9 11px,#0000e6 12px,#0000c1 13px,#000092 14px,#000080 15px,#000080 388px,#00008e 389px,#0000bc 390px,#00f 392px,#0008ff 393px,#0062ff 397px,#00a2ff 399px,#00c5ff 400px,#00defd 401px,#0bf3ec 403px,#11fbe6 410px,#15ffe1 480px) 436px 0/1px 100%,linear-gradient(#005eff,#004aff 5px,#00f 13px,#0000fd 14px,#0000f0 15px,#0000ef 387px,#00f 392px,#0006ff 397px,#0095ff 439px,#0095ff 440px,#00a0ff 441px,#00cfff 443px,#00e6f7 444px,#13fde4 445px,#f2fc05 457px,#ffe600 458px,#ffdc00 459px,#ffdc00 480px) 437px 0/3px 100%,linear-gradient(#005eff,#004aff 5px,#00f 13px,#0000f8 17px,#0000fb 70px,#0004ff 83px,#0018ff 97px,#002fff 226px,#0036ff 411px,#0095ff 439px,#0095ff 477px,#00d2ff 478px,#9eff59 479px,#9eff59 480px) 440px 0/1px 100%,linear-gradient(#005eff,#004aff 5px,#0026ff 9px,#0026ff 69px,#0069ff 95px,#008dff 214px,#0095ff 438px,#0092ff 477px,#00d2ff 478px,#9eff59 479px,#9eff59 480px) 441px 0/3px 100%,linear-gradient(#005eff,#004aff 5px,#0025ff 9px,#0021ff 68px,#0065ff 95px,#08f 215px,#008fff 439px,#008dff 477px,#00d2ff 478px,#9eff59 479px,#9eff59 480px) 444px 0/1px 100%,linear-gradient(#005eff,#004aff 5px,#001cff 10px,#0020ff 70px,#005dff 95px,#007fff 216px,#0086ff 440px,#0083ff 477px,#00d2ff 478px,#9eff59 479px,#9eff59 480px) 445px 0/1px 100%,linear-gradient(#005eff,#004aff 5px,#0016ff 11px,#001aff 70px,#05f 95px,#0076ff 216px,#007cff 443px,#007aff 477px,#00d2ff 478px,#9eff59 479px,#9eff59 480px) 446px 0/1px 100%,linear-gradient(#005eff,#004aff 5px,#0012ff 11px,#0014ff 70px,#004dff 95px,#006cff 217px,#0072ff 445px,#0070ff 477px,#00d2ff 478px,#9eff59 479px,#9eff59 480px) 447px 0/1px 100%,linear-gradient(#005eff,#004aff 5px,#00f 13px,#0003ff 79px,#001eff 96px,#0036ff 224px,#003aff 465px,#003aff 468px,#0059ff 471px,#05f 474px,#0045ff 477px,#00d2ff 478px,#9eff59 479px,#9eff59 480px) 448px 0/1px 100%,linear-gradient(#00daff,#00ceff 3px,#009aff 6px,#0064ff 9px,#0007ff 17px,#00f 21px,#0000e0 26px,#0000b8 28px,#0000a0 29px,#000091 30px,#0000ba 37px,#00f 45px,#00f 56px,#0000e2 60px,#0000e3 93px,#00f 96px,#00f 103px,#0000e3 106px,#0000e3 164px,#00f 168px,#0000fb 176px,#0000e3 179px,#0000df 281px,#000080 361px,#000082 452px,#000090 456px,#0000a7 458px,#0000e2 460px,#0000f5 461px,#00f 462px,#00f 463px,#0059ff 471px,#05f 474px,#0045ff 477px,#00d2ff 478px,#9eff59 479px,#9eff59 480px) 449px 0/1px 100%,linear-gradient(#00daff,#00ceff 3px,#009aff 6px,#0064ff 9px,#0007ff 17px,#00f 21px,#0000e0 26px,#0000b8 28px,#0000a0 29px,#000092 30px,#0000b4 36px,#0000fc 44px,#0007ff 52px,#0000fc 57px,#0000d9 61px,#0000db 92px,#0000fb 95px,#0000fb 104px,#0000db 107px,#00d 163px,#0000fe 167px,#0000fe 176px,#0000d9 181px,#0000d9 235px,#0000e4 239px,#0000d9 243px,#0000d5 282px,#000080 362px,#000082 452px,#000091 456px,#0000a7 458px,#0000e2 460px,#0000f5 461px,#00f 462px,#00f 463px,#0059ff 471px,#05f 474px,#0045ff 477px,#00d2ff 478px,#9eff59 479px,#9eff59 480px) 450px 0/1px 100%,linear-gradient(#00daff,#00ceff 3px,#009aff 6px,#0064ff 9px,#0007ff 17px,#00f 21px,#0000e0 26px,#0000b8 28px,#0000a0 29px,#000092 30px,#0000b6 36px,#00f 44px,#0008ff 48px,#000bff 52px,#00f 56px,#00f 57px,#0000d0 62px,#0000d2 91px,#0000fe 95px,#0000fe 104px,#0000d2 108px,#0000d0 161px,#00f 167px,#00f 176px,#0000d0 182px,#0000d1 234px,#0000e4 238px,#0000d8 242px,#0000d0 245px,#0000cb 283px,#000080 362px,#000083 452px,#000092 456px,#0000a7 458px,#0000e2 460px,#0000f5 461px,#00f 462px,#00f 463px,#001dff 465px,#0037ff 467px,#004eff 470px,#0059ff 471px,#05f 474px,#0045ff 477px,#00d2ff 478px,#9eff59 479px,#9eff59 480px) 451px 0/1px 100%,linear-gradient(#00daff,#00ceff 3px,#009aff 6px,#0064ff 9px,#0007ff 17px,#00f 21px,#0000e0 26px,#0000b8 28px,#0000a0 29px,#000092 30px,#0000b7 36px,#00f 44px,#0006ff 47px,#000fff 51px,#00f 56px,#0000f9 58px,#0000c8 63px,#0000c7 90px,#00f 95px,#0003ff 101px,#00f 104px,#0000c7 109px,#0000c6 160px,#00f 167px,#0000fb 177px,#0000c6 183px,#0000c8 233px,#0000e0 237px,#0000dc 241px,#0000c6 245px,#0000c2 283px,#000080 363px,#000083 452px,#000093 456px,#0000a8 458px,#0000e2 460px,#0000f5 461px,#00f 462px,#00f 463px,#0034ff 466px,#0046ff 468px,#0046ff 469px,#0059ff 471px,#05f 474px,#0045ff 477px,#00d2ff 478px,#9eff59 479px,#9eff59 480px) 452px 0/1px 100%,linear-gradient(#00daff,#00ceff 3px,#009aff 6px,#0064ff 9px,#0007ff 17px,#00f 21px,#0000e0 26px,#0000b8 28px,#0000a0 29px,#000093 30px,#0000b7 36px,#00f 44px,#0010ff 51px,#00f 57px,#0000c0 64px,#0000bd 89px,#00f 95px,#0003ff 101px,#00f 104px,#0000bd 110px,#0000bd 159px,#0000fb 166px,#00f 176px,#0000d6 181px,#0000bd 184px,#0000bd 232px,#0000dc 237px,#0000d8 241px,#0000bd 245px,#0000b8 285px,#000080 364px,#000083 452px,#000094 456px,#0000a9 458px,#0000e2 460px,#0000f5 461px,#00f 462px,#0001ff 463px,#003cff 466px,#004eff 468px,#004eff 470px,#0059ff 471px,#05f 474px,#0045ff 477px,#00d2ff 478px,#9eff59 479px,#9eff59 480px) 453px 0/1px 100%,linear-gradient(#00daff,#00ceff 3px,#009aff 6px,#0064ff 9px,#0007ff 17px,#00f 21px,#0000e0 26px,#0000b8 28px,#0000a0 29px,#000093 30px,#0000b7 36px,#00f 44px,#0010ff 51px,#00f 57px,#0000b7 65px,#0000b3 88px,#0000fe 95px,#0000fe 104px,#0000b3 111px,#0000b3 158px,#00f 167px,#00f 176px,#0000b3 185px,#0000b3 231px,#0000d6 237px,#0000d3 241px,#0000b3 246px,#0000ae 286px,#000080 365px,#000083 452px,#000095 456px,#0000ab 458px,#0000e2 460px,#0000f5 461px,#00f 462px,#0006ff 463px,#0043ff 466px,#0056ff 468px,#004fff 470px,#005cff 472px,#0045ff 477px,#00d2ff 478px,#9eff59 479px,#9eff59 480px) 454px 0/1px 100%,linear-gradient(#00daff,#00ceff 3px,#009aff 6px,#0064ff 9px,#0007ff 17px,#00f 21px,#0000e0 26px,#0000b8 28px,#0000a0 29px,#000092 30px,#0000b7 36px,#00f 44px,#0006ff 47px,#000fff 51px,#00f 56px,#0000f9 58px,#0000af 66px,#00a 70px,#00a 87px,#0000e7 93px,#0000fb 95px,#0000fb 104px,#00a 112px,#00a 157px,#0000fe 167px,#0000fe 176px,#00a 186px,#00a 230px,#0000d0 237px,#0000cd 241px,#00a 247px,#0000a5 288px,#000080 367px,#000083 452px,#000095 456px,#0000ac 458px,#0000e2 460px,#0000f5 461px,#00f 462px,#000bff 463px,#0049ff 466px,#005dff 468px,#0056ff 470px,#005cff 472px,#0045ff 477px,#00d2ff 478px,#9eff59 479px,#9eff59 480px) 455px 0/1px 100%,linear-gradient(#00daff,#00ceff 3px,#009aff 6px,#0064ff 9px,#0007ff 17px,#00f 21px,#0000e0 26px,#0000b8 28px,#0000a0 29px,#000092 30px,#0000b6 36px,#00f 44px,#0008ff 48px,#000bff 52px,#00f 56px,#00f 57px,#0000a7 67px,#0000a0 69px,#0000a0 86px,#0000cd 91px,#00f 96px,#00f 103px,#0000a6 112px,#0000a0 115px,#0000a1 156px,#0000fb 167px,#00f 175px,#0000d1 181px,#0000a1 187px,#0000a4 230px,#0000c8 237px,#0000c5 241px,#0000a0 248px,#00009b 293px,#000080 369px,#000083 452px,#000096 456px,#0000ae 458px,#0000e2 460px,#0000f5 461px,#00f 462px,#000fff 463px,#004fff 466px,#0064ff 468px,#0059ff 471px,#05f 474px,#0045ff 477px,#00d2ff 478px,#9eff59 479px,#9eff59 480px) 456px 0/1px 100%,linear-gradient(#00daff,#00ceff 3px,#009aff 6px,#0064ff 9px,#0007ff 17px,#00f 21px,#0000e0 26px,#0000b8 28px,#0000a0 29px,#000092 30px,#0000b4 36px,#0000fc 44px,#0007ff 52px,#0000fc 57px,#0000a6 67px,#000097 70px,#000097 85px,#0000ca 91px,#0000fa 96px,#00f 102px,#0000df 106px,#00009e 113px,#000097 115px,#00009a 155px,#0000d6 163px,#0000fb 168px,#0000fb 175px,#00009a 188px,#00009a 229px,#0000c0 237px,#0000ba 242px,#000097 249px,#000090 304px,#000080 376px,#000083 452px,#000097 456px,#0000af 458px,#0000f5 461px,#00f 462px,#0054ff 466px,#0069ff 468px,#0062ff 470px,#0059ff 471px,#05f 474px,#0045ff 477px,#00d2ff 478px,#9eff59 479px,#9eff59 480px) 457px 0/1px 100%,linear-gradient(#00daff,#00ceff 3px,#009aff 6px,#0064ff 9px,#0007ff 17px,#00f 21px,#0000e0 26px,#0000b8 28px,#0000a0 29px,#000091 30px,#0000ba 37px,#00f 45px,#00f 56px,#0000a5 67px,#00008e 72px,#000091 84px,#0000bd 90px,#0000f4 96px,#00f 99px,#0000fa 102px,#0000c7 108px,#000096 114px,#00008e 117px,#000090 153px,#0000b9 160px,#0000f5 168px,#0000fe 172px,#0000e9 177px,#00009e 187px,#00008e 192px,#00008f 227px,#0000b7 237px,#0000b2 242px,#00008e 251px,#000080 401px,#000083 452px,#000097 456px,#0000b0 458px,#0000c5 459px,#0000e2 460px,#0000f5 461px,#00f 462px,#0059ff 466px,#006eff 468px,#0067ff 470px,#0059ff 471px,#05f 474px,#0045ff 477px,#00d2ff 478px,#9eff59 479px,#9eff59 480px) 458px 0/1px 100%,linear-gradient(#00daff,#00ceff 3px,#009aff 6px,#0064ff 9px,#0007ff 17px,#00f 21px,#0000e0 26px,#0000b8 28px,#000090 30px,#0000b8 37px,#00f 46px,#00f 55px,#00009d 68px,#000086 75px,#000089 82px,#0000a8 88px,#0000ed 96px,#0000f9 100px,#0000e6 104px,#00009a 113px,#000085 119px,#000087 150px,#0000a2 157px,#00e 168px,#0000f6 172px,#0000e3 177px,#00009c 187px,#000085 194px,#000087 225px,#0000b0 238px,#0000a4 244px,#000085 253px,#000081 450px,#00008f 455px,#0000b1 458px,#0000c5 459px,#0000e2 460px,#0000f5 461px,#00f 462px,#005cff 466px,#0072ff 468px,#006bff 470px,#005cff 471px,#004cff 476px,#0045ff 477px,#00d2ff 478px,#9eff59 479px,#9eff59 480px) 459px 0/1px 100%,linear-gradient(#00daff,#00ceff 3px,#009aff 6px,#0064ff 9px,#0007ff 17px,#00f 21px,#0000e0 26px,#0000b8 28px,#00008f 30px,#0000b5 37px,#0000fa 46px,#00f 50px,#00f 54px,#0000c4 62px,#000097 69px,#000083 77px,#00008f 84px,#0000b5 90px,#0000eb 97px,#0000ef 101px,#0000cf 106px,#009 113px,#000083 120px,#000084 148px,#00009a 156px,#0000e7 168px,#0000ed 173px,#0000cf 179px,#000096 188px,#000083 196px,#000083 223px,#0000a8 238px,#00009a 245px,#000082 255px,#000083 452px,#000098 456px,#0000b1 458px,#0000c5 459px,#0000e2 460px,#0000f5 461px,#00f 462px,#005fff 466px,#0075ff 468px,#006eff 470px,#005fff 471px,#0045ff 477px,#00d2ff 478px,#9eff59 479px,#9eff59 480px) 460px 0/1px 100%,linear-gradient(#00daff,#00ceff 3px,#009aff 6px,#0064ff 9px,#0007ff 17px,#00f 21px,#0000e0 26px,#0000b8 28px,#00008e 30px,#0000b2 37px,#0000f7 47px,#0000fd 52px,#0000e6 57px,#00009f 67px,#000085 75px,#000086 81px,#00009c 87px,#0000e3 97px,#0000e6 101px,#0000c9 106px,#000097 113px,#000083 120px,#000083 148px,#000098 156px,#0000e2 169px,#0000e2 174px,#0000b5 182px,#00008d 190px,#000080 201px,#000085 225px,#0000a1 238px,#000090 247px,#000080 258px,#000083 452px,#000098 456px,#0000c5 459px,#0000e2 460px,#0000f5 461px,#00f 462px,#004dff 465px,#0070ff 467px,#07f 469px,#005cff 472px,#0045ff 477px,#00d2ff 478px,#9eff59 479px,#9eff59 480px) 461px 0/1px 100%,linear-gradient(#00daff,#00ceff 3px,#009aff 6px,#0064ff 9px,#0007ff 17px,#00f 21px,#0000e0 26px,#0000b8 28px,#00008d 30px,#0000ae 37px,#0000ef 47px,#0000f5 52px,#0000d8 58px,#000098 68px,#000084 76px,#00008a 83px,#0000ad 90px,#0000da 97px,#00d 101px,#00b 107px,#000090 114px,#000081 122px,#000084 149px,#00009a 157px,#0000d9 169px,#0000d9 174px,#00008f 189px,#000080 200px,#000085 226px,#00009a 239px,#000080 257px,#000084 452px,#000098 456px,#0000c5 459px,#0000e2 460px,#0000f5 461px,#0001ff 462px,#004eff 465px,#0071ff 467px,#0078ff 469px,#005cff 472px,#0045ff 477px,#00d2ff 478px,#9eff59 479px,#9eff59 480px) 462px 0/1px 100%,linear-gradient(#00d6ff,#00caff 3px,#0096ff 6px,#0061ff 9px,#0006ff 17px,#00f 20px,#0000eb 24px,#0000df 26px,#0000b7 28px,#00008c 30px,#0000b1 38px,#0000e6 47px,#0000ec 52px,#0000d2 58px,#000096 68px,#000083 77px,#00008b 84px,#0000af 91px,#0000d1 97px,#0000d4 101px,#0000b5 107px,#00008f 114px,#000080 123px,#000085 150px,#00009c 158px,#0000d1 169px,#0000d1 174px,#00008d 189px,#000080 200px,#000085 227px,#000094 240px,#000080 258px,#000084 452px,#000098 456px,#0000c5 459px,#0000e2 460px,#0000f5 461px,#0001ff 462px,#004eff 465px,#0071ff 467px,#0078ff 469px,#005cff 472px,#0045ff 477px,#00d2ff 478px,#9eff59 479px,#9eff59 480px) 463px 0/1px 100%,linear-gradient(#00cdff,#00c2ff 3px,#008fff 6px,#005cff 9px,#0002ff 17px,#0000fb 21px,#00d 26px,#0000b6 28px,#00008b 30px,#0000ad 38px,#0000de 47px,#0000e2 52px,#0000cb 58px,#000094 68px,#000082 78px,#000091 86px,#0000c8 97px,#0000c8 102px,#00008a 115px,#000080 127px,#000086 151px,#0000a2 160px,#0000c8 169px,#0000c5 175px,#00008c 189px,#000080 202px,#000086 229px,#00008f 241px,#000080 260px,#000083 452px,#000098 456px,#0000c5 459px,#0000e2 460px,#0000f5 461px,#00f 462px,#004dff 465px,#0070ff 467px,#07f 469px,#005cff 472px,#0045ff 477px,#00d2ff 478px,#9eff59 479px,#9eff59 480px) 464px 0/1px 100%,linear-gradient(#0cf,#00b9ff 3px,#08f 6px,#0056ff 9px,#0007ff 16px,#00f 18px,#0000f8 21px,#0000da 26px,#0000b5 28px,#00008a 30px,#0000ae 39px,#0000d7 48px,#0000d7 53px,#0000ae 62px,#00008a 71px,#000082 80px,#000096 88px,#0000c2 98px,#0000bd 103px,#000089 115px,#000080 129px,#000087 152px,#0000a6 162px,#0000c1 170px,#00b 176px,#00008a 189px,#000080 203px,#000085 230px,#00008a 243px,#000080 265px,#000083 452px,#000098 456px,#0000b1 458px,#0000c5 459px,#0000e2 460px,#0000f5 461px,#00f 462px,#005fff 466px,#0075ff 468px,#006eff 470px,#005fff 471px,#0045ff 477px,#00d2ff 478px,#9eff59 479px,#9eff59 480px) 465px 0/1px 100%,linear-gradient(#0cf,#00c1ff 2px,#0081ff 6px,#0050ff 9px,#0003ff 16px,#0000fa 20px,#0000d8 26px,#0000b3 28px,#000089 30px,#0000a9 39px,#0000cf 48px,#00c 54px,#00008e 69px,#000081 79px,#000093 88px,#0000ba 98px,#0000b5 103px,#008 115px,#000080 132px,#000087 153px,#0000b9 170px,#0000b0 177px,#000087 190px,#000080 211px,#000086 244px,#000080 278px,#000083 452px,#000097 456px,#0000b1 458px,#0000c5 459px,#0000e2 460px,#0000f5 461px,#00f 462px,#005cff 466px,#0072ff 468px,#006bff 470px,#005cff 471px,#004cff 476px,#0045ff 477px,#00d2ff 478px,#9eff59 479px,#9eff59 480px) 466px 0/1px 100%,linear-gradient(#0cf,#00c1ff 2px,#004bff 9px,#00f 16px,#0000fc 19px,#0000d5 26px,#0000b2 28px,#008 30px,#0000a9 40px,#0000c7 49px,#0000c1 55px,#00008a 70px,#000083 81px,#000098 90px,#0000b2 98px,#0000ab 104px,#000087 115px,#000080 136px,#008 154px,#0000b1 170px,#00a 177px,#000085 191px,#000081 226px,#000083 246px,#000083 452px,#000097 456px,#0000b0 458px,#0000c5 459px,#0000e2 460px,#0000f5 461px,#00f 462px,#0059ff 466px,#006eff 468px,#0067ff 470px,#0059ff 471px,#05f 474px,#0045ff 477px,#00d2ff 478px,#9eff59 479px,#9eff59 480px) 467px 0/1px 100%,linear-gradient(#0cf,#00c1ff 2px,#0073ff 6px,#0045ff 9px,#00f 16px,#0000f9 19px,#0000d3 26px,#00009c 29px,#008 30px,#0000a4 40px,#0000bf 49px,#0000b6 56px,#000089 70px,#000082 81px,#000098 91px,#0000ac 99px,#00009f 106px,#000083 117px,#000083 151px,#00009f 164px,#0000ab 172px,#000082 193px,#000083 452px,#000097 456px,#0000af 458px,#0000f5 461px,#00f 462px,#0054ff 466px,#0069ff 468px,#0062ff 470px,#0059ff 471px,#05f 474px,#0045ff 477px,#00d2ff 478px,#9eff59 479px,#9eff59 480px) 468px 0/1px 100%,linear-gradient(#0cf,#00c1ff 2px,#009aff 4px,#006cff 6px,#003fff 9px,#0002ff 15px,#0000fb 18px,#0000d1 26px,#00009b 29px,#000087 30px,#0000a3 41px,#0000b8 50px,#00a 58px,#000086 71px,#000083 83px,#0000a5 99px,#000094 108px,#000081 119px,#000084 153px,#0000a4 171px,#000093 182px,#000081 195px,#000083 452px,#000096 456px,#0000ae 458px,#0000e2 460px,#0000f5 461px,#00f 462px,#000fff 463px,#004fff 466px,#0064ff 468px,#0059ff 471px,#05f 474px,#0045ff 477px,#00d2ff 478px,#9eff59 479px,#9eff59 480px) 469px 0/1px 100%,linear-gradient(#0cf,#00c1ff 2px,#009aff 4px,#0056ff 7px,#0030ff 10px,#00f 15px,#0000f2 19px,#0000ce 26px,#00009a 29px,#000087 30px,#00009e 41px,#0000b0 50px,#0000a1 59px,#000084 72px,#000084 84px,#00009f 100px,#000081 119px,#000085 154px,#00009e 172px,#000081 194px,#000083 452px,#000095 456px,#0000ac 458px,#0000e2 460px,#0000f5 461px,#00f 462px,#000bff 463px,#0049ff 466px,#005dff 468px,#0059ff 471px,#0054ff 474px,#0045ff 477px,#00d2ff 478px,#9eff59 479px,#9eff59 480px) 470px 0/1px 100%,linear-gradient(#0cf,#00c1ff 2px,#009aff 4px,#0040ff 8px,#0004ff 14px,#00f 16px,#00c 26px,#009 29px,#000087 30px,#00009a 41px,#0000a9 51px,#000083 73px,#000085 86px,#00009a 100px,#000080 120px,#000085 155px,#009 172px,#000080 196px,#000083 452px,#000095 456px,#0000ab 458px,#0000e1 460px,#0000f5 461px,#00f 462px,#0006ff 463px,#0043ff 466px,#0056ff 468px,#004fff 470px,#005bff 472px,#04f 477px,#00d2ff 478px,#9eff59 479px,#9eff59 480px) 471px 0/1px 100%,linear-gradient(#0cf,#00c1ff 2px,#009aff 4px,#002eff 9px,#00f 14px,#0000f4 17px,#0000c9 26px,#000087 30px,#000096 41px,#0000a3 51px,#000082 74px,#008 89px,#000095 101px,#000080 121px,#000086 157px,#000094 173px,#000080 197px,#000083 452px,#000094 456px,#0000a9 458px,#0000e1 460px,#0000f5 461px,#00f 462px,#0001ff 463px,#003cff 466px,#004eff 468px,#004dff 470px,#0058ff 471px,#0054ff 474px,#04f 477px,#00d2ff 478px,#9eff59 479px,#9eff59 480px) 472px 0/1px 100%,linear-gradient(#0cf,#00c1ff 2px,#009aff 4px,#002aff 9px,#00f 14px,#0000f7 16px,#0000c7 26px,#000086 30px,#000093 41px,#00009d 52px,#000081 75px,#000089 91px,#00008f 103px,#000080 122px,#000085 158px,#000090 174px,#000080 199px,#000083 452px,#000093 456px,#0000a8 458px,#0000e1 460px,#0000f4 461px,#00f 462px,#00f 463px,#0034ff 466px,#0046ff 468px,#004dff 470px,#0058ff 471px,#0053ff 474px,#04f 477px,#00d2ff 478px,#9eff59 479px,#9eff59 480px) 473px 0/1px 100%,linear-gradient(#0cf,#00c1ff 2px,#009aff 4px,#002aff 9px,#0012ff 11px,#00f 13px,#0000fd 15px,#0000e4 19px,#0000c4 26px,#000086 30px,#00008f 41px,#000098 53px,#000080 76px,#00008c 103px,#000080 125px,#000086 160px,#00008c 176px,#000080 202px,#000083 452px,#000092 456px,#0000a7 458px,#0000e1 460px,#0000f4 461px,#00f 462px,#00f 463px,#001dff 465px,#0037ff 467px,#0041ff 469px,#0057ff 471px,#0053ff 474px,#0043ff 477px,#00d2ff 478px,#9eff59 479px,#9eff59 480px) 474px 0/1px 100%,linear-gradient(#0cf,#00c1ff 2px,#009aff 4px,#0015ff 10px,#00f 13px,#0000f9 15px,#0000e0 19px,#0000c2 26px,#000086 30px,#00008a 39px,#000094 53px,#000080 78px,#000089 104px,#000080 130px,#000087 163px,#000087 180px,#000080 217px,#000082 452px,#000091 456px,#0000a7 458px,#0000e0 460px,#00f 462px,#0008ff 464px,#002eff 467px,#05f 471px,#0051ff 474px,#0042ff 477px,#00d2ff 478px,#9eff59 479px,#9eff59 480px) 475px 0/1px 100%,linear-gradient(#0cf,#00c1ff 2px,#009aff 4px,#0014ff 10px,#0006ff 11px,#0000fb 14px,#0000df 18px,#0000be 26px,#000086 30px,#000087 38px,#00008e 55px,#000080 80px,#000085 106px,#000080 152px,#000085 179px,#000080 245px,#000082 452px,#000090 456px,#0000a6 458px,#0000de 460px,#0000fe 462px,#0006ff 464px,#0052ff 471px,#004fff 474px,#0040ff 477px,#00d2ff 478px,#9eff59 479px,#9eff59 480px) 476px 0/2px 100%,linear-gradient(#0cf,#00c1ff 2px,#009aff 4px,#0014ff 10px,#0004ff 11px,#0000fb 13px,#0000db 17px,#0000ba 26px,#000085 30px,#000084 37px,#000087 58px,#000081 88px,#000080 190px,#000080 456px,#00008a 457px,#0000db 460px,#0000f9 462px,#0001ff 464px,#004bff 471px,#0049ff 474px,#003cff 477px,#00d2ff 478px,#9eff59 479px,#9eff59 480px) 478px 0/2px 100%,linear-gradient(#0cf,#00c1ff 2px,#009aff 4px,#0014ff 10px,#0004ff 11px,#0000fb 13px,#0000db 16px,#0000b6 26px,#000085 30px,#000082 37px,#000083 62px,#000080 456px,#000089 457px,#0000d7 460px,#00f 463px,#0005ff 465px,#04f 471px,#0040ff 475px,#0037ff 477px,#00d2ff 478px,#9eff59 479px,#9eff59 480px) 480px 0/1px 100%,linear-gradient(#0cf,#00c1ff 2px,#009aff 4px,#0014ff 10px,#0004ff 11px,#0000fb 13px,#0000d7 16px,#0000b4 26px,#000085 30px,#000082 38px,#000080 456px,#000089 457px,#0000d4 460px,#0000fb 463px,#0001ff 465px,#003eff 471px,#003bff 475px,#03f 477px,#00d2ff 478px,#9eff59 479px,#9eff59 480px) 481px 0/1px 100%,linear-gradient(#0cf,#00c1ff 2px,#009aff 4px,#0014ff 10px,#0004ff 11px,#0000fb 13px,#0000d3 16px,#0000b1 26px,#000084 30px,#000082 40px,#000080 456px,#000089 457px,#0000d1 460px,#0000f5 463px,#00f 464px,#0005ff 466px,#0037ff 471px,#0036ff 475px,#002eff 477px,#00d2ff 478px,#9eff59 479px,#9eff59 480px) 482px 0/1px 100%,linear-gradient(#0cf,#00c1ff 2px,#009aff 4px,#0014ff 10px,#0004ff 11px,#0000fb 13px,#0000ca 17px,#0000af 26px,#000084 30px,#000082 45px,#000080 456px,#008 457px,#0000cd 460px,#0000fa 464px,#00f 466px,#0030ff 471px,#0030ff 475px,#002aff 477px,#00d2ff 478px,#9eff59 479px,#9eff59 480px) 483px 0/1px 100%,linear-gradient(#0cf,#00c1ff 2px,#009aff 4px,#0014ff 10px,#0004ff 11px,#0000fb 13px,#0000c6 17px,#0000ac 26px,#000084 30px,#000080 456px,#008 457px,#0000c9 460px,#0000fe 465px,#0002ff 467px,#0029ff 471px,#0029ff 476px,#0025ff 477px,#00d2ff 478px,#9eff59 479px,#9eff59 480px) 484px 0/1px 100%,linear-gradient(#0cf,#00c1ff 2px,#009aff 4px,#0014ff 10px,#0004ff 11px,#0000fb 13px,#0000c1 17px,#0000a2 27px,#000084 30px,#000080 456px,#000087 457px,#0000c5 460px,#0000fe 466px,#0003ff 468px,#0020ff 471px,#02f 476px,#001fff 477px,#00d2ff 478px,#9eff59 479px,#9eff59 480px) 485px 0/2px 100%,linear-gradient(#0cf,#00c1ff 2px,#009aff 4px,#0014ff 10px,#0004ff 11px,#0000fb 13px,#0000d3 16px,#0000bf 17px,#0000b4 19px,#00009e 27px,#000083 30px,#000080 456px,#000087 457px,#0000c1 460px,#00f 467px,#0005ff 469px,#001dff 472px,#001aff 477px,#00d2ff 478px,#9eff59 479px,#9eff59 480px) 487px 0/2px 100%,linear-gradient(#0cf,#00c1ff 2px,#009aff 4px,#0014ff 10px,#0004ff 11px,#0000fb 13px,#0000d3 16px,#0000af 18px,#00009a 27px,#000080 31px,#000080 456px,#000087 457px,#0000c1 460px,#00f 467px,#0005ff 469px,#001dff 472px,#001aff 477px,#00d2ff 478px,#9eff59 479px,#9eff59 480px) 489px 0/2px 100%,linear-gradient(#0cf,#00c1ff 2px,#009aff 4px,#0014ff 10px,#0004ff 11px,#0000fb 13px,#0000d3 16px,#0000a8 18px,#000096 27px,#000080 31px,#000080 456px,#000087 457px,#0000c5 460px,#0000fe 466px,#0003ff 468px,#0020ff 471px,#02f 476px,#001fff 477px,#00d2ff 478px,#9eff59 479px,#9eff59 480px) 491px 0/2px 100%,linear-gradient(#0cf,#00c1ff 2px,#009aff 4px,#0014ff 10px,#0004ff 11px,#0000fb 13px,#0000d3 16px,#0000a7 18px,#000093 27px,#000080 31px,#000080 456px,#008 457px,#0000c9 460px,#0000fe 465px,#0002ff 467px,#0029ff 471px,#0029ff 476px,#0025ff 477px,#00d2ff 478px,#9eff59 479px,#9eff59 480px) 493px 0/1px 100%,linear-gradient(#0cf,#00c1ff 2px,#009aff 4px,#0014ff 10px,#0004ff 11px,#0000fb 13px,#0000d3 16px,#0000a7 18px,#00009c 20px,#000091 27px,#000080 31px,#000080 456px,#008 457px,#0000cd 460px,#0000fa 464px,#00f 466px,#0030ff 471px,#0030ff 475px,#002aff 477px,#00d2ff 478px,#9eff59 479px,#9eff59 480px) 494px 0/1px 100%,linear-gradient(#0cf,#00c1ff 2px,#009aff 4px,#0014ff 10px,#0004ff 11px,#0000fb 13px,#0000d3 16px,#0000a7 18px,#00009a 19px,#00008f 27px,#000080 31px,#000080 456px,#000089 457px,#0000d1 460px,#0000f5 463px,#00f 464px,#0005ff 466px,#0037ff 471px,#0036ff 475px,#002eff 477px,#00d2ff 478px,#9eff59 479px,#9eff59 480px) 495px 0/1px 100%,linear-gradient(#0cf,#00c1ff 2px,#009aff 4px,#0014ff 10px,#0004ff 11px,#0000fb 13px,#0000d3 16px,#0000a7 18px,#000096 19px,#000089 28px,#000080 33px,#000080 456px,#000089 457px,#0000d4 460px,#0000fb 463px,#0001ff 465px,#003eff 471px,#003bff 475px,#03f 477px,#00d2ff 478px,#9eff59 479px,#9eff59 480px) 496px 0/1px 100%,linear-gradient(#0cf,#00c1ff 2px,#009aff 4px,#0014ff 10px,#0004ff 11px,#0000fb 13px,#0000d3 16px,#000091 19px,#000084 29px,#000080 98px,#000080 456px,#000089 457px,#0000d8 460px,#0000f5 462px,#00f 463px,#0007ff 465px,#0047ff 471px,#0042ff 475px,#0038ff 477px,#00d2ff 478px,#9eff59 479px,#9eff59 480px) 497px 0/2px 100%,linear-gradient(#0cf,#00c1ff 2px,#009aff 4px,#0014ff 10px,#0004ff 11px,#0000fb 13px,#0000d3 16px,#00008e 19px,#000080 35px,#000080 456px,#00008a 457px,#00d 460px,#0000fb 462px,#0003ff 464px,#004fff 471px,#004cff 474px,#003eff 477px,#00d2ff 478px,#9eff59 479px,#9eff59 480px) 499px 0/2px 100%,linear-gradient(#0cf,#00c1ff 2px,#009aff 4px,#0014ff 10px,#0004ff 11px,#0000fb 13px,#0000d3 16px,#00008e 19px,#000082 20px,#000080 456px,#00008a 457px,#0000e0 460px,#00f 462px,#0008ff 464px,#05f 471px,#0051ff 474px,#0042ff 477px,#00d2ff 478px,#9eff59 479px,#9eff59 480px) 501px 0/3px 100%,linear-gradient(#0cf,#00c1ff 2px,#009aff 4px,#0014ff 10px,#0004ff 11px,#0000fb 13px,#0000d3 16px,#00008e 19px,#000080 20px,#000080 456px,#00008a 457px,#0000e2 460px,#0000f5 461px,#00f 462px,#00f 463px,#0059ff 471px,#0054ff 474px,#0045ff 477px,#00d2ff 478px,#9eff59 479px,#9eff59 480px) 504px 0/12px 100%,linear-gradient(#0cf,#00c1ff 2px,#009aff 4px,#0014ff 10px,#0004ff 11px,#0000fb 13px,#0000d3 16px,#00008e 19px,#000080 20px,#000080 456px,#00008a 457px,#0000e2 460px,#0000f5 461px,#00f 462px,#00f 463px,#0059ff 471px,#05f 474px,#0045ff 477px,#00d2ff 478px,#9eff59 479px,#9eff59 480px) 516px 0/12px 100%,linear-gradient(#0cf,#00c1ff 2px,#009aff 4px,#0014ff 10px,#0004ff 11px,#0000fb 13px,#0000d3 16px,#00008e 19px,#000080 20px,#000080 456px,#00008a 457px,#0000e2 460px,#0000f5 461px,#00f 462px,#00f 463px,#0059ff 471px,#05f 474px,#0045ff 477px,#00d2ff 478px,#9eff59 479px,#9eff59 480px) 528px 0/12px 100%,linear-gradient(#0cf,#00c1ff 2px,#009aff 4px,#0014ff 10px,#0004ff 11px,#0000fb 13px,#0000d3 16px,#00008e 19px,#000080 20px,#000080 456px,#00008a 457px,#0000e2 460px,#0000f5 461px,#00f 462px,#00f 463px,#0059ff 471px,#05f 474px,#0045ff 477px,#00d2ff 478px,#9eff59 479px,#9eff59 480px) 540px 0/12px 100%,linear-gradient(#0cf,#00c1ff 2px,#009aff 4px,#0014ff 10px,#0004ff 11px,#0000fb 13px,#0000d3 16px,#00008e 19px,#000080 20px,#000080 456px,#00008a 457px,#0000e2 460px,#0000f5 461px,#00f 462px,#00f 463px,#0059ff 471px,#05f 474px,#0045ff 477px,#00d2ff 478px,#9eff59 479px,#9eff59 480px) 552px 0/12px 100%,linear-gradient(#0cf,#00c1ff 2px,#009aff 4px,#0014ff 10px,#0004ff 11px,#0000fb 13px,#0000d3 16px,#00008e 19px,#000080 20px,#000080 456px,#00008a 457px,#0000e2 460px,#0000f5 461px,#00f 462px,#00f 463px,#0059ff 471px,#05f 474px,#0045ff 477px,#00d2ff 478px,#9eff59 479px,#9eff59 480px) 564px 0/12px 100%,linear-gradient(#0cf,#00c1ff 2px,#009aff 4px,#0014ff 10px,#0004ff 11px,#0000fb 13px,#0000d3 16px,#00008e 19px,#000080 20px,#000080 456px,#00008a 457px,#0000e2 460px,#0000f5 461px,#00f 462px,#00f 463px,#0059ff 471px,#05f 474px,#0045ff 477px,#00d2ff 478px,#9eff59 479px,#9eff59 480px) 576px 0/12px 100%,linear-gradient(#0cf,#00c1ff 2px,#009aff 4px,#0014ff 10px,#0004ff 11px,#0000fb 13px,#0000d3 16px,#00008e 19px,#000080 20px,#000080 456px,#00008a 457px,#0000e2 460px,#0000f5 461px,#00f 462px,#00f 463px,#0059ff 471px,#05f 474px,#0045ff 477px,#00d2ff 478px,#9eff59 479px,#9eff59 480px) 588px 0/12px 100%,linear-gradient(#0cf,#00c1ff 2px,#009aff 4px,#0014ff 10px,#0004ff 11px,#0000fb 13px,#0000d3 16px,#00008e 19px,#000080 20px,#000080 456px,#00008a 457px,#0000e2 460px,#0000f5 461px,#00f 462px,#00f 463px,#0059ff 471px,#05f 474px,#0045ff 477px,#00d2ff 478px,#9eff59 479px,#9eff59 480px) 600px 0/12px 100%,linear-gradient(#0cf,#00c1ff 2px,#009aff 4px,#0014ff 10px,#0004ff 11px,#0000fb 13px,#0000d3 16px,#00008e 19px,#000080 20px,#000080 456px,#00008a 457px,#0000e2 460px,#0000f5 461px,#00f 462px,#00f 463px,#0059ff 471px,#05f 474px,#0045ff 477px,#00d2ff 478px,#9eff59 479px,#9eff59 480px) 612px 0/12px 100%,linear-gradient(#0cf,#00c1ff 2px,#009aff 4px,#0014ff 10px,#0004ff 11px,#0000fb 13px,#0000d3 16px,#00008e 19px,#000080 20px,#000080 456px,#00008a 457px,#0000e2 460px,#0000f5 461px,#00f 462px,#00f 463px,#0059ff 471px,#05f 474px,#0045ff 477px,#00d2ff 478px,#9eff59 479px,#9eff59 480px) 624px 0/12px 100%,linear-gradient(#0cf,#00c1ff 2px,#009aff 4px,#0014ff 10px,#0004ff 11px,#0000fb 13px,#0000d3 16px,#00008e 19px,#000080 20px,#000080 456px,#00008a 457px,#0000e2 460px,#0000f5 461px,#00f 462px,#00f 463px,#0059ff 471px,#05f 474px,#0045ff 477px,#00d2ff 478px,#9eff59 479px,#9eff59 480px) 636px 0/12px 100%,linear-gradient(#0cf,#00c1ff 2px,#009aff 4px,#0014ff 10px,#0004ff 11px,#0000fb 13px,#0000d3 16px,#00008e 19px,#000080 20px,#000080 456px,#00008a 457px,#0000e2 460px,#0000f5 461px,#00f 462px,#00f 463px,#0059ff 471px,#05f 474px,#0045ff 477px,#00d2ff 478px,#9eff59 479px,#9eff59 480px) 648px 0/5px 100%,linear-gradient(#0cf,#00c1ff 2px,#009aff 4px,#0014ff 10px,#0004ff 11px,#0000fb 13px,#0000d3 16px,#00008e 19px,#000080 20px,#000080 456px,#00008a 457px,#0000e2 460px,#0000f5 461px,#00f 462px,#00f 463px,#005aff 471px,#0057ff 474px,#0049ff 477px,#00d6ff 478px,#a1ff55 479px,#a1ff55 480px) 653px 0/1px 100%,linear-gradient(#0cf,#00c1ff 2px,#009aff 4px,#0014ff 10px,#0004ff 11px,#0000fb 13px,#0000d3 16px,#00008e 19px,#000080 20px,#000080 456px,#00008a 457px,#0000e2 460px,#0000f5 461px,#00f 462px,#00f 463px,#005aff 471px,#005bff 474px,#0051ff 477px,#00dffc 478px,#a8ff4e 479px,#a8ff4e 480px) 654px 0/1px 100%,linear-gradient(#0cf,#00c1ff 2px,#009aff 4px,#0014ff 10px,#0004ff 11px,#0000fb 13px,#0000d3 16px,#00008e 19px,#000080 20px,#000080 456px,#00008a 457px,#0000e2 460px,#0000f5 461px,#00f 462px,#00f 463px,#005bff 471px,#0060ff 474px,#0059ff 477px,#01e7f5 478px,#afff47 479px,#afff47 480px) 655px 0/1px 100%,linear-gradient(#0cf,#00c1ff 2px,#009aff 4px,#0014ff 10px,#0004ff 11px,#0000fb 13px,#0000d3 16px,#00008e 19px,#000080 20px,#000080 456px,#00008a 457px,#0000e2 460px,#0000f5 461px,#00f 462px,#00f 463px,#005cff 471px,#0064ff 474px,#0061ff 477px,#08f0ee 478px,#b6ff40 479px,#b6ff40 480px) 656px 0/1px 100%,linear-gradient(#0cf,#00c1ff 2px,#009aff 4px,#0014ff 10px,#0004ff 11px,#0000fb 13px,#0000d3 16px,#00008e 19px,#000080 20px,#000080 456px,#00008a 457px,#0000e2 460px,#0000f5 461px,#00f 462px,#00f 463px,#0064ff 472px,#0069ff 477px,#0ff9e7 478px,#bdff39 479px,#bdff39 480px) 657px 0/1px 100%,linear-gradient(#0cf,#00c1ff 2px,#009aff 4px,#0014ff 10px,#0004ff 11px,#0000fb 13px,#0000d3 16px,#00008e 19px,#000080 20px,#000080 456px,#00008a 457px,#0000e2 460px,#0000f5 461px,#00f 462px,#00f 463px,#06f 472px,#0072ff 477px,#16ffe0 478px,#c4ff33 479px,#c4ff33 480px) 658px 0/1px 100%,linear-gradient(#0cf,#00c1ff 2px,#009aff 4px,#0014ff 10px,#0004ff 11px,#0000fb 13px,#0000d3 16px,#00008e 19px,#000080 20px,#000080 456px,#00008a 457px,#0000e2 460px,#0000f5 461px,#00f 462px,#00f 463px,#004eff 470px,#0068ff 472px,#007aff 477px,#1dffd9 478px,#cbff2c 479px,#cbff2c 480px) 659px 0/1px 100%,linear-gradient(#0cf,#00c1ff 2px,#009aff 4px,#0014ff 10px,#0004ff 11px,#0000fb 13px,#0000d3 16px,#00008e 19px,#000080 20px,#000080 456px,#00008a 457px,#0000e2 460px,#0000f5 461px,#00f 462px,#00f 463px,#004eff 470px,#006aff 472px,#0082ff 477px,#24ffd2 478px,#d2ff25 479px,#d2ff25 480px) 660px 0/1px 100%,linear-gradient(#0cf,#00c1ff 2px,#009aff 4px,#0014ff 10px,#0004ff 11px,#0000fb 13px,#0000d3 16px,#00008e 19px,#000080 20px,#000080 456px,#00008a 457px,#0000e2 460px,#0000f5 461px,#00f 462px,#00f 463px,#004eff 470px,#006cff 472px,#008aff 477px,#2bffcb 478px,#d9ff1e 479px,#d9ff1e 480px) 661px 0/1px 100%,linear-gradient(#0cf,#00c1ff 2px,#009aff 4px,#0014ff 10px,#0004ff 11px,#0000fb 13px,#0000d3 16px,#00008e 19px,#000080 20px,#000080 456px,#00008a 457px,#0000e2 460px,#0000f5 461px,#00f 462px,#00f 463px,#004eff 470px,#006eff 472px,#0092ff 477px,#32ffc5 478px,#e0ff17 479px,#e0ff17 480px) 662px 0/1px 100%,linear-gradient(#0cf,#00c1ff 2px,#009aff 4px,#0014ff 10px,#0004ff 11px,#0000fb 13px,#0000d3 16px,#00008e 19px,#000080 20px,#000080 456px,#00008a 457px,#0000e2 460px,#0000f5 461px,#00f 462px,#00f 463px,#004eff 470px,#0070ff 472px,#009aff 477px,#39ffbe 478px,#e7ff10 479px,#e7ff10 480px) 663px 0/1px 100%,linear-gradient(#0cf,#00c1ff 2px,#009aff 4px,#0014ff 10px,#0004ff 11px,#0000fb 13px,#0000d3 16px,#00008e 19px,#000080 20px,#000080 456px,#00008a 457px,#0000e2 460px,#0000f5 461px,#00f 462px,#00f 463px,#004eff 470px,#0072ff 472px,#00a2ff 477px,#40ffb7 478px,#eeff09 479px,#eeff09 480px) 664px 0/1px 100%,linear-gradient(#0cf,#00c1ff 2px,#009aff 4px,#0014ff 10px,#0004ff 11px,#0000fb 13px,#0000d3 16px,#00008e 19px,#000080 20px,#000080 456px,#00008a 457px,#0000e2 460px,#0000f5 461px,#00f 462px,#00f 463px,#004eff 470px,#0074ff 472px,#00abff 477px,#47ffb0 478px,#f5f802 479px,#f5f802 480px) 665px 0/1px 100%,linear-gradient(#0cf,#00c1ff 2px,#009aff 4px,#0014ff 10px,#0004ff 11px,#0000fb 13px,#0000d3 16px,#00008e 19px,#000080 20px,#000080 456px,#00008a 457px,#0000e2 460px,#0000f5 461px,#00f 462px,#00f 463px,#004eff 470px,#0076ff 472px,#00b3ff 477px,#4effa9 478px,#fcf000 479px,#fcf000 480px) 666px 0/1px 100%,linear-gradient(#0cf,#00c1ff 2px,#009aff 4px,#0014ff 10px,#0004ff 11px,#0000fb 13px,#0000d3 16px,#00008e 19px,#000080 20px,#000080 456px,#00008a 457px,#0000e2 460px,#0000f5 461px,#00f 462px,#00f 463px,#004eff 470px,#0078ff 472px,#0bf 477px,#55ffa2 478px,#ffe800 479px,#ffe800 480px) 667px 0/1px 100%,linear-gradient(#0cf,#00c1ff 2px,#009aff 4px,#0014ff 10px,#0004ff 11px,#0000fb 13px,#0000d3 16px,#00008e 19px,#000080 20px,#000080 456px,#00008a 457px,#0000e2 460px,#0000f5 461px,#00f 462px,#00f 463px,#004eff 470px,#007bff 472px,#00c5ff 477px,#5eff99 478px,#ffde00 479px,#ffde00 480px) 668px 0/2px 100%;background-repeat:no-repeat"></div><div class="h" style="left:849.2px;top:625.3px;width:26.4px;height:480.5px;background:linear-gradient(#800000 0.0%,#e80000 9.0%,#ff1300 11.0%,#ffec00 34.0%,#f7f600 35.0%,#efff08 36.0%,#15ffe2 62.5%,#00e5f7 65.0%,#00dbff 66.0%,#00f 87.5%,#00f 89.0%,#000080 100.0%)"></div><div class="h" style="left:849.2px;top:1201.9px;width:26.4px;height:480.0px;background:linear-gradient(#800000 0.0%,#e80000 9.0%,#ff1300 11.0%,#ffec00 34.0%,#f7f600 35.0%,#efff08 36.0%,#15ffe2 62.5%,#00e5f7 65.0%,#00dbff 66.0%,#00f 87.5%,#00f 89.0%,#000080 100.0%)"></div><svg width="1025" height="1825" viewBox="0 0 1025 1825" style="position:absolute;left:0;top:0" font-family="'Liberation Serif','DejaVu Serif',serif" font-size="47">
<clipPath id="ca"><rect x="161.5" y="48.2" width="671.0" height="480.8"/></clipPath>
<g clip-path="url(#ca)">
<rect x="161.5" y="48.2" width="671.0" height="480.8" fill="#bcdeff"/>
<rect x="208.5" y="48.2" width="296.1" height="480.8" fill="#ffc57f"/>
<line x1="209.5" y1="48.2" x2="209.5" y2="529.0" stroke="#dfb27c" stroke-width="3"/>
<line x1="505.1" y1="48.2" x2="505.1" y2="529.0" stroke="#b9c4d4" stroke-width="3"/>
<g stroke="#888" stroke-width="1.6" stroke-dasharray="5.5 3.3" opacity=".9"><line x1="345.2" y1="48.2" x2="345.2" y2="529.0"/><line x1="349.0" y1="48.2" x2="349.0" y2="529.0"/><line x1="373.6" y1="48.2" x2="373.6" y2="529.0"/><line x1="393.7" y1="48.2" x2="393.7" y2="529.0"/><line x1="410.1" y1="48.2" x2="410.1" y2="529.0"/><line x1="599.0" y1="48.2" x2="599.0" y2="529.0"/><line x1="602.9" y1="48.2" x2="602.9" y2="529.0"/><line x1="611.0" y1="48.2" x2="611.0" y2="529.0"/></g>
<polyline points="161.5,408.8 165.4,408.6 169.3,408.4 173.2,408.2 177.1,408.0 181.1,407.7 185.0,407.5 189.0,407.2 193.0,406.8 197.0,406.4 201.1,406.1 205.1,405.8 209.2,405.6 213.5,405.6 217.8,405.6 222.1,405.7 226.4,405.9 230.7,406.1 235.0,406.2 239.1,406.3 243.1,406.4 247.2,406.4 251.2,406.5 255.5,406.5 260.0,406.6 266.1,406.7 272.6,406.8 279.3,406.8 286.1,406.9 293.1,407.0 300.0,407.0 307.6,407.0 315.7,407.1 323.8,407.1 331.7,407.1 338.9,407.1 345.0,407.0 348.0,406.9 350.7,406.8 353.2,406.7 355.5,406.6 357.8,406.4 360.0,406.2 361.8,406.0 363.5,405.8 365.1,405.6 366.7,405.4 368.4,405.1 370.0,404.8 371.7,404.5 373.3,404.2 375.0,403.8 376.7,403.4 378.3,403.0 380.0,402.5 381.9,401.9 383.8,401.3 385.8,400.6 387.7,399.8 389.4,399.0 391.0,398.0 392.2,397.0 393.3,396.0 394.4,394.9 395.3,393.7 396.2,392.4 397.0,391.0 397.9,389.1 398.7,387.1 399.3,384.9 399.9,382.6 400.5,380.3 401.0,378.0 401.5,375.5 402.0,372.9 402.4,370.3 402.8,367.6 403.1,364.8 403.5,362.0 403.9,358.5 404.3,354.9 404.6,351.2 404.9,347.5 405.2,343.7 405.5,340.0 405.8,336.4 406.0,332.8 406.3,329.2 406.5,325.5 406.8,321.8 407.0,318.0 407.2,313.5 407.5,308.8 407.7,304.0 407.9,299.2 408.1,294.5 408.3,290.0 408.4,286.2 408.6,282.5 408.7,278.8 408.8,275.2 408.9,271.6 409.0,268.0 409.5,250.0 408.2,262.0 410.2,236.0 409.0,252.0 410.8,222.0 411.6,204.0 413.0,201.5 414.3,212.0 414.9,236.0 416.6,230.0 415.6,256.0 417.0,250.0 416.6,268.0 417.3,285.0 417.5,289.2 417.7,293.3 417.9,297.4 418.1,301.6 418.3,305.8 418.5,310.0 418.7,314.6 419.0,319.3 419.2,324.1 419.4,328.9 419.7,333.5 420.0,338.0 420.3,341.9 420.6,345.7 420.9,349.4 421.2,353.0 421.6,356.6 422.0,360.0 422.4,362.8 422.7,365.6 423.1,368.3 423.5,370.9 424.0,373.5 424.5,376.0 425.0,378.1 425.5,380.3 426.0,382.3 426.5,384.3 427.2,386.2 428.0,388.0 428.8,389.5 429.7,391.0 430.6,392.4 431.6,393.7 432.7,394.9 434.0,396.0 435.5,397.1 437.2,398.0 439.1,398.9 441.0,399.6 443.0,400.3 445.0,401.0 447.3,401.7 449.7,402.2 452.2,402.7 454.7,403.2 457.3,403.6 460.0,404.0 463.2,404.4 466.4,404.8 469.8,405.1 473.2,405.4 476.6,405.7 480.0,406.0 483.3,406.3 486.4,406.5 489.6,406.7 492.8,406.9 496.3,407.0 500.0,407.2 505.8,407.4 512.1,407.5 518.7,407.7 525.7,407.8 532.8,407.9 540.0,408.0 549.6,408.1 560.6,408.0 571.9,408.0 582.3,408.0 590.7,408.3 596.0,408.8 596.7,409.0 597.2,409.1 597.7,409.2 598.1,409.4 598.4,409.7 598.8,410.0 599.3,410.6 599.8,411.4 600.3,412.2 600.7,413.1 601.1,414.1 601.5,415.0 601.9,415.9 602.2,416.9 602.5,417.9 602.8,418.9 603.2,419.9 603.5,421.0 603.9,422.4 604.3,423.9 604.7,425.4 605.2,426.9 605.7,428.4 606.4,429.9 607.3,431.5 608.4,433.1 609.6,434.6 610.9,436.1 612.2,437.5 613.5,438.7 614.5,439.6 615.6,440.4 616.6,441.1 617.7,441.8 618.8,442.3 620.0,442.8 621.2,443.2 622.5,443.5 623.8,443.8 625.1,444.0 626.4,444.0 627.5,444.0 628.3,443.9 629.1,443.7 629.9,443.5 630.6,443.2 631.3,442.8 632.0,442.4 632.8,441.7 633.5,440.9 634.2,440.0 634.9,439.0 635.6,438.0 636.3,437.0 637.2,435.9 638.1,434.8 639.0,433.6 640.0,432.5 641.0,431.4 642.0,430.5 643.0,429.7 644.0,428.9 645.1,428.2 646.2,427.6 647.3,427.1 648.6,426.6 650.2,426.2 651.9,426.0 653.7,425.9 655.7,425.9 657.7,425.9 660.0,425.9 664.2,425.8 669.1,425.9 674.3,425.9 679.8,426.0 685.3,425.9 690.7,425.7 696.3,425.3 702.0,424.8 707.7,424.1 713.4,423.4 719.2,422.7 725.0,422.0 730.9,421.3 736.9,420.6 742.9,419.8 748.9,419.1 754.9,418.3 761.0,417.6 767.5,416.8 774.0,416.1 780.6,415.3 787.2,414.5 793.7,413.8 800.0,413.0 805.6,412.3 811.1,411.6 816.4,410.9 821.8,410.2 827.1,409.5 832.5,408.8" fill="none" stroke="#e8141c" stroke-width="5.2" stroke-dasharray="17.4 7.5" stroke-linejoin="round"/>
<path d="M410.2 201.5h5.6l0.6 12 -0.4 14 1.2 12 0.8 14 -1.2 9 -1 10h-5.5l-1.2 -9 -1.2 -12 0.6 -12 1 -10z" fill="#e8141c"/>
<polyline points="161.5,303.4 165.4,302.5 169.3,301.6 173.3,300.7 177.2,299.7 181.1,298.7 185.0,297.5 189.0,296.1 193.0,294.5 197.0,292.8 201.0,291.0 205.1,289.3 209.2,287.6 213.7,285.9 218.3,284.1 223.0,282.4 227.7,280.6 232.3,278.8 237.0,277.0 241.7,275.1 246.4,273.3 251.1,271.5 255.8,269.5 260.6,267.3 265.4,264.8 271.2,261.4 277.0,257.6 282.9,253.5 288.9,249.2 294.7,244.7 300.5,240.2 306.7,234.9 313.1,229.0 319.4,222.9 325.5,217.2 331.0,212.2 335.6,208.6 337.4,207.5 339.1,206.6 340.6,205.9 342.0,205.3 343.5,204.7 345.0,204.0 346.0,216.1 346.2,222.2 346.5,228.3 346.7,234.3 347.0,240.0 347.3,244.8 347.6,249.5 348.0,254.0 348.4,258.3 348.8,262.0 349.0,264.2 349.2,266.1 349.5,267.9 349.9,269.6 350.4,271.3 351.1,272.8 352.0,274.3 352.9,275.7 353.9,276.9 355.0,278.0 355.9,278.7 356.8,279.4 357.8,279.9 358.8,280.3 359.8,280.5 360.8,280.4 361.9,280.1 362.9,279.7 364.0,279.1 365.0,278.5 366.1,277.7 367.1,276.9 368.1,275.9 369.2,274.8 370.3,273.7 372.1,272.0 374.0,270.2 376.0,268.2 378.1,266.3 380.0,264.5 381.7,262.9 383.4,261.3 385.0,259.8 386.6,258.5 388.0,257.5 388.8,257.1 389.5,256.8 390.2,256.5 390.8,256.4 391.5,256.5 392.3,256.9 393.0,257.6 393.7,258.4 394.4,259.3 395.0,260.0 395.5,260.6 395.9,261.2 396.3,261.8 396.8,262.2 397.3,262.5 398.0,262.5 398.8,262.3 399.6,262.0 400.4,261.5 401.0,261.0 401.5,260.3 401.9,259.5 402.3,258.6 402.6,257.7 403.0,257.0 403.3,256.6 403.6,256.1 403.9,255.8 404.2,255.5 404.5,255.5 404.9,256.1 405.1,257.3 405.4,258.8 405.6,260.5 405.8,262.0 406.0,263.4 406.1,264.9 406.2,266.4 406.5,267.7 407.0,268.5 407.5,268.8 408.1,268.8 408.7,268.8 409.3,268.8 410.0,268.8 410.8,269.0 411.6,269.1 412.4,269.3 413.3,269.6 414.0,270.0 414.7,270.5 415.3,271.0 415.9,271.6 416.5,272.2 417.0,273.0 417.7,274.4 418.3,276.0 418.8,277.8 419.4,279.5 420.0,281.0 420.5,282.1 421.0,283.1 421.6,284.1 422.2,284.9 423.0,285.6 424.1,286.2 425.5,286.6 426.9,286.8 428.5,287.0 430.0,287.2 431.8,287.4 433.5,287.5 435.4,287.5 437.5,287.6 440.0,287.6 446.4,287.6 454.4,287.6 463.2,287.5 472.0,287.5 480.0,287.6 486.0,287.8 491.9,288.0 497.6,288.3 502.9,288.7 508.0,289.4 511.7,290.1 515.1,290.9 518.4,291.8 521.7,292.9 525.0,294.0 528.6,295.2 532.2,296.5 535.8,298.0 539.5,299.7 543.2,301.7 548.1,304.9 553.1,308.8 558.2,313.0 563.1,317.2 567.8,321.0 571.6,324.0 575.3,326.8 578.9,329.6 582.2,332.3 585.4,335.0 587.8,337.1 590.2,339.2 592.4,341.2 594.3,343.2 596.0,345.0 596.9,346.2 597.6,347.3 598.3,348.3 598.9,349.4 599.6,350.5 600.8,347.2 601.0,345.3 601.3,343.5 601.5,341.7 601.7,339.9 602.0,338.0 602.3,336.0 602.6,333.8 602.8,331.7 603.2,329.6 603.6,327.7 604.0,326.0 604.3,325.0 604.7,324.1 605.1,323.3 605.6,322.6 606.0,321.8 606.4,321.0 606.8,320.2 607.3,319.3 607.7,318.5 608.1,317.7 608.6,316.8 609.0,316.0 609.4,315.0 609.8,314.0 610.2,313.0 610.6,312.0 611.1,311.2 611.7,310.5 612.3,310.1 612.9,309.8 613.6,309.7 614.3,309.5 615.1,309.4 616.0,309.3 617.6,309.1 619.5,309.1 621.6,309.0 623.7,309.0 625.7,308.9 627.5,308.7 628.9,308.4 630.1,308.0 631.4,307.6 632.6,307.2 633.8,306.8 635.0,306.5 636.1,306.3 637.1,306.1 638.1,305.9 639.2,305.7 640.3,305.6 641.6,305.5 644.1,305.5 646.9,305.5 649.9,305.7 653.2,305.9 656.6,306.1 660.0,306.2 664.5,306.3 669.2,306.3 674.1,306.4 679.3,306.4 684.8,306.3 690.7,306.3 700.6,306.2 711.7,306.0 723.5,305.8 735.8,305.5 748.0,305.3 760.0,305.0 772.0,304.7 784.0,304.5 796.1,304.2 808.3,303.9 820.4,303.7 832.5,303.4" fill="none" stroke="#0a0ae0" stroke-width="5.2" stroke-dasharray="30.1 7.5 4.7 7.5"/>
<polyline points="161.5,444.9 164.9,444.8 168.2,444.5 171.6,444.2 175.0,443.6 178.4,442.9 181.7,442.1 185.1,441.1 188.5,439.9 191.8,438.6 195.2,437.1 198.6,435.5 202.0,433.8 205.3,431.9 208.7,429.8 212.1,427.7 215.4,425.3 218.8,422.9 222.2,420.3 225.6,417.6 228.9,414.7 232.3,411.8 235.7,408.7 239.1,405.4 242.4,402.1 245.8,398.7 249.2,395.1 252.5,391.4 255.9,387.7 259.3,383.8 262.7,379.8 266.0,375.8 269.4,371.7 272.8,367.4 276.1,363.1 279.5,358.8 282.9,354.3 286.3,349.8 289.6,345.3 293.0,340.6 296.4,335.9 299.7,331.2 303.1,326.5 306.5,321.7 309.9,316.8 313.2,311.9 316.6,307.1 320.0,302.2 323.3,297.2 326.7,292.3 330.1,287.4 333.5,282.4 336.8,277.5 340.2,272.6 343.6,267.7 347.0,262.8 350.3,258.0 353.7,253.1 357.1,248.4 360.4,243.6 363.8,238.9 367.2,234.3 370.6,229.7 373.9,225.1 377.3,220.6 380.7,216.2 384.0,211.9 387.4,207.6 390.8,203.5 394.2,199.4 397.5,195.4 400.9,191.4 404.3,187.6 407.6,183.9 411.0,180.3 414.4,176.8 417.8,173.4 421.1,170.1 424.5,167.0 427.9,163.9 431.2,161.0 434.6,158.2 438.0,155.6 441.4,153.1 444.7,150.7 448.1,148.4 451.5,146.3 454.9,144.4 458.2,142.5 461.6,140.8 465.0,139.3 468.3,137.9 471.7,136.7 475.1,135.6 478.5,134.7 481.8,133.9 485.2,133.3 488.6,132.8 491.9,132.5 495.3,132.4 498.7,132.4 502.1,132.5 505.4,132.8 508.8,133.3 512.2,133.9 515.5,134.7 518.9,135.6 522.3,136.7 525.7,137.9 529.0,139.3 532.4,140.8 535.8,142.5 539.1,144.4 542.5,146.3 545.9,148.4 549.3,150.7 552.6,153.1 556.0,155.6 559.4,158.2 562.8,161.0 566.1,163.9 569.5,167.0 572.9,170.1 576.2,173.4 579.6,176.8 583.0,180.3 586.4,183.9 589.7,187.6 593.1,191.4 596.5,195.4 599.8,199.4 603.2,203.5 606.6,207.6 610.0,211.9 613.3,216.2 616.7,220.6 620.1,225.1 623.4,229.7 626.8,234.3 630.2,238.9 633.6,243.6 636.9,248.4 640.3,253.1 643.7,258.0 647.0,262.8 650.4,267.7 653.8,272.6 657.2,277.5 660.5,282.4 663.9,287.4 667.3,292.3 670.7,297.2 674.0,302.2 677.4,307.1 680.8,311.9 684.1,316.8 687.5,321.7 690.9,326.5 694.3,331.2 697.6,335.9 701.0,340.6 704.4,345.3 707.7,349.8 711.1,354.3 714.5,358.8 717.9,363.1 721.2,367.4 724.6,371.7 728.0,375.8 731.3,379.8 734.7,383.8 738.1,387.7 741.5,391.4 744.8,395.1 748.2,398.7 751.6,402.1 754.9,405.4 758.3,408.7 761.7,411.8 765.1,414.7 768.4,417.6 771.8,420.3 775.2,422.9 778.6,425.3 781.9,427.7 785.3,429.8 788.7,431.9 792.0,433.8 795.4,435.5 798.8,437.1 802.2,438.6 805.5,439.9 808.9,441.1 812.3,442.1 815.6,442.9 819.0,443.6 822.4,444.2 825.8,444.5 829.1,444.8 832.5,444.9" fill="none" stroke="#000" stroke-width="5.2"/>
<polyline points="161.5,429.2 165.4,429.2 169.3,429.2 173.2,429.2 177.1,429.2 181.1,429.1 185.0,429.0 189.0,428.9 193.1,429.0 197.1,428.9 201.2,428.8 205.2,428.3 209.2,427.5 213.6,426.1 217.9,424.2 222.2,422.0 226.5,419.7 230.8,417.3 235.0,415.0 239.0,412.9 243.0,410.7 246.9,408.5 250.8,406.3 254.6,404.1 258.4,401.8 262.1,399.6 265.7,397.3 269.3,395.0 272.9,392.7 276.5,390.4 280.0,388.0 283.5,385.6 286.9,383.2 290.2,380.8 293.6,378.4 297.0,376.0 300.5,373.7 304.0,371.5 307.6,369.3 311.2,367.2 314.8,365.1 318.4,363.1 322.0,361.0 325.7,358.9 329.6,356.7 333.5,354.5 337.1,352.4 340.3,350.5 342.6,349.0 343.3,348.5 343.8,348.1 344.3,347.7 344.7,347.3 345.1,346.9 345.6,346.5 346.8,325.0 347.0,320.0 347.2,314.9 347.4,309.9 347.6,304.9 347.8,300.0 348.0,295.1 348.1,290.1 348.2,285.0 348.3,280.2 348.6,275.8 349.0,272.0 349.3,270.0 349.7,268.1 350.1,266.3 350.5,264.7 351.0,263.3 351.5,262.0 351.9,261.3 352.2,260.8 352.6,260.3 353.0,259.9 353.5,259.4 354.0,258.8 354.9,257.6 356.0,256.1 357.1,254.6 358.3,253.0 359.6,251.5 361.0,250.2 362.5,249.0 364.2,248.0 366.0,247.0 367.8,246.1 369.7,245.3 371.5,244.4 373.4,243.6 375.4,242.9 377.4,242.2 379.4,241.5 381.3,240.7 383.2,239.7 385.1,238.5 387.0,237.3 388.9,235.9 390.7,234.4 392.3,233.0 393.8,231.5 394.9,230.3 395.8,229.0 396.7,227.6 397.5,226.3 398.2,225.1 399.0,224.0 399.5,223.3 400.1,222.7 400.6,222.1 401.1,221.5 401.5,220.8 402.0,220.0 402.7,218.5 403.3,216.8 403.8,215.0 404.4,213.1 404.9,211.1 405.5,209.3 406.1,207.5 406.6,205.7 407.2,203.9 407.7,202.2 408.3,200.4 409.0,198.7 409.7,197.1 410.5,195.6 411.3,194.1 412.2,192.6 413.0,191.0 413.7,189.5 414.3,187.9 415.0,186.4 415.5,184.8 416.1,183.2 416.6,181.6 417.2,180.0 420.0,176.5 422.7,173.6 425.5,170.8 428.2,168.0 431.0,165.4 433.7,162.8 436.5,160.4 439.3,158.0 442.0,155.8 444.8,153.6 447.5,151.5 450.3,149.5 453.0,147.7 455.8,145.9 458.5,144.2 461.3,142.6 464.1,141.2 466.8,139.8 469.6,138.6 472.3,137.4 475.1,136.4 477.8,135.5 480.6,134.7 483.4,134.0 486.1,133.4 488.9,133.0 491.6,132.6 494.4,132.4 497.1,132.3 502.5,132.4 508.1,132.6 513.6,132.7 519.1,132.9 524.6,133.2 530.0,133.4 535.1,133.7 540.1,134.0 545.1,134.3 550.1,134.6 555.0,135.0 560.0,135.3 565.2,135.7 570.8,136.0 576.3,136.4 581.6,136.8 586.2,137.1 590.0,137.5 591.5,137.6 592.8,137.7 594.0,137.8 595.1,138.0 596.1,138.2 597.0,138.5 597.7,138.8 598.3,139.1 598.9,139.5 599.5,139.9 600.0,140.4 600.5,141.0 601.1,142.1 601.6,143.4 601.9,144.9 602.3,146.6 602.6,148.3 603.0,150.0 603.5,152.4 604.1,155.0 604.6,157.7 605.1,160.5 605.7,163.4 606.4,166.4 607.3,170.3 608.3,174.4 609.3,178.6 610.5,182.9 611.9,187.0 613.5,191.0 615.4,194.6 617.5,198.1 619.7,201.4 622.2,204.8 624.8,208.3 627.5,212.1 631.6,217.8 636.0,223.8 640.8,230.2 645.7,236.8 650.7,243.7 655.6,250.7 661.3,259.5 667.0,268.9 672.8,278.6 678.7,288.4 684.7,297.9 690.7,307.0 696.4,315.0 702.2,322.8 708.1,330.4 714.0,337.8 720.0,345.2 725.9,352.6 731.7,359.9 737.4,367.4 743.1,374.8 748.9,382.0 754.9,388.7 761.0,394.8 766.7,399.8 772.7,404.5 778.9,408.8 784.9,412.8 790.7,416.3 796.1,419.3 799.5,421.0 802.7,422.4 805.8,423.6 808.9,424.7 811.9,425.6 815.0,426.5 817.9,427.3 820.9,427.9 823.8,428.4 826.7,429.0 829.6,429.5 832.5,430.0" fill="none" stroke="#12801a" stroke-width="5.2" stroke-dasharray="4.7 7.8"/>
</g>
<line x1="524" y1="92.8" x2="594.5" y2="92.8" stroke="#e8141c" stroke-width="5.2" stroke-dasharray="17.4 7.5"/>
<line x1="647.5" y1="92.8" x2="724" y2="92.8" stroke="#000" stroke-width="5.2"/>
<line x1="650.5" y1="153.5" x2="722.5" y2="153.5" stroke="#0a0ae0" stroke-width="5.2" stroke-dasharray="30.1 7.5 4.7 7.5"/>
<line x1="651" y1="215.5" x2="720" y2="215.5" stroke="#12801a" stroke-width="5.2" stroke-dasharray="4.7 7.8"/>
<g stroke="#888" stroke-width="1.6" stroke-dasharray="5.5 3.3" opacity=".9"><line x1="345.2" y1="625.3" x2="345.2" y2="1105.8"/><line x1="349.0" y1="625.3" x2="349.0" y2="1105.8"/><line x1="373.6" y1="625.3" x2="373.6" y2="1105.8"/><line x1="393.7" y1="625.3" x2="393.7" y2="1105.8"/><line x1="410.1" y1="625.3" x2="410.1" y2="1105.8"/><line x1="599.0" y1="625.3" x2="599.0" y2="1105.8"/><line x1="602.9" y1="625.3" x2="602.9" y2="1105.8"/><line x1="611.0" y1="625.3" x2="611.0" y2="1105.8"/><line x1="401.7" y1="625.3" x2="401.7" y2="1105.8"/></g>
<g stroke="#888" stroke-width="1.6" stroke-dasharray="5.5 3.3" opacity=".9"><line x1="345.2" y1="1201.9" x2="345.2" y2="1681.9"/><line x1="349.0" y1="1201.9" x2="349.0" y2="1681.9"/><line x1="373.6" y1="1201.9" x2="373.6" y2="1681.9"/><line x1="393.7" y1="1201.9" x2="393.7" y2="1681.9"/><line x1="410.1" y1="1201.9" x2="410.1" y2="1681.9"/><line x1="599.0" y1="1201.9" x2="599.0" y2="1681.9"/><line x1="602.9" y1="1201.9" x2="602.9" y2="1681.9"/><line x1="611.0" y1="1201.9" x2="611.0" y2="1681.9"/><line x1="401.7" y1="1201.9" x2="401.7" y2="1681.9"/></g>
<rect x="161.5" y="48.2" width="671.0" height="480.8" fill="none" stroke="#000" stroke-width="3.5"/>
<rect x="161.5" y="625.3" width="671.0" height="480.5" fill="none" stroke="#000" stroke-width="3.5"/>
<rect x="161.5" y="1201.9" width="671.0" height="480.0" fill="none" stroke="#000" stroke-width="3.5"/>
<rect x="849.2" y="625.3" width="26.4" height="480.5" fill="none" stroke="#000" stroke-width="3.5"/>
<rect x="849.2" y="1201.9" width="26.4" height="480.0" fill="none" stroke="#000" stroke-width="3.5"/>
<path d="M168.2 529.0v15M208.5 529.0v9M248.7 529.0v15M289.0 529.0v9M329.3 529.0v15M369.5 529.0v9M409.8 529.0v15M450.0 529.0v9M490.3 529.0v15M530.6 529.0v9M570.8 529.0v15M611.1 529.0v9M651.3 529.0v15M691.6 529.0v9M731.9 529.0v15M772.1 529.0v9M812.4 529.0v15M168.2 1105.8v15M208.5 1105.8v9M248.7 1105.8v15M289.0 1105.8v9M329.3 1105.8v15M369.5 1105.8v9M409.8 1105.8v15M450.0 1105.8v9M490.3 1105.8v15M530.6 1105.8v9M570.8 1105.8v15M611.1 1105.8v9M651.3 1105.8v15M691.6 1105.8v9M731.9 1105.8v15M772.1 1105.8v9M812.4 1105.8v15M168.2 1681.9v15M208.5 1681.9v9M248.7 1681.9v15M289.0 1681.9v9M329.3 1681.9v15M369.5 1681.9v9M409.8 1681.9v15M450.0 1681.9v9M490.3 1681.9v15M530.6 1681.9v9M570.8 1681.9v15M611.1 1681.9v9M651.3 1681.9v15M691.6 1681.9v9M731.9 1681.9v15M772.1 1681.9v9M812.4 1681.9v15M161.5 529.0h-15M161.5 408.8h-15M161.5 288.6h-15M161.5 168.4h-15M161.5 48.2h-15M161.5 468.9h-8M161.5 348.7h-8M161.5 228.5h-8M161.5 108.3h-8M832.5 529.0h15M832.5 408.8h15M832.5 288.6h15M832.5 168.4h15M832.5 48.2h15M832.5 468.9h8M832.5 348.7h8M832.5 228.5h8M832.5 108.3h8M161.5 1105.8h-15M161.5 945.6h-15M161.5 785.5h-15M161.5 625.3h-15M161.5 1025.7h-8M161.5 865.5h-8M161.5 705.4h-8M161.5 1681.9h-15M161.5 1521.9h-15M161.5 1361.9h-15M161.5 1201.9h-15M161.5 1601.9h-8M161.5 1441.9h-8M161.5 1281.9h-8M875.6 1105.8h15M875.6 945.6h15M875.6 785.5h15M875.6 625.3h15M875.6 1681.9h15M875.6 1551.8h15M875.6 1421.7h15M875.6 1291.7h15" stroke="#000" stroke-width="3.5" fill="none"/>
<g stroke="#fff" stroke-width="0.4"><text x="6.5" y="66.0" font-size="44">(a)</text>
<text x="373.2" y="36.1" text-anchor="middle" fill="#e8782a" font-size="48" textLength="156" lengthAdjust="spacingAndGlyphs">M+/D-</text>
<text x="699.0" y="36.0" text-anchor="middle" fill="#1f46c8" font-size="48" textLength="156" lengthAdjust="spacingAndGlyphs">M-/D+</text>
<text x="127.0" y="63.0" text-anchor="end">2</text>
<text x="127.0" y="183.2" text-anchor="end">1</text>
<text x="127.0" y="303.4" text-anchor="end">0</text>
<text x="127.0" y="427.6" text-anchor="end" textLength="58" lengthAdjust="spacing">−1</text>
<text x="127.0" y="547.8" text-anchor="end" textLength="58" lengthAdjust="spacing">−2</text>
<text x="863.0" y="63.0">30</text>
<text x="863.0" y="183.2">20</text>
<text x="863.0" y="303.4">10</text>
<text x="863.0" y="423.6">0</text>
<text x="863.0" y="547.8" textLength="79" lengthAdjust="spacing">−10</text>
<text x="41.5" y="291.4" text-anchor="middle" font-size="49" transform="rotate(-90 41.5 291.4)">Voltage [kV]</text>
<text x="1007.5" y="292.6" text-anchor="middle" font-size="50" transform="rotate(-90 1007.5 292.6)">Current [mA]</text>
<text x="619.0" y="110.0" font-style="italic" font-size="50" stroke="#bcdeff">I</text>
<text x="742.0" y="110.0" font-style="italic" font-size="48" stroke="#bcdeff">U</text>
<text x="779.0" y="118.0" font-size="34" stroke="#bcdeff">a</text>
<text x="742.0" y="170.8" font-style="italic" font-size="48" stroke="#bcdeff">U</text>
<text x="779.0" y="178.8" font-size="34" stroke="#bcdeff">g</text>
<text x="742.0" y="233.0" font-style="italic" font-size="48" stroke="#bcdeff">U</text>
<text x="779.0" y="241.0" font-size="34" stroke="#bcdeff">m</text>
<text x="127.0" y="640.1" text-anchor="end" textLength="61" lengthAdjust="spacing">1.5</text>
<text x="127.0" y="800.3" text-anchor="end" textLength="61" lengthAdjust="spacing">1.0</text>
<text x="127.0" y="960.4" text-anchor="end" textLength="61" lengthAdjust="spacing">0.5</text>
<text x="127.0" y="1120.6" text-anchor="end" textLength="61" lengthAdjust="spacing">0.0</text>
<text x="47.0" y="625.3" text-anchor="middle" font-size="46" transform="rotate(-90 47.0 625.3)">D</text>
<text x="47.0" y="1105.8" text-anchor="middle" font-size="46" transform="rotate(-90 47.0 1105.8)">M</text>
<text x="44.0" y="869.0" text-anchor="middle" font-size="48" transform="rotate(-90 44.0 869.0)"><tspan font-style="italic">z</tspan> [mm]</text>
<text x="127.0" y="1216.7" text-anchor="end" textLength="61" lengthAdjust="spacing">1.5</text>
<text x="127.0" y="1376.7" text-anchor="end" textLength="61" lengthAdjust="spacing">1.0</text>
<text x="127.0" y="1536.7" text-anchor="end" textLength="61" lengthAdjust="spacing">0.5</text>
<text x="127.0" y="1696.7" text-anchor="end" textLength="61" lengthAdjust="spacing">0.0</text>
<text x="47.0" y="1201.9" text-anchor="middle" font-size="46" transform="rotate(-90 47.0 1201.9)">D</text>
<text x="47.0" y="1681.9" text-anchor="middle" font-size="46" transform="rotate(-90 47.0 1681.9)">M</text>
<text x="44.0" y="1445.4" text-anchor="middle" font-size="48" transform="rotate(-90 44.0 1445.4)"><tspan font-style="italic">z</tspan> [mm]</text>
<text x="907.0" y="640.1">22</text>
<text x="907.0" y="800.3">20</text>
<text x="907.0" y="960.4">18</text>
<text x="907.0" y="1120.6">16</text>
<text x="770.0" y="671.5" font-size="46" stroke="#40ffbc">(b)</text>
<text x="907.0" y="1306.5">3</text>
<text x="907.0" y="1436.5">2</text>
<text x="907.0" y="1566.6">1</text>
<text x="907.0" y="1696.7">0</text>
<text x="771.0" y="1248.0" fill="#fff" font-size="43" stroke="#000080" stroke-width="0.6">(c)</text>
<text x="706" y="600.4" font-size="48" textLength="309" lengthAdjust="spacingAndGlyphs">log<tspan font-size="34" dy="10">10</tspan><tspan dy="-10">(</tspan><tspan font-style="italic">n</tspan><tspan font-size="34" dy="8">e</tspan><tspan dy="-8"> [m</tspan><tspan font-size="34" dy="-20">−3</tspan><tspan dy="20">])</tspan></text>
<text x="692" y="1178.8" font-size="48" textLength="331" lengthAdjust="spacingAndGlyphs">log<tspan font-size="34" dy="10">10</tspan><tspan dy="-10">(</tspan><tspan font-style="italic">E</tspan>/<tspan font-style="italic">N</tspan> [Td])</text>
<text x="167.2" y="1744.9" text-anchor="middle">46</text>
<text x="247.7" y="1744.9" text-anchor="middle">48</text>
<text x="328.3" y="1744.9" text-anchor="middle">50</text>
<text x="408.8" y="1744.9" text-anchor="middle">52</text>
<text x="489.3" y="1744.9" text-anchor="middle">54</text>
<text x="569.8" y="1744.9" text-anchor="middle">56</text>
<text x="650.3" y="1744.9" text-anchor="middle">58</text>
<text x="730.9" y="1744.9" text-anchor="middle">60</text>
<text x="811.4" y="1744.9" text-anchor="middle">62</text>
<text x="493.4" y="1808" font-size="48" text-anchor="middle"><tspan font-style="italic">t</tspan> [μs]</text></g>
</svg></div></body></html>
